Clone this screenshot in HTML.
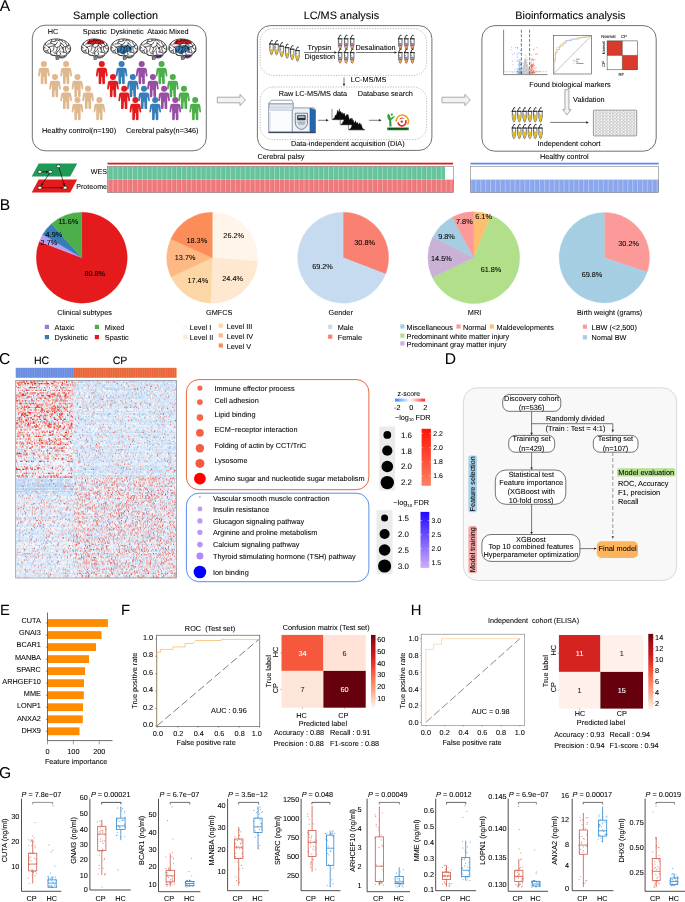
<!DOCTYPE html>
<html><head><meta charset="utf-8"><title>Figure</title>
<style>
html,body{margin:0;padding:0;background:#fff;}
body{width:685px;height:902px;overflow:hidden;}
svg{display:block;}
svg text{font-family:"Liberation Sans",Arial,Helvetica,sans-serif;text-rendering:geometricPrecision;}
</style></head><body>
<svg width="685" height="902" viewBox="0 0 685 902">
<rect x="0" y="0" width="685" height="902" fill="#ffffff"/>
<text x="-0.3" y="10.8" font-size="15.6" fill="#000" stroke="#000" stroke-width="0.05" >A</text>
<text x="115.6" y="19.1" font-size="10.85" text-anchor="middle" fill="#000" stroke="#000" stroke-width="0.072" >Sample collection</text>
<text x="341.4" y="19.1" font-size="10.85" text-anchor="middle" fill="#000" stroke="#000" stroke-width="0.072" >LC/MS analysis</text>
<text x="570.4" y="19.1" font-size="10.85" text-anchor="middle" fill="#000" stroke="#000" stroke-width="0.072" >Bioinformatics analysis</text>
<rect x="32.3" y="25.2" width="174" height="125.6" rx="13" fill="#fff" stroke="#4d4d4d" stroke-width="0.8" />
<rect x="257.4" y="25.6" width="174.5" height="124.8" rx="13" fill="#fff" stroke="#4d4d4d" stroke-width="0.8" />
<rect x="481.9" y="25.6" width="174.3" height="125.6" rx="13" fill="#fff" stroke="#4d4d4d" stroke-width="0.8" />
<path d="M217.3 97.2 L240 97.2 L240 94.3 L245.4 100 L240 105.7 L240 102.8 L217.3 102.8 Z" fill="#f2f2f2" stroke="#8a8a8a" stroke-width="0.7" />
<path d="M442 97.2 L464.9 97.2 L464.9 94.3 L470.3 100 L464.9 105.7 L464.9 102.8 L442 102.8 Z" fill="#f2f2f2" stroke="#8a8a8a" stroke-width="0.7" />
<defs>
<g id="person" transform="translate(0 -0.35) scale(1.06)"><circle cx="0" cy="0" r="2.85"/><path d="M-2.9 3.5 Q-4.6 3.5 -4.8 5.2 L-5.5 10.8 Q-5.6 11.8 -4.7 11.8 Q-4 11.8 -3.9 11 L-3.1 6.8 L-2.95 12 L-2.95 18.2 Q-2.95 19.1 -1.8 19.1 Q-0.6 19.1 -0.5 18.2 L-0.3 12.2 L0.3 12.2 L0.5 18.2 Q0.6 19.1 1.8 19.1 Q2.95 19.1 2.95 18.2 L2.95 12 L3.1 6.8 L3.9 11 Q4 11.8 4.7 11.8 Q5.6 11.8 5.5 10.8 L4.8 5.2 Q4.6 3.5 2.9 3.5 Z"/></g>
<g id="brainbase"><path d="M-13.6 1.5 C-14.2 -4 -9 -8.6 -1.5 -8.8 C6 -9 12.8 -5.5 13.6 0.5 C14 3.6 12 5.8 9.8 6.4 C9.8 8.6 7.4 10.3 4.8 10.3 C3.6 10.3 2.8 9.9 2.2 9.3 L1.8 11.4 L-0.8 11.8 L-1.2 7.8 C-4 8.4 -6.5 7.2 -7.5 5.6 C-10.5 5.8 -13.2 4.4 -13.6 1.5 Z" fill="#fff" stroke="#111" stroke-width="0.7"/></g>
<clipPath id="bclip"><path d="M-13.6 1.5 C-14.2 -4 -9 -8.6 -1.5 -8.8 C6 -9 12.8 -5.5 13.6 0.5 C14 3.6 12 5.8 9.8 6.4 C9.8 8.6 7.4 10.3 4.8 10.3 C3.6 10.3 2.8 9.9 2.2 9.3 L1.8 11.4 L-0.8 11.8 L-1.2 7.8 C-4 8.4 -6.5 7.2 -7.5 5.6 C-10.5 5.8 -13.2 4.4 -13.6 1.5 Z"/></clipPath><g id="brainlines" fill="none" stroke="#111" stroke-width="0.7" clip-path="url(#bclip)"><path d="M-11.9 -10.0Q-14.1 -9.5 -16.3 -8.9M-10.5 -12.3Q-11.6 -9.9 -10.7 -7.5M-10.4 -10.5Q-8.1 -9.1 -5.4 -9.0M-2.2 -9.2Q-4.7 -9.3 -7.1 -8.7M-1.0 -11.9Q-0.1 -10.0 -1.4 -8.2M1.9 -12.3Q1.0 -9.9 2.4 -7.8M5.8 -11.8Q6.0 -9.3 5.8 -6.9M11.5 -8.9Q8.8 -9.7 6.2 -8.9M11.0 -11.3Q11.4 -9.2 13.3 -8.4M-13.5 -8.8Q-13.7 -5.7 -11.6 -3.6M-7.5 -7.6Q-10.2 -8.6 -11.9 -6.3M-4.9 -9.5Q-5.2 -6.8 -6.9 -4.7M-0.5 -7.1Q-2.8 -5.4 -5.5 -6.5M-2.1 -7.6Q0.7 -8.2 3.0 -6.6M2.1 -8.1Q4.9 -7.8 6.3 -5.2M7.1 -9.0Q8.4 -7.3 8.1 -5.1M9.7 -8.4Q12.1 -6.8 12.8 -4.0M14.7 -7.9Q12.3 -6.9 13.1 -4.5M-12.7 -5.4Q-13.9 -3.4 -16.0 -2.6M-10.7 -6.2Q-11.6 -4.3 -11.7 -2.2M-5.3 -4.0Q-7.6 -4.0 -9.8 -3.5M-6.1 -5.3Q-4.2 -3.1 -1.3 -2.8M0.8 -6.1Q-0.3 -3.3 -3.0 -2.1M3.8 -5.3Q4.4 -2.8 2.3 -1.1M3.4 -4.9Q5.8 -3.8 7.1 -1.4M8.3 -5.2Q8.9 -3.1 10.7 -2.0M12.4 -6.6Q11.5 -4.1 11.4 -1.4M-14.1 -1.4Q-12.2 -1.0 -11.2 0.8M-11.0 -2.5Q-9.3 -1.1 -7.3 -0.2M-3.6 -1.9Q-6.4 -1.5 -8.9 -0.0M-3.9 -1.5Q-1.5 -2.3 -0.6 0.1M3.1 -0.8Q1.2 -1.0 -0.5 -0.3M2.6 -2.9Q5.4 -1.3 5.6 1.8M9.9 -1.3Q7.2 -1.2 5.0 0.3M9.9 -2.5Q9.8 0.3 12.2 1.9M16.6 -2.5Q14.3 -1.1 12.3 0.7M-13.2 -0.4Q-12.4 2.3 -14.5 4.3M-8.2 1.8Q-10.4 3.1 -12.9 3.6M-7.6 -0.4Q-5.6 1.9 -6.6 4.8M-3.1 -0.6Q-2.9 1.8 -4.5 3.7M0.4 -0.4Q0.3 2.4 -1.5 4.6M3.0 0.2Q2.9 2.5 0.9 3.6M5.8 -0.4Q6.9 2.2 6.8 4.9M8.7 -0.8Q7.8 2.1 9.9 4.3M13.4 -0.1Q14.1 2.3 12.3 4.0M-10.2 4.3Q-13.1 4.0 -14.6 6.6M-9.7 2.6Q-8.4 4.4 -9.0 6.7M-5.9 3.0Q-7.1 5.2 -5.9 7.3M-3.7 4.5Q-2.2 6.2 -0.1 5.4M0.7 3.2Q-0.8 5.0 -0.2 7.3M3.3 2.8Q2.3 4.7 3.8 6.4M4.7 4.2Q7.1 4.4 9.5 4.9M13.1 3.6Q10.5 4.6 8.6 6.8M12.1 4.0Q13.7 4.9 15.2 5.9M-15.2 5.9Q-14.3 8.0 -12.3 9.1M-9.1 6.5Q-11.4 7.3 -12.3 9.6M-4.4 6.9Q-6.6 8.7 -9.4 7.9M-2.1 7.4Q-4.2 7.8 -6.2 8.7M1.9 7.9Q-0.4 7.7 -2.6 8.7M4.2 6.8Q1.7 7.5 0.1 9.5M8.2 8.2Q5.4 8.2 2.7 8.6M12.0 6.9Q9.6 8.2 6.9 8.4M12.3 5.3Q11.9 7.8 11.5 10.4"/><path d="M2 8.2 C3.4 9.8 5.5 9.8 7.2 8.6 M2.3 9.2 C3.6 10.4 5 10.3 6.2 9.6 M-0.6 8.5 L1.7 8.3 M-0.7 9.6 L1.6 9.4 M-0.8 10.6 L1.6 10.4" stroke-width="0.5"/></g>
<g id="tube"><path d="M-1.7 0 L1.7 0 L1.7 6.2 L0.6 10.2 Q0 11.1 -0.6 10.2 L-1.7 6.2 Z" fill="#fff" stroke="#111" stroke-width="0.6"/><path d="M-2.4 0 L2.4 0" stroke="#111" stroke-width="0.75"/><path d="M-2 0.2 L0.1 -3.7 L1.3 -3.3" fill="none" stroke="#111" stroke-width="0.85" stroke-linejoin="round"/><path d="M-1.7 3 L-0.4 3" stroke="#111" stroke-width="0.4"/></g>
</defs>
<g transform="translate(57 47.7)">
<use href="#brainbase"/>
<use href="#brainlines"/>
</g>
<g transform="translate(95 47.7)">
<use href="#brainbase"/>
<path d="M-8.4 -4.6 C-7.5 -8 -2 -9 1 -8.7 C5 -8.5 9 -7 9.4 -4.8 C9 -3 4.5 -3.6 1 -3.8 C-2.5 -4 -7.6 -2.6 -8.4 -4.6 Z" fill="#e41a1c"/>
<use href="#brainlines"/>
</g>
<g transform="translate(124.3 47.7)">
<use href="#brainbase"/>
<path d="M-7.6 2.4 C-7.8 -0.8 -4 -2.3 -0.6 -2.1 C2.3 -3.2 7.1 -2.5 7.6 0.5 C8 2.8 5.2 4.2 2.9 4.2 C1.2 6.3 -2.9 6.5 -4.8 5.4 C-6.7 4.9 -7.6 4 -7.6 2.4 Z" fill="#377eb8"/>
<use href="#brainlines"/>
</g>
<g transform="translate(153.3 47.7)">
<use href="#brainbase"/>
<path d="M2 7.6 C3.4 6.6 7 6.5 9 7 C9 8.6 7.2 9.8 4.9 9.8 C3.2 9.8 2 8.9 2 7.6 Z" fill="#8e44ad"/>
<use href="#brainlines"/>
</g>
<g transform="translate(182.4 47.7)">
<use href="#brainbase"/>
<path d="M-8.4 -4.6 C-7.5 -8 -2 -9 1 -8.7 C5 -8.5 9 -7 9.4 -4.8 C9 -3 4.5 -3.6 1 -3.8 C-2.5 -4 -7.6 -2.6 -8.4 -4.6 Z" fill="#e41a1c"/>
<path d="M-7.6 2.4 C-7.8 -0.8 -4 -2.3 -0.6 -2.1 C2.3 -3.2 7.1 -2.5 7.6 0.5 C8 2.8 5.2 4.2 2.9 4.2 C1.2 6.3 -2.9 6.5 -4.8 5.4 C-6.7 4.9 -7.6 4 -7.6 2.4 Z" fill="#377eb8"/>
<path d="M2 7.6 C3.4 6.6 7 6.5 9 7 C9 8.6 7.2 9.8 4.9 9.8 C3.2 9.8 2 8.9 2 7.6 Z" fill="#8e44ad"/>
<use href="#brainlines"/>
</g>
<text x="52.9" y="33.9" font-size="7.3" text-anchor="middle" fill="#000" stroke="#000" stroke-width="0.06" >HC</text>
<text x="94.8" y="33.9" font-size="7.3" text-anchor="middle" fill="#000" stroke="#000" stroke-width="0.06" >Spastic</text>
<text x="127" y="33.9" font-size="7.3" text-anchor="middle" fill="#000" stroke="#000" stroke-width="0.06" >Dyskinetic</text>
<text x="157.2" y="33.9" font-size="7.3" text-anchor="middle" fill="#000" stroke="#000" stroke-width="0.06" >Ataxic</text>
<text x="178.8" y="33.9" font-size="7.3" text-anchor="middle" fill="#000" stroke="#000" stroke-width="0.06" >Mixed</text>
<use href="#person" x="43.9" y="64.4" fill="#dfb88f"/>
<use href="#person" x="66.1" y="64.4" fill="#dfb88f"/>
<use href="#person" x="55" y="77.4" fill="#dfb88f"/>
<use href="#person" x="77.5" y="77.4" fill="#dfb88f"/>
<use href="#person" x="66.1" y="89.2" fill="#dfb88f"/>
<use href="#person" x="88" y="89.2" fill="#dfb88f"/>
<use href="#person" x="77.5" y="100.3" fill="#dfb88f"/>
<use href="#person" x="99.4" y="100.3" fill="#dfb88f"/>
<use href="#person" x="101.8" y="64.4" fill="#e41a1c"/>
<use href="#person" x="121.6" y="64.4" fill="#377eb8"/>
<use href="#person" x="141.7" y="64.4" fill="#984ea3"/>
<use href="#person" x="161.6" y="64.4" fill="#4daf4a"/>
<use href="#person" x="113" y="77.4" fill="#e41a1c"/>
<use href="#person" x="132.8" y="77.4" fill="#377eb8"/>
<use href="#person" x="152.9" y="77.4" fill="#984ea3"/>
<use href="#person" x="172.8" y="77.4" fill="#4daf4a"/>
<use href="#person" x="124.2" y="89.2" fill="#e41a1c"/>
<use href="#person" x="144" y="89.2" fill="#377eb8"/>
<use href="#person" x="164.1" y="89.2" fill="#984ea3"/>
<use href="#person" x="184" y="89.2" fill="#4daf4a"/>
<use href="#person" x="135.4" y="100.3" fill="#e41a1c"/>
<use href="#person" x="155.2" y="100.3" fill="#377eb8"/>
<use href="#person" x="175.3" y="100.3" fill="#984ea3"/>
<use href="#person" x="195.2" y="100.3" fill="#4daf4a"/>
<text x="79.1" y="133" font-size="7.3" text-anchor="middle" fill="#000" stroke="#000" stroke-width="0.06" >Healthy control(n=190)</text>
<text x="162.3" y="133" font-size="7.3" text-anchor="middle" fill="#000" stroke="#000" stroke-width="0.06" >Cerebral palsy(n=346)</text>
<rect x="260.2" y="28.6" width="166.4" height="46.8" rx="13" fill="none" stroke="#8c8c8c" stroke-width="0.6" stroke-dasharray="1.2 1.4"/>
<rect x="260.2" y="87" width="166.4" height="52.6" rx="13" fill="none" stroke="#8c8c8c" stroke-width="0.6" stroke-dasharray="1.2 1.4"/>
<g transform="translate(271.5 44)">
<use href="#tube"/>
<path d="M-1.5 5 L1.5 5 L1.5 6.3 L0.5 9.9 Q0 10.6 -0.5 9.9 L-1.5 6.3 Z" fill="#e3bd22"/>
</g>
<g transform="translate(276.6 44.2)">
<use href="#tube"/>
<path d="M-1.5 5 L1.5 5 L1.5 6.3 L0.5 9.9 Q0 10.6 -0.5 9.9 L-1.5 6.3 Z" fill="#e3bd22"/>
</g>
<g transform="translate(281.7 46.2)">
<use href="#tube"/>
<path d="M-1.5 5 L1.5 5 L1.5 6.3 L0.5 9.9 Q0 10.6 -0.5 9.9 L-1.5 6.3 Z" fill="#e3bd22"/>
</g>
<g transform="translate(287.1 47.7)">
<use href="#tube"/>
<path d="M-1.5 5 L1.5 5 L1.5 6.3 L0.5 9.9 Q0 10.6 -0.5 9.9 L-1.5 6.3 Z" fill="#e3bd22"/>
</g>
<g transform="translate(292.2 49.2)">
<use href="#tube"/>
<path d="M-1.5 5 L1.5 5 L1.5 6.3 L0.5 9.9 Q0 10.6 -0.5 9.9 L-1.5 6.3 Z" fill="#e3bd22"/>
</g>
<g transform="translate(297.5 50.6)">
<use href="#tube"/>
<path d="M-1.5 5 L1.5 5 L1.5 6.3 L0.5 9.9 Q0 10.6 -0.5 9.9 L-1.5 6.3 Z" fill="#e3bd22"/>
</g>
<g transform="translate(340.1 38.8)">
<use href="#tube"/>
<path d="M-1.5 4.2 L1.5 4.2 L1.5 5.8 L-1.5 5.8 Z" fill="#27b5a5"/>
<path d="M-1.5 5.8 L1.5 5.8 L1.5 6.4 L1.2 7.6 L-1.2 7.6 L-1.5 6.4 Z" fill="#d63aa0"/>
<path d="M-1.2 7.6 L1.2 7.6 L0.5 9.9 Q0 10.6 -0.5 9.9 Z" fill="#f0a428"/>
</g>
<g transform="translate(346.15 38.8)">
<use href="#tube"/>
<path d="M-1.5 4.2 L1.5 4.2 L1.5 5.8 L-1.5 5.8 Z" fill="#27b5a5"/>
<path d="M-1.5 5.8 L1.5 5.8 L1.5 6.4 L1.2 7.6 L-1.2 7.6 L-1.5 6.4 Z" fill="#d63aa0"/>
<path d="M-1.2 7.6 L1.2 7.6 L0.5 9.9 Q0 10.6 -0.5 9.9 Z" fill="#f0a428"/>
</g>
<g transform="translate(352.2 38.8)">
<use href="#tube"/>
<path d="M-1.5 4.2 L1.5 4.2 L1.5 5.8 L-1.5 5.8 Z" fill="#27b5a5"/>
<path d="M-1.5 5.8 L1.5 5.8 L1.5 6.4 L1.2 7.6 L-1.2 7.6 L-1.5 6.4 Z" fill="#d63aa0"/>
<path d="M-1.2 7.6 L1.2 7.6 L0.5 9.9 Q0 10.6 -0.5 9.9 Z" fill="#f0a428"/>
</g>
<g transform="translate(340.1 52.6)">
<use href="#tube"/>
<path d="M-1.5 4.2 L1.5 4.2 L1.5 5.8 L-1.5 5.8 Z" fill="#27b5a5"/>
<path d="M-1.5 5.8 L1.5 5.8 L1.5 6.4 L1.2 7.6 L-1.2 7.6 L-1.5 6.4 Z" fill="#d63aa0"/>
<path d="M-1.2 7.6 L1.2 7.6 L0.5 9.9 Q0 10.6 -0.5 9.9 Z" fill="#f0a428"/>
</g>
<g transform="translate(346.15 52.6)">
<use href="#tube"/>
<path d="M-1.5 4.2 L1.5 4.2 L1.5 5.8 L-1.5 5.8 Z" fill="#27b5a5"/>
<path d="M-1.5 5.8 L1.5 5.8 L1.5 6.4 L1.2 7.6 L-1.2 7.6 L-1.5 6.4 Z" fill="#d63aa0"/>
<path d="M-1.2 7.6 L1.2 7.6 L0.5 9.9 Q0 10.6 -0.5 9.9 Z" fill="#f0a428"/>
</g>
<g transform="translate(352.2 52.6)">
<use href="#tube"/>
<path d="M-1.5 4.2 L1.5 4.2 L1.5 5.8 L-1.5 5.8 Z" fill="#27b5a5"/>
<path d="M-1.5 5.8 L1.5 5.8 L1.5 6.4 L1.2 7.6 L-1.2 7.6 L-1.5 6.4 Z" fill="#d63aa0"/>
<path d="M-1.2 7.6 L1.2 7.6 L0.5 9.9 Q0 10.6 -0.5 9.9 Z" fill="#f0a428"/>
</g>
<g transform="translate(400.3 38.8)">
<use href="#tube"/>
<path d="M-1.5 4.2 L1.5 4.2 L1.5 5.8 L-1.5 5.8 Z" fill="#27b5a5"/>
<path d="M-1.5 5.8 L1.5 5.8 L1.5 6.4 L1.2 7.6 L-1.2 7.6 L-1.5 6.4 Z" fill="#d63aa0"/>
<path d="M-1.2 7.6 L1.2 7.6 L0.5 9.9 Q0 10.6 -0.5 9.9 Z" fill="#f0a428"/>
</g>
<g transform="translate(406.35 38.8)">
<use href="#tube"/>
<path d="M-1.5 4.2 L1.5 4.2 L1.5 5.8 L-1.5 5.8 Z" fill="#27b5a5"/>
<path d="M-1.5 5.8 L1.5 5.8 L1.5 6.4 L1.2 7.6 L-1.2 7.6 L-1.5 6.4 Z" fill="#d63aa0"/>
<path d="M-1.2 7.6 L1.2 7.6 L0.5 9.9 Q0 10.6 -0.5 9.9 Z" fill="#f0a428"/>
</g>
<g transform="translate(412.4 38.8)">
<use href="#tube"/>
<path d="M-1.5 4.2 L1.5 4.2 L1.5 5.8 L-1.5 5.8 Z" fill="#27b5a5"/>
<path d="M-1.5 5.8 L1.5 5.8 L1.5 6.4 L1.2 7.6 L-1.2 7.6 L-1.5 6.4 Z" fill="#d63aa0"/>
<path d="M-1.2 7.6 L1.2 7.6 L0.5 9.9 Q0 10.6 -0.5 9.9 Z" fill="#f0a428"/>
</g>
<g transform="translate(400.3 52.6)">
<use href="#tube"/>
<path d="M-1.5 4.2 L1.5 4.2 L1.5 5.8 L-1.5 5.8 Z" fill="#27b5a5"/>
<path d="M-1.5 5.8 L1.5 5.8 L1.5 6.4 L1.2 7.6 L-1.2 7.6 L-1.5 6.4 Z" fill="#d63aa0"/>
<path d="M-1.2 7.6 L1.2 7.6 L0.5 9.9 Q0 10.6 -0.5 9.9 Z" fill="#f0a428"/>
</g>
<g transform="translate(406.35 52.6)">
<use href="#tube"/>
<path d="M-1.5 4.2 L1.5 4.2 L1.5 5.8 L-1.5 5.8 Z" fill="#27b5a5"/>
<path d="M-1.5 5.8 L1.5 5.8 L1.5 6.4 L1.2 7.6 L-1.2 7.6 L-1.5 6.4 Z" fill="#d63aa0"/>
<path d="M-1.2 7.6 L1.2 7.6 L0.5 9.9 Q0 10.6 -0.5 9.9 Z" fill="#f0a428"/>
</g>
<g transform="translate(412.4 52.6)">
<use href="#tube"/>
<path d="M-1.5 4.2 L1.5 4.2 L1.5 5.8 L-1.5 5.8 Z" fill="#27b5a5"/>
<path d="M-1.5 5.8 L1.5 5.8 L1.5 6.4 L1.2 7.6 L-1.2 7.6 L-1.5 6.4 Z" fill="#d63aa0"/>
<path d="M-1.2 7.6 L1.2 7.6 L0.5 9.9 Q0 10.6 -0.5 9.9 Z" fill="#f0a428"/>
</g>
<text x="319.4" y="49.6" font-size="7.3" text-anchor="middle" fill="#000" stroke="#000" stroke-width="0.06" >Trypsin</text>
<text x="319.8" y="59.4" font-size="7.3" text-anchor="middle" fill="#000" stroke="#000" stroke-width="0.06" >Digestion</text>
<line x1="304" y1="52.5" x2="335.5" y2="52.5" stroke="#222" stroke-width="0.6" />
<polygon points="337.2,52.5 334.32,51.15 334.32,53.85" fill="#222"/>
<text x="375.6" y="50.2" font-size="7.3" text-anchor="middle" fill="#000" stroke="#000" stroke-width="0.06" >Desalination</text>
<line x1="356" y1="52.5" x2="395.5" y2="52.5" stroke="#222" stroke-width="0.6" />
<polygon points="397,52.5 394.44,51.3 394.44,53.7" fill="#222"/>
<line x1="344" y1="77.5" x2="344" y2="84.5" stroke="#222" stroke-width="0.6" />
<polygon points="344,86.2 342.8,83.64 345.2,83.64" fill="#222"/>
<text x="350.7" y="82.2" font-size="7.3" fill="#000" stroke="#000" stroke-width="0.06" >LC-MS/MS</text>
<text x="312.9" y="95.9" font-size="7.3" text-anchor="middle" fill="#000" stroke="#000" stroke-width="0.06" >Raw LC-MS/MS data</text>
<text x="385.3" y="95.9" font-size="7.3" text-anchor="middle" fill="#000" stroke="#000" stroke-width="0.06" >Database search</text>
<text x="347.8" y="146.2" font-size="7.3" text-anchor="middle" fill="#000" stroke="#000" stroke-width="0.06" >Data-independent acquisition (DIA)</text>
<g>
<path d="M268.6 103.5 L271.5 100.2 L292 100.2 L293.4 103.5 L293.4 132.8 L268.6 132.8 Z" fill="#fbfcfe" stroke="#5b6c80" stroke-width="0.6" />
<path d="M268.6 103.5 L293.4 103.5" fill="none" stroke="#5b6c80" stroke-width="0.5" />
<rect x="269.3" y="104.6" width="23.4" height="3.4" rx="0" fill="#dfe6ef" stroke="#7c8da3" stroke-width="0.4" />
<rect x="269.3" y="109.2" width="23.4" height="1.6" rx="0" fill="#c9d3e0" stroke="none" stroke-width="1" />
<path d="M270 112 L270 131.5 M292.6 112 L292.6 131.5" fill="none" stroke="#9fb0c4" stroke-width="0.5" />
<rect x="268.6" y="131.6" width="24.8" height="1.4" rx="0" fill="#3d4a5c" stroke="none" stroke-width="1" />
<path d="M292.2 110 L294.5 107.9 L314 107.9 L315.3 110 L315.3 132.8 L292.2 132.8 Z" fill="#eef2f7" stroke="#4b5a6e" stroke-width="0.6" />
<path d="M309.9 108 L315.3 110 L315.3 132.8 L309.9 132.8 Z" fill="#2467b0" stroke="#1d4f8a" stroke-width="0.4" />
<path d="M295.3 113.2 L307.5 113.2 L307.5 123 Q307.3 127.8 301.4 129.6 Q295.5 127.8 295.3 123 Z" fill="#dfe5ec" stroke="#39465a" stroke-width="0.6" />
<rect x="297.2" y="115.2" width="8.4" height="5" rx="0.6" fill="#27303d" stroke="none" stroke-width="1" />
<rect x="298.2" y="116.2" width="6.4" height="1.6" rx="0" fill="#c9d3e0" stroke="none" stroke-width="1" />
<path d="M297.6 122.2 L305.2 122.2 M298.2 124 L304.6 124" fill="none" stroke="#39465a" stroke-width="0.5" />
<rect x="292.2" y="131.6" width="23.1" height="1.4" rx="0" fill="#3d4a5c" stroke="none" stroke-width="1" />
</g>
<line x1="318" y1="120.3" x2="327" y2="120.3" stroke="#222" stroke-width="0.6" />
<polygon points="328.8,120.3 326.08,119.025 326.08,121.575" fill="#222"/>
<line x1="369" y1="120.3" x2="379.8" y2="120.3" stroke="#222" stroke-width="0.6" />
<polygon points="381.6,120.3 378.88,119.025 378.88,121.575" fill="#222"/>
<path d="M332 109 L332 119.6 L348.5 119.6" fill="none" stroke="#222" stroke-width="0.5" />
<path d="M332.8 119.6 L332.8 119.0 L333.4 118.5 L334.0 118.4 L334.6 117.6 L335.2 115.6 L335.8 114.9 L336.4 115.0 L336.9 113.3 L337.5 110.2 L338.1 111.1 L338.7 112.6 L339.3 108.7 L339.9 112.5 L340.5 111.2 L341.1 112.2 L341.7 113.4 L342.3 112.3 L342.9 114.6 L343.5 113.2 L344.1 114.8 L344.6 113.1 L345.2 116.3 L345.8 116.9 L346.4 117.9 L347.0 118.8 L347.6 119.4 L348.2 119.5 L348.2 119.6 Z" fill="#0a0a0a" stroke="#0a0a0a" stroke-width="0.3" />
<path d="M340.2 114.1 L340.2 124.7 L356.7 124.7" fill="none" stroke="#222" stroke-width="0.5" />
<path d="M341 124.7 L341.0 124.2 L341.6 123.9 L342.2 123.4 L342.8 122.0 L343.4 121.4 L344.0 119.9 L344.6 119.0 L345.1 118.3 L345.7 115.8 L346.3 115.6 L346.9 114.2 L347.5 114.8 L348.1 114.6 L348.7 117.1 L349.3 118.9 L349.9 119.5 L350.5 118.1 L351.1 119.7 L351.7 118.1 L352.3 118.4 L352.8 120.6 L353.4 120.1 L354.0 122.7 L354.6 122.9 L355.2 123.9 L355.8 124.5 L356.4 124.6 L356.4 124.7 Z" fill="#0a0a0a" stroke="#0a0a0a" stroke-width="0.3" />
<path d="M348.4 119.2 L348.4 129.8 L364.9 129.8" fill="none" stroke="#222" stroke-width="0.5" />
<path d="M349.2 129.8 L349.2 129.2 L349.8 129.1 L350.4 128.5 L351.0 127.9 L351.6 126.2 L352.2 125.1 L352.8 123.1 L353.3 124.4 L353.9 122.2 L354.5 123.1 L355.1 121.9 L355.7 120.6 L356.3 123.2 L356.9 123.1 L357.5 122.3 L358.1 123.4 L358.7 124.7 L359.3 123.6 L359.9 122.7 L360.5 125.3 L361.0 123.8 L361.6 125.4 L362.2 127.4 L362.8 128.6 L363.4 128.9 L364.0 129.5 L364.6 129.7 L364.6 129.8 Z" fill="#0a0a0a" stroke="#0a0a0a" stroke-width="0.3" />
<g>
<path d="M388.6 113.4 C389.8 115 390.6 116.6 390.8 118.4 C392 116.8 393.6 116 395.2 116.2 C394 117.6 392.6 118.8 391.2 120 L391.6 126.6 L389.4 126.6 L389.2 120.6 C388.2 119.4 387.4 117.6 387.2 115.8 Z" fill="#2f9e3a" stroke="none" stroke-width="0.7" />
<circle cx="391.8" cy="114.6" r="1.1" fill="#2f9e3a" stroke="none" stroke-width="0" />
<path d="M396.2 121.8 A6.2 6.2 0 1 1 407.6 124.6" fill="none" stroke="#e8a21a" stroke-width="1.5" />
<path d="M398 122.4 A4 4 0 1 0 405.6 120.2" fill="none" stroke="#d92b1f" stroke-width="1.6" />
<path d="M399.8 119 Q401.6 117 403.6 118.6" fill="none" stroke="#d92b1f" stroke-width="1" />
<circle cx="401.8" cy="121.6" r="1.2" fill="#d92b1f" stroke="none" stroke-width="0" />
<rect x="387.2" y="127.4" width="21.6" height="2.8" rx="0.4" fill="#1d7a2c" stroke="none" stroke-width="1" />
<path d="M389 128.8 L407 128.8" fill="none" stroke="#0c2b12" stroke-width="1.1" stroke-dasharray="1.4 0.5"/>
</g>
<path d="M503.6 29.7 L503.6 74.6 L547.6 74.6" fill="none" stroke="#333" stroke-width="0.6" />
<line x1="503.6" y1="71.7" x2="547.6" y2="71.7" stroke="#9a9a9a" stroke-width="0.5" stroke-dasharray="1.6 1"/>
<path d="M519.5 74 C521.5 73 523 66 524.2 60.5 C525 57 526 57 526.8 60.5 C528 66 529.6 73 531.8 74 Z" fill="#d4d4d4" stroke="none" stroke-width="0.7" />
<path d="M525.8 69.9h.8M529.5 69.1h.8M524.7 74.0h.8M524.7 60.8h.8M525.4 55.4h.8M527.8 69.5h.8M527.4 66.3h.8M522.4 73.3h.8M521.2 70.3h.8M520.7 68.4h.8M524.9 62.2h.8M524.5 66.4h.8M525.2 59.1h.8M526.3 68.4h.8M524.2 64.2h.8M519.1 69.4h.8M521.0 71.2h.8M529.0 63.6h.8M526.5 73.2h.8M524.5 72.3h.8M528.8 68.1h.8M524.8 71.1h.8M522.3 71.5h.8M525.4 65.6h.8M519.5 70.5h.8M522.0 63.7h.8M531.6 70.7h.8M517.8 73.8h.8M530.8 67.4h.8M519.1 71.7h.8M525.0 60.4h.8M523.4 67.7h.8M525.2 59.4h.8M526.6 57.7h.8M530.4 71.7h.8M528.5 73.3h.8M524.0 61.1h.8M530.8 73.9h.8M524.8 63.4h.8M524.9 70.6h.8M532.1 72.2h.8M519.4 68.1h.8M525.0 65.6h.8M526.7 73.9h.8M526.6 66.0h.8M528.6 73.2h.8M531.7 73.0h.8M527.2 59.6h.8M528.0 69.7h.8M523.6 68.4h.8M522.8 68.4h.8M522.1 68.2h.8M529.0 70.8h.8M524.1 64.2h.8M525.7 56.1h.8M528.2 69.0h.8M525.0 69.2h.8M525.4 65.7h.8M529.9 69.2h.8M526.1 73.7h.8M523.0 66.3h.8M522.9 71.2h.8M524.1 73.9h.8M520.5 73.9h.8M521.8 72.6h.8M518.1 73.0h.8M523.2 70.9h.8M524.0 71.3h.8M522.6 71.9h.8M528.7 71.2h.8M525.6 65.9h.8M524.8 63.0h.8M524.7 61.6h.8M527.6 72.3h.8M526.8 64.5h.8M528.7 73.6h.8M524.2 61.6h.8M528.1 70.1h.8M526.7 70.8h.8M524.0 65.8h.8M528.1 72.6h.8M523.2 73.4h.8M523.5 63.4h.8M525.1 60.0h.8M526.5 61.8h.8M527.9 66.8h.8M526.5 73.2h.8M522.7 71.9h.8M526.2 70.4h.8M523.1 70.3h.8" fill="none" stroke="#bdbdbd" stroke-width="0.8" />
<path d="M516.9 47.6h.8M518.6 72.3h.8M510.6 49.7h.8M520.4 43.9h.8M511.3 47.2h.8M516.6 71.5h.8M520.5 59.5h.8M512.7 64.6h.8M519.8 71.4h.8M517.0 73.0h.8M517.8 53.1h.8M518.9 73.1h.8M515.4 47.4h.8M517.0 48.8h.8M516.2 73.2h.8M517.5 56.0h.8M519.0 59.5h.8M517.6 64.4h.8M512.2 61.4h.8M515.6 69.3h.8M520.6 65.8h.8M512.3 54.4h.8M519.0 64.1h.8M518.5 52.8h.8M517.2 47.5h.8M514.2 53.3h.8M520.5 60.8h.8M520.2 50.5h.8M517.5 70.7h.8M519.7 64.3h.8M516.5 54.6h.8M518.5 73.2h.8M518.6 72.6h.8M520.0 73.0h.8M512.6 72.9h.8M519.4 65.1h.8M519.2 69.1h.8M517.4 60.1h.8M517.3 71.9h.8M518.6 69.6h.8M516.9 57.3h.8M516.9 68.4h.8M518.4 68.6h.8M519.4 61.7h.8M519.9 53.5h.8M516.7 61.0h.8M519.5 68.2h.8M520.3 65.2h.8M518.7 68.7h.8M519.7 71.3h.8M518.4 73.0h.8M520.4 69.1h.8M517.9 61.5h.8M519.4 69.8h.8M518.6 71.1h.8M519.2 68.6h.8M518.8 65.8h.8M518.8 62.3h.8M520.3 64.7h.8M518.6 67.2h.8M519.2 73.4h.8M519.6 72.4h.8M520.9 72.8h.8M520.5 72.8h.8M520.2 73.3h.8M520.3 63.0h.8M518.6 65.6h.8M518.7 63.1h.8M518.9 63.7h.8M520.3 73.2h.8M520.8 65.0h.8M519.0 72.7h.8M521.0 73.1h.8M517.0 70.4h.8M518.1 71.3h.8M519.8 72.0h.8M521.0 64.4h.8M518.6 69.5h.8M519.9 70.1h.8M519.7 69.2h.8M519.3 60.9h.8M520.0 69.3h.8M521.0 65.4h.8M520.0 64.4h.8M520.1 68.3h.8M519.2 66.1h.8" fill="none" stroke="#5b8fe8" stroke-width="0.8" stroke-opacity="0.85"/>
<path d="M532.1 73.0h.8M531.7 58.6h.8M534.5 68.1h.8M532.7 59.8h.8M531.5 72.2h.8M533.2 64.3h.8M531.5 60.8h.8M533.0 49.6h.8M532.1 68.8h.8M536.3 54.3h.8M533.0 72.0h.8M531.9 73.2h.8M534.2 72.4h.8M530.8 69.8h.8M533.3 72.7h.8M536.5 47.7h.8M535.7 67.5h.8M531.0 55.1h.8M532.5 67.2h.8M534.9 59.7h.8M532.8 59.2h.8M533.5 49.2h.8M533.1 71.8h.8M530.9 59.8h.8M534.9 54.2h.8M539.3 71.7h.8M531.4 72.3h.8M533.2 60.3h.8M535.7 71.5h.8M537.0 53.7h.8M531.9 59.4h.8M534.2 73.0h.8M536.6 71.0h.8M534.5 69.9h.8M535.6 73.2h.8M533.2 70.3h.8M534.5 72.1h.8M532.1 64.3h.8M534.1 65.5h.8M531.4 72.8h.8M530.6 72.7h.8M533.0 63.1h.8M530.9 62.3h.8M530.7 70.1h.8M530.6 70.9h.8M533.4 66.2h.8M532.2 71.3h.8M533.0 65.1h.8M533.0 68.1h.8M530.9 72.7h.8M532.0 65.6h.8M530.3 66.2h.8M531.3 66.6h.8M530.7 66.8h.8M531.9 66.5h.8M533.8 72.6h.8M531.2 70.5h.8M530.6 65.6h.8M532.2 66.6h.8M531.6 69.1h.8M530.7 73.0h.8M531.3 65.6h.8M530.3 65.3h.8M532.6 70.2h.8M530.4 63.3h.8M532.1 73.2h.8M531.6 64.9h.8M530.2 70.3h.8M531.2 68.0h.8M531.9 64.8h.8M532.4 72.7h.8M533.1 71.2h.8M531.0 64.7h.8M530.7 65.5h.8M530.7 69.6h.8M531.3 65.2h.8M531.5 67.3h.8M533.1 72.4h.8M531.2 68.2h.8M530.9 67.6h.8" fill="none" stroke="#e8553a" stroke-width="0.8" stroke-opacity="0.85"/>
<line x1="521.4" y1="29.7" x2="521.4" y2="74.6" stroke="#222" stroke-width="0.6" stroke-dasharray="3 1.6"/>
<line x1="529.6" y1="29.7" x2="529.6" y2="74.6" stroke="#222" stroke-width="0.6" stroke-dasharray="3 1.6"/>
<rect x="553.4" y="35.6" width="38.1" height="38.4" rx="0" fill="#fff" stroke="#444" stroke-width="0.6" />
<line x1="554" y1="73.4" x2="591" y2="36.2" stroke="#8a8a8a" stroke-width="0.5" />
<path d="M554 73.4 L554 60 L555.5 60 L555.5 53 L557 53 L557 49.5 L559.5 49.5 L559.5 46 L563 46 L563 43 L566 43 L566 40.5 L572 40.5 L572 39 L579 39 L579 37.5 L586 37.5 L586 36.6 L591 36.6" fill="none" stroke="#6a9be0" stroke-width="0.5" />
<path d="M554 73.4 L554 62 L555 62 L555 52 L556.5 52 L556.5 47.5 L560.5 47.5 L560.5 44 L564.5 44 L564.5 41.2 L569 41.2 L569 39.4 L576 39.4 L576 38 L583 38 L583 36.8 L591 36.6" fill="none" stroke="#f2c75c" stroke-width="0.5" />
<line x1="572.5" y1="60.6" x2="575" y2="60.6" stroke="#6a9be0" stroke-width="0.5" />
<line x1="572.5" y1="63" x2="575" y2="63" stroke="#f2c75c" stroke-width="0.5" />
<text x="575.8" y="59.6" font-size="1.9" fill="#555" stroke="#555" stroke-width="0.06" >SVC</text>
<text x="575.8" y="61.6" font-size="1.9" fill="#555" stroke="#555" stroke-width="0.06" >RF</text>
<text x="575.8" y="64" font-size="1.9" fill="#555" stroke="#555" stroke-width="0.06" >XGBoost</text>
<rect x="607.1" y="40.9" width="15.2" height="14.5" rx="0" fill="#d93a2b" stroke="none" stroke-width="1" />
<rect x="622.3" y="55.4" width="15.2" height="14.4" rx="0" fill="#d93a2b" stroke="none" stroke-width="1" />
<rect x="607.1" y="40.9" width="30.4" height="28.9" rx="0" fill="none" stroke="#333" stroke-width="0.5" />
<line x1="622.3" y1="40.9" x2="622.3" y2="69.8" stroke="#333" stroke-width="0.4" />
<line x1="607.1" y1="55.4" x2="637.5" y2="55.4" stroke="#333" stroke-width="0.4" />
<text x="608.3" y="37.5" font-size="4.4" text-anchor="middle" fill="#000" stroke="#000" stroke-width="0.06" >Normal</text>
<text x="624" y="37.5" font-size="4.4" text-anchor="middle" fill="#000" stroke="#000" stroke-width="0.06" >CP</text>
<text x="604.8" y="47.9" font-size="3.9" text-anchor="middle" transform="rotate(-90 604.8 47.9)" fill="#000" stroke="#000" stroke-width="0.06" >Normal</text>
<text x="604.8" y="64.2" font-size="3.9" text-anchor="middle" transform="rotate(-90 604.8 64.2)" fill="#000" stroke="#000" stroke-width="0.06" >CP</text>
<text x="621.3" y="76.2" font-size="4.2" text-anchor="middle" fill="#000" stroke="#000" stroke-width="0.06" >RF</text>
<text x="570" y="86.9" font-size="7.3" text-anchor="middle" fill="#000" stroke="#000" stroke-width="0.06" >Found biological markers</text>
<path d="M564.9 89.7 L568.9 89.7 L568.9 109.6 L570.9 109.6 L566.9 115 L562.8 109.6 L564.9 109.6 Z" fill="#f2f2f2" stroke="#8a8a8a" stroke-width="0.7" />
<text x="573.1" y="102" font-size="7.3" fill="#000" stroke="#000" stroke-width="0.06" >Validation</text>
<g transform="translate(514 111.3)"><use href="#tube"/><path d="M-1.5 3.4 L1.5 3.4 L1.5 6.3 L0.5 9.9 Q0 10.6 -0.5 9.9 L-1.5 6.3 Z" fill="#e3bd22"/></g>
<g transform="translate(519.3 111.3)"><use href="#tube"/><path d="M-1.5 3.4 L1.5 3.4 L1.5 6.3 L0.5 9.9 Q0 10.6 -0.5 9.9 L-1.5 6.3 Z" fill="#e3bd22"/></g>
<g transform="translate(524.6 111.3)"><use href="#tube"/><path d="M-1.5 3.4 L1.5 3.4 L1.5 6.3 L0.5 9.9 Q0 10.6 -0.5 9.9 L-1.5 6.3 Z" fill="#e3bd22"/></g>
<g transform="translate(529.9 111.3)"><use href="#tube"/><path d="M-1.5 3.4 L1.5 3.4 L1.5 6.3 L0.5 9.9 Q0 10.6 -0.5 9.9 L-1.5 6.3 Z" fill="#e3bd22"/></g>
<g transform="translate(535.2 111.3)"><use href="#tube"/><path d="M-1.5 3.4 L1.5 3.4 L1.5 6.3 L0.5 9.9 Q0 10.6 -0.5 9.9 L-1.5 6.3 Z" fill="#e3bd22"/></g>
<g transform="translate(540.5 111.3)"><use href="#tube"/><path d="M-1.5 3.4 L1.5 3.4 L1.5 6.3 L0.5 9.9 Q0 10.6 -0.5 9.9 L-1.5 6.3 Z" fill="#e3bd22"/></g>
<g transform="translate(514 128)"><use href="#tube"/><path d="M-1.5 3.4 L1.5 3.4 L1.5 6.3 L0.5 9.9 Q0 10.6 -0.5 9.9 L-1.5 6.3 Z" fill="#e3bd22"/></g>
<g transform="translate(519.3 128)"><use href="#tube"/><path d="M-1.5 3.4 L1.5 3.4 L1.5 6.3 L0.5 9.9 Q0 10.6 -0.5 9.9 L-1.5 6.3 Z" fill="#e3bd22"/></g>
<g transform="translate(524.6 128)"><use href="#tube"/><path d="M-1.5 3.4 L1.5 3.4 L1.5 6.3 L0.5 9.9 Q0 10.6 -0.5 9.9 L-1.5 6.3 Z" fill="#e3bd22"/></g>
<g transform="translate(529.9 128)"><use href="#tube"/><path d="M-1.5 3.4 L1.5 3.4 L1.5 6.3 L0.5 9.9 Q0 10.6 -0.5 9.9 L-1.5 6.3 Z" fill="#e3bd22"/></g>
<g transform="translate(535.2 128)"><use href="#tube"/><path d="M-1.5 3.4 L1.5 3.4 L1.5 6.3 L0.5 9.9 Q0 10.6 -0.5 9.9 L-1.5 6.3 Z" fill="#e3bd22"/></g>
<g transform="translate(540.5 128)"><use href="#tube"/><path d="M-1.5 3.4 L1.5 3.4 L1.5 6.3 L0.5 9.9 Q0 10.6 -0.5 9.9 L-1.5 6.3 Z" fill="#e3bd22"/></g>
<line x1="550.2" y1="122.4" x2="587" y2="122.4" stroke="#222" stroke-width="0.6" />
<polygon points="588.9,122.4 586.18,121.125 586.18,123.675" fill="#222"/>
<rect x="593.4" y="110.2" width="43.3" height="25.7" rx="0.8" fill="#f3f3f3" stroke="#555" stroke-width="0.6" />
<circle cx="596.2" cy="112.7" r="1.05" fill="#fdfdfd" stroke="#777" stroke-width="0.35" />
<circle cx="599.62" cy="112.7" r="1.05" fill="#fdfdfd" stroke="#777" stroke-width="0.35" />
<circle cx="603.04" cy="112.7" r="1.05" fill="#fdfdfd" stroke="#777" stroke-width="0.35" />
<circle cx="606.46" cy="112.7" r="1.05" fill="#fdfdfd" stroke="#777" stroke-width="0.35" />
<circle cx="609.88" cy="112.7" r="1.05" fill="#fdfdfd" stroke="#777" stroke-width="0.35" />
<circle cx="613.3" cy="112.7" r="1.05" fill="#fdfdfd" stroke="#777" stroke-width="0.35" />
<circle cx="616.72" cy="112.7" r="1.05" fill="#fdfdfd" stroke="#777" stroke-width="0.35" />
<circle cx="620.14" cy="112.7" r="1.05" fill="#fdfdfd" stroke="#777" stroke-width="0.35" />
<circle cx="623.56" cy="112.7" r="1.05" fill="#fdfdfd" stroke="#777" stroke-width="0.35" />
<circle cx="626.98" cy="112.7" r="1.05" fill="#fdfdfd" stroke="#777" stroke-width="0.35" />
<circle cx="630.4" cy="112.7" r="1.05" fill="#fdfdfd" stroke="#777" stroke-width="0.35" />
<circle cx="633.82" cy="112.7" r="1.05" fill="#fdfdfd" stroke="#777" stroke-width="0.35" />
<circle cx="596.2" cy="115.68" r="1.05" fill="#fdfdfd" stroke="#777" stroke-width="0.35" />
<circle cx="599.62" cy="115.68" r="1.05" fill="#fdfdfd" stroke="#777" stroke-width="0.35" />
<circle cx="603.04" cy="115.68" r="1.05" fill="#fdfdfd" stroke="#777" stroke-width="0.35" />
<circle cx="606.46" cy="115.68" r="1.05" fill="#fdfdfd" stroke="#777" stroke-width="0.35" />
<circle cx="609.88" cy="115.68" r="1.05" fill="#fdfdfd" stroke="#777" stroke-width="0.35" />
<circle cx="613.3" cy="115.68" r="1.05" fill="#fdfdfd" stroke="#777" stroke-width="0.35" />
<circle cx="616.72" cy="115.68" r="1.05" fill="#fdfdfd" stroke="#777" stroke-width="0.35" />
<circle cx="620.14" cy="115.68" r="1.05" fill="#fdfdfd" stroke="#777" stroke-width="0.35" />
<circle cx="623.56" cy="115.68" r="1.05" fill="#fdfdfd" stroke="#777" stroke-width="0.35" />
<circle cx="626.98" cy="115.68" r="1.05" fill="#fdfdfd" stroke="#777" stroke-width="0.35" />
<circle cx="630.4" cy="115.68" r="1.05" fill="#fdfdfd" stroke="#777" stroke-width="0.35" />
<circle cx="633.82" cy="115.68" r="1.05" fill="#fdfdfd" stroke="#777" stroke-width="0.35" />
<circle cx="596.2" cy="118.66" r="1.05" fill="#fdfdfd" stroke="#777" stroke-width="0.35" />
<circle cx="599.62" cy="118.66" r="1.05" fill="#fdfdfd" stroke="#777" stroke-width="0.35" />
<circle cx="603.04" cy="118.66" r="1.05" fill="#fdfdfd" stroke="#777" stroke-width="0.35" />
<circle cx="606.46" cy="118.66" r="1.05" fill="#fdfdfd" stroke="#777" stroke-width="0.35" />
<circle cx="609.88" cy="118.66" r="1.05" fill="#fdfdfd" stroke="#777" stroke-width="0.35" />
<circle cx="613.3" cy="118.66" r="1.05" fill="#fdfdfd" stroke="#777" stroke-width="0.35" />
<circle cx="616.72" cy="118.66" r="1.05" fill="#fdfdfd" stroke="#777" stroke-width="0.35" />
<circle cx="620.14" cy="118.66" r="1.05" fill="#fdfdfd" stroke="#777" stroke-width="0.35" />
<circle cx="623.56" cy="118.66" r="1.05" fill="#fdfdfd" stroke="#777" stroke-width="0.35" />
<circle cx="626.98" cy="118.66" r="1.05" fill="#fdfdfd" stroke="#777" stroke-width="0.35" />
<circle cx="630.4" cy="118.66" r="1.05" fill="#fdfdfd" stroke="#777" stroke-width="0.35" />
<circle cx="633.82" cy="118.66" r="1.05" fill="#fdfdfd" stroke="#777" stroke-width="0.35" />
<circle cx="596.2" cy="121.64" r="1.05" fill="#fdfdfd" stroke="#777" stroke-width="0.35" />
<circle cx="599.62" cy="121.64" r="1.05" fill="#fdfdfd" stroke="#777" stroke-width="0.35" />
<circle cx="603.04" cy="121.64" r="1.05" fill="#fdfdfd" stroke="#777" stroke-width="0.35" />
<circle cx="606.46" cy="121.64" r="1.05" fill="#fdfdfd" stroke="#777" stroke-width="0.35" />
<circle cx="609.88" cy="121.64" r="1.05" fill="#fdfdfd" stroke="#777" stroke-width="0.35" />
<circle cx="613.3" cy="121.64" r="1.05" fill="#fdfdfd" stroke="#777" stroke-width="0.35" />
<circle cx="616.72" cy="121.64" r="1.05" fill="#fdfdfd" stroke="#777" stroke-width="0.35" />
<circle cx="620.14" cy="121.64" r="1.05" fill="#fdfdfd" stroke="#777" stroke-width="0.35" />
<circle cx="623.56" cy="121.64" r="1.05" fill="#fdfdfd" stroke="#777" stroke-width="0.35" />
<circle cx="626.98" cy="121.64" r="1.05" fill="#fdfdfd" stroke="#777" stroke-width="0.35" />
<circle cx="630.4" cy="121.64" r="1.05" fill="#fdfdfd" stroke="#777" stroke-width="0.35" />
<circle cx="633.82" cy="121.64" r="1.05" fill="#fdfdfd" stroke="#777" stroke-width="0.35" />
<circle cx="596.2" cy="124.62" r="1.05" fill="#fdfdfd" stroke="#777" stroke-width="0.35" />
<circle cx="599.62" cy="124.62" r="1.05" fill="#fdfdfd" stroke="#777" stroke-width="0.35" />
<circle cx="603.04" cy="124.62" r="1.05" fill="#fdfdfd" stroke="#777" stroke-width="0.35" />
<circle cx="606.46" cy="124.62" r="1.05" fill="#fdfdfd" stroke="#777" stroke-width="0.35" />
<circle cx="609.88" cy="124.62" r="1.05" fill="#fdfdfd" stroke="#777" stroke-width="0.35" />
<circle cx="613.3" cy="124.62" r="1.05" fill="#fdfdfd" stroke="#777" stroke-width="0.35" />
<circle cx="616.72" cy="124.62" r="1.05" fill="#fdfdfd" stroke="#777" stroke-width="0.35" />
<circle cx="620.14" cy="124.62" r="1.05" fill="#fdfdfd" stroke="#777" stroke-width="0.35" />
<circle cx="623.56" cy="124.62" r="1.05" fill="#fdfdfd" stroke="#777" stroke-width="0.35" />
<circle cx="626.98" cy="124.62" r="1.05" fill="#fdfdfd" stroke="#777" stroke-width="0.35" />
<circle cx="630.4" cy="124.62" r="1.05" fill="#fdfdfd" stroke="#777" stroke-width="0.35" />
<circle cx="633.82" cy="124.62" r="1.05" fill="#fdfdfd" stroke="#777" stroke-width="0.35" />
<circle cx="596.2" cy="127.6" r="1.05" fill="#fdfdfd" stroke="#777" stroke-width="0.35" />
<circle cx="599.62" cy="127.6" r="1.05" fill="#fdfdfd" stroke="#777" stroke-width="0.35" />
<circle cx="603.04" cy="127.6" r="1.05" fill="#fdfdfd" stroke="#777" stroke-width="0.35" />
<circle cx="606.46" cy="127.6" r="1.05" fill="#fdfdfd" stroke="#777" stroke-width="0.35" />
<circle cx="609.88" cy="127.6" r="1.05" fill="#fdfdfd" stroke="#777" stroke-width="0.35" />
<circle cx="613.3" cy="127.6" r="1.05" fill="#fdfdfd" stroke="#777" stroke-width="0.35" />
<circle cx="616.72" cy="127.6" r="1.05" fill="#fdfdfd" stroke="#777" stroke-width="0.35" />
<circle cx="620.14" cy="127.6" r="1.05" fill="#fdfdfd" stroke="#777" stroke-width="0.35" />
<circle cx="623.56" cy="127.6" r="1.05" fill="#fdfdfd" stroke="#777" stroke-width="0.35" />
<circle cx="626.98" cy="127.6" r="1.05" fill="#fdfdfd" stroke="#777" stroke-width="0.35" />
<circle cx="630.4" cy="127.6" r="1.05" fill="#fdfdfd" stroke="#777" stroke-width="0.35" />
<circle cx="633.82" cy="127.6" r="1.05" fill="#fdfdfd" stroke="#777" stroke-width="0.35" />
<circle cx="596.2" cy="130.58" r="1.05" fill="#fdfdfd" stroke="#777" stroke-width="0.35" />
<circle cx="599.62" cy="130.58" r="1.05" fill="#fdfdfd" stroke="#777" stroke-width="0.35" />
<circle cx="603.04" cy="130.58" r="1.05" fill="#fdfdfd" stroke="#777" stroke-width="0.35" />
<circle cx="606.46" cy="130.58" r="1.05" fill="#fdfdfd" stroke="#777" stroke-width="0.35" />
<circle cx="609.88" cy="130.58" r="1.05" fill="#fdfdfd" stroke="#777" stroke-width="0.35" />
<circle cx="613.3" cy="130.58" r="1.05" fill="#fdfdfd" stroke="#777" stroke-width="0.35" />
<circle cx="616.72" cy="130.58" r="1.05" fill="#fdfdfd" stroke="#777" stroke-width="0.35" />
<circle cx="620.14" cy="130.58" r="1.05" fill="#fdfdfd" stroke="#777" stroke-width="0.35" />
<circle cx="623.56" cy="130.58" r="1.05" fill="#fdfdfd" stroke="#777" stroke-width="0.35" />
<circle cx="626.98" cy="130.58" r="1.05" fill="#fdfdfd" stroke="#777" stroke-width="0.35" />
<circle cx="630.4" cy="130.58" r="1.05" fill="#fdfdfd" stroke="#777" stroke-width="0.35" />
<circle cx="633.82" cy="130.58" r="1.05" fill="#fdfdfd" stroke="#777" stroke-width="0.35" />
<circle cx="596.2" cy="133.56" r="1.05" fill="#fdfdfd" stroke="#777" stroke-width="0.35" />
<circle cx="599.62" cy="133.56" r="1.05" fill="#fdfdfd" stroke="#777" stroke-width="0.35" />
<circle cx="603.04" cy="133.56" r="1.05" fill="#fdfdfd" stroke="#777" stroke-width="0.35" />
<circle cx="606.46" cy="133.56" r="1.05" fill="#fdfdfd" stroke="#777" stroke-width="0.35" />
<circle cx="609.88" cy="133.56" r="1.05" fill="#fdfdfd" stroke="#777" stroke-width="0.35" />
<circle cx="613.3" cy="133.56" r="1.05" fill="#fdfdfd" stroke="#777" stroke-width="0.35" />
<circle cx="616.72" cy="133.56" r="1.05" fill="#fdfdfd" stroke="#777" stroke-width="0.35" />
<circle cx="620.14" cy="133.56" r="1.05" fill="#fdfdfd" stroke="#777" stroke-width="0.35" />
<circle cx="623.56" cy="133.56" r="1.05" fill="#fdfdfd" stroke="#777" stroke-width="0.35" />
<circle cx="626.98" cy="133.56" r="1.05" fill="#fdfdfd" stroke="#777" stroke-width="0.35" />
<circle cx="630.4" cy="133.56" r="1.05" fill="#fdfdfd" stroke="#777" stroke-width="0.35" />
<circle cx="633.82" cy="133.56" r="1.05" fill="#fdfdfd" stroke="#777" stroke-width="0.35" />
<text x="569" y="146" font-size="7.3" text-anchor="middle" fill="#000" stroke="#000" stroke-width="0.06" >Independent cohort</text>
<polygon points="38.7,163.6 77.2,163.6 70.2,176.5 31.7,176.5" fill="#1d9a55"/>
<polygon points="38.7,179.5 77.2,179.5 70.2,192.4 31.7,192.4" fill="#e41a1c"/>
<line x1="39.9" y1="171.8" x2="48.5" y2="171.8" stroke="#111" stroke-width="0.7" />
<polygon points="48.5,171.8 45.9,172.9 45.9,170.7" fill="#111"/>
<line x1="50.4" y1="171.8" x2="40.947" y2="186.115" stroke="#111" stroke-width="0.7" />
<polygon points="40.947,186.115 41.4619,183.339 43.2977,184.551" fill="#111"/>
<line x1="58.5" y1="166.2" x2="64.5424" y2="185.884" stroke="#111" stroke-width="0.7" />
<polygon points="64.5424,185.884 62.7279,183.721 64.831,183.075" fill="#111"/>
<line x1="39.9" y1="187.7" x2="63.2" y2="187.7" stroke="#111" stroke-width="0.7" />
<polygon points="63.2,187.7 60.6,188.8 60.6,186.6" fill="#111"/>
<ellipse cx="39.9" cy="171.8" rx="2" ry="1.55" fill="#fff" stroke="#111" stroke-width="0.6"/>
<ellipse cx="50.4" cy="171.8" rx="2" ry="1.55" fill="#fff" stroke="#111" stroke-width="0.6"/>
<ellipse cx="58.5" cy="166.2" rx="2" ry="1.55" fill="#fff" stroke="#111" stroke-width="0.6"/>
<ellipse cx="39.9" cy="187.7" rx="2" ry="1.55" fill="#fff" stroke="#111" stroke-width="0.6"/>
<ellipse cx="65.1" cy="187.7" rx="2" ry="1.55" fill="#fff" stroke="#111" stroke-width="0.6"/>
<text x="107" y="174.4" font-size="7.1" text-anchor="end" fill="#000" stroke="#000" stroke-width="0.06" >WES</text>
<text x="107" y="188.6" font-size="7.1" text-anchor="end" fill="#000" stroke="#000" stroke-width="0.06" >Proteome</text>
<text x="281" y="159.3" font-size="7.3" text-anchor="middle" fill="#000" stroke="#000" stroke-width="0.06" >Cerebral palsy</text>
<text x="564.3" y="159.3" font-size="7.3" text-anchor="middle" fill="#000" stroke="#000" stroke-width="0.06" >Healthy control</text>
<rect x="107.5" y="162.7" width="345.6" height="1.8" rx="0" fill="#e41a1c" stroke="none" stroke-width="1" />
<rect x="470.4" y="162.7" width="188.3" height="1.8" rx="0" fill="#5b8def" stroke="none" stroke-width="1" />
<defs>
<pattern id="pg" x="107.5" y="0" width="4.9" height="10" patternUnits="userSpaceOnUse"><rect width="4.9" height="10" fill="#60c298"/><rect x="0" width="1.1" height="10" fill="#98d8bb"/><rect x="2.6" width="0.6" height="10" fill="#78cba7"/></pattern>
<pattern id="pr" x="107.5" y="0" width="4.9" height="10" patternUnits="userSpaceOnUse"><rect width="4.9" height="10" fill="#ee7276"/><rect x="0" width="1.1" height="10" fill="#f5a5a7"/><rect x="2.6" width="0.6" height="10" fill="#f18a8d"/></pattern>
<pattern id="pb" x="470.4" y="0" width="4.9" height="10" patternUnits="userSpaceOnUse"><rect width="4.9" height="10" fill="#86a4eb"/><rect x="0" width="1.1" height="10" fill="#afc3f3"/><rect x="2.6" width="0.6" height="10" fill="#97b0ef"/></pattern>
</defs>
<rect x="107.5" y="166.6" width="337.5" height="13" rx="0" fill="url(#pg)" stroke="none" stroke-width="1" />
<rect x="107.5" y="179.6" width="346" height="12.9" rx="0" fill="url(#pr)" stroke="none" stroke-width="1" />
<rect x="107.5" y="166.6" width="346" height="25.9" rx="0" fill="none" stroke="#666" stroke-width="0.5" />
<rect x="470.4" y="179.6" width="188.3" height="12.9" rx="0" fill="url(#pb)" stroke="none" stroke-width="1" />
<rect x="470.4" y="166.6" width="188.3" height="25.9" rx="0" fill="none" stroke="#666" stroke-width="0.5" />
<text x="-0.3" y="210" font-size="15.6" fill="#000" stroke="#000" stroke-width="0.05" >B</text>
<path d="M81.8 257.7 L81.80 212.20 A45.5 45.5 0 1 1 39.29 241.48 Z" fill="#e41a1c" stroke="#e41a1c" stroke-width="0.3"/>
<path d="M81.8 257.7 L39.29 241.48 A45.5 45.5 0 0 1 42.64 234.54 Z" fill="#b3a0f5" stroke="#b3a0f5" stroke-width="0.3"/>
<path d="M81.8 257.7 L42.64 234.54 A45.5 45.5 0 0 1 51.50 223.76 Z" fill="#377eb8" stroke="#377eb8" stroke-width="0.3"/>
<path d="M81.8 257.7 L51.50 223.76 A45.5 45.5 0 0 1 81.80 212.20 Z" fill="#4daf4a" stroke="#4daf4a" stroke-width="0.3"/>
<path d="M212.3 257.7 L212.30 212.20 A45.5 45.5 0 0 1 257.67 261.13 Z" fill="#fff5eb" stroke="#fff5eb" stroke-width="0.3"/>
<path d="M212.3 257.7 L257.67 261.13 A45.5 45.5 0 0 1 210.59 303.17 Z" fill="#fee8cf" stroke="#fee8cf" stroke-width="0.3"/>
<path d="M212.3 257.7 L210.59 303.17 A45.5 45.5 0 0 1 171.13 277.07 Z" fill="#fdd6a5" stroke="#fdd6a5" stroke-width="0.3"/>
<path d="M212.3 257.7 L171.13 277.07 A45.5 45.5 0 0 1 170.77 239.11 Z" fill="#fdb883" stroke="#fdb883" stroke-width="0.3"/>
<path d="M212.3 257.7 L170.77 239.11 A45.5 45.5 0 0 1 212.30 212.20 Z" fill="#fc8d59" stroke="#fc8d59" stroke-width="0.3"/>
<path d="M343.1 257.7 L343.10 212.20 A45.5 45.5 0 0 1 385.61 273.92 Z" fill="#fa8072" stroke="#fa8072" stroke-width="0.3"/>
<path d="M343.1 257.7 L385.61 273.92 A45.5 45.5 0 1 1 343.10 212.20 Z" fill="#c6dbef" stroke="#c6dbef" stroke-width="0.3"/>
<path d="M473.8 257.7 L473.80 211.80 A45.9 45.9 0 0 1 490.96 215.13 Z" fill="#fdbf6f" stroke="#fdbf6f" stroke-width="0.3"/>
<path d="M473.8 257.7 L490.96 215.13 A45.9 45.9 0 1 1 432.39 277.50 Z" fill="#b2df8a" stroke="#b2df8a" stroke-width="0.3"/>
<path d="M473.8 257.7 L432.39 277.50 A45.9 45.9 0 0 1 432.77 237.12 Z" fill="#cab2d6" stroke="#cab2d6" stroke-width="0.3"/>
<path d="M473.8 257.7 L432.77 237.12 A45.9 45.9 0 0 1 452.19 217.20 Z" fill="#a6cee3" stroke="#a6cee3" stroke-width="0.3"/>
<path d="M473.8 257.7 L452.19 217.20 A45.9 45.9 0 0 1 473.80 211.80 Z" fill="#fb9a99" stroke="#fb9a99" stroke-width="0.3"/>
<path d="M604.3 257.7 L604.30 212.50 A45.2 45.2 0 0 1 647.11 272.21 Z" fill="#fb9a99" stroke="#fb9a99" stroke-width="0.3"/>
<path d="M604.3 257.7 L647.11 272.21 A45.2 45.2 0 1 1 604.30 212.50 Z" fill="#a6cee3" stroke="#a6cee3" stroke-width="0.3"/>
<text x="68.25" y="224" font-size="7.3" text-anchor="middle" fill="#000" stroke="#000" stroke-width="0.06" >11.6%</text>
<text x="53.9" y="237.2" font-size="7.3" text-anchor="middle" fill="#000" stroke="#000" stroke-width="0.06" >4.9%</text>
<text x="48.9" y="244.9" font-size="7.3" text-anchor="middle" fill="#000" stroke="#000" stroke-width="0.06" >2.7%</text>
<text x="94.75" y="275.7" font-size="7.3" text-anchor="middle" fill="#000" stroke="#000" stroke-width="0.06" >80.8%</text>
<text x="233.7" y="238.4" font-size="7.3" text-anchor="middle" fill="#000" stroke="#000" stroke-width="0.06" >26.2%</text>
<text x="232.65" y="280.6" font-size="7.3" text-anchor="middle" fill="#000" stroke="#000" stroke-width="0.06" >24.4%</text>
<text x="197.8" y="282.5" font-size="7.3" text-anchor="middle" fill="#000" stroke="#000" stroke-width="0.06" >17.4%</text>
<text x="185.15" y="259.7" font-size="7.3" text-anchor="middle" fill="#000" stroke="#000" stroke-width="0.06" >13.7%</text>
<text x="196.8" y="242.8" font-size="7.3" text-anchor="middle" fill="#000" stroke="#000" stroke-width="0.06" >18.3%</text>
<text x="364.6" y="244.9" font-size="7.3" text-anchor="middle" fill="#000" stroke="#000" stroke-width="0.06" >30.8%</text>
<text x="322.5" y="269" font-size="7.3" text-anchor="middle" fill="#000" stroke="#000" stroke-width="0.06" >69.2%</text>
<text x="483.6" y="219" font-size="7.3" text-anchor="middle" fill="#000" stroke="#000" stroke-width="0.06" >6.1%</text>
<text x="464.35" y="223.5" font-size="7.3" text-anchor="middle" fill="#000" stroke="#000" stroke-width="0.06" >7.8%</text>
<text x="446.55" y="239.2" font-size="7.3" text-anchor="middle" fill="#000" stroke="#000" stroke-width="0.06" >9.8%</text>
<text x="441.35" y="261.1" font-size="7.3" text-anchor="middle" fill="#000" stroke="#000" stroke-width="0.06" >14.5%</text>
<text x="491" y="272" font-size="7.3" text-anchor="middle" fill="#000" stroke="#000" stroke-width="0.06" >61.8%</text>
<text x="628.6" y="245.5" font-size="7.3" text-anchor="middle" fill="#000" stroke="#000" stroke-width="0.06" >30.2%</text>
<text x="592" y="276.5" font-size="7.3" text-anchor="middle" fill="#000" stroke="#000" stroke-width="0.06" >69.8%</text>
<text x="84.65" y="315.2" font-size="7.3" text-anchor="middle" fill="#000" stroke="#000" stroke-width="0.06" >Clinical subtypes</text>
<text x="219.3" y="315.4" font-size="7.3" text-anchor="middle" fill="#000" stroke="#000" stroke-width="0.06" >GMFCS</text>
<text x="340.65" y="315.4" font-size="7.3" text-anchor="middle" fill="#000" stroke="#000" stroke-width="0.06" >Gender</text>
<text x="474.5" y="315.3" font-size="7.3" text-anchor="middle" fill="#000" stroke="#000" stroke-width="0.06" >MRI</text>
<text x="609.6" y="314.9" font-size="7.3" text-anchor="middle" fill="#000" stroke="#000" stroke-width="0.06" >Birth weight (grams)</text>
<rect x="44.8" y="324.8" width="4.2" height="4.2" rx="0" fill="#a377dd" stroke="none" stroke-width="1" />
<text x="54.6" y="330" font-size="7.3" fill="#000" stroke="#000" stroke-width="0.06" >Ataxic</text>
<rect x="44.8" y="335" width="4.2" height="4.2" rx="0" fill="#377eb8" stroke="none" stroke-width="1" />
<text x="54.6" y="340.2" font-size="7.3" fill="#000" stroke="#000" stroke-width="0.06" >Dyskinetic</text>
<rect x="94.8" y="324.8" width="4.2" height="4.2" rx="0" fill="#4daf4a" stroke="none" stroke-width="1" />
<text x="104.8" y="330" font-size="7.3" fill="#000" stroke="#000" stroke-width="0.06" >Mixed</text>
<rect x="94.8" y="335" width="4.2" height="4.2" rx="0" fill="#e41a1c" stroke="none" stroke-width="1" />
<text x="104.8" y="340.2" font-size="7.3" fill="#000" stroke="#000" stroke-width="0.06" >Spastic</text>
<rect x="183.3" y="324.9" width="4.2" height="4.2" rx="0" fill="#fff5eb" stroke="none" stroke-width="1" />
<text x="189.7" y="330.1" font-size="7.3" fill="#000" stroke="#000" stroke-width="0.06" >Level I</text>
<rect x="183.3" y="334.8" width="4.2" height="4.2" rx="0" fill="#fee8cf" stroke="none" stroke-width="1" />
<text x="189.7" y="340" font-size="7.3" fill="#000" stroke="#000" stroke-width="0.06" >Level II</text>
<rect x="218.7" y="323.5" width="4.2" height="4.2" rx="0" fill="#fdd6a5" stroke="none" stroke-width="1" />
<text x="226.7" y="328.7" font-size="7.3" fill="#000" stroke="#000" stroke-width="0.06" >Level III</text>
<rect x="218.7" y="333.3" width="4.2" height="4.2" rx="0" fill="#fdb883" stroke="none" stroke-width="1" />
<text x="226.7" y="338.5" font-size="7.3" fill="#000" stroke="#000" stroke-width="0.06" >Level IV</text>
<rect x="218.7" y="343.4" width="4.2" height="4.2" rx="0" fill="#fc8d59" stroke="none" stroke-width="1" />
<text x="226.7" y="348.6" font-size="7.3" fill="#000" stroke="#000" stroke-width="0.06" >Level V</text>
<rect x="328.1" y="324.8" width="4.2" height="4.2" rx="0" fill="#c6dbef" stroke="none" stroke-width="1" />
<text x="337.7" y="330" font-size="7.3" fill="#000" stroke="#000" stroke-width="0.06" >Male</text>
<rect x="328.1" y="334.6" width="4.2" height="4.2" rx="0" fill="#fa8072" stroke="none" stroke-width="1" />
<text x="337.7" y="339.8" font-size="7.3" fill="#000" stroke="#000" stroke-width="0.06" >Female</text>
<rect x="400.3" y="324.4" width="4.2" height="4.2" rx="0" fill="#a6cee3" stroke="none" stroke-width="1" />
<text x="406.6" y="329.6" font-size="7.3" fill="#000" stroke="#000" stroke-width="0.06" >Miscellaneous</text>
<rect x="456.4" y="324.4" width="4.2" height="4.2" rx="0" fill="#fb9a99" stroke="none" stroke-width="1" />
<text x="462.9" y="329.6" font-size="7.3" fill="#000" stroke="#000" stroke-width="0.06" >Normal</text>
<rect x="489.7" y="324.4" width="4.2" height="4.2" rx="0" fill="#fdbf6f" stroke="none" stroke-width="1" />
<text x="496.6" y="329.6" font-size="7.3" fill="#000" stroke="#000" stroke-width="0.06" >Maldevelopments</text>
<rect x="400.3" y="333.5" width="4.2" height="4.2" rx="0" fill="#b2df8a" stroke="none" stroke-width="1" />
<text x="406.6" y="338.7" font-size="7.3" fill="#000" stroke="#000" stroke-width="0.06" >Predominant white matter injury</text>
<rect x="400.3" y="341.3" width="4.2" height="4.2" rx="0" fill="#cab2d6" stroke="none" stroke-width="1" />
<text x="406.6" y="346.5" font-size="7.3" fill="#000" stroke="#000" stroke-width="0.06" >Predominant gray matter injury</text>
<rect x="582.8" y="324.6" width="4.2" height="4.2" rx="0" fill="#fb9a99" stroke="none" stroke-width="1" />
<text x="591.6" y="329.8" font-size="7.3" fill="#000" stroke="#000" stroke-width="0.06" >LBW (&lt;2,500)</text>
<rect x="582.8" y="335.2" width="4.2" height="4.2" rx="0" fill="#a6cee3" stroke="none" stroke-width="1" />
<text x="591.6" y="340.4" font-size="7.3" fill="#000" stroke="#000" stroke-width="0.06" >Nomal BW</text>
<text x="-0.9" y="364.2" font-size="15.6" fill="#000" stroke="#000" stroke-width="0.05" >C</text>
<text x="41.6" y="363.6" font-size="10.6" text-anchor="middle" fill="#000" stroke="#000" stroke-width="0.072" >HC</text>
<text x="120" y="363.6" font-size="10.6" text-anchor="middle" fill="#000" stroke="#000" stroke-width="0.072" >CP</text>
<defs><pattern id="phc" x="15.7" y="0" width="2.3" height="10" patternUnits="userSpaceOnUse"><rect width="2.3" height="10" fill="#6a8de3"/><rect width="0.7" height="10" fill="#7b9ae8"/></pattern><pattern id="pcp" x="73" y="0" width="2.3" height="10" patternUnits="userSpaceOnUse"><rect width="2.3" height="10" fill="#e8683a"/><rect width="0.7" height="10" fill="#ec7a4e"/></pattern></defs>
<rect x="15.7" y="367.8" width="57.3" height="10" rx="0" fill="url(#phc)" stroke="none" stroke-width="1" />
<rect x="73" y="367.8" width="103.6" height="10" rx="0" fill="url(#pcp)" stroke="none" stroke-width="1" />
<g shape-rendering="crispEdges">
<rect x="15.7" y="380.4" width="57.3" height="1.37" rx="0" fill="#e7f0fb" stroke="none" stroke-width="1" />
<rect x="73" y="380.4" width="103.6" height="1.37" rx="0" fill="#d4e6f8" stroke="none" stroke-width="1" />
<rect x="15.7" y="381.72" width="57.3" height="1.37" rx="0" fill="#f2f7fd" stroke="none" stroke-width="1" />
<rect x="73" y="381.72" width="103.6" height="1.37" rx="0" fill="#d0e4f7" stroke="none" stroke-width="1" />
<rect x="15.7" y="383.03" width="57.3" height="1.37" rx="0" fill="#eef5fc" stroke="none" stroke-width="1" />
<rect x="73" y="383.03" width="103.6" height="1.37" rx="0" fill="#dfecfa" stroke="none" stroke-width="1" />
<rect x="15.7" y="384.35" width="57.3" height="1.37" rx="0" fill="#eff5fc" stroke="none" stroke-width="1" />
<rect x="73" y="384.35" width="103.6" height="1.37" rx="0" fill="#d4e6f8" stroke="none" stroke-width="1" />
<rect x="15.7" y="385.67" width="57.3" height="1.37" rx="0" fill="#f2f7fd" stroke="none" stroke-width="1" />
<rect x="73" y="385.67" width="103.6" height="1.37" rx="0" fill="#dbeaf9" stroke="none" stroke-width="1" />
<rect x="15.7" y="386.99" width="57.3" height="1.37" rx="0" fill="#e6f0fb" stroke="none" stroke-width="1" />
<rect x="73" y="386.99" width="103.6" height="1.37" rx="0" fill="#d8e8f9" stroke="none" stroke-width="1" />
<rect x="15.7" y="388.3" width="57.3" height="1.37" rx="0" fill="#ebf3fc" stroke="none" stroke-width="1" />
<rect x="73" y="388.3" width="103.6" height="1.37" rx="0" fill="#d1e4f8" stroke="none" stroke-width="1" />
<rect x="15.7" y="389.62" width="57.3" height="1.37" rx="0" fill="#e2eefa" stroke="none" stroke-width="1" />
<rect x="73" y="389.62" width="103.6" height="1.37" rx="0" fill="#e0edfa" stroke="none" stroke-width="1" />
<rect x="15.7" y="390.94" width="57.3" height="1.37" rx="0" fill="#eef4fc" stroke="none" stroke-width="1" />
<rect x="73" y="390.94" width="103.6" height="1.37" rx="0" fill="#e4effb" stroke="none" stroke-width="1" />
<rect x="15.7" y="392.26" width="57.3" height="1.37" rx="0" fill="#deecfa" stroke="none" stroke-width="1" />
<rect x="73" y="392.26" width="103.6" height="1.37" rx="0" fill="#e1edfa" stroke="none" stroke-width="1" />
<rect x="15.7" y="393.57" width="57.3" height="1.37" rx="0" fill="#f3f7fd" stroke="none" stroke-width="1" />
<rect x="73" y="393.57" width="103.6" height="1.37" rx="0" fill="#d5e7f8" stroke="none" stroke-width="1" />
<rect x="15.7" y="394.89" width="57.3" height="1.37" rx="0" fill="#e7f1fb" stroke="none" stroke-width="1" />
<rect x="73" y="394.89" width="103.6" height="1.37" rx="0" fill="#d4e6f8" stroke="none" stroke-width="1" />
<rect x="15.7" y="396.21" width="57.3" height="1.37" rx="0" fill="#e3effa" stroke="none" stroke-width="1" />
<rect x="73" y="396.21" width="103.6" height="1.37" rx="0" fill="#d6e7f8" stroke="none" stroke-width="1" />
<rect x="15.7" y="397.53" width="57.3" height="1.37" rx="0" fill="#e1edfa" stroke="none" stroke-width="1" />
<rect x="73" y="397.53" width="103.6" height="1.37" rx="0" fill="#d3e5f8" stroke="none" stroke-width="1" />
<rect x="15.7" y="398.84" width="57.3" height="1.37" rx="0" fill="#f5f8fd" stroke="none" stroke-width="1" />
<rect x="73" y="398.84" width="103.6" height="1.37" rx="0" fill="#dcebf9" stroke="none" stroke-width="1" />
<rect x="15.7" y="400.16" width="57.3" height="1.37" rx="0" fill="#e0edfa" stroke="none" stroke-width="1" />
<rect x="73" y="400.16" width="103.6" height="1.37" rx="0" fill="#deecfa" stroke="none" stroke-width="1" />
<rect x="15.7" y="401.48" width="57.3" height="1.37" rx="0" fill="#eff5fc" stroke="none" stroke-width="1" />
<rect x="73" y="401.48" width="103.6" height="1.37" rx="0" fill="#dae9f9" stroke="none" stroke-width="1" />
<rect x="15.7" y="402.79" width="57.3" height="1.37" rx="0" fill="#e0edfa" stroke="none" stroke-width="1" />
<rect x="73" y="402.79" width="103.6" height="1.37" rx="0" fill="#d3e6f8" stroke="none" stroke-width="1" />
<rect x="15.7" y="404.11" width="57.3" height="1.37" rx="0" fill="#ebf3fc" stroke="none" stroke-width="1" />
<rect x="73" y="404.11" width="103.6" height="1.37" rx="0" fill="#ddebf9" stroke="none" stroke-width="1" />
<rect x="15.7" y="405.43" width="57.3" height="1.37" rx="0" fill="#ecf3fc" stroke="none" stroke-width="1" />
<rect x="73" y="405.43" width="103.6" height="1.37" rx="0" fill="#d4e6f8" stroke="none" stroke-width="1" />
<rect x="15.7" y="406.75" width="57.3" height="1.37" rx="0" fill="#e6f0fb" stroke="none" stroke-width="1" />
<rect x="73" y="406.75" width="103.6" height="1.37" rx="0" fill="#dae9f9" stroke="none" stroke-width="1" />
<rect x="15.7" y="408.06" width="57.3" height="1.37" rx="0" fill="#e9f1fb" stroke="none" stroke-width="1" />
<rect x="73" y="408.06" width="103.6" height="1.37" rx="0" fill="#dcebf9" stroke="none" stroke-width="1" />
<rect x="15.7" y="409.38" width="57.3" height="1.37" rx="0" fill="#f0f5fc" stroke="none" stroke-width="1" />
<rect x="73" y="409.38" width="103.6" height="1.37" rx="0" fill="#e4effa" stroke="none" stroke-width="1" />
<rect x="15.7" y="410.7" width="57.3" height="1.37" rx="0" fill="#f1f6fd" stroke="none" stroke-width="1" />
<rect x="73" y="410.7" width="103.6" height="1.37" rx="0" fill="#cfe3f7" stroke="none" stroke-width="1" />
<rect x="15.7" y="412.02" width="57.3" height="1.37" rx="0" fill="#f2f6fd" stroke="none" stroke-width="1" />
<rect x="73" y="412.02" width="103.6" height="1.37" rx="0" fill="#e1edfa" stroke="none" stroke-width="1" />
<rect x="15.7" y="413.33" width="57.3" height="1.37" rx="0" fill="#e0edfa" stroke="none" stroke-width="1" />
<rect x="73" y="413.33" width="103.6" height="1.37" rx="0" fill="#cfe3f7" stroke="none" stroke-width="1" />
<rect x="15.7" y="414.65" width="57.3" height="1.37" rx="0" fill="#e8f1fb" stroke="none" stroke-width="1" />
<rect x="73" y="414.65" width="103.6" height="1.37" rx="0" fill="#e3eefa" stroke="none" stroke-width="1" />
<rect x="15.7" y="415.97" width="57.3" height="1.37" rx="0" fill="#dfecfa" stroke="none" stroke-width="1" />
<rect x="73" y="415.97" width="103.6" height="1.37" rx="0" fill="#dfecfa" stroke="none" stroke-width="1" />
<rect x="15.7" y="417.29" width="57.3" height="1.37" rx="0" fill="#e9f2fb" stroke="none" stroke-width="1" />
<rect x="73" y="417.29" width="103.6" height="1.37" rx="0" fill="#dcebf9" stroke="none" stroke-width="1" />
<rect x="15.7" y="418.6" width="57.3" height="1.37" rx="0" fill="#e4effb" stroke="none" stroke-width="1" />
<rect x="73" y="418.6" width="103.6" height="1.37" rx="0" fill="#ddebf9" stroke="none" stroke-width="1" />
<rect x="15.7" y="419.92" width="57.3" height="1.37" rx="0" fill="#e4effb" stroke="none" stroke-width="1" />
<rect x="73" y="419.92" width="103.6" height="1.37" rx="0" fill="#d0e3f7" stroke="none" stroke-width="1" />
<rect x="15.7" y="421.24" width="57.3" height="1.37" rx="0" fill="#deebfa" stroke="none" stroke-width="1" />
<rect x="73" y="421.24" width="103.6" height="1.37" rx="0" fill="#dbeaf9" stroke="none" stroke-width="1" />
<rect x="15.7" y="422.55" width="57.3" height="1.37" rx="0" fill="#ebf3fc" stroke="none" stroke-width="1" />
<rect x="73" y="422.55" width="103.6" height="1.37" rx="0" fill="#e4effa" stroke="none" stroke-width="1" />
<rect x="15.7" y="423.87" width="57.3" height="1.37" rx="0" fill="#f2f6fd" stroke="none" stroke-width="1" />
<rect x="73" y="423.87" width="103.6" height="1.37" rx="0" fill="#d4e6f8" stroke="none" stroke-width="1" />
<rect x="15.7" y="425.19" width="57.3" height="1.37" rx="0" fill="#ecf3fc" stroke="none" stroke-width="1" />
<rect x="73" y="425.19" width="103.6" height="1.37" rx="0" fill="#e4effb" stroke="none" stroke-width="1" />
<rect x="15.7" y="426.51" width="57.3" height="1.37" rx="0" fill="#e7f1fb" stroke="none" stroke-width="1" />
<rect x="73" y="426.51" width="103.6" height="1.37" rx="0" fill="#dceaf9" stroke="none" stroke-width="1" />
<rect x="15.7" y="427.82" width="57.3" height="1.37" rx="0" fill="#f0f6fc" stroke="none" stroke-width="1" />
<rect x="73" y="427.82" width="103.6" height="1.37" rx="0" fill="#deebfa" stroke="none" stroke-width="1" />
<rect x="15.7" y="429.14" width="57.3" height="1.37" rx="0" fill="#ebf2fc" stroke="none" stroke-width="1" />
<rect x="73" y="429.14" width="103.6" height="1.37" rx="0" fill="#e4effa" stroke="none" stroke-width="1" />
<rect x="15.7" y="430.46" width="57.3" height="1.37" rx="0" fill="#f3f7fd" stroke="none" stroke-width="1" />
<rect x="73" y="430.46" width="103.6" height="1.37" rx="0" fill="#e2edfa" stroke="none" stroke-width="1" />
<rect x="15.7" y="431.78" width="57.3" height="1.37" rx="0" fill="#f6f9fd" stroke="none" stroke-width="1" />
<rect x="73" y="431.78" width="103.6" height="1.37" rx="0" fill="#cee3f7" stroke="none" stroke-width="1" />
<rect x="15.7" y="433.09" width="57.3" height="1.37" rx="0" fill="#eff5fc" stroke="none" stroke-width="1" />
<rect x="73" y="433.09" width="103.6" height="1.37" rx="0" fill="#e0edfa" stroke="none" stroke-width="1" />
<rect x="15.7" y="434.41" width="57.3" height="1.37" rx="0" fill="#e8f1fb" stroke="none" stroke-width="1" />
<rect x="73" y="434.41" width="103.6" height="1.37" rx="0" fill="#d7e8f9" stroke="none" stroke-width="1" />
<rect x="15.7" y="435.73" width="57.3" height="1.37" rx="0" fill="#e6f0fb" stroke="none" stroke-width="1" />
<rect x="73" y="435.73" width="103.6" height="1.37" rx="0" fill="#d5e7f8" stroke="none" stroke-width="1" />
<rect x="15.7" y="437.05" width="57.3" height="1.37" rx="0" fill="#eef4fc" stroke="none" stroke-width="1" />
<rect x="73" y="437.05" width="103.6" height="1.37" rx="0" fill="#e0edfa" stroke="none" stroke-width="1" />
<rect x="15.7" y="438.36" width="57.3" height="1.37" rx="0" fill="#e6f0fb" stroke="none" stroke-width="1" />
<rect x="73" y="438.36" width="103.6" height="1.37" rx="0" fill="#e1edfa" stroke="none" stroke-width="1" />
<rect x="15.7" y="439.68" width="57.3" height="1.37" rx="0" fill="#f4f8fd" stroke="none" stroke-width="1" />
<rect x="73" y="439.68" width="103.6" height="1.37" rx="0" fill="#d4e6f8" stroke="none" stroke-width="1" />
<rect x="15.7" y="441" width="57.3" height="1.37" rx="0" fill="#ebf3fc" stroke="none" stroke-width="1" />
<rect x="73" y="441" width="103.6" height="1.37" rx="0" fill="#dbeaf9" stroke="none" stroke-width="1" />
<rect x="15.7" y="442.31" width="57.3" height="1.37" rx="0" fill="#f5f8fd" stroke="none" stroke-width="1" />
<rect x="73" y="442.31" width="103.6" height="1.37" rx="0" fill="#d9e9f9" stroke="none" stroke-width="1" />
<rect x="15.7" y="443.63" width="57.3" height="1.37" rx="0" fill="#ebf3fc" stroke="none" stroke-width="1" />
<rect x="73" y="443.63" width="103.6" height="1.37" rx="0" fill="#dcebf9" stroke="none" stroke-width="1" />
<rect x="15.7" y="444.95" width="57.3" height="1.37" rx="0" fill="#eff5fc" stroke="none" stroke-width="1" />
<rect x="73" y="444.95" width="103.6" height="1.37" rx="0" fill="#e2eefa" stroke="none" stroke-width="1" />
<rect x="15.7" y="446.27" width="57.3" height="1.37" rx="0" fill="#f6f9fd" stroke="none" stroke-width="1" />
<rect x="73" y="446.27" width="103.6" height="1.37" rx="0" fill="#d6e7f8" stroke="none" stroke-width="1" />
<rect x="15.7" y="447.58" width="57.3" height="1.37" rx="0" fill="#deecfa" stroke="none" stroke-width="1" />
<rect x="73" y="447.58" width="103.6" height="1.37" rx="0" fill="#ddebf9" stroke="none" stroke-width="1" />
<rect x="15.7" y="448.9" width="57.3" height="1.37" rx="0" fill="#ecf3fc" stroke="none" stroke-width="1" />
<rect x="73" y="448.9" width="103.6" height="1.37" rx="0" fill="#d9e9f9" stroke="none" stroke-width="1" />
<rect x="15.7" y="450.22" width="57.3" height="1.37" rx="0" fill="#ecf3fc" stroke="none" stroke-width="1" />
<rect x="73" y="450.22" width="103.6" height="1.37" rx="0" fill="#deecfa" stroke="none" stroke-width="1" />
<rect x="15.7" y="451.54" width="57.3" height="1.37" rx="0" fill="#e3eefa" stroke="none" stroke-width="1" />
<rect x="73" y="451.54" width="103.6" height="1.37" rx="0" fill="#d6e7f8" stroke="none" stroke-width="1" />
<rect x="15.7" y="452.85" width="57.3" height="1.37" rx="0" fill="#f0f6fc" stroke="none" stroke-width="1" />
<rect x="73" y="452.85" width="103.6" height="1.37" rx="0" fill="#cee2f7" stroke="none" stroke-width="1" />
<rect x="15.7" y="454.17" width="57.3" height="1.37" rx="0" fill="#deebfa" stroke="none" stroke-width="1" />
<rect x="73" y="454.17" width="103.6" height="1.37" rx="0" fill="#e5effb" stroke="none" stroke-width="1" />
<rect x="15.7" y="455.49" width="57.3" height="1.37" rx="0" fill="#f3f7fd" stroke="none" stroke-width="1" />
<rect x="73" y="455.49" width="103.6" height="1.37" rx="0" fill="#deecfa" stroke="none" stroke-width="1" />
<rect x="15.7" y="456.81" width="57.3" height="1.37" rx="0" fill="#e5effb" stroke="none" stroke-width="1" />
<rect x="73" y="456.81" width="103.6" height="1.37" rx="0" fill="#d5e7f8" stroke="none" stroke-width="1" />
<rect x="15.7" y="458.12" width="57.3" height="1.37" rx="0" fill="#deebfa" stroke="none" stroke-width="1" />
<rect x="73" y="458.12" width="103.6" height="1.37" rx="0" fill="#e3eefa" stroke="none" stroke-width="1" />
<rect x="15.7" y="459.44" width="57.3" height="1.37" rx="0" fill="#e4effb" stroke="none" stroke-width="1" />
<rect x="73" y="459.44" width="103.6" height="1.37" rx="0" fill="#d5e7f8" stroke="none" stroke-width="1" />
<rect x="15.7" y="460.76" width="57.3" height="1.37" rx="0" fill="#f4f8fd" stroke="none" stroke-width="1" />
<rect x="73" y="460.76" width="103.6" height="1.37" rx="0" fill="#deebfa" stroke="none" stroke-width="1" />
<rect x="15.7" y="462.07" width="57.3" height="1.37" rx="0" fill="#eef4fc" stroke="none" stroke-width="1" />
<rect x="73" y="462.07" width="103.6" height="1.37" rx="0" fill="#deebfa" stroke="none" stroke-width="1" />
<rect x="15.7" y="463.39" width="57.3" height="1.37" rx="0" fill="#f2f6fd" stroke="none" stroke-width="1" />
<rect x="73" y="463.39" width="103.6" height="1.37" rx="0" fill="#e5effb" stroke="none" stroke-width="1" />
<rect x="15.7" y="464.71" width="57.3" height="1.37" rx="0" fill="#e7f1fb" stroke="none" stroke-width="1" />
<rect x="73" y="464.71" width="103.6" height="1.37" rx="0" fill="#deebfa" stroke="none" stroke-width="1" />
<rect x="15.7" y="466.03" width="57.3" height="1.37" rx="0" fill="#deebfa" stroke="none" stroke-width="1" />
<rect x="73" y="466.03" width="103.6" height="1.37" rx="0" fill="#d0e4f7" stroke="none" stroke-width="1" />
<rect x="15.7" y="467.34" width="57.3" height="1.37" rx="0" fill="#e8f1fb" stroke="none" stroke-width="1" />
<rect x="73" y="467.34" width="103.6" height="1.37" rx="0" fill="#d4e6f8" stroke="none" stroke-width="1" />
<rect x="15.7" y="468.66" width="57.3" height="1.37" rx="0" fill="#f1f6fd" stroke="none" stroke-width="1" />
<rect x="73" y="468.66" width="103.6" height="1.37" rx="0" fill="#d1e4f8" stroke="none" stroke-width="1" />
<rect x="15.7" y="469.98" width="57.3" height="1.37" rx="0" fill="#e2eefa" stroke="none" stroke-width="1" />
<rect x="73" y="469.98" width="103.6" height="1.37" rx="0" fill="#d9e9f9" stroke="none" stroke-width="1" />
<rect x="15.7" y="471.3" width="57.3" height="1.37" rx="0" fill="#eef4fc" stroke="none" stroke-width="1" />
<rect x="73" y="471.3" width="103.6" height="1.37" rx="0" fill="#d4e6f8" stroke="none" stroke-width="1" />
<rect x="15.7" y="472.61" width="57.3" height="1.37" rx="0" fill="#f1f6fd" stroke="none" stroke-width="1" />
<rect x="73" y="472.61" width="103.6" height="1.37" rx="0" fill="#e3eefa" stroke="none" stroke-width="1" />
<rect x="15.7" y="473.93" width="57.3" height="1.37" rx="0" fill="#f6f9fd" stroke="none" stroke-width="1" />
<rect x="73" y="473.93" width="103.6" height="1.37" rx="0" fill="#e3eefa" stroke="none" stroke-width="1" />
<rect x="15.7" y="475.25" width="57.3" height="1.37" rx="0" fill="#e5effb" stroke="none" stroke-width="1" />
<rect x="73" y="475.25" width="103.6" height="1.37" rx="0" fill="#cfe3f7" stroke="none" stroke-width="1" />
<rect x="15.7" y="476.57" width="57.3" height="1.37" rx="0" fill="#f4f7fd" stroke="none" stroke-width="1" />
<rect x="73" y="476.57" width="103.6" height="1.37" rx="0" fill="#d7e8f8" stroke="none" stroke-width="1" />
<rect x="15.7" y="477.88" width="57.3" height="1.37" rx="0" fill="#d3e5f8" stroke="none" stroke-width="1" />
<rect x="73" y="477.88" width="103.6" height="1.37" rx="0" fill="#eaf2fb" stroke="none" stroke-width="1" />
<rect x="15.7" y="479.2" width="57.3" height="1.37" rx="0" fill="#c3dcf6" stroke="none" stroke-width="1" />
<rect x="73" y="479.2" width="103.6" height="1.37" rx="0" fill="#eef4fc" stroke="none" stroke-width="1" />
<rect x="15.7" y="480.52" width="57.3" height="1.37" rx="0" fill="#d1e4f8" stroke="none" stroke-width="1" />
<rect x="73" y="480.52" width="103.6" height="1.37" rx="0" fill="#e8f1fb" stroke="none" stroke-width="1" />
<rect x="15.7" y="481.83" width="57.3" height="1.37" rx="0" fill="#cbe1f7" stroke="none" stroke-width="1" />
<rect x="73" y="481.83" width="103.6" height="1.37" rx="0" fill="#deebfa" stroke="none" stroke-width="1" />
<rect x="15.7" y="483.15" width="57.3" height="1.37" rx="0" fill="#c3dcf6" stroke="none" stroke-width="1" />
<rect x="73" y="483.15" width="103.6" height="1.37" rx="0" fill="#e0edfa" stroke="none" stroke-width="1" />
<rect x="15.7" y="484.47" width="57.3" height="1.37" rx="0" fill="#b9d7f4" stroke="none" stroke-width="1" />
<rect x="73" y="484.47" width="103.6" height="1.37" rx="0" fill="#dcebf9" stroke="none" stroke-width="1" />
<rect x="15.7" y="485.79" width="57.3" height="1.37" rx="0" fill="#bed9f5" stroke="none" stroke-width="1" />
<rect x="73" y="485.79" width="103.6" height="1.37" rx="0" fill="#deebfa" stroke="none" stroke-width="1" />
<rect x="15.7" y="487.1" width="57.3" height="1.37" rx="0" fill="#cee2f7" stroke="none" stroke-width="1" />
<rect x="73" y="487.1" width="103.6" height="1.37" rx="0" fill="#e6f0fb" stroke="none" stroke-width="1" />
<rect x="15.7" y="488.42" width="57.3" height="1.37" rx="0" fill="#b9d6f4" stroke="none" stroke-width="1" />
<rect x="73" y="488.42" width="103.6" height="1.37" rx="0" fill="#ecf3fc" stroke="none" stroke-width="1" />
<rect x="15.7" y="489.74" width="57.3" height="1.37" rx="0" fill="#d3e5f8" stroke="none" stroke-width="1" />
<rect x="73" y="489.74" width="103.6" height="1.37" rx="0" fill="#ddebf9" stroke="none" stroke-width="1" />
<rect x="15.7" y="491.06" width="57.3" height="1.37" rx="0" fill="#b8d6f4" stroke="none" stroke-width="1" />
<rect x="73" y="491.06" width="103.6" height="1.37" rx="0" fill="#e5effb" stroke="none" stroke-width="1" />
<rect x="15.7" y="492.37" width="57.3" height="1.37" rx="0" fill="#cae0f7" stroke="none" stroke-width="1" />
<rect x="73" y="492.37" width="103.6" height="1.37" rx="0" fill="#e5effb" stroke="none" stroke-width="1" />
<rect x="15.7" y="493.69" width="57.3" height="1.37" rx="0" fill="#dcebf9" stroke="none" stroke-width="1" />
<rect x="73" y="493.69" width="103.6" height="1.37" rx="0" fill="#e3eefa" stroke="none" stroke-width="1" />
<rect x="15.7" y="495.01" width="57.3" height="1.37" rx="0" fill="#dfecfa" stroke="none" stroke-width="1" />
<rect x="73" y="495.01" width="103.6" height="1.37" rx="0" fill="#e0ecfa" stroke="none" stroke-width="1" />
<rect x="15.7" y="496.33" width="57.3" height="1.37" rx="0" fill="#deecfa" stroke="none" stroke-width="1" />
<rect x="73" y="496.33" width="103.6" height="1.37" rx="0" fill="#edf4fc" stroke="none" stroke-width="1" />
<rect x="15.7" y="497.64" width="57.3" height="1.37" rx="0" fill="#dbeaf9" stroke="none" stroke-width="1" />
<rect x="73" y="497.64" width="103.6" height="1.37" rx="0" fill="#dceaf9" stroke="none" stroke-width="1" />
<rect x="15.7" y="498.96" width="57.3" height="1.37" rx="0" fill="#e3effa" stroke="none" stroke-width="1" />
<rect x="73" y="498.96" width="103.6" height="1.37" rx="0" fill="#e8f1fb" stroke="none" stroke-width="1" />
<rect x="15.7" y="500.28" width="57.3" height="1.37" rx="0" fill="#e2eefa" stroke="none" stroke-width="1" />
<rect x="73" y="500.28" width="103.6" height="1.37" rx="0" fill="#dcebf9" stroke="none" stroke-width="1" />
<rect x="15.7" y="501.59" width="57.3" height="1.37" rx="0" fill="#dae9f9" stroke="none" stroke-width="1" />
<rect x="73" y="501.59" width="103.6" height="1.37" rx="0" fill="#e6f0fb" stroke="none" stroke-width="1" />
<rect x="15.7" y="502.91" width="57.3" height="1.37" rx="0" fill="#d9e9f9" stroke="none" stroke-width="1" />
<rect x="73" y="502.91" width="103.6" height="1.37" rx="0" fill="#dcebf9" stroke="none" stroke-width="1" />
<rect x="15.7" y="504.23" width="57.3" height="1.37" rx="0" fill="#edf4fc" stroke="none" stroke-width="1" />
<rect x="73" y="504.23" width="103.6" height="1.37" rx="0" fill="#dbeaf9" stroke="none" stroke-width="1" />
<rect x="15.7" y="505.55" width="57.3" height="1.37" rx="0" fill="#e4effa" stroke="none" stroke-width="1" />
<rect x="73" y="505.55" width="103.6" height="1.37" rx="0" fill="#e4effb" stroke="none" stroke-width="1" />
<rect x="15.7" y="506.86" width="57.3" height="1.37" rx="0" fill="#d8e8f9" stroke="none" stroke-width="1" />
<rect x="73" y="506.86" width="103.6" height="1.37" rx="0" fill="#dbeaf9" stroke="none" stroke-width="1" />
<rect x="15.7" y="508.18" width="57.3" height="1.37" rx="0" fill="#e7f0fb" stroke="none" stroke-width="1" />
<rect x="73" y="508.18" width="103.6" height="1.37" rx="0" fill="#e4effb" stroke="none" stroke-width="1" />
<rect x="15.7" y="509.5" width="57.3" height="1.37" rx="0" fill="#e2eefa" stroke="none" stroke-width="1" />
<rect x="73" y="509.5" width="103.6" height="1.37" rx="0" fill="#dfecfa" stroke="none" stroke-width="1" />
<rect x="15.7" y="510.82" width="57.3" height="1.37" rx="0" fill="#e0edfa" stroke="none" stroke-width="1" />
<rect x="73" y="510.82" width="103.6" height="1.37" rx="0" fill="#e4effb" stroke="none" stroke-width="1" />
<rect x="15.7" y="512.13" width="57.3" height="1.37" rx="0" fill="#e1edfa" stroke="none" stroke-width="1" />
<rect x="73" y="512.13" width="103.6" height="1.37" rx="0" fill="#e9f2fb" stroke="none" stroke-width="1" />
<rect x="15.7" y="513.45" width="57.3" height="1.37" rx="0" fill="#deecfa" stroke="none" stroke-width="1" />
<rect x="73" y="513.45" width="103.6" height="1.37" rx="0" fill="#e5effb" stroke="none" stroke-width="1" />
<rect x="15.7" y="514.77" width="57.3" height="1.37" rx="0" fill="#eef4fc" stroke="none" stroke-width="1" />
<rect x="73" y="514.77" width="103.6" height="1.37" rx="0" fill="#dfecfa" stroke="none" stroke-width="1" />
<rect x="15.7" y="516.09" width="57.3" height="1.37" rx="0" fill="#deecfa" stroke="none" stroke-width="1" />
<rect x="73" y="516.09" width="103.6" height="1.37" rx="0" fill="#dbeaf9" stroke="none" stroke-width="1" />
<rect x="15.7" y="517.4" width="57.3" height="1.37" rx="0" fill="#d7e8f8" stroke="none" stroke-width="1" />
<rect x="73" y="517.4" width="103.6" height="1.37" rx="0" fill="#d9e9f9" stroke="none" stroke-width="1" />
<rect x="15.7" y="518.72" width="57.3" height="1.37" rx="0" fill="#dcebf9" stroke="none" stroke-width="1" />
<rect x="73" y="518.72" width="103.6" height="1.37" rx="0" fill="#e4effb" stroke="none" stroke-width="1" />
<rect x="15.7" y="520.04" width="57.3" height="1.37" rx="0" fill="#e5effb" stroke="none" stroke-width="1" />
<rect x="73" y="520.04" width="103.6" height="1.37" rx="0" fill="#e5effb" stroke="none" stroke-width="1" />
<rect x="15.7" y="521.35" width="57.3" height="1.37" rx="0" fill="#ecf3fc" stroke="none" stroke-width="1" />
<rect x="73" y="521.35" width="103.6" height="1.37" rx="0" fill="#dbeaf9" stroke="none" stroke-width="1" />
<rect x="15.7" y="522.67" width="57.3" height="1.37" rx="0" fill="#e1edfa" stroke="none" stroke-width="1" />
<rect x="73" y="522.67" width="103.6" height="1.37" rx="0" fill="#e7f1fb" stroke="none" stroke-width="1" />
<rect x="15.7" y="523.99" width="57.3" height="1.37" rx="0" fill="#e7f0fb" stroke="none" stroke-width="1" />
<rect x="73" y="523.99" width="103.6" height="1.37" rx="0" fill="#eaf2fb" stroke="none" stroke-width="1" />
<rect x="15.7" y="525.31" width="57.3" height="1.37" rx="0" fill="#dceaf9" stroke="none" stroke-width="1" />
<rect x="73" y="525.31" width="103.6" height="1.37" rx="0" fill="#eaf2fc" stroke="none" stroke-width="1" />
<rect x="15.7" y="526.62" width="57.3" height="1.37" rx="0" fill="#e8f1fb" stroke="none" stroke-width="1" />
<rect x="73" y="526.62" width="103.6" height="1.37" rx="0" fill="#dbeaf9" stroke="none" stroke-width="1" />
<rect x="15.7" y="527.94" width="57.3" height="1.37" rx="0" fill="#eef4fc" stroke="none" stroke-width="1" />
<rect x="73" y="527.94" width="103.6" height="1.37" rx="0" fill="#daeaf9" stroke="none" stroke-width="1" />
<rect x="15.7" y="529.26" width="57.3" height="1.37" rx="0" fill="#ddebf9" stroke="none" stroke-width="1" />
<rect x="73" y="529.26" width="103.6" height="1.37" rx="0" fill="#dbeaf9" stroke="none" stroke-width="1" />
<rect x="15.7" y="530.58" width="57.3" height="1.37" rx="0" fill="#dbeaf9" stroke="none" stroke-width="1" />
<rect x="73" y="530.58" width="103.6" height="1.37" rx="0" fill="#e7f0fb" stroke="none" stroke-width="1" />
<rect x="15.7" y="531.89" width="57.3" height="1.37" rx="0" fill="#dcebf9" stroke="none" stroke-width="1" />
<rect x="73" y="531.89" width="103.6" height="1.37" rx="0" fill="#deecfa" stroke="none" stroke-width="1" />
<rect x="15.7" y="533.21" width="57.3" height="1.37" rx="0" fill="#d9e9f9" stroke="none" stroke-width="1" />
<rect x="73" y="533.21" width="103.6" height="1.37" rx="0" fill="#e6f0fb" stroke="none" stroke-width="1" />
<rect x="15.7" y="534.53" width="57.3" height="1.37" rx="0" fill="#eaf2fc" stroke="none" stroke-width="1" />
<rect x="73" y="534.53" width="103.6" height="1.37" rx="0" fill="#dceaf9" stroke="none" stroke-width="1" />
<rect x="15.7" y="535.85" width="57.3" height="1.37" rx="0" fill="#dfecfa" stroke="none" stroke-width="1" />
<rect x="73" y="535.85" width="103.6" height="1.37" rx="0" fill="#dbeaf9" stroke="none" stroke-width="1" />
<rect x="15.7" y="537.16" width="57.3" height="1.37" rx="0" fill="#d9e9f9" stroke="none" stroke-width="1" />
<rect x="73" y="537.16" width="103.6" height="1.37" rx="0" fill="#e1edfa" stroke="none" stroke-width="1" />
<rect x="15.7" y="538.48" width="57.3" height="1.37" rx="0" fill="#e9f2fb" stroke="none" stroke-width="1" />
<rect x="73" y="538.48" width="103.6" height="1.37" rx="0" fill="#d9e9f9" stroke="none" stroke-width="1" />
<rect x="15.7" y="539.8" width="57.3" height="1.37" rx="0" fill="#dceaf9" stroke="none" stroke-width="1" />
<rect x="73" y="539.8" width="103.6" height="1.37" rx="0" fill="#e8f1fb" stroke="none" stroke-width="1" />
<rect x="15.7" y="541.11" width="57.3" height="1.37" rx="0" fill="#d6e7f8" stroke="none" stroke-width="1" />
<rect x="73" y="541.11" width="103.6" height="1.37" rx="0" fill="#d9e9f9" stroke="none" stroke-width="1" />
<rect x="15.7" y="542.43" width="57.3" height="1.37" rx="0" fill="#ecf3fc" stroke="none" stroke-width="1" />
<rect x="73" y="542.43" width="103.6" height="1.37" rx="0" fill="#e9f1fb" stroke="none" stroke-width="1" />
<rect x="15.7" y="543.75" width="57.3" height="1.37" rx="0" fill="#edf4fc" stroke="none" stroke-width="1" />
<rect x="73" y="543.75" width="103.6" height="1.37" rx="0" fill="#e1edfa" stroke="none" stroke-width="1" />
<rect x="15.7" y="545.07" width="57.3" height="1.37" rx="0" fill="#daeaf9" stroke="none" stroke-width="1" />
<rect x="73" y="545.07" width="103.6" height="1.37" rx="0" fill="#e7f1fb" stroke="none" stroke-width="1" />
<rect x="15.7" y="546.38" width="57.3" height="1.37" rx="0" fill="#e9f1fb" stroke="none" stroke-width="1" />
<rect x="73" y="546.38" width="103.6" height="1.37" rx="0" fill="#e9f2fb" stroke="none" stroke-width="1" />
<rect x="15.7" y="547.7" width="57.3" height="1.37" rx="0" fill="#ddebf9" stroke="none" stroke-width="1" />
<rect x="73" y="547.7" width="103.6" height="1.37" rx="0" fill="#e1edfa" stroke="none" stroke-width="1" />
<rect x="15.7" y="549.02" width="57.3" height="1.37" rx="0" fill="#dae9f9" stroke="none" stroke-width="1" />
<rect x="73" y="549.02" width="103.6" height="1.37" rx="0" fill="#d8e8f9" stroke="none" stroke-width="1" />
<rect x="15.7" y="550.34" width="57.3" height="1.37" rx="0" fill="#e4effa" stroke="none" stroke-width="1" />
<rect x="73" y="550.34" width="103.6" height="1.37" rx="0" fill="#e0edfa" stroke="none" stroke-width="1" />
<rect x="15.7" y="551.65" width="57.3" height="1.37" rx="0" fill="#e2eefa" stroke="none" stroke-width="1" />
<rect x="73" y="551.65" width="103.6" height="1.37" rx="0" fill="#eaf2fb" stroke="none" stroke-width="1" />
<rect x="15.7" y="552.97" width="57.3" height="1.37" rx="0" fill="#e1edfa" stroke="none" stroke-width="1" />
<rect x="73" y="552.97" width="103.6" height="1.37" rx="0" fill="#dcebf9" stroke="none" stroke-width="1" />
<rect x="15.7" y="554.29" width="57.3" height="1.37" rx="0" fill="#d9e9f9" stroke="none" stroke-width="1" />
<rect x="73" y="554.29" width="103.6" height="1.37" rx="0" fill="#e0edfa" stroke="none" stroke-width="1" />
<rect x="15.7" y="555.61" width="57.3" height="1.37" rx="0" fill="#ddebf9" stroke="none" stroke-width="1" />
<rect x="73" y="555.61" width="103.6" height="1.37" rx="0" fill="#eaf2fb" stroke="none" stroke-width="1" />
<rect x="15.7" y="556.92" width="57.3" height="1.37" rx="0" fill="#ecf3fc" stroke="none" stroke-width="1" />
<rect x="73" y="556.92" width="103.6" height="1.37" rx="0" fill="#e1edfa" stroke="none" stroke-width="1" />
<rect x="15.7" y="558.24" width="57.3" height="1.37" rx="0" fill="#e5effb" stroke="none" stroke-width="1" />
<rect x="73" y="558.24" width="103.6" height="1.37" rx="0" fill="#e6f0fb" stroke="none" stroke-width="1" />
<rect x="15.7" y="559.56" width="57.3" height="1.37" rx="0" fill="#ddebf9" stroke="none" stroke-width="1" />
<rect x="73" y="559.56" width="103.6" height="1.37" rx="0" fill="#e3eefa" stroke="none" stroke-width="1" />
<rect x="15.7" y="560.87" width="57.3" height="1.37" rx="0" fill="#e9f1fb" stroke="none" stroke-width="1" />
<rect x="73" y="560.87" width="103.6" height="1.37" rx="0" fill="#eaf2fb" stroke="none" stroke-width="1" />
<rect x="15.7" y="562.19" width="57.3" height="1.37" rx="0" fill="#e2eefa" stroke="none" stroke-width="1" />
<rect x="73" y="562.19" width="103.6" height="1.37" rx="0" fill="#dcebf9" stroke="none" stroke-width="1" />
<rect x="15.7" y="563.51" width="57.3" height="1.37" rx="0" fill="#d4e6f8" stroke="none" stroke-width="1" />
<rect x="73" y="563.51" width="103.6" height="1.37" rx="0" fill="#e5effb" stroke="none" stroke-width="1" />
<rect x="15.7" y="564.83" width="57.3" height="1.37" rx="0" fill="#e0edfa" stroke="none" stroke-width="1" />
<rect x="73" y="564.83" width="103.6" height="1.37" rx="0" fill="#dbeaf9" stroke="none" stroke-width="1" />
<rect x="15.7" y="566.14" width="57.3" height="1.37" rx="0" fill="#edf4fc" stroke="none" stroke-width="1" />
<rect x="73" y="566.14" width="103.6" height="1.37" rx="0" fill="#d9e9f9" stroke="none" stroke-width="1" />
<rect x="15.7" y="567.46" width="57.3" height="1.37" rx="0" fill="#e0edfa" stroke="none" stroke-width="1" />
<rect x="73" y="567.46" width="103.6" height="1.37" rx="0" fill="#ddebf9" stroke="none" stroke-width="1" />
<rect x="15.7" y="568.78" width="57.3" height="1.37" rx="0" fill="#d7e7f8" stroke="none" stroke-width="1" />
<rect x="73" y="568.78" width="103.6" height="1.37" rx="0" fill="#e5f0fb" stroke="none" stroke-width="1" />
<rect x="15.7" y="570.1" width="57.3" height="1.37" rx="0" fill="#e0edfa" stroke="none" stroke-width="1" />
<rect x="73" y="570.1" width="103.6" height="1.37" rx="0" fill="#e6f0fb" stroke="none" stroke-width="1" />
<rect x="15.7" y="571.41" width="57.3" height="1.37" rx="0" fill="#e4effb" stroke="none" stroke-width="1" />
<rect x="73" y="571.41" width="103.6" height="1.37" rx="0" fill="#e7f0fb" stroke="none" stroke-width="1" />
<rect x="15.7" y="572.73" width="57.3" height="1.37" rx="0" fill="#dbeaf9" stroke="none" stroke-width="1" />
<rect x="73" y="572.73" width="103.6" height="1.37" rx="0" fill="#dae9f9" stroke="none" stroke-width="1" />
<rect x="15.7" y="574.05" width="57.3" height="1.37" rx="0" fill="#dceaf9" stroke="none" stroke-width="1" />
<rect x="73" y="574.05" width="103.6" height="1.37" rx="0" fill="#e6f0fb" stroke="none" stroke-width="1" />
<rect x="15.7" y="575.37" width="57.3" height="1.37" rx="0" fill="#dae9f9" stroke="none" stroke-width="1" />
<rect x="73" y="575.37" width="103.6" height="1.37" rx="0" fill="#e0ecfa" stroke="none" stroke-width="1" />
<rect x="15.7" y="576.68" width="57.3" height="1.37" rx="0" fill="#ecf3fc" stroke="none" stroke-width="1" />
<rect x="73" y="576.68" width="103.6" height="1.37" rx="0" fill="#d9e9f9" stroke="none" stroke-width="1" />
</g>
<path d="M19.6 381.1h0.8M22.3 381.1h1.0M26.1 381.1h1.4M34.5 381.1h1.0M37.0 381.1h1.0M39.1 381.1h1.0M45.9 381.1h1.4M50.6 381.1h1.4M71.0 381.1h1.4M81.7 381.1h1.0M85.2 381.1h1.0M87.5 381.1h1.4M108.1 381.1h1.4M115.0 381.1h0.8M119.7 381.1h1.0M136.5 381.1h0.5M165.4 381.1h0.8M172.7 381.1h0.5M28.3 382.4h1.4M36.9 382.4h0.8M40.9 382.4h0.8M45.7 382.4h0.8M58.7 382.4h1.4M68.4 382.4h1.4M74.2 382.4h1.4M82.1 382.4h0.8M85.2 382.4h0.8M87.3 382.4h1.4M93.5 382.4h1.4M112.2 382.4h1.4M116.4 382.4h1.4M135.0 382.4h1.4M138.3 382.4h1.4M145.4 382.4h1.0M150.5 382.4h0.5M153.3 382.4h1.4M163.2 382.4h1.4M168.6 382.4h1.4M171.3 382.4h0.5M22.4 383.7h0.8M23.9 383.7h1.4M52.5 383.7h1.4M54.6 383.7h0.5M62.7 383.7h1.0M65.2 383.7h1.0M70.9 383.7h0.8M75.0 383.7h1.4M86.1 383.7h1.0M89.5 383.7h1.0M98.9 383.7h0.5M111.8 383.7h0.8M133.8 383.7h0.5M138.2 383.7h0.8M140.8 383.7h0.8M144.6 383.7h1.4M19.1 385.0h1.0M23.1 385.0h0.5M27.9 385.0h0.5M30.1 385.0h0.8M37.4 385.0h0.8M64.0 385.0h0.8M65.6 385.0h1.4M73.2 385.0h1.0M85.7 385.0h1.0M90.4 385.0h0.5M93.1 385.0h0.5M94.3 385.0h0.5M95.8 385.0h0.5M110.1 385.0h1.4M127.3 385.0h0.8M162.9 385.0h1.0M20.0 386.3h1.4M30.1 386.3h1.4M41.7 386.3h0.5M44.7 386.3h0.5M46.4 386.3h1.4M51.7 386.3h1.0M58.2 386.3h1.4M62.6 386.3h1.0M68.3 386.3h0.5M70.6 386.3h1.0M72.3 386.3h1.4M84.1 386.3h0.8M100.3 386.3h0.5M121.1 386.3h0.8M134.5 386.3h0.8M139.7 386.3h0.5M141.5 386.3h1.4M144.0 386.3h1.0M146.3 386.3h0.5M161.6 386.3h0.5M165.7 386.3h0.8M170.5 386.3h0.5M174.4 386.3h1.0M39.8 387.6h0.8M42.0 387.6h0.5M54.6 387.6h1.0M56.0 387.6h0.5M67.5 387.6h0.5M73.6 387.6h1.0M86.8 387.6h0.5M102.0 387.6h1.0M110.9 387.6h0.8M112.9 387.6h0.8M118.9 387.6h1.0M136.8 387.6h0.8M143.5 387.6h0.5M150.1 387.6h0.8M155.1 387.6h1.0M157.2 387.6h1.4M166.8 387.6h1.0M172.1 387.6h0.8M18.4 389.0h0.5M31.2 389.0h1.0M45.3 389.0h1.0M48.4 389.0h1.0M54.9 389.0h0.5M56.6 389.0h0.8M74.4 389.0h1.4M88.0 389.0h1.0M95.7 389.0h0.5M109.8 389.0h0.5M115.5 389.0h1.0M120.9 389.0h0.8M124.7 389.0h0.5M126.7 389.0h1.4M131.1 389.0h0.8M149.8 389.0h0.5M33.3 390.3h0.8M38.8 390.3h0.5M50.3 390.3h0.8M57.1 390.3h1.0M66.7 390.3h1.0M74.3 390.3h0.5M77.5 390.3h0.8M83.0 390.3h1.0M85.4 390.3h0.8M89.7 390.3h0.5M95.8 390.3h1.0M111.7 390.3h1.0M113.9 390.3h1.4M126.0 390.3h0.8M129.7 390.3h1.4M143.5 390.3h0.5M146.8 390.3h1.0M152.6 390.3h1.0M169.7 390.3h0.5M171.8 390.3h0.8M173.2 390.3h0.5M18.8 391.6h0.5M24.1 391.6h1.0M46.8 391.6h1.0M55.3 391.6h1.0M66.5 391.6h1.4M78.6 391.6h0.8M82.5 391.6h0.8M87.0 391.6h0.8M96.6 391.6h0.5M101.8 391.6h1.4M129.1 391.6h1.0M140.0 391.6h1.0M145.6 391.6h1.4M147.9 391.6h0.5M159.0 391.6h1.4M161.0 391.6h1.0M24.2 392.9h1.4M34.7 392.9h1.0M37.7 392.9h0.5M42.9 392.9h1.0M52.7 392.9h1.0M74.3 392.9h1.4M89.0 392.9h0.5M108.8 392.9h1.4M112.1 392.9h1.0M116.5 392.9h1.0M136.0 392.9h1.0M137.8 392.9h0.8M146.7 392.9h1.0M156.4 392.9h1.0M173.6 392.9h1.4M18.4 394.2h1.0M23.2 394.2h1.4M25.1 394.2h0.8M35.1 394.2h0.8M39.0 394.2h1.4M44.9 394.2h1.0M52.2 394.2h1.0M64.6 394.2h0.8M73.6 394.2h1.0M90.1 394.2h0.8M99.9 394.2h1.0M120.3 394.2h1.4M124.1 394.2h0.5M127.0 394.2h0.5M129.1 394.2h1.4M133.6 394.2h0.5M141.0 394.2h1.0M149.0 394.2h1.0M150.5 394.2h1.4M161.5 394.2h0.8M18.2 395.5h0.8M26.3 395.5h1.0M38.6 395.5h0.5M42.7 395.5h1.0M52.6 395.5h1.4M58.0 395.5h0.8M63.7 395.5h1.0M65.9 395.5h1.4M73.0 395.5h0.5M75.2 395.5h0.5M77.1 395.5h0.8M100.9 395.5h1.4M132.6 395.5h0.5M141.0 395.5h1.0M170.4 395.5h0.5M21.1 396.9h0.5M34.3 396.9h1.4M36.7 396.9h1.4M39.0 396.9h0.5M44.3 396.9h1.0M51.5 396.9h1.4M59.5 396.9h1.4M95.8 396.9h1.0M99.1 396.9h1.4M110.3 396.9h0.5M124.5 396.9h0.8M139.7 396.9h1.0M141.3 396.9h1.4M143.4 396.9h1.0M161.1 396.9h1.0M166.7 396.9h1.0M174.4 396.9h0.5M23.4 398.2h1.4M25.8 398.2h0.8M27.6 398.2h0.8M47.0 398.2h0.8M64.6 398.2h1.0M78.4 398.2h1.0M84.4 398.2h0.5M89.3 398.2h0.8M96.4 398.2h0.5M98.0 398.2h0.5M101.0 398.2h1.0M125.7 398.2h1.4M139.1 398.2h1.4M156.7 398.2h1.0M164.2 398.2h1.4M24.1 399.5h1.0M31.0 399.5h1.4M39.8 399.5h1.0M44.0 399.5h0.8M50.9 399.5h1.4M62.8 399.5h1.4M76.8 399.5h0.8M92.1 399.5h0.8M93.5 399.5h1.0M102.6 399.5h1.4M109.3 399.5h0.8M113.8 399.5h1.0M122.8 399.5h0.8M129.5 399.5h0.5M142.6 399.5h0.5M146.5 399.5h0.8M150.7 399.5h0.8M155.2 399.5h0.5M157.1 399.5h0.8M170.5 399.5h0.8M21.6 400.8h1.0M23.6 400.8h1.4M32.1 400.8h0.5M43.1 400.8h1.4M48.2 400.8h0.5M49.2 400.8h0.8M57.4 400.8h0.5M59.0 400.8h1.4M62.7 400.8h0.5M79.6 400.8h0.5M83.2 400.8h0.8M87.8 400.8h0.5M90.4 400.8h1.4M107.2 400.8h0.5M109.7 400.8h0.8M114.4 400.8h1.4M131.2 400.8h0.8M143.3 400.8h1.4M148.1 400.8h0.5M155.1 400.8h1.4M158.3 400.8h0.5M160.8 400.8h0.5M166.2 400.8h0.5M168.2 400.8h0.8M173.7 400.8h1.0M19.5 402.1h0.5M22.2 402.1h0.5M25.0 402.1h0.8M32.1 402.1h1.4M41.9 402.1h0.8M43.8 402.1h0.8M62.7 402.1h1.4M67.4 402.1h0.8M74.5 402.1h0.8M100.4 402.1h0.8M107.4 402.1h0.8M116.0 402.1h1.4M130.2 402.1h0.8M147.8 402.1h0.5M163.1 402.1h0.8M20.9 403.5h1.4M23.6 403.5h1.4M27.3 403.5h1.0M30.6 403.5h0.5M36.2 403.5h1.4M46.9 403.5h0.8M49.1 403.5h0.5M64.6 403.5h1.0M66.3 403.5h0.5M91.7 403.5h1.4M126.6 403.5h1.4M135.4 403.5h1.0M161.7 403.5h0.8M19.0 404.8h1.0M22.3 404.8h1.4M40.1 404.8h1.4M42.2 404.8h1.0M55.4 404.8h0.8M57.1 404.8h1.4M65.7 404.8h1.0M70.8 404.8h1.0M82.9 404.8h0.8M84.4 404.8h1.0M101.3 404.8h0.5M120.6 404.8h0.5M122.5 404.8h1.0M149.4 404.8h1.4M163.8 404.8h0.5M172.6 404.8h0.8M70.5 406.1h1.4M73.3 406.1h1.0M82.4 406.1h1.4M94.3 406.1h1.0M102.4 406.1h1.4M115.5 406.1h0.8M131.6 406.1h1.4M136.9 406.1h0.5M158.9 406.1h1.4M162.2 406.1h0.5M175.4 406.1h0.5M35.2 407.4h0.5M38.0 407.4h1.0M40.3 407.4h0.5M50.8 407.4h0.8M55.8 407.4h1.4M58.2 407.4h0.8M67.5 407.4h1.4M79.6 407.4h0.8M81.7 407.4h1.0M83.8 407.4h1.0M101.6 407.4h1.4M109.9 407.4h0.8M124.2 407.4h1.0M130.8 407.4h1.4M133.2 407.4h1.0M142.0 407.4h1.0M165.0 407.4h0.8M166.8 407.4h0.5M173.5 407.4h0.5M175.3 407.4h0.5M50.6 408.7h1.4M53.0 408.7h1.0M61.8 408.7h0.8M65.2 408.7h1.0M71.5 408.7h1.0M84.2 408.7h1.4M86.8 408.7h1.0M100.3 408.7h0.5M102.8 408.7h1.4M107.0 408.7h1.0M110.2 408.7h1.4M125.4 408.7h1.4M143.0 408.7h0.5M147.7 408.7h0.5M149.6 408.7h1.0M153.0 408.7h0.8M155.5 408.7h0.8M162.8 408.7h0.5M167.6 408.7h0.8M21.8 410.0h0.5M24.4 410.0h1.4M27.1 410.0h1.0M49.8 410.0h0.8M66.8 410.0h1.0M70.9 410.0h1.0M77.8 410.0h1.0M94.1 410.0h0.8M103.0 410.0h0.5M108.3 410.0h1.0M114.1 410.0h1.4M126.5 410.0h0.5M133.9 410.0h1.0M135.8 410.0h1.0M137.6 410.0h0.5M142.7 410.0h1.0M156.8 410.0h1.4M170.2 410.0h1.4M174.1 410.0h1.4M23.3 411.4h0.5M28.3 411.4h0.5M39.6 411.4h0.8M44.2 411.4h1.0M46.3 411.4h1.4M52.4 411.4h1.0M74.0 411.4h1.0M93.0 411.4h1.0M99.7 411.4h0.8M102.8 411.4h0.5M121.5 411.4h1.0M130.5 411.4h0.8M169.8 411.4h0.8M173.0 411.4h1.4M17.8 412.7h0.5M21.3 412.7h1.4M25.3 412.7h0.8M35.2 412.7h0.5M55.5 412.7h1.0M57.7 412.7h1.4M60.2 412.7h1.0M78.5 412.7h0.8M80.9 412.7h1.0M83.0 412.7h1.0M93.3 412.7h1.4M102.6 412.7h0.8M108.9 412.7h0.5M110.6 412.7h0.5M124.1 412.7h1.4M153.5 412.7h1.0M157.0 412.7h0.5M160.3 412.7h0.8M29.1 414.0h0.5M33.8 414.0h0.5M39.3 414.0h1.0M46.5 414.0h0.5M50.1 414.0h1.0M53.3 414.0h1.4M82.3 414.0h1.0M98.5 414.0h1.0M100.7 414.0h0.8M103.7 414.0h1.0M106.6 414.0h0.8M110.5 414.0h0.8M126.8 414.0h0.8M141.0 414.0h1.4M143.1 414.0h0.8M151.4 414.0h0.8M152.8 414.0h1.0M159.8 414.0h1.0M168.9 414.0h0.8M23.6 415.3h1.0M31.3 415.3h0.5M33.7 415.3h1.4M48.8 415.3h0.8M55.7 415.3h1.4M68.5 415.3h1.0M91.3 415.3h0.5M99.5 415.3h0.5M102.4 415.3h0.8M104.5 415.3h1.0M117.4 415.3h1.4M122.5 415.3h1.4M137.8 415.3h1.0M145.6 415.3h1.4M163.9 415.3h0.5M166.3 415.3h1.0M172.7 415.3h1.4M23.3 416.6h1.4M26.7 416.6h1.4M37.4 416.6h1.4M64.9 416.6h0.8M68.3 416.6h1.0M70.9 416.6h0.8M74.1 416.6h1.0M75.8 416.6h0.8M77.5 416.6h1.4M80.2 416.6h0.8M83.5 416.6h0.8M86.1 416.6h0.8M88.3 416.6h0.5M107.4 416.6h1.4M109.5 416.6h1.0M123.5 416.6h0.8M126.3 416.6h1.0M145.2 416.6h1.0M149.2 416.6h0.5M158.9 416.6h1.0M162.2 416.6h0.5M170.7 416.6h0.8M19.2 417.9h0.5M22.1 417.9h1.0M60.8 417.9h0.8M82.3 417.9h0.8M89.4 417.9h0.5M119.8 417.9h0.5M121.6 417.9h0.5M124.8 417.9h0.8M130.3 417.9h0.5M144.3 417.9h0.5M154.3 417.9h0.8M158.2 417.9h1.0M166.6 417.9h1.0M171.6 417.9h1.0M24.1 419.3h0.8M54.5 419.3h1.0M56.7 419.3h0.8M62.0 419.3h0.5M63.7 419.3h1.4M75.1 419.3h1.0M78.3 419.3h0.5M87.6 419.3h1.4M97.0 419.3h1.0M98.8 419.3h0.5M101.4 419.3h0.5M102.9 419.3h0.8M106.2 419.3h1.4M112.4 419.3h1.4M132.9 419.3h1.0M146.4 419.3h0.5M159.5 419.3h1.0M163.9 419.3h1.4M168.1 419.3h1.0M25.1 420.6h0.8M36.5 420.6h1.4M40.9 420.6h1.4M44.2 420.6h1.4M47.5 420.6h1.4M53.6 420.6h0.5M65.9 420.6h1.0M77.0 420.6h0.8M81.5 420.6h0.5M98.1 420.6h1.4M112.7 420.6h1.0M132.0 420.6h0.8M136.9 420.6h0.8M143.6 420.6h0.5M157.4 420.6h0.8M160.9 420.6h1.4M163.9 420.6h1.0M172.4 420.6h1.0M174.9 420.6h0.8M28.6 421.9h0.8M50.8 421.9h1.4M55.0 421.9h0.5M77.3 421.9h0.5M80.8 421.9h1.4M85.0 421.9h1.0M89.4 421.9h0.5M93.2 421.9h0.8M95.4 421.9h0.5M107.6 421.9h1.4M140.7 421.9h1.4M162.6 421.9h0.8M164.0 421.9h0.8M167.8 421.9h1.4M16.8 423.2h1.0M28.5 423.2h0.8M64.9 423.2h1.0M68.6 423.2h0.5M83.1 423.2h1.0M85.0 423.2h1.0M112.1 423.2h0.8M146.3 423.2h1.0M150.7 423.2h1.4M156.5 423.2h1.4M163.5 423.2h0.8M167.6 423.2h1.0M173.8 423.2h0.8M23.1 424.5h1.4M28.5 424.5h0.5M35.9 424.5h0.5M43.6 424.5h0.8M52.5 424.5h0.8M54.9 424.5h0.5M56.7 424.5h1.0M62.9 424.5h1.0M68.9 424.5h0.5M70.7 424.5h0.5M74.0 424.5h0.8M88.0 424.5h1.4M89.9 424.5h1.4M101.5 424.5h0.5M106.9 424.5h1.0M110.5 424.5h1.4M122.4 424.5h1.4M139.9 424.5h0.8M148.6 424.5h1.0M155.5 424.5h0.8M165.4 424.5h0.5M16.8 425.8h1.4M19.8 425.8h1.0M27.2 425.8h0.5M29.5 425.8h1.4M33.7 425.8h1.4M37.4 425.8h1.4M70.8 425.8h0.8M81.9 425.8h0.5M95.8 425.8h0.5M135.5 425.8h0.5M157.1 425.8h0.5M162.5 425.8h0.8M169.3 425.8h0.5M173.3 425.8h1.0M17.7 427.2h0.8M32.7 427.2h0.5M38.6 427.2h0.5M50.7 427.2h0.8M52.6 427.2h0.5M76.9 427.2h1.0M99.2 427.2h1.4M109.9 427.2h1.0M114.1 427.2h1.4M118.7 427.2h1.4M133.3 427.2h1.0M141.3 427.2h0.5M146.5 427.2h1.0M157.9 427.2h1.4M164.3 427.2h1.4M175.3 427.2h0.8M21.3 428.5h0.8M26.1 428.5h1.4M33.5 428.5h1.0M68.3 428.5h0.5M77.4 428.5h1.4M80.3 428.5h0.5M85.1 428.5h0.5M98.3 428.5h1.0M110.6 428.5h0.8M147.6 428.5h1.4M152.3 428.5h1.0M159.2 428.5h0.8M162.4 428.5h1.0M167.7 428.5h1.4M23.1 429.8h0.8M26.8 429.8h0.5M29.3 429.8h0.8M35.0 429.8h0.8M38.8 429.8h0.5M52.4 429.8h0.8M54.1 429.8h1.0M67.7 429.8h0.8M109.4 429.8h0.8M111.8 429.8h1.0M120.2 429.8h1.0M124.0 429.8h1.4M125.9 429.8h1.0M17.9 431.1h0.8M20.1 431.1h0.8M32.7 431.1h0.5M38.1 431.1h0.5M60.1 431.1h0.8M70.2 431.1h0.5M86.1 431.1h1.4M93.2 431.1h0.8M105.3 431.1h1.0M107.2 431.1h1.4M114.9 431.1h1.0M116.5 431.1h1.0M125.2 431.1h0.8M134.4 431.1h1.4M141.1 431.1h0.8M142.6 431.1h1.4M144.5 431.1h0.8M148.1 431.1h1.0M157.5 431.1h0.8M170.8 431.1h1.0M18.8 432.4h0.5M27.7 432.4h1.0M33.7 432.4h0.5M40.8 432.4h1.4M44.5 432.4h0.8M56.8 432.4h0.8M64.9 432.4h0.5M75.5 432.4h0.8M82.1 432.4h0.5M90.0 432.4h1.0M95.7 432.4h1.0M99.4 432.4h0.8M103.0 432.4h0.8M106.5 432.4h0.5M107.5 432.4h1.0M111.0 432.4h1.0M112.6 432.4h0.8M115.5 432.4h1.0M125.6 432.4h1.4M132.1 432.4h0.5M158.3 432.4h0.5M160.5 432.4h1.0M169.1 432.4h1.0M20.4 433.8h1.0M31.0 433.8h1.0M48.9 433.8h0.5M50.8 433.8h0.5M54.5 433.8h0.8M58.3 433.8h0.8M60.0 433.8h1.4M70.6 433.8h0.8M72.6 433.8h0.5M97.0 433.8h0.8M102.0 433.8h1.4M104.9 433.8h0.5M109.8 433.8h1.4M113.6 433.8h1.0M121.4 433.8h1.0M139.0 433.8h0.8M150.9 433.8h1.0M158.9 433.8h0.5M168.2 433.8h0.5M170.4 433.8h1.4M172.3 433.8h0.5M38.1 435.1h1.4M44.6 435.1h0.5M51.2 435.1h1.0M59.2 435.1h0.8M105.1 435.1h0.8M108.3 435.1h1.0M121.4 435.1h1.4M138.1 435.1h0.8M174.6 435.1h0.5M15.8 436.4h0.8M19.3 436.4h0.5M47.7 436.4h1.4M54.6 436.4h1.4M57.2 436.4h1.4M83.2 436.4h0.5M86.0 436.4h1.4M99.5 436.4h0.8M108.0 436.4h1.0M110.8 436.4h1.4M119.3 436.4h1.4M123.5 436.4h0.8M127.2 436.4h0.5M136.0 436.4h0.5M137.4 436.4h0.8M138.8 436.4h1.4M141.6 436.4h1.4M143.8 436.4h0.8M152.9 436.4h1.4M44.2 437.7h0.5M54.9 437.7h1.0M68.5 437.7h1.4M80.1 437.7h1.4M102.0 437.7h1.4M112.2 437.7h1.4M117.1 437.7h1.4M127.3 437.7h0.8M139.6 437.7h0.5M148.1 437.7h0.8M165.7 437.7h0.5M173.9 437.7h0.8M16.6 439.0h0.8M18.7 439.0h0.5M21.5 439.0h1.4M25.8 439.0h1.0M39.6 439.0h0.5M67.7 439.0h1.0M111.7 439.0h1.4M130.1 439.0h0.8M132.8 439.0h1.0M145.1 439.0h1.4M155.4 439.0h0.5M165.2 439.0h0.8M172.0 439.0h1.0M24.1 440.3h1.4M59.9 440.3h0.8M69.5 440.3h0.8M104.2 440.3h1.4M109.9 440.3h0.5M121.1 440.3h1.4M130.3 440.3h1.0M147.5 440.3h0.5M152.0 440.3h0.8M155.3 440.3h0.8M167.6 440.3h1.4M22.0 441.7h1.0M30.0 441.7h1.0M47.5 441.7h1.0M50.3 441.7h1.0M60.5 441.7h0.5M91.7 441.7h1.0M95.2 441.7h1.4M110.0 441.7h0.8M115.1 441.7h1.4M121.1 441.7h1.4M123.4 441.7h1.0M125.9 441.7h0.5M131.7 441.7h1.4M145.8 441.7h0.5M157.8 441.7h0.8M24.3 443.0h0.8M29.3 443.0h0.5M39.7 443.0h0.5M48.3 443.0h1.0M50.5 443.0h1.4M53.8 443.0h0.8M63.3 443.0h1.4M65.3 443.0h0.5M67.1 443.0h1.0M68.6 443.0h0.8M71.5 443.0h1.4M73.8 443.0h0.5M110.3 443.0h1.4M117.1 443.0h1.4M137.2 443.0h1.0M139.1 443.0h1.4M141.2 443.0h0.5M149.7 443.0h0.8M151.8 443.0h1.0M162.5 443.0h1.0M17.5 444.3h0.5M31.3 444.3h1.0M35.2 444.3h1.0M42.0 444.3h1.4M49.3 444.3h1.4M74.2 444.3h1.4M77.1 444.3h0.5M95.7 444.3h1.4M113.0 444.3h0.5M115.7 444.3h1.4M122.7 444.3h0.8M135.4 444.3h0.5M151.8 444.3h0.5M162.3 444.3h0.8M165.1 444.3h1.4M167.9 444.3h0.5M169.2 444.3h1.4M173.3 444.3h1.4M45.7 445.6h0.8M49.3 445.6h1.0M58.7 445.6h1.0M65.7 445.6h1.4M68.1 445.6h0.5M74.3 445.6h0.5M79.6 445.6h1.0M81.7 445.6h1.4M88.3 445.6h1.0M96.8 445.6h1.0M104.7 445.6h0.5M107.1 445.6h1.4M125.9 445.6h0.8M129.7 445.6h0.5M159.6 445.6h0.5M162.1 445.6h0.8M175.4 445.6h0.8M19.5 446.9h1.4M36.1 446.9h1.4M42.7 446.9h0.8M44.3 446.9h0.8M47.2 446.9h0.5M54.5 446.9h0.5M90.4 446.9h0.5M94.8 446.9h0.5M96.6 446.9h1.4M99.3 446.9h1.4M101.2 446.9h0.5M104.2 446.9h1.0M114.8 446.9h0.5M117.6 446.9h0.5M126.6 446.9h0.8M128.2 446.9h1.0M160.6 446.9h1.4M169.9 446.9h1.0M25.5 448.2h1.4M29.2 448.2h0.5M57.5 448.2h1.0M63.1 448.2h0.8M68.3 448.2h1.4M73.0 448.2h0.8M77.5 448.2h0.5M89.0 448.2h1.0M94.9 448.2h0.8M97.1 448.2h0.8M105.5 448.2h1.4M128.5 448.2h0.5M134.0 448.2h0.8M135.6 448.2h1.4M142.0 448.2h0.5M144.7 448.2h0.8M149.7 448.2h1.4M151.9 448.2h1.0M168.2 448.2h1.0M170.4 448.2h0.8M171.8 448.2h0.5M21.0 449.6h1.0M35.4 449.6h1.4M38.2 449.6h1.0M55.5 449.6h1.0M75.8 449.6h0.8M84.6 449.6h0.8M95.3 449.6h0.8M98.6 449.6h0.5M100.5 449.6h0.5M109.8 449.6h0.5M126.3 449.6h1.0M130.5 449.6h1.0M136.2 449.6h1.0M162.2 449.6h0.8M167.6 449.6h0.5M172.6 449.6h1.4M17.0 450.9h1.4M19.9 450.9h1.0M30.9 450.9h0.8M34.9 450.9h1.4M39.5 450.9h0.8M46.1 450.9h0.8M49.0 450.9h1.0M58.2 450.9h1.0M67.3 450.9h0.5M76.9 450.9h0.5M83.6 450.9h1.0M90.9 450.9h1.4M93.6 450.9h1.4M96.5 450.9h0.8M98.0 450.9h0.8M112.2 450.9h0.8M115.6 450.9h0.8M120.0 450.9h1.0M136.1 450.9h0.5M143.6 450.9h0.8M152.8 450.9h1.4M159.4 450.9h1.0M167.5 450.9h1.4M169.8 450.9h1.4M19.0 452.2h1.4M24.6 452.2h0.5M29.8 452.2h1.4M34.2 452.2h1.0M47.2 452.2h0.8M51.2 452.2h1.0M63.1 452.2h0.8M75.1 452.2h0.8M82.1 452.2h1.0M88.8 452.2h1.0M108.5 452.2h1.4M120.9 452.2h0.8M130.0 452.2h1.4M132.7 452.2h1.4M137.1 452.2h1.4M140.5 452.2h1.0M154.4 452.2h1.4M22.6 453.5h1.4M43.1 453.5h1.4M57.6 453.5h1.4M61.8 453.5h0.5M85.0 453.5h0.8M110.5 453.5h1.0M113.4 453.5h0.5M132.0 453.5h0.5M160.3 453.5h0.8M165.8 453.5h0.5M168.5 453.5h0.5M170.5 453.5h1.0M16.9 454.8h1.0M19.9 454.8h1.4M24.1 454.8h1.4M26.9 454.8h0.8M29.0 454.8h1.4M41.3 454.8h1.0M81.4 454.8h0.8M83.7 454.8h1.4M91.0 454.8h0.5M94.8 454.8h1.0M97.2 454.8h1.0M100.0 454.8h1.4M102.3 454.8h0.8M110.3 454.8h1.4M120.3 454.8h0.8M123.7 454.8h0.5M141.1 454.8h1.4M147.3 454.8h0.8M149.1 454.8h1.0M152.0 454.8h1.4M158.9 454.8h0.8M19.5 456.1h1.4M25.8 456.1h0.8M38.3 456.1h0.8M47.3 456.1h0.5M59.3 456.1h0.5M69.3 456.1h1.0M79.2 456.1h0.8M85.9 456.1h0.8M94.0 456.1h0.8M95.8 456.1h1.0M97.6 456.1h0.5M100.0 456.1h1.4M112.0 456.1h0.8M118.3 456.1h1.0M127.5 456.1h1.0M130.5 456.1h0.5M132.0 456.1h0.5M154.3 456.1h0.5M164.4 456.1h0.5M168.1 456.1h1.4M170.0 456.1h1.4M173.8 456.1h0.5M175.0 456.1h0.5M27.9 457.5h0.5M44.8 457.5h1.4M80.2 457.5h0.8M94.1 457.5h0.8M95.6 457.5h1.4M100.6 457.5h0.8M112.1 457.5h1.0M137.7 457.5h1.0M140.7 457.5h1.0M145.0 457.5h0.5M155.0 457.5h0.5M164.4 457.5h0.8M168.9 457.5h0.8M35.8 458.8h0.5M58.2 458.8h1.0M83.4 458.8h0.5M86.7 458.8h1.0M93.7 458.8h1.4M123.0 458.8h1.0M166.2 458.8h1.4M19.0 460.1h0.5M26.9 460.1h1.0M28.7 460.1h0.8M30.7 460.1h1.4M34.4 460.1h1.4M43.5 460.1h0.5M60.9 460.1h1.4M79.1 460.1h0.8M89.9 460.1h1.4M92.8 460.1h0.5M110.0 460.1h0.8M119.6 460.1h0.8M122.7 460.1h0.5M124.4 460.1h0.8M131.0 460.1h0.8M149.9 460.1h0.8M166.5 460.1h1.0M29.2 461.4h1.0M32.6 461.4h0.5M36.2 461.4h0.5M38.5 461.4h0.8M44.1 461.4h1.0M49.7 461.4h0.5M54.0 461.4h1.0M72.6 461.4h1.0M78.5 461.4h1.4M83.0 461.4h0.8M93.5 461.4h0.5M96.3 461.4h1.0M113.3 461.4h0.5M130.5 461.4h0.5M139.5 461.4h0.5M145.1 461.4h0.5M149.9 461.4h1.0M157.7 461.4h1.0M160.8 461.4h1.4M173.0 461.4h1.4M175.3 461.4h0.8M16.1 462.7h0.8M26.2 462.7h1.0M29.6 462.7h0.5M32.2 462.7h1.0M37.7 462.7h1.4M40.2 462.7h0.8M63.8 462.7h0.5M71.7 462.7h1.0M80.2 462.7h0.5M92.3 462.7h0.8M94.9 462.7h0.8M96.8 462.7h1.0M108.7 462.7h1.0M116.4 462.7h1.4M121.1 462.7h0.8M129.7 462.7h0.5M131.7 462.7h0.5M148.5 462.7h0.8M162.0 462.7h1.0M18.9 464.1h0.5M22.7 464.1h1.4M31.3 464.1h0.8M46.9 464.1h1.4M68.1 464.1h1.4M73.1 464.1h1.4M75.0 464.1h0.8M92.8 464.1h0.8M152.0 464.1h1.4M159.5 464.1h0.8M172.6 464.1h1.4M17.6 465.4h0.5M18.6 465.4h0.8M26.1 465.4h1.0M38.4 465.4h1.0M41.4 465.4h1.0M44.3 465.4h0.5M46.3 465.4h1.0M48.5 465.4h0.8M50.8 465.4h0.5M55.3 465.4h0.5M83.6 465.4h1.4M110.0 465.4h1.4M115.6 465.4h1.4M117.8 465.4h1.4M133.6 465.4h1.4M136.1 465.4h1.4M141.6 465.4h0.5M165.0 465.4h0.5M169.0 465.4h0.5M21.8 466.7h0.5M30.0 466.7h1.4M43.1 466.7h1.4M51.8 466.7h1.4M62.3 466.7h0.5M68.6 466.7h1.0M74.1 466.7h1.0M79.1 466.7h1.0M87.3 466.7h0.5M90.4 466.7h0.8M102.3 466.7h1.4M105.3 466.7h1.4M108.8 466.7h0.5M110.2 466.7h0.8M112.0 466.7h0.5M115.8 466.7h0.5M121.8 466.7h1.0M126.8 466.7h1.4M148.4 466.7h1.4M158.7 466.7h1.4M165.8 466.7h0.5M17.7 468.0h0.5M22.3 468.0h1.0M24.3 468.0h0.5M54.7 468.0h1.4M65.0 468.0h0.5M74.5 468.0h0.8M80.7 468.0h0.8M82.5 468.0h1.0M91.5 468.0h1.0M96.0 468.0h1.0M97.5 468.0h1.4M100.1 468.0h1.0M111.0 468.0h1.4M122.1 468.0h0.5M123.4 468.0h1.0M129.1 468.0h0.5M134.2 468.0h0.5M145.0 468.0h1.0M152.5 468.0h0.5M164.6 468.0h1.0M17.8 469.3h1.0M25.4 469.3h1.4M37.5 469.3h0.8M72.1 469.3h1.4M87.9 469.3h0.8M89.9 469.3h0.8M121.6 469.3h1.0M140.5 469.3h0.8M151.5 469.3h1.0M155.3 469.3h1.0M19.6 470.6h0.8M25.5 470.6h0.5M36.4 470.6h0.5M47.3 470.6h1.0M49.9 470.6h1.0M57.4 470.6h1.0M62.5 470.6h0.8M67.4 470.6h1.4M81.0 470.6h1.4M93.8 470.6h0.5M102.5 470.6h1.4M107.5 470.6h1.0M113.3 470.6h1.0M117.2 470.6h1.4M121.1 470.6h0.5M122.0 470.6h0.8M123.6 470.6h1.4M128.9 470.6h1.0M133.9 470.6h1.4M136.5 470.6h0.5M147.8 470.6h1.0M151.9 470.6h1.4M154.2 470.6h1.4M20.0 472.0h0.5M28.3 472.0h1.0M31.1 472.0h1.0M48.9 472.0h0.5M50.9 472.0h1.4M61.2 472.0h0.8M73.1 472.0h1.4M80.1 472.0h0.5M85.3 472.0h0.8M92.9 472.0h1.4M111.7 472.0h0.8M127.9 472.0h1.0M140.1 472.0h1.0M152.0 472.0h1.4M156.3 472.0h1.0M161.8 472.0h0.8M168.4 472.0h0.5M29.1 473.3h0.5M38.1 473.3h0.8M51.4 473.3h1.4M56.0 473.3h1.4M58.8 473.3h0.8M60.0 473.3h1.4M96.3 473.3h1.0M103.9 473.3h0.8M105.6 473.3h1.0M129.8 473.3h0.5M131.1 473.3h1.4M136.2 473.3h1.0M138.7 473.3h0.5M142.3 473.3h0.5M146.4 473.3h0.5M162.6 473.3h1.4M164.8 473.3h0.8M25.3 474.6h1.4M27.9 474.6h0.8M61.4 474.6h0.5M63.4 474.6h0.8M66.4 474.6h1.4M72.6 474.6h1.4M78.2 474.6h1.0M82.7 474.6h0.8M94.3 474.6h1.4M98.1 474.6h0.5M125.5 474.6h1.4M143.8 474.6h1.0M161.3 474.6h1.4M164.7 474.6h1.0M28.3 475.9h1.0M31.2 475.9h1.0M34.3 475.9h0.5M47.5 475.9h0.8M54.5 475.9h1.4M70.8 475.9h1.4M86.5 475.9h1.0M94.0 475.9h0.8M117.7 475.9h1.4M125.3 475.9h0.8M127.9 475.9h1.0M143.7 475.9h1.0M152.0 475.9h0.8M154.7 475.9h0.5M158.0 475.9h1.4M169.0 475.9h1.4M18.0 477.2h1.4M25.0 477.2h1.0M31.0 477.2h1.4M47.3 477.2h1.0M52.7 477.2h1.0M58.2 477.2h1.0M72.7 477.2h1.0M85.3 477.2h0.5M98.0 477.2h1.0M104.3 477.2h0.5M105.2 477.2h1.4M107.8 477.2h0.5M133.5 477.2h1.0M136.4 477.2h1.4M139.3 477.2h0.8M153.5 477.2h0.5M154.4 477.2h1.4M157.2 477.2h1.4M162.2 477.2h0.5M24.5 478.5h0.8M26.2 478.5h1.0M38.5 478.5h1.4M41.3 478.5h0.8M42.5 478.5h0.5M57.2 478.5h0.8M62.4 478.5h0.5M72.7 478.5h0.5M74.3 478.5h1.4M84.2 478.5h1.0M89.3 478.5h1.4M109.5 478.5h0.5M111.7 478.5h1.0M129.7 478.5h1.4M133.5 478.5h0.8M161.4 478.5h1.0M164.4 478.5h1.0M172.5 478.5h0.5M18.8 479.9h0.5M26.0 479.9h1.0M30.0 479.9h0.5M35.3 479.9h0.5M48.2 479.9h0.8M91.2 479.9h0.8M105.5 479.9h0.5M124.4 479.9h1.4M127.2 479.9h0.8M132.4 479.9h1.4M141.2 479.9h1.0M143.0 479.9h0.5M156.1 479.9h0.5M159.7 479.9h1.4M170.4 479.9h0.8M17.2 481.2h0.5M42.7 481.2h1.4M50.9 481.2h0.8M75.7 481.2h0.8M77.8 481.2h1.4M81.0 481.2h0.5M113.7 481.2h0.5M114.6 481.2h0.8M122.6 481.2h1.0M130.5 481.2h0.5M134.8 481.2h0.8M149.8 481.2h0.8M153.1 481.2h0.8M155.0 481.2h0.8M159.4 481.2h0.5M22.1 482.5h0.8M35.5 482.5h1.0M37.3 482.5h0.5M50.1 482.5h0.5M57.3 482.5h1.0M67.6 482.5h0.5M87.3 482.5h1.4M97.1 482.5h1.0M118.5 482.5h1.4M132.1 482.5h1.4M151.9 482.5h0.8M159.3 482.5h1.4M163.3 482.5h0.5M169.8 482.5h1.4M171.6 482.5h0.8M16.7 483.8h1.0M35.4 483.8h0.8M47.8 483.8h1.4M57.5 483.8h1.0M60.7 483.8h1.4M70.1 483.8h1.4M74.2 483.8h1.0M75.9 483.8h0.5M88.7 483.8h1.4M91.9 483.8h0.8M102.3 483.8h0.5M106.3 483.8h0.8M108.4 483.8h0.8M117.8 483.8h0.5M121.7 483.8h1.0M124.2 483.8h1.0M130.5 483.8h0.5M159.4 483.8h1.4M166.3 483.8h0.5M169.4 483.8h0.8M16.6 485.1h0.8M17.9 485.1h1.4M56.9 485.1h1.4M71.1 485.1h1.4M83.8 485.1h0.8M106.6 485.1h0.8M119.1 485.1h0.8M121.7 485.1h1.0M166.4 485.1h0.8M24.1 486.4h0.8M36.0 486.4h1.0M40.8 486.4h0.8M44.7 486.4h1.0M49.3 486.4h0.5M54.8 486.4h1.4M59.5 486.4h1.0M63.9 486.4h1.0M68.3 486.4h0.8M84.0 486.4h1.4M86.3 486.4h1.0M88.7 486.4h0.8M93.8 486.4h0.5M96.8 486.4h0.5M105.1 486.4h1.0M117.5 486.4h1.4M129.7 486.4h0.5M135.8 486.4h0.8M138.2 486.4h0.8M140.4 486.4h1.0M147.5 486.4h0.8M162.1 486.4h1.4M168.0 486.4h0.8M171.2 486.4h1.4M18.3 487.8h1.0M22.1 487.8h0.5M29.2 487.8h1.0M43.6 487.8h0.5M46.6 487.8h1.4M60.8 487.8h0.8M65.0 487.8h0.8M75.9 487.8h0.8M83.5 487.8h1.0M85.3 487.8h1.0M101.1 487.8h1.0M108.0 487.8h1.4M115.1 487.8h1.4M130.2 487.8h0.8M138.2 487.8h1.4M144.5 487.8h1.4M149.3 487.8h1.4M151.6 487.8h0.5M155.6 487.8h1.0M157.3 487.8h1.4M174.5 487.8h0.5M17.9 489.1h0.5M20.1 489.1h1.0M27.5 489.1h1.0M31.9 489.1h0.5M33.6 489.1h1.4M46.0 489.1h0.5M52.4 489.1h0.5M65.7 489.1h0.5M69.8 489.1h0.5M74.1 489.1h1.4M81.7 489.1h1.4M86.6 489.1h1.4M91.9 489.1h1.4M119.9 489.1h1.0M127.0 489.1h1.4M139.2 489.1h0.8M143.2 489.1h0.8M145.5 489.1h1.4M151.0 489.1h1.4M157.0 489.1h0.8M168.0 489.1h0.8M28.0 490.4h1.0M33.7 490.4h1.4M61.5 490.4h0.5M73.3 490.4h0.8M86.2 490.4h1.0M98.6 490.4h1.4M101.1 490.4h1.0M110.8 490.4h0.8M117.0 490.4h0.8M134.9 490.4h0.8M140.9 490.4h1.0M150.4 490.4h1.4M166.5 490.4h1.0M169.8 490.4h1.0M23.5 491.7h1.4M32.6 491.7h1.4M36.0 491.7h0.8M45.2 491.7h1.4M63.5 491.7h1.4M87.9 491.7h0.8M93.2 491.7h0.5M98.6 491.7h1.4M106.0 491.7h1.0M120.7 491.7h0.5M124.1 491.7h0.5M131.4 491.7h0.8M137.3 491.7h0.5M158.0 491.7h0.5M167.0 491.7h1.0M173.6 491.7h1.0M35.3 493.0h1.0M37.0 493.0h1.4M39.3 493.0h0.8M68.9 493.0h0.8M81.4 493.0h1.4M107.9 493.0h0.5M115.4 493.0h1.0M121.3 493.0h1.4M124.0 493.0h0.8M128.1 493.0h1.0M146.5 493.0h0.8M149.1 493.0h0.8M173.5 493.0h0.8M19.6 494.3h1.0M21.8 494.3h1.4M24.5 494.3h0.5M38.1 494.3h1.0M54.8 494.3h1.0M66.1 494.3h0.5M69.8 494.3h1.4M83.6 494.3h0.8M88.1 494.3h0.8M107.1 494.3h0.8M108.8 494.3h0.5M110.2 494.3h0.5M111.2 494.3h0.5M113.7 494.3h1.4M122.9 494.3h1.0M137.2 494.3h1.0M150.7 494.3h1.4M158.0 494.3h1.4M173.8 494.3h1.4M45.4 495.7h0.8M50.3 495.7h1.0M53.9 495.7h0.8M63.3 495.7h1.0M65.1 495.7h0.5M66.8 495.7h1.4M74.8 495.7h1.0M84.1 495.7h1.0M86.3 495.7h1.4M121.0 495.7h1.0M127.0 495.7h1.4M138.1 495.7h0.5M146.3 495.7h0.5M170.8 495.7h0.5M29.6 497.0h1.0M34.8 497.0h0.8M39.8 497.0h1.4M56.7 497.0h1.4M75.1 497.0h0.5M77.0 497.0h0.5M78.0 497.0h1.4M85.7 497.0h1.0M92.5 497.0h1.4M102.2 497.0h0.8M133.0 497.0h1.4M135.8 497.0h0.8M142.6 497.0h0.8M145.3 497.0h1.4M156.7 497.0h1.0M171.5 497.0h1.0M23.9 498.3h0.5M42.0 498.3h0.8M49.0 498.3h1.0M55.8 498.3h1.0M70.0 498.3h0.8M89.1 498.3h0.5M93.1 498.3h0.5M106.1 498.3h1.4M112.5 498.3h1.4M125.4 498.3h0.5M128.9 498.3h1.4M138.9 498.3h0.8M141.6 498.3h1.0M150.6 498.3h0.5M154.7 498.3h1.0M169.5 498.3h0.8M31.4 499.6h1.0M37.9 499.6h0.8M48.5 499.6h0.8M51.7 499.6h1.4M54.2 499.6h0.5M88.4 499.6h0.5M91.3 499.6h0.5M92.8 499.6h0.8M97.9 499.6h1.4M99.9 499.6h1.4M122.7 499.6h1.0M145.4 499.6h0.8M150.4 499.6h0.5M154.1 499.6h1.4M160.0 499.6h0.8M175.0 499.6h1.0M24.5 500.9h0.8M36.2 500.9h1.4M62.2 500.9h1.4M77.3 500.9h1.0M78.8 500.9h0.5M81.9 500.9h0.8M97.0 500.9h1.4M111.7 500.9h1.4M140.8 500.9h1.4M143.4 500.9h1.0M148.1 500.9h1.0M157.1 500.9h0.5M166.4 500.9h0.8M171.0 500.9h0.5M24.3 502.3h1.4M26.9 502.3h1.0M57.7 502.3h1.0M68.4 502.3h0.5M74.7 502.3h0.5M90.0 502.3h0.8M91.4 502.3h1.0M97.9 502.3h1.4M119.1 502.3h1.4M137.1 502.3h1.0M139.8 502.3h0.5M148.1 502.3h1.0M150.9 502.3h1.0M164.0 502.3h1.0M173.2 502.3h0.5M23.1 503.6h1.4M26.2 503.6h1.4M34.1 503.6h1.4M59.0 503.6h1.0M60.6 503.6h0.5M64.2 503.6h0.8M66.3 503.6h0.8M67.5 503.6h1.0M73.6 503.6h1.0M76.5 503.6h0.8M99.5 503.6h0.5M101.4 503.6h0.8M115.0 503.6h1.0M121.7 503.6h0.5M133.4 503.6h0.8M153.1 503.6h1.0M158.7 503.6h1.4M174.2 503.6h0.8M20.9 504.9h1.4M24.4 504.9h0.5M26.6 504.9h0.5M38.4 504.9h1.4M56.9 504.9h0.5M66.3 504.9h1.4M68.4 504.9h1.0M72.3 504.9h0.8M76.2 504.9h1.4M80.0 504.9h1.0M93.4 504.9h0.5M102.7 504.9h1.4M107.0 504.9h0.8M134.9 504.9h1.4M137.2 504.9h0.5M147.8 504.9h0.5M154.9 504.9h1.0M158.3 504.9h1.0M161.4 504.9h0.8M172.5 504.9h1.0M174.3 504.9h1.4M23.6 506.2h0.8M35.6 506.2h1.0M42.2 506.2h1.0M82.3 506.2h1.0M93.4 506.2h0.5M125.8 506.2h0.5M127.0 506.2h0.5M142.0 506.2h1.0M144.1 506.2h0.8M151.2 506.2h1.4M155.0 506.2h1.4M160.3 506.2h1.0M18.4 507.5h1.4M24.1 507.5h1.4M51.6 507.5h1.0M72.9 507.5h0.5M74.8 507.5h0.5M79.2 507.5h0.5M80.6 507.5h0.5M89.8 507.5h0.5M95.5 507.5h0.8M100.1 507.5h1.4M102.3 507.5h1.4M118.4 507.5h0.5M139.0 507.5h1.0M144.7 507.5h0.5M155.0 507.5h0.5M165.7 507.5h1.4M169.3 507.5h0.5M173.2 507.5h1.4M17.9 508.8h0.8M25.8 508.8h1.0M35.1 508.8h1.4M37.1 508.8h1.0M47.4 508.8h1.4M54.9 508.8h0.5M62.0 508.8h0.8M69.8 508.8h0.8M87.7 508.8h1.0M121.6 508.8h0.5M130.7 508.8h0.5M159.6 508.8h1.4M171.8 508.8h0.8M16.4 510.2h1.0M42.0 510.2h1.4M59.3 510.2h0.8M65.4 510.2h0.8M72.9 510.2h0.8M89.9 510.2h0.8M95.5 510.2h1.4M113.8 510.2h1.0M117.9 510.2h1.0M135.1 510.2h0.5M138.9 510.2h0.8M140.4 510.2h1.4M143.7 510.2h1.4M150.0 510.2h0.8M154.3 510.2h1.4M156.7 510.2h1.4M174.7 510.2h1.0M17.9 511.5h0.8M19.9 511.5h1.0M25.4 511.5h1.0M32.1 511.5h0.8M35.6 511.5h0.5M43.9 511.5h1.0M56.6 511.5h0.5M57.7 511.5h0.8M73.3 511.5h1.0M81.1 511.5h1.4M85.1 511.5h1.0M95.4 511.5h1.0M98.9 511.5h0.5M126.6 511.5h1.0M134.3 511.5h1.0M137.9 511.5h1.0M20.4 512.8h0.8M26.4 512.8h0.5M28.8 512.8h0.8M34.6 512.8h0.5M47.9 512.8h0.5M49.7 512.8h0.5M94.6 512.8h1.4M100.6 512.8h1.0M106.7 512.8h1.0M110.6 512.8h1.4M119.1 512.8h1.0M124.2 512.8h1.4M128.0 512.8h0.8M130.8 512.8h0.8M132.2 512.8h0.8M138.2 512.8h0.5M156.8 512.8h0.8M158.7 512.8h0.5M167.4 512.8h0.8M169.4 512.8h1.0M24.9 514.1h0.8M31.6 514.1h0.8M40.3 514.1h1.4M50.1 514.1h1.0M58.9 514.1h1.0M61.4 514.1h1.4M64.6 514.1h0.5M65.8 514.1h1.4M68.9 514.1h0.8M70.6 514.1h0.5M71.8 514.1h0.5M73.8 514.1h1.4M76.4 514.1h1.4M85.7 514.1h0.8M91.7 514.1h0.5M96.4 514.1h1.4M103.7 514.1h1.0M110.7 514.1h1.0M118.4 514.1h1.4M128.9 514.1h1.4M138.2 514.1h0.5M143.8 514.1h1.4M146.0 514.1h1.4M158.2 514.1h1.0M163.6 514.1h0.5M21.9 515.4h1.0M61.3 515.4h1.0M63.6 515.4h0.8M65.8 515.4h1.0M71.8 515.4h1.4M134.1 515.4h0.8M145.6 515.4h1.0M155.4 515.4h1.0M169.0 515.4h0.5M172.9 515.4h0.8M26.0 516.7h1.4M35.3 516.7h1.0M37.8 516.7h0.5M44.5 516.7h1.4M46.5 516.7h0.5M59.2 516.7h1.0M62.6 516.7h1.4M72.3 516.7h0.8M91.9 516.7h0.5M95.9 516.7h1.0M98.3 516.7h1.0M114.7 516.7h1.4M122.9 516.7h0.8M130.4 516.7h0.8M132.3 516.7h0.8M144.1 516.7h1.0M160.7 516.7h1.4M167.9 516.7h1.0M17.5 518.1h1.4M19.5 518.1h1.0M41.0 518.1h1.4M44.7 518.1h0.8M51.3 518.1h1.0M57.0 518.1h0.8M68.3 518.1h0.5M85.0 518.1h1.0M107.1 518.1h0.8M111.2 518.1h0.8M120.6 518.1h1.0M137.0 518.1h0.8M139.1 518.1h0.5M149.1 518.1h1.4M152.0 518.1h0.8M156.4 518.1h1.4M158.5 518.1h1.0M29.2 519.4h1.0M31.1 519.4h0.8M33.0 519.4h0.8M45.5 519.4h0.8M68.9 519.4h0.8M82.1 519.4h1.4M110.0 519.4h0.8M125.4 519.4h1.0M128.6 519.4h0.8M141.5 519.4h0.5M161.1 519.4h1.4M163.0 519.4h1.4M169.8 519.4h0.5M20.9 520.7h0.8M35.4 520.7h0.8M49.8 520.7h0.8M53.6 520.7h0.5M55.8 520.7h0.8M58.7 520.7h0.8M70.1 520.7h1.4M93.9 520.7h1.4M99.0 520.7h1.4M110.2 520.7h0.5M117.2 520.7h1.4M139.1 520.7h0.5M140.8 520.7h0.8M146.9 520.7h1.0M151.6 520.7h0.5M155.1 520.7h1.0M168.9 520.7h0.8M170.3 520.7h0.8M22.9 522.0h1.4M28.7 522.0h1.4M40.1 522.0h1.4M68.0 522.0h0.5M71.9 522.0h1.4M76.7 522.0h0.8M84.5 522.0h1.4M89.5 522.0h1.4M101.0 522.0h1.0M111.0 522.0h1.4M118.0 522.0h0.5M135.0 522.0h0.8M145.0 522.0h1.4M149.4 522.0h0.8M150.6 522.0h0.8M154.0 522.0h1.4M156.5 522.0h0.5M158.1 522.0h1.4M19.8 523.3h1.4M31.5 523.3h0.8M39.7 523.3h1.0M46.5 523.3h0.8M54.0 523.3h1.4M64.5 523.3h1.0M78.1 523.3h0.5M79.5 523.3h0.5M83.9 523.3h0.5M88.4 523.3h1.0M102.9 523.3h1.4M106.5 523.3h1.0M109.6 523.3h1.0M123.8 523.3h1.0M131.0 523.3h0.8M136.5 523.3h1.0M140.1 523.3h0.8M143.9 523.3h0.8M151.7 523.3h1.0M162.1 523.3h1.4M169.3 523.3h1.4M16.8 524.6h1.4M21.4 524.6h1.0M41.4 524.6h1.4M49.4 524.6h1.4M57.9 524.6h0.5M69.2 524.6h0.5M72.8 524.6h0.5M77.1 524.6h0.8M78.3 524.6h1.4M90.0 524.6h1.4M95.1 524.6h1.0M100.0 524.6h0.5M101.8 524.6h1.4M115.4 524.6h1.0M117.0 524.6h0.8M119.5 524.6h1.4M129.8 524.6h1.0M134.8 524.6h1.0M137.2 524.6h1.0M143.3 524.6h1.0M152.0 524.6h0.5M157.0 524.6h0.8M20.0 526.0h0.5M40.8 526.0h1.4M43.7 526.0h1.0M49.8 526.0h1.4M56.6 526.0h0.8M60.6 526.0h1.0M67.2 526.0h1.4M77.0 526.0h0.5M87.1 526.0h1.0M93.9 526.0h1.0M100.0 526.0h1.0M101.4 526.0h0.5M119.9 526.0h1.4M132.3 526.0h1.4M151.6 526.0h1.0M154.8 526.0h1.4M170.7 526.0h0.8M34.0 527.3h1.4M36.0 527.3h1.0M39.5 527.3h1.0M48.9 527.3h1.0M61.3 527.3h1.4M81.6 527.3h1.0M85.7 527.3h0.5M93.1 527.3h1.0M106.2 527.3h1.4M108.6 527.3h0.8M110.9 527.3h0.5M117.0 527.3h1.4M131.5 527.3h0.8M140.6 527.3h0.8M142.5 527.3h0.8M164.4 527.3h1.4M172.6 527.3h1.0M174.0 527.3h1.0M20.2 528.6h0.5M26.2 528.6h1.0M29.1 528.6h0.5M31.8 528.6h0.5M44.1 528.6h1.0M61.9 528.6h1.4M72.3 528.6h0.5M87.1 528.6h1.4M91.6 528.6h0.8M97.8 528.6h1.0M99.6 528.6h1.4M101.6 528.6h0.5M109.9 528.6h0.5M147.8 528.6h0.5M153.8 528.6h0.8M161.2 528.6h0.5M164.6 528.6h1.4M168.4 528.6h1.4M171.3 528.6h0.8M173.4 528.6h1.0M56.8 529.9h1.4M61.2 529.9h1.4M65.2 529.9h1.4M67.6 529.9h0.5M72.3 529.9h1.4M78.4 529.9h0.5M94.7 529.9h0.5M100.9 529.9h0.5M111.5 529.9h1.4M114.4 529.9h0.5M119.6 529.9h0.8M170.3 529.9h1.4M16.1 531.2h1.0M19.1 531.2h1.4M26.6 531.2h0.8M32.7 531.2h1.4M38.2 531.2h0.8M47.5 531.2h0.8M48.8 531.2h1.4M61.9 531.2h0.8M65.4 531.2h0.8M68.5 531.2h0.5M71.9 531.2h0.8M81.6 531.2h1.4M84.2 531.2h1.0M102.3 531.2h1.4M104.7 531.2h1.4M123.5 531.2h1.4M137.5 531.2h0.8M139.6 531.2h1.0M142.6 531.2h1.4M145.8 531.2h1.0M150.0 531.2h1.4M154.3 531.2h0.8M163.5 531.2h0.5M170.8 531.2h0.5M28.1 532.6h0.8M31.6 532.6h1.0M73.9 532.6h0.5M105.2 532.6h0.5M118.5 532.6h1.0M120.3 532.6h0.8M123.5 532.6h0.5M134.3 532.6h1.4M143.0 532.6h0.5M161.0 532.6h0.5M162.1 532.6h1.4M164.4 532.6h1.4M15.8 533.9h0.8M40.6 533.9h1.0M55.2 533.9h0.5M73.2 533.9h0.5M77.6 533.9h0.5M88.7 533.9h1.0M100.2 533.9h1.4M108.7 533.9h0.8M118.9 533.9h0.8M130.8 533.9h1.4M136.5 533.9h1.4M154.4 533.9h0.5M163.3 533.9h1.0M167.4 533.9h1.0M19.5 535.2h0.8M26.8 535.2h0.8M37.9 535.2h1.0M47.8 535.2h0.5M62.9 535.2h1.4M65.7 535.2h0.8M85.9 535.2h0.8M102.3 535.2h0.8M110.5 535.2h1.0M122.3 535.2h1.4M126.3 535.2h1.4M137.3 535.2h1.0M151.6 535.2h1.0M17.0 536.5h0.5M18.8 536.5h1.4M43.7 536.5h1.0M47.0 536.5h1.0M54.9 536.5h1.4M76.9 536.5h1.4M91.5 536.5h1.4M94.0 536.5h1.4M97.5 536.5h1.0M107.5 536.5h0.8M111.5 536.5h1.0M133.3 536.5h0.8M140.3 536.5h0.8M143.1 536.5h0.8M159.5 536.5h1.0M165.8 536.5h1.0M170.7 536.5h1.0M20.4 537.8h1.4M22.3 537.8h1.0M31.5 537.8h1.4M39.8 537.8h0.8M43.4 537.8h0.8M45.7 537.8h1.0M51.6 537.8h1.0M62.6 537.8h1.4M65.5 537.8h0.5M68.4 537.8h0.8M72.5 537.8h0.5M125.7 537.8h1.0M135.1 537.8h0.5M151.8 537.8h1.4M174.4 537.8h1.0M23.4 539.1h0.5M25.1 539.1h1.4M27.0 539.1h1.4M31.2 539.1h1.0M34.9 539.1h0.8M44.0 539.1h0.8M59.4 539.1h0.8M70.4 539.1h0.5M81.7 539.1h1.0M97.8 539.1h0.8M99.3 539.1h0.8M102.3 539.1h1.4M133.6 539.1h0.5M161.8 539.1h1.4M168.7 539.1h1.4M175.0 539.1h0.8M17.7 540.5h1.0M26.4 540.5h0.5M30.7 540.5h0.5M41.8 540.5h0.5M55.2 540.5h1.4M60.6 540.5h1.4M66.4 540.5h0.5M74.1 540.5h0.8M75.5 540.5h0.5M83.7 540.5h0.8M99.2 540.5h1.0M102.5 540.5h0.5M108.3 540.5h0.8M112.4 540.5h1.0M118.2 540.5h0.8M120.5 540.5h1.0M131.0 540.5h0.5M132.1 540.5h0.5M133.5 540.5h0.5M135.0 540.5h1.4M138.4 540.5h0.8M143.4 540.5h1.0M145.6 540.5h1.0M149.7 540.5h0.8M155.4 540.5h0.5M165.9 540.5h1.4M170.0 540.5h0.8M173.8 540.5h0.5M16.3 541.8h1.0M26.8 541.8h0.8M40.1 541.8h0.8M48.6 541.8h1.0M57.9 541.8h1.0M61.6 541.8h0.8M73.3 541.8h1.4M75.2 541.8h0.5M78.3 541.8h0.8M98.2 541.8h0.8M101.1 541.8h0.8M108.6 541.8h1.4M129.8 541.8h1.0M166.0 541.8h0.5M168.4 541.8h1.0M170.4 541.8h1.4M16.3 543.1h1.4M21.3 543.1h0.8M28.7 543.1h1.0M41.5 543.1h1.4M66.7 543.1h0.5M89.3 543.1h0.5M104.4 543.1h0.5M113.7 543.1h1.0M121.3 543.1h1.4M124.0 543.1h1.4M141.3 543.1h1.4M152.1 543.1h0.8M153.6 543.1h0.5M159.2 543.1h0.8M28.3 544.4h1.0M36.2 544.4h0.5M56.5 544.4h0.5M76.5 544.4h0.8M83.9 544.4h1.4M92.0 544.4h1.4M123.5 544.4h1.4M127.6 544.4h0.8M148.0 544.4h0.8M164.4 544.4h1.4M174.9 544.4h0.5M37.3 545.7h0.8M59.7 545.7h0.5M72.8 545.7h1.0M75.1 545.7h1.4M87.3 545.7h0.8M97.7 545.7h1.4M102.6 545.7h0.8M104.8 545.7h0.5M114.1 545.7h1.0M116.6 545.7h0.5M118.2 545.7h0.5M146.0 545.7h1.0M156.7 545.7h1.0M169.5 545.7h0.5M18.8 547.0h0.8M44.9 547.0h0.8M46.8 547.0h0.5M48.5 547.0h0.5M50.2 547.0h0.5M57.7 547.0h0.5M61.3 547.0h1.0M67.8 547.0h1.4M72.7 547.0h1.4M79.3 547.0h1.0M86.9 547.0h0.8M113.3 547.0h0.5M114.9 547.0h0.5M144.4 547.0h0.8M158.6 547.0h0.5M162.6 547.0h0.5M164.5 547.0h0.8M174.1 547.0h1.0M23.0 548.4h1.4M32.1 548.4h1.4M49.2 548.4h0.5M79.9 548.4h1.4M83.8 548.4h0.8M89.3 548.4h1.4M107.0 548.4h1.0M110.8 548.4h1.0M115.9 548.4h1.4M118.7 548.4h1.4M128.5 548.4h1.0M134.4 548.4h1.0M142.0 548.4h0.8M144.1 548.4h1.0M160.3 548.4h0.5M164.6 548.4h0.8M173.7 548.4h0.5M23.3 549.7h1.4M32.1 549.7h1.4M44.2 549.7h0.8M57.8 549.7h0.5M59.9 549.7h1.4M63.6 549.7h0.8M74.8 549.7h0.8M81.1 549.7h0.5M84.0 549.7h1.4M98.0 549.7h1.0M100.2 549.7h0.5M106.1 549.7h0.8M113.0 549.7h0.8M117.9 549.7h0.5M122.3 549.7h0.8M125.1 549.7h0.8M131.2 549.7h0.8M134.9 549.7h1.4M137.1 549.7h0.8M141.1 549.7h1.4M146.3 549.7h0.5M147.6 549.7h1.4M155.2 549.7h1.4M172.8 549.7h1.4M29.4 551.0h1.0M47.0 551.0h1.4M57.7 551.0h0.5M84.6 551.0h1.4M87.8 551.0h1.0M101.0 551.0h0.8M103.0 551.0h0.5M104.2 551.0h0.8M105.5 551.0h0.8M123.7 551.0h0.8M140.8 551.0h1.0M143.3 551.0h0.8M153.0 551.0h1.4M160.7 551.0h0.8M170.5 551.0h0.8M175.6 551.0h0.5M17.3 552.3h1.4M31.2 552.3h0.8M52.1 552.3h1.4M64.4 552.3h0.5M67.1 552.3h0.8M73.4 552.3h1.0M76.4 552.3h0.5M83.1 552.3h0.5M123.8 552.3h1.0M128.9 552.3h0.5M130.5 552.3h1.4M134.5 552.3h0.8M152.0 552.3h0.5M159.2 552.3h1.4M168.1 552.3h0.8M171.1 552.3h0.8M173.1 552.3h0.5M16.8 553.6h1.4M42.0 553.6h0.8M44.0 553.6h1.4M46.1 553.6h0.8M47.8 553.6h1.0M55.6 553.6h1.4M69.2 553.6h1.0M98.5 553.6h0.8M99.7 553.6h1.4M103.4 553.6h0.8M109.5 553.6h1.4M113.4 553.6h0.8M119.9 553.6h0.8M137.4 553.6h1.0M150.6 553.6h1.0M158.3 553.6h0.5M174.4 553.6h1.4M19.7 554.9h0.5M20.7 554.9h0.8M24.6 554.9h0.8M32.4 554.9h0.5M56.0 554.9h1.4M64.7 554.9h0.5M73.3 554.9h0.5M76.3 554.9h1.0M81.4 554.9h0.8M97.2 554.9h1.4M102.2 554.9h0.8M106.8 554.9h0.8M119.9 554.9h0.5M143.4 554.9h1.0M159.6 554.9h0.8M24.5 556.3h1.4M26.4 556.3h1.0M32.4 556.3h0.5M34.3 556.3h0.8M86.8 556.3h1.0M107.5 556.3h1.4M112.9 556.3h0.5M115.2 556.3h1.4M117.3 556.3h1.4M121.2 556.3h0.8M124.7 556.3h0.5M126.1 556.3h0.5M128.3 556.3h1.4M162.4 556.3h1.4M16.3 557.6h1.4M26.6 557.6h1.4M28.7 557.6h0.5M30.6 557.6h1.0M34.4 557.6h0.5M41.9 557.6h0.8M51.7 557.6h1.4M54.0 557.6h0.5M60.8 557.6h0.8M79.5 557.6h1.4M83.9 557.6h0.8M98.3 557.6h0.5M101.4 557.6h1.0M115.2 557.6h1.0M117.4 557.6h1.0M123.1 557.6h1.4M134.8 557.6h0.8M137.9 557.6h1.0M141.1 557.6h0.5M145.8 557.6h0.8M151.1 557.6h0.8M161.5 557.6h0.8M42.1 558.9h1.0M64.1 558.9h1.4M71.5 558.9h0.5M75.2 558.9h0.8M77.5 558.9h1.4M84.7 558.9h1.0M87.9 558.9h0.8M94.4 558.9h0.5M96.2 558.9h0.8M104.5 558.9h1.0M110.9 558.9h1.0M117.2 558.9h1.0M121.6 558.9h0.5M134.5 558.9h0.5M137.6 558.9h0.8M144.6 558.9h0.5M163.6 558.9h0.5M169.0 558.9h1.4M174.0 558.9h0.8M18.2 560.2h1.4M26.1 560.2h1.4M28.5 560.2h1.0M53.3 560.2h0.8M87.2 560.2h0.8M91.9 560.2h0.8M104.4 560.2h1.4M114.5 560.2h1.4M133.4 560.2h1.4M136.3 560.2h1.0M147.8 560.2h0.5M149.7 560.2h0.5M152.7 560.2h1.0M157.2 560.2h1.0M163.3 560.2h1.0M170.4 560.2h1.0M172.9 560.2h1.0M18.5 561.5h0.5M27.4 561.5h0.5M33.2 561.5h1.0M38.6 561.5h0.8M40.5 561.5h0.5M51.7 561.5h0.5M56.8 561.5h1.0M71.7 561.5h0.8M77.3 561.5h0.5M88.8 561.5h1.4M92.0 561.5h0.8M99.1 561.5h1.0M102.6 561.5h1.0M109.6 561.5h1.0M112.0 561.5h0.5M113.9 561.5h1.0M125.7 561.5h1.4M132.7 561.5h0.8M144.3 561.5h1.0M149.8 561.5h0.8M155.6 561.5h1.0M169.0 561.5h0.8M16.6 562.9h0.8M21.9 562.9h0.8M23.4 562.9h0.8M30.2 562.9h1.0M45.3 562.9h1.0M54.0 562.9h0.5M77.5 562.9h1.0M95.2 562.9h0.8M103.4 562.9h1.0M129.7 562.9h1.4M141.2 562.9h1.4M149.0 562.9h0.8M163.1 562.9h1.0M31.1 564.2h1.4M54.3 564.2h0.5M57.8 564.2h1.4M69.3 564.2h0.8M71.9 564.2h1.0M74.0 564.2h0.8M78.0 564.2h0.5M79.9 564.2h0.5M81.9 564.2h0.5M85.5 564.2h0.5M91.8 564.2h0.5M94.7 564.2h1.0M124.3 564.2h0.5M136.5 564.2h0.5M141.7 564.2h1.4M152.0 564.2h0.5M19.4 565.5h1.0M21.5 565.5h1.4M33.2 565.5h1.4M46.6 565.5h1.4M52.8 565.5h0.5M54.4 565.5h0.5M69.7 565.5h0.8M72.0 565.5h0.5M74.0 565.5h0.5M93.8 565.5h0.8M95.6 565.5h0.5M98.3 565.5h0.5M99.4 565.5h1.4M112.6 565.5h0.8M114.0 565.5h0.5M119.7 565.5h0.5M138.9 565.5h0.8M142.0 565.5h1.0M154.0 565.5h0.8M155.8 565.5h0.8M161.6 565.5h1.4M172.4 565.5h0.5M17.1 566.8h0.5M21.7 566.8h1.0M25.7 566.8h1.4M30.8 566.8h1.4M41.0 566.8h1.4M80.9 566.8h1.4M88.4 566.8h0.8M99.7 566.8h0.5M112.8 566.8h1.4M121.8 566.8h0.5M125.3 566.8h0.5M145.5 566.8h0.8M153.9 566.8h0.8M19.9 568.1h0.5M51.0 568.1h1.0M54.4 568.1h1.0M64.7 568.1h0.5M77.8 568.1h1.4M84.8 568.1h0.5M97.9 568.1h1.4M115.7 568.1h1.0M137.4 568.1h0.5M150.4 568.1h0.5M156.6 568.1h0.8M158.5 568.1h1.0M165.9 568.1h1.0M35.1 569.4h0.5M52.7 569.4h0.5M57.8 569.4h0.8M61.1 569.4h0.5M64.3 569.4h1.4M77.2 569.4h0.8M84.8 569.4h1.4M91.7 569.4h0.5M106.8 569.4h0.8M115.3 569.4h0.5M118.2 569.4h1.4M126.1 569.4h0.8M133.6 569.4h0.5M140.2 569.4h1.4M145.1 569.4h0.8M153.7 569.4h0.5M158.1 569.4h1.4M173.9 569.4h0.5M18.6 570.8h0.8M31.4 570.8h0.5M36.1 570.8h1.4M63.2 570.8h0.5M82.6 570.8h0.5M86.1 570.8h1.4M97.7 570.8h0.5M103.5 570.8h1.0M110.9 570.8h0.5M116.4 570.8h1.4M122.3 570.8h1.0M129.6 570.8h0.8M138.3 570.8h1.4M145.7 570.8h0.5M149.4 570.8h1.0M154.8 570.8h0.8M167.4 570.8h0.8M21.5 572.1h1.0M33.1 572.1h0.8M43.8 572.1h1.0M49.6 572.1h0.5M53.1 572.1h1.0M62.8 572.1h0.5M79.9 572.1h0.8M92.7 572.1h0.8M96.0 572.1h1.0M105.2 572.1h1.4M107.9 572.1h0.5M111.0 572.1h0.5M116.8 572.1h1.4M118.8 572.1h0.5M126.9 572.1h1.4M129.4 572.1h0.8M136.1 572.1h1.0M139.3 572.1h1.0M154.8 572.1h1.0M158.1 572.1h1.4M35.9 573.4h0.8M46.0 573.4h0.8M55.2 573.4h0.5M60.2 573.4h1.0M63.7 573.4h1.4M66.5 573.4h0.8M88.4 573.4h1.4M92.3 573.4h0.5M98.5 573.4h1.4M103.2 573.4h1.4M121.6 573.4h1.0M125.6 573.4h1.0M127.1 573.4h1.4M147.1 573.4h0.8M164.2 573.4h1.4M25.9 574.7h0.5M35.4 574.7h0.5M39.1 574.7h0.8M47.1 574.7h1.0M50.8 574.7h1.0M54.1 574.7h0.5M62.2 574.7h0.8M73.9 574.7h0.8M101.6 574.7h0.5M118.7 574.7h1.0M126.4 574.7h1.4M129.4 574.7h0.5M143.4 574.7h1.4M152.0 574.7h0.8M167.2 574.7h0.5M172.7 574.7h1.0M31.8 576.0h1.0M37.4 576.0h1.4M49.7 576.0h0.5M57.6 576.0h0.5M64.4 576.0h0.8M66.6 576.0h1.0M91.7 576.0h0.5M100.2 576.0h1.0M124.4 576.0h1.0M139.7 576.0h1.0M142.1 576.0h1.4M147.1 576.0h0.5M153.0 576.0h0.5M173.3 576.0h1.0M18.4 577.3h0.8M19.7 577.3h1.0M26.2 577.3h1.4M43.8 577.3h1.0M49.0 577.3h0.5M53.9 577.3h0.8M65.8 577.3h1.0M120.0 577.3h1.4M130.5 577.3h0.8M132.8 577.3h0.8M148.6 577.3h0.8M150.0 577.3h0.5M152.0 577.3h0.5M154.2 577.3h0.5M168.4 577.3h0.5M171.1 577.3h1.4" stroke="#bcd8f5" stroke-width="1.32" fill="none"/>
<path d="M21.4 381.1h0.5M59.9 381.1h0.5M68.9 381.1h0.8M79.4 381.1h0.8M113.1 381.1h0.8M130.9 381.1h1.4M146.3 381.1h1.0M155.1 381.1h1.4M160.7 381.1h0.5M163.1 381.1h1.0M19.5 382.4h0.5M32.8 382.4h0.5M71.1 382.4h1.0M80.2 382.4h1.4M92.5 382.4h0.5M97.7 382.4h0.5M106.4 382.4h1.0M132.7 382.4h0.5M17.0 383.7h0.5M41.0 383.7h1.4M96.7 383.7h1.4M106.5 383.7h0.5M116.1 383.7h1.4M163.9 383.7h0.8M77.3 385.0h0.8M83.6 385.0h1.0M103.7 385.0h1.4M146.7 385.0h1.4M149.5 385.0h0.8M151.6 385.0h0.8M168.6 385.0h0.5M171.3 385.0h0.5M36.5 386.3h1.0M66.4 386.3h1.0M93.0 386.3h0.8M95.4 386.3h0.5M96.5 386.3h0.5M102.4 386.3h1.4M117.7 386.3h0.8M123.8 386.3h0.5M127.9 386.3h1.0M160.4 386.3h0.8M173.3 386.3h0.5M16.7 387.6h0.8M28.3 387.6h1.4M30.3 387.6h1.0M68.5 387.6h1.4M77.3 387.6h1.0M81.7 387.6h1.0M105.3 387.6h0.5M108.5 387.6h0.8M140.2 387.6h1.4M168.3 387.6h0.8M29.1 389.0h0.5M38.2 389.0h0.8M41.0 389.0h1.0M60.7 389.0h1.4M62.5 389.0h0.8M78.3 389.0h0.5M81.7 389.0h0.5M112.4 389.0h0.5M114.0 389.0h0.5M117.1 389.0h1.4M133.0 389.0h1.4M159.2 389.0h1.4M165.8 389.0h1.0M23.6 390.3h1.0M28.1 390.3h1.0M36.3 390.3h1.0M90.8 390.3h0.8M92.8 390.3h0.8M100.8 390.3h0.8M118.0 390.3h0.8M123.8 390.3h0.8M128.3 390.3h1.0M134.9 390.3h1.0M137.4 390.3h1.0M148.2 390.3h0.5M155.1 390.3h0.8M157.3 390.3h1.0M167.6 390.3h0.8M63.6 391.6h0.8M68.9 391.6h1.4M70.8 391.6h0.8M72.1 391.6h1.0M88.3 391.6h0.5M94.2 391.6h1.4M149.2 391.6h0.8M151.4 391.6h0.8M45.0 392.9h1.0M65.5 392.9h0.8M79.1 392.9h1.0M85.7 392.9h0.5M90.9 392.9h1.4M96.7 392.9h0.8M103.8 392.9h1.0M127.5 392.9h1.4M131.4 392.9h0.8M143.8 392.9h1.4M163.9 392.9h0.8M167.1 392.9h1.4M27.5 394.2h0.8M34.1 394.2h0.5M51.2 394.2h0.5M91.5 394.2h0.5M107.9 394.2h0.8M115.1 394.2h0.8M138.3 394.2h1.4M145.9 394.2h0.5M153.3 394.2h1.4M166.4 394.2h1.0M16.8 395.5h1.0M94.6 395.5h1.0M97.6 395.5h1.0M110.2 395.5h1.0M138.1 395.5h0.5M146.7 395.5h1.4M27.6 396.9h1.0M29.3 396.9h1.0M88.3 396.9h0.8M131.1 396.9h0.8M133.0 396.9h0.5M21.3 398.2h1.0M33.5 398.2h1.4M56.9 398.2h0.8M82.0 398.2h1.0M107.4 398.2h1.4M109.3 398.2h1.4M113.1 398.2h1.4M115.8 398.2h0.8M128.2 398.2h0.5M135.6 398.2h1.4M34.5 399.5h0.5M70.6 399.5h1.0M99.5 399.5h0.8M125.1 399.5h0.8M163.6 399.5h1.0M165.1 399.5h0.5M167.7 399.5h0.5M34.1 400.8h1.0M55.5 400.8h0.8M97.8 400.8h0.8M112.8 400.8h0.8M27.9 402.1h1.4M55.3 402.1h1.4M58.2 402.1h0.5M111.9 402.1h0.5M114.0 402.1h1.4M133.5 402.1h0.5M141.5 402.1h0.8M144.6 402.1h0.5M159.4 402.1h1.0M166.8 402.1h0.5M18.6 403.5h1.0M32.7 403.5h1.4M44.6 403.5h0.8M89.1 403.5h0.8M95.7 403.5h1.4M105.3 403.5h0.5M114.4 403.5h1.4M122.7 403.5h1.4M145.1 403.5h1.4M151.8 403.5h0.5M20.6 404.8h0.5M92.9 404.8h1.0M98.6 404.8h1.4M103.4 404.8h0.8M110.3 404.8h1.4M128.4 404.8h1.0M130.7 404.8h1.0M86.7 406.1h0.8M92.4 406.1h0.5M124.8 406.1h0.5M48.6 407.4h1.4M69.4 407.4h0.5M86.1 407.4h1.4M95.3 407.4h1.4M126.9 407.4h1.0M162.4 407.4h1.4M28.3 408.7h0.8M144.8 408.7h0.5M29.1 410.0h1.0M33.5 410.0h1.0M42.1 410.0h1.0M69.7 410.0h0.8M116.1 410.0h0.8M168.1 410.0h0.5M17.1 411.4h0.5M20.6 411.4h1.0M62.0 411.4h1.0M69.7 411.4h1.4M85.1 411.4h1.4M127.1 411.4h1.4M148.6 411.4h1.0M155.5 411.4h0.5M162.3 411.4h0.5M115.0 412.7h1.4M139.1 412.7h0.8M148.6 412.7h1.4M152.1 412.7h0.5M164.1 412.7h0.8M172.8 412.7h0.8M60.2 414.0h0.8M108.1 414.0h1.4M134.5 414.0h0.5M161.2 414.0h1.4M170.8 414.0h1.4M40.5 415.3h0.5M42.7 415.3h0.5M92.4 415.3h1.4M101.1 415.3h0.8M107.2 415.3h0.8M142.0 415.3h0.8M158.3 415.3h1.0M40.3 416.6h1.4M44.7 416.6h1.0M49.7 416.6h0.8M51.9 416.6h0.8M85.0 416.6h0.5M91.2 416.6h1.4M139.0 416.6h1.0M28.1 417.9h0.8M38.7 417.9h0.5M51.2 417.9h1.0M63.0 417.9h0.5M65.0 417.9h1.0M75.4 417.9h0.5M86.0 417.9h0.5M132.8 417.9h0.5M175.1 417.9h0.5M21.7 419.3h0.5M50.4 419.3h0.5M80.1 419.3h1.4M83.3 419.3h1.4M117.3 419.3h1.4M130.9 419.3h1.0M136.3 419.3h0.8M141.1 419.3h0.5M162.2 419.3h1.0M17.0 420.6h1.0M51.4 420.6h1.4M62.4 420.6h1.4M96.8 420.6h0.5M104.3 420.6h0.5M119.6 420.6h1.4M140.1 420.6h0.5M40.8 421.9h1.0M63.8 421.9h0.8M65.3 421.9h1.0M113.5 421.9h0.8M145.7 421.9h0.8M149.5 421.9h1.4M151.5 421.9h0.5M153.4 421.9h1.4M159.4 421.9h1.4M35.4 423.2h1.0M53.9 423.2h0.8M79.4 423.2h0.5M88.6 423.2h1.0M91.2 423.2h0.8M95.1 423.2h1.0M114.4 423.2h1.0M120.7 423.2h0.8M123.4 423.2h0.5M144.1 423.2h0.8M155.1 423.2h0.8M172.5 423.2h0.5M16.6 424.5h0.5M18.1 424.5h1.4M20.7 424.5h0.8M30.4 424.5h0.8M67.6 424.5h0.8M120.4 424.5h0.8M157.9 424.5h1.4M163.3 424.5h0.8M28.5 425.8h0.5M47.7 425.8h1.4M58.5 425.8h1.0M68.9 425.8h0.5M158.6 425.8h0.8M163.8 425.8h0.8M21.4 427.2h1.4M47.0 427.2h0.8M79.4 427.2h0.8M81.7 427.2h0.5M124.1 427.2h0.5M160.1 427.2h0.8M173.8 427.2h1.0M31.5 428.5h0.8M58.1 428.5h1.0M89.3 428.5h0.8M109.2 428.5h1.0M128.5 428.5h1.4M60.6 429.8h1.4M63.9 429.8h0.5M71.1 429.8h1.0M84.6 429.8h0.5M89.0 429.8h1.4M98.0 429.8h0.8M101.5 429.8h1.0M104.8 429.8h1.0M117.9 429.8h0.5M136.1 429.8h0.5M137.9 429.8h1.0M142.6 429.8h1.4M23.8 431.1h0.5M48.9 431.1h1.4M61.5 431.1h1.4M66.0 431.1h0.8M82.7 431.1h0.5M120.9 431.1h1.0M150.8 431.1h1.4M153.9 431.1h1.4M162.7 431.1h0.5M164.6 431.1h1.4M167.0 431.1h0.5M20.9 432.4h1.4M49.0 432.4h1.0M58.7 432.4h1.4M137.1 432.4h0.5M138.6 432.4h0.5M140.4 432.4h1.0M172.9 432.4h0.5M23.0 433.8h0.5M95.2 433.8h0.8M117.4 433.8h0.5M143.8 433.8h0.8M36.5 435.1h0.5M50.0 435.1h0.5M52.8 435.1h1.4M56.3 435.1h1.4M83.1 435.1h1.0M90.2 435.1h1.0M94.9 435.1h0.8M103.0 435.1h0.8M119.2 435.1h0.5M139.4 435.1h1.4M157.5 435.1h0.5M27.2 436.4h0.5M105.9 436.4h0.5M155.5 436.4h0.5M158.0 436.4h1.0M31.2 437.7h1.0M53.2 437.7h0.8M65.1 437.7h1.4M90.3 437.7h1.4M108.8 437.7h0.8M119.2 437.7h0.5M121.3 437.7h1.4M145.2 437.7h1.4M153.7 437.7h1.0M171.4 437.7h1.0M19.6 439.0h0.5M41.3 439.0h1.0M54.8 439.0h1.4M63.7 439.0h1.0M77.4 439.0h1.4M92.6 439.0h0.5M99.0 439.0h0.5M117.9 439.0h1.4M124.4 439.0h1.4M128.6 439.0h1.0M150.2 439.0h0.5M159.4 439.0h1.0M33.6 440.3h1.0M49.5 440.3h0.8M71.6 440.3h1.4M81.1 440.3h0.5M84.6 440.3h0.8M86.5 440.3h0.8M88.3 440.3h0.5M91.7 440.3h1.0M161.9 440.3h1.4M25.2 441.7h1.0M26.8 441.7h1.4M69.4 441.7h1.4M86.9 441.7h0.8M101.2 441.7h1.4M118.8 441.7h1.4M134.3 441.7h1.0M161.0 441.7h1.0M172.3 441.7h1.4M19.1 443.0h0.8M42.2 443.0h1.0M52.4 443.0h0.8M62.1 443.0h0.5M76.0 443.0h0.5M84.8 443.0h1.4M92.0 443.0h0.8M99.1 443.0h0.5M106.2 443.0h1.4M123.3 443.0h0.5M146.3 443.0h1.4M155.8 443.0h1.0M169.2 443.0h1.4M175.2 443.0h0.8M22.2 444.3h0.5M23.3 444.3h1.0M54.1 444.3h1.4M118.7 444.3h0.8M127.6 444.3h0.8M133.4 444.3h1.0M150.0 444.3h0.8M152.9 444.3h1.4M19.7 445.6h1.4M24.6 445.6h0.8M55.7 445.6h0.8M94.7 445.6h1.0M141.1 445.6h0.5M152.0 445.6h1.4M57.1 446.9h0.8M60.4 446.9h0.8M62.1 446.9h0.8M71.9 446.9h1.4M155.3 446.9h0.8M174.0 446.9h0.8M16.7 448.2h0.5M20.8 448.2h0.8M40.9 448.2h1.4M50.1 448.2h1.0M92.7 448.2h1.0M101.6 448.2h0.5M173.5 448.2h1.0M175.5 448.2h0.8M17.6 449.6h0.8M18.8 449.6h1.0M23.8 449.6h1.4M26.6 449.6h0.8M48.7 449.6h0.5M58.4 449.6h0.5M91.8 449.6h1.4M122.8 449.6h0.8M146.6 449.6h1.0M148.9 449.6h0.8M21.5 450.9h1.0M43.7 450.9h1.0M51.2 450.9h1.4M54.2 450.9h0.8M60.8 450.9h0.8M82.1 450.9h1.0M99.8 450.9h0.8M117.7 450.9h1.0M124.5 450.9h1.4M128.1 450.9h1.0M166.5 450.9h0.5M17.2 452.2h1.0M23.2 452.2h1.0M32.1 452.2h1.0M57.9 452.2h0.8M84.5 452.2h1.4M97.5 452.2h1.4M101.7 452.2h0.5M110.7 452.2h0.8M124.6 452.2h0.8M139.0 452.2h0.5M143.8 452.2h0.5M162.5 452.2h1.0M168.9 452.2h1.4M31.2 453.5h1.0M37.3 453.5h0.8M53.4 453.5h0.5M55.0 453.5h0.5M71.1 453.5h1.4M75.5 453.5h1.4M115.3 453.5h0.5M118.3 453.5h1.4M133.7 453.5h0.5M139.7 453.5h1.0M158.9 453.5h0.8M35.0 454.8h0.8M57.7 454.8h0.8M67.0 454.8h0.5M78.7 454.8h1.4M150.6 454.8h0.5M168.8 454.8h0.8M175.4 454.8h1.2M31.7 456.1h1.4M44.7 456.1h1.4M57.1 456.1h1.0M65.7 456.1h0.5M102.1 456.1h0.5M103.9 456.1h0.5M107.6 456.1h1.0M30.6 457.5h0.8M36.8 457.5h0.5M66.1 457.5h0.8M78.6 457.5h1.0M82.0 457.5h1.0M91.2 457.5h1.0M143.3 457.5h0.8M149.1 457.5h1.4M170.1 457.5h1.4M33.2 458.8h1.4M52.5 458.8h0.8M61.7 458.8h1.0M64.2 458.8h1.0M79.0 458.8h1.0M95.6 458.8h1.0M107.2 458.8h0.8M133.5 458.8h1.4M141.4 458.8h0.5M168.0 458.8h0.5M23.1 460.1h1.4M41.4 460.1h1.0M72.3 460.1h1.0M99.7 460.1h1.0M111.6 460.1h0.5M126.1 460.1h1.4M165.0 460.1h0.8M168.3 460.1h1.4M40.7 461.4h1.4M46.7 461.4h0.8M53.0 461.4h0.5M88.8 461.4h0.8M106.4 461.4h0.5M108.5 461.4h1.0M121.5 461.4h1.4M137.9 461.4h1.0M164.2 461.4h1.4M43.7 462.7h1.0M50.0 462.7h1.4M83.9 462.7h0.8M87.4 462.7h1.4M155.0 462.7h0.8M156.4 462.7h0.5M168.5 462.7h1.4M170.8 462.7h0.8M20.9 464.1h0.8M66.1 464.1h0.5M109.0 464.1h0.5M138.3 464.1h1.0M155.6 464.1h0.5M156.9 464.1h0.5M29.3 465.4h1.0M69.2 465.4h0.8M145.2 465.4h1.0M147.2 465.4h0.5M149.7 465.4h0.8M151.1 465.4h0.8M153.2 465.4h0.5M162.6 465.4h1.0M171.4 465.4h1.0M95.8 466.7h0.5M146.8 466.7h0.8M167.8 466.7h0.8M174.7 466.7h0.8M38.3 468.0h1.4M49.8 468.0h1.0M61.9 468.0h1.0M84.0 468.0h0.5M85.3 468.0h0.8M93.8 468.0h0.8M106.5 468.0h0.5M118.7 468.0h0.5M155.7 468.0h1.0M172.6 468.0h0.5M40.6 469.3h1.4M58.8 469.3h0.5M82.9 469.3h0.8M84.2 469.3h0.8M91.3 469.3h1.4M95.2 469.3h1.0M128.9 469.3h1.4M132.6 469.3h0.8M147.0 469.3h1.4M172.4 469.3h1.0M70.1 470.6h1.0M95.6 470.6h0.8M125.4 470.6h0.5M160.5 470.6h1.4M166.2 470.6h1.4M15.9 472.0h1.4M33.8 472.0h0.8M75.0 472.0h0.5M78.6 472.0h0.8M88.6 472.0h1.0M99.9 472.0h1.4M118.1 472.0h0.5M122.0 472.0h1.0M136.5 472.0h1.0M147.0 472.0h1.4M159.5 472.0h0.8M174.2 472.0h0.8M41.2 473.3h0.8M43.4 473.3h1.4M45.8 473.3h1.0M49.2 473.3h0.5M71.1 473.3h1.0M82.5 473.3h1.4M92.6 473.3h1.4M120.5 473.3h1.4M148.3 473.3h0.8M153.2 473.3h0.8M39.6 474.6h1.0M43.2 474.6h0.5M81.7 474.6h0.5M99.7 474.6h0.8M122.5 474.6h0.8M133.2 474.6h0.8M22.4 475.9h1.0M26.3 475.9h0.5M36.9 475.9h0.8M74.2 475.9h0.5M81.6 475.9h0.5M103.4 475.9h1.0M130.1 475.9h1.4M164.0 475.9h1.4M22.6 477.2h0.8M38.7 477.2h1.0M41.0 477.2h1.0M65.5 477.2h1.4M82.0 477.2h0.5M142.7 477.2h1.4M169.8 477.2h0.8M59.9 478.5h1.0M78.7 478.5h1.0M93.3 478.5h1.0M100.1 478.5h0.8M106.0 478.5h0.5M116.0 478.5h1.0M125.9 478.5h1.4M135.5 478.5h0.5M141.2 478.5h0.8M146.8 478.5h0.5M155.1 478.5h1.4M174.3 478.5h1.4M51.1 479.9h0.5M60.6 479.9h1.0M68.3 479.9h1.0M96.0 479.9h1.0M128.5 479.9h1.4M150.8 479.9h1.0M164.6 479.9h1.0M23.3 481.2h1.4M45.3 481.2h1.0M47.8 481.2h1.4M59.8 481.2h1.0M92.2 481.2h0.8M93.7 481.2h0.5M168.4 481.2h1.4M171.0 481.2h1.0M81.4 482.5h1.0M83.1 482.5h1.4M114.4 482.5h0.8M143.4 482.5h0.8M174.3 482.5h0.8M53.8 483.8h1.0M96.3 483.8h0.8M113.3 483.8h0.8M139.3 483.8h0.8M167.8 483.8h1.0M20.7 485.1h1.0M41.4 485.1h1.4M81.9 485.1h1.0M133.9 485.1h1.4M142.9 485.1h0.8M21.6 486.4h1.4M81.9 486.4h0.8M151.3 486.4h1.0M159.3 486.4h1.0M160.8 486.4h0.8M62.8 487.8h1.4M90.3 487.8h0.5M92.3 487.8h0.5M96.5 487.8h0.8M106.8 487.8h0.5M127.9 487.8h1.4M162.4 487.8h1.4M25.4 489.1h1.0M40.8 489.1h1.0M55.4 489.1h1.4M88.8 489.1h0.8M108.2 489.1h1.0M129.4 489.1h1.4M132.8 489.1h0.8M148.7 489.1h0.8M24.7 490.4h1.0M80.3 490.4h0.8M93.2 490.4h0.8M121.3 490.4h1.4M129.9 490.4h0.5M138.4 490.4h0.5M152.4 490.4h1.0M165.5 490.4h0.5M171.5 490.4h1.4M53.6 491.7h0.8M72.0 491.7h0.8M78.5 491.7h0.8M115.6 491.7h1.4M162.2 491.7h1.4M25.7 493.0h1.0M31.4 493.0h0.8M45.4 493.0h1.0M54.8 493.0h0.8M75.2 493.0h1.4M112.3 493.0h0.5M131.9 493.0h0.5M140.6 493.0h1.4M165.0 493.0h0.8M167.3 493.0h1.4M171.9 493.0h0.8M27.3 494.3h1.4M59.5 494.3h1.0M74.0 494.3h0.8M98.2 494.3h1.4M100.6 494.3h0.5M105.6 494.3h0.5M154.2 494.3h0.8M160.9 494.3h1.4M37.1 495.7h0.5M42.5 495.7h1.4M89.2 495.7h1.4M96.6 495.7h0.5M99.1 495.7h1.0M103.3 495.7h0.8M133.1 495.7h0.8M144.8 495.7h1.0M173.8 495.7h1.4M21.9 497.0h0.8M38.0 497.0h0.5M44.6 497.0h1.0M59.3 497.0h0.8M80.1 497.0h0.8M88.8 497.0h1.4M99.3 497.0h1.0M149.2 497.0h1.4M158.8 497.0h0.8M175.3 497.0h1.0M39.3 498.3h1.4M91.8 498.3h0.5M108.4 498.3h0.5M118.9 498.3h0.5M133.0 498.3h1.4M143.6 498.3h1.4M157.7 498.3h0.5M161.1 498.3h1.0M166.5 498.3h1.4M175.0 498.3h1.0M41.7 499.6h1.0M70.8 499.6h1.0M82.0 499.6h1.0M86.3 499.6h1.0M106.0 499.6h0.5M148.4 499.6h0.5M170.4 499.6h1.4M51.6 500.9h1.4M146.5 500.9h0.8M154.6 500.9h1.4M160.9 500.9h0.8M175.1 500.9h0.8M55.9 502.3h0.8M104.7 502.3h1.4M129.9 502.3h0.5M134.7 502.3h1.0M138.8 502.3h0.5M162.1 502.3h1.4M166.4 502.3h0.5M17.6 503.6h0.8M38.9 503.6h0.8M40.8 503.6h1.0M49.5 503.6h1.4M87.7 503.6h1.4M96.2 503.6h0.5M117.5 503.6h1.0M127.3 503.6h0.8M151.8 503.6h0.5M168.7 503.6h1.0M28.7 504.9h0.5M32.3 504.9h1.4M49.9 504.9h1.0M70.6 504.9h1.0M82.5 504.9h1.4M99.2 504.9h0.8M123.8 504.9h1.4M130.0 504.9h0.5M141.5 504.9h0.8M152.6 504.9h1.4M164.2 504.9h1.0M48.8 506.2h0.8M52.9 506.2h0.5M103.6 506.2h0.5M123.2 506.2h1.4M132.1 506.2h1.0M146.8 506.2h1.0M33.4 507.5h1.4M48.7 507.5h1.0M67.8 507.5h1.0M88.7 507.5h0.5M106.2 507.5h0.8M123.4 507.5h0.8M134.6 507.5h1.4M162.1 507.5h1.0M33.7 508.8h0.5M40.1 508.8h1.4M44.7 508.8h0.8M59.8 508.8h1.0M65.0 508.8h0.8M67.3 508.8h1.0M76.7 508.8h0.8M84.9 508.8h1.0M134.2 508.8h1.4M146.4 508.8h1.0M148.4 508.8h1.4M166.2 508.8h0.5M29.6 510.2h1.0M57.4 510.2h0.8M61.8 510.2h0.5M98.5 510.2h0.5M102.5 510.2h0.5M109.1 510.2h1.4M120.3 510.2h1.0M126.9 510.2h1.4M163.7 510.2h1.0M168.7 510.2h0.8M172.1 510.2h0.5M41.0 511.5h0.8M54.8 511.5h0.5M77.3 511.5h0.5M92.8 511.5h1.0M123.9 511.5h0.5M141.4 511.5h0.5M173.4 511.5h1.4M40.7 512.8h0.8M61.6 512.8h1.0M64.1 512.8h0.5M74.8 512.8h0.8M83.2 512.8h1.4M97.2 512.8h0.8M121.5 512.8h1.4M143.4 512.8h1.4M148.0 512.8h0.5M22.4 514.1h0.8M34.2 514.1h1.4M47.3 514.1h0.8M60.4 514.1h0.5M105.8 514.1h0.8M142.6 514.1h0.8M151.6 514.1h1.4M160.2 514.1h1.0M32.1 515.4h0.5M39.3 515.4h0.8M46.3 515.4h1.4M68.4 515.4h1.4M97.6 515.4h1.0M103.9 515.4h1.4M118.6 515.4h1.0M125.8 515.4h0.5M149.4 515.4h0.8M158.0 515.4h1.4M170.8 515.4h0.8M64.8 516.7h0.5M86.6 516.7h0.5M126.0 516.7h0.8M43.0 518.1h1.0M48.3 518.1h0.8M62.1 518.1h1.0M83.1 518.1h1.0M92.2 518.1h0.8M113.5 518.1h0.8M125.9 518.1h1.0M131.4 518.1h0.8M141.6 518.1h1.4M174.7 518.1h1.0M17.3 519.4h0.8M74.9 519.4h1.0M107.8 519.4h1.4M117.4 519.4h1.0M157.1 519.4h1.0M19.9 520.7h0.5M39.1 520.7h0.5M47.5 520.7h0.5M67.1 520.7h0.8M79.1 520.7h0.8M84.2 520.7h0.5M85.7 520.7h1.0M108.4 520.7h0.8M132.2 520.7h0.5M18.4 522.0h0.8M104.9 522.0h1.0M123.1 522.0h1.0M132.0 522.0h1.4M168.9 522.0h1.4M29.8 523.3h0.8M41.6 523.3h0.5M43.2 523.3h0.5M58.2 523.3h1.0M121.0 523.3h0.5M133.4 523.3h0.5M27.7 524.6h1.0M38.4 524.6h1.0M141.4 524.6h0.5M146.9 524.6h1.4M30.5 526.0h0.5M47.9 526.0h0.5M53.4 526.0h0.8M63.0 526.0h1.0M90.5 526.0h1.0M97.5 526.0h1.0M130.2 526.0h1.4M157.9 526.0h1.4M162.0 526.0h0.8M19.9 527.3h1.4M24.5 527.3h0.8M41.7 527.3h0.8M104.6 527.3h1.0M171.3 527.3h0.8M34.5 528.6h1.0M36.4 528.6h0.8M46.4 528.6h1.0M70.7 528.6h0.5M113.8 528.6h0.8M121.7 528.6h0.8M157.7 528.6h0.5M16.8 529.9h1.0M19.8 529.9h0.5M24.0 529.9h1.0M32.0 529.9h1.4M81.3 529.9h1.0M87.4 529.9h1.0M103.7 529.9h0.5M22.4 531.2h0.8M60.7 531.2h0.8M69.7 531.2h0.5M74.9 531.2h1.4M100.7 531.2h0.5M112.9 531.2h0.5M120.8 531.2h1.4M128.0 531.2h0.8M160.5 531.2h0.8M19.1 532.6h1.4M22.5 532.6h0.5M45.2 532.6h1.0M50.6 532.6h1.4M68.1 532.6h0.8M69.8 532.6h0.5M84.6 532.6h0.8M90.9 532.6h0.5M98.3 532.6h1.4M110.6 532.6h0.5M130.8 532.6h0.5M147.5 532.6h1.0M151.4 532.6h0.5M153.2 532.6h0.5M171.5 532.6h0.8M35.6 533.9h0.5M59.8 533.9h0.5M66.5 533.9h0.5M68.4 533.9h0.5M75.8 533.9h0.5M94.5 533.9h1.4M106.1 533.9h1.4M117.0 533.9h1.0M123.9 533.9h0.8M147.6 533.9h0.5M160.9 533.9h0.5M22.6 535.2h1.0M57.9 535.2h0.5M58.8 535.2h0.8M89.1 535.2h1.0M118.1 535.2h1.4M141.2 535.2h1.4M143.2 535.2h1.0M145.3 535.2h0.5M147.7 535.2h0.5M148.6 535.2h1.4M170.0 535.2h0.8M31.6 536.5h1.4M40.6 536.5h0.5M71.5 536.5h0.8M74.2 536.5h1.4M96.5 536.5h0.5M144.7 536.5h1.0M147.2 536.5h1.4M150.2 536.5h1.0M158.0 536.5h1.0M168.5 536.5h1.4M57.0 537.8h0.5M70.0 537.8h0.8M76.1 537.8h1.4M81.0 537.8h0.8M89.4 537.8h1.4M91.8 537.8h0.5M137.7 537.8h1.4M145.5 537.8h1.4M158.4 537.8h0.5M171.1 537.8h0.8M18.4 539.1h1.0M29.5 539.1h1.0M40.3 539.1h0.5M41.9 539.1h0.8M47.5 539.1h0.8M51.8 539.1h1.4M68.6 539.1h1.0M83.9 539.1h0.5M94.3 539.1h1.0M118.8 539.1h1.4M123.8 539.1h1.4M141.9 539.1h0.5M149.5 539.1h0.5M20.3 540.5h0.8M35.9 540.5h1.4M43.5 540.5h1.4M47.9 540.5h0.5M157.9 540.5h0.8M172.8 540.5h0.5M34.5 541.8h0.8M45.7 541.8h1.4M50.6 541.8h0.8M53.7 541.8h1.0M88.0 541.8h1.0M103.2 541.8h0.8M121.4 541.8h0.5M140.9 541.8h1.4M144.6 541.8h1.4M45.2 543.1h1.4M84.4 543.1h1.4M92.0 543.1h0.8M101.8 543.1h1.4M107.8 543.1h1.4M129.1 543.1h1.4M134.2 543.1h1.0M139.4 543.1h1.4M160.8 543.1h0.8M164.3 543.1h0.8M98.2 544.4h0.8M120.9 544.4h0.5M129.0 544.4h1.4M138.6 544.4h0.8M142.0 544.4h1.4M145.8 544.4h1.4M152.9 544.4h0.5M156.2 544.4h0.5M63.3 545.7h0.5M68.7 545.7h1.4M89.0 545.7h1.4M107.1 545.7h1.0M124.0 545.7h0.5M125.5 545.7h0.8M142.2 545.7h0.8M23.3 547.0h0.5M26.3 547.0h0.8M43.5 547.0h1.0M75.0 547.0h0.8M90.6 547.0h0.8M101.1 547.0h1.0M105.7 547.0h1.4M118.7 547.0h1.0M128.4 547.0h0.5M148.0 547.0h0.8M42.8 548.4h1.0M87.5 548.4h1.0M124.5 548.4h1.4M139.0 548.4h1.4M162.0 548.4h0.8M167.6 548.4h1.4M171.2 548.4h1.0M17.0 549.7h1.4M55.4 549.7h0.5M76.4 549.7h1.4M93.5 549.7h1.0M163.1 549.7h0.8M23.7 551.0h1.0M32.6 551.0h1.0M35.0 551.0h1.4M43.7 551.0h1.0M69.2 551.0h1.4M71.9 551.0h0.8M77.5 551.0h1.0M125.1 551.0h0.5M134.5 551.0h1.0M146.1 551.0h1.0M148.5 551.0h0.8M156.0 551.0h1.0M62.4 552.3h0.8M75.0 552.3h0.5M86.7 552.3h1.0M97.3 552.3h1.4M101.2 552.3h1.4M136.2 552.3h1.4M138.9 552.3h1.0M164.0 552.3h1.4M25.5 553.6h1.4M30.3 553.6h1.4M34.9 553.6h1.0M37.2 553.6h1.4M75.7 553.6h1.4M139.0 553.6h0.8M142.8 553.6h0.8M159.6 553.6h1.4M163.2 553.6h1.0M169.4 553.6h1.4M17.4 554.9h0.5M23.0 554.9h0.5M48.9 554.9h1.4M70.4 554.9h1.4M100.8 554.9h0.8M105.3 554.9h0.5M108.8 554.9h1.4M111.6 554.9h1.4M116.6 554.9h1.4M122.4 554.9h1.4M124.5 554.9h0.8M133.1 554.9h1.4M150.9 554.9h0.8M153.6 554.9h0.8M160.9 554.9h1.4M37.9 556.3h0.5M49.5 556.3h1.0M60.6 556.3h0.8M84.4 556.3h1.0M110.9 556.3h1.0M133.9 556.3h0.8M151.1 556.3h0.5M156.5 556.3h0.5M173.9 556.3h1.0M32.6 557.6h0.5M46.9 557.6h1.4M56.4 557.6h0.8M73.4 557.6h0.8M93.9 557.6h1.4M149.8 557.6h0.8M156.4 557.6h0.8M159.1 557.6h1.0M166.6 557.6h1.4M25.2 558.9h0.5M28.0 558.9h0.5M79.6 558.9h1.4M82.8 558.9h0.5M112.3 558.9h0.8M135.8 558.9h0.5M141.9 558.9h0.5M143.2 558.9h1.0M145.9 558.9h0.8M160.6 558.9h1.4M34.5 560.2h1.0M49.2 560.2h0.8M93.4 560.2h1.0M143.3 560.2h1.0M155.8 560.2h0.8M168.5 560.2h0.5M47.3 561.5h1.0M60.7 561.5h0.5M67.3 561.5h0.8M97.2 561.5h0.5M119.1 561.5h1.4M136.9 561.5h0.5M137.8 561.5h0.5M140.4 561.5h1.0M165.4 561.5h0.8M27.8 562.9h1.0M47.8 562.9h0.8M73.5 562.9h0.5M83.7 562.9h1.0M109.3 562.9h1.4M113.2 562.9h1.0M125.8 562.9h1.0M143.2 562.9h0.5M159.0 562.9h0.5M167.9 562.9h0.5M172.4 562.9h0.5M43.5 564.2h0.8M49.0 564.2h1.4M66.5 564.2h1.4M96.7 564.2h1.0M114.1 564.2h1.4M117.3 564.2h0.5M139.7 564.2h0.5M153.2 564.2h1.4M17.9 565.5h0.5M31.3 565.5h0.5M91.4 565.5h1.4M131.8 565.5h1.4M34.7 566.8h0.5M44.2 566.8h0.8M55.1 566.8h1.0M74.8 566.8h0.5M83.3 566.8h0.8M92.4 566.8h0.5M94.4 566.8h0.5M97.0 566.8h0.5M115.5 566.8h1.4M128.1 566.8h1.0M138.9 566.8h0.5M142.1 566.8h1.4M38.0 568.1h0.5M41.2 568.1h0.5M63.2 568.1h0.5M71.8 568.1h0.5M93.1 568.1h1.4M110.6 568.1h1.0M122.8 568.1h0.5M133.6 568.1h1.0M162.8 568.1h0.8M167.4 568.1h1.4M29.1 569.4h1.4M49.5 569.4h0.8M66.8 569.4h0.5M96.2 569.4h1.0M112.3 569.4h0.8M120.8 569.4h1.0M130.3 569.4h1.4M175.3 569.4h1.0M33.6 570.8h1.0M57.8 570.8h1.0M68.9 570.8h1.0M105.5 570.8h1.0M156.6 570.8h1.4M170.8 570.8h1.4M172.9 570.8h0.5M67.4 572.1h1.0M81.5 572.1h1.0M87.1 572.1h1.4M90.8 572.1h1.4M112.1 572.1h1.0M120.3 572.1h1.4M165.4 572.1h1.0M34.1 573.4h1.0M79.5 573.4h1.4M86.2 573.4h1.0M107.7 573.4h0.8M112.1 573.4h1.0M114.0 573.4h1.0M140.0 573.4h0.5M145.2 573.4h1.0M24.1 574.7h0.5M41.1 574.7h0.5M44.7 574.7h1.0M48.9 574.7h0.8M67.8 574.7h0.8M86.8 574.7h0.8M96.2 574.7h1.0M160.7 574.7h1.4M39.3 576.0h0.8M82.5 576.0h0.8M85.7 576.0h0.8M104.8 576.0h1.4M116.7 576.0h1.0M126.3 576.0h0.5M163.8 576.0h0.8M63.3 577.3h1.0M85.0 577.3h1.0M87.9 577.3h0.8M96.2 577.3h1.0M124.6 577.3h1.4M162.5 577.3h1.0M173.0 577.3h1.4" stroke="#9dc5f0" stroke-width="1.32" fill="none"/>
<path d="M17.5 381.1h1.4M28.5 381.1h0.8M42.2 381.1h1.4M48.4 381.1h0.5M54.1 381.1h1.0M64.6 381.1h1.0M74.6 381.1h1.4M94.4 381.1h1.0M121.6 381.1h1.4M126.6 381.1h1.0M149.5 381.1h0.8M152.8 381.1h1.0M23.4 382.4h0.5M34.2 382.4h1.4M38.1 382.4h1.4M43.1 382.4h0.5M50.5 382.4h1.4M54.8 382.4h0.8M66.9 382.4h1.0M90.4 382.4h1.4M99.3 382.4h1.0M103.1 382.4h1.0M120.2 382.4h0.5M160.3 382.4h0.5M174.3 382.4h1.4M27.0 383.7h1.4M44.1 383.7h0.8M72.4 383.7h1.0M79.3 383.7h1.0M83.5 383.7h1.0M104.7 383.7h0.8M114.6 383.7h0.5M131.5 383.7h0.8M143.3 383.7h0.5M154.7 383.7h1.4M168.9 383.7h1.4M21.6 385.0h1.0M32.3 385.0h0.8M41.3 385.0h0.8M43.3 385.0h1.4M53.1 385.0h0.8M61.2 385.0h1.4M70.0 385.0h0.8M87.9 385.0h1.0M91.6 385.0h1.0M123.9 385.0h1.4M153.9 385.0h1.4M159.2 385.0h0.5M175.0 385.0h1.0M25.6 386.3h1.0M32.9 386.3h0.5M40.6 386.3h0.5M55.7 386.3h1.4M105.7 386.3h0.8M109.1 386.3h1.0M115.8 386.3h1.0M125.4 386.3h0.5M126.8 386.3h0.5M149.4 386.3h1.0M18.8 387.6h1.0M22.7 387.6h0.5M37.3 387.6h1.4M45.4 387.6h1.4M48.1 387.6h1.0M49.8 387.6h0.8M52.2 387.6h1.0M60.5 387.6h1.4M84.1 387.6h0.8M85.4 387.6h0.8M91.3 387.6h0.5M92.8 387.6h1.4M107.3 387.6h0.5M117.3 387.6h0.5M125.0 387.6h1.4M130.8 387.6h0.5M132.8 387.6h0.8M16.4 389.0h0.8M35.2 389.0h0.5M42.8 389.0h0.5M68.0 389.0h1.4M80.3 389.0h0.8M83.9 389.0h1.4M97.3 389.0h1.0M103.0 389.0h1.4M145.0 389.0h0.5M148.3 389.0h1.0M153.0 389.0h1.0M157.0 389.0h0.8M161.3 389.0h1.4M171.7 389.0h0.8M174.2 389.0h0.8M17.4 390.3h0.8M18.7 390.3h0.8M69.8 390.3h0.8M80.8 390.3h1.0M97.9 390.3h1.4M104.5 390.3h1.0M109.5 390.3h1.0M120.1 390.3h1.4M133.9 390.3h0.5M27.8 391.6h1.4M32.2 391.6h1.4M35.7 391.6h0.5M40.1 391.6h0.5M99.5 391.6h1.0M113.1 391.6h0.5M125.8 391.6h0.8M155.7 391.6h0.8M166.7 391.6h1.0M170.7 391.6h0.5M17.5 392.9h1.4M23.0 392.9h0.8M28.0 392.9h1.0M50.5 392.9h1.0M57.5 392.9h0.8M72.2 392.9h1.4M77.1 392.9h1.0M81.2 392.9h1.4M87.3 392.9h0.8M107.8 392.9h0.5M148.6 392.9h0.5M158.7 392.9h0.8M160.5 392.9h0.8M169.0 392.9h1.0M20.0 394.2h0.8M66.9 394.2h0.5M75.9 394.2h1.4M80.7 394.2h0.5M109.4 394.2h0.8M111.3 394.2h0.5M155.9 394.2h1.4M31.2 395.5h1.4M35.4 395.5h0.5M45.9 395.5h1.4M49.9 395.5h1.0M84.9 395.5h1.0M86.6 395.5h1.4M90.5 395.5h1.0M105.0 395.5h0.5M107.7 395.5h1.4M114.5 395.5h1.0M123.6 395.5h1.0M139.2 395.5h1.0M150.5 395.5h1.4M154.0 395.5h0.5M156.9 395.5h1.4M167.1 395.5h1.0M172.0 395.5h0.5M18.6 396.9h1.4M33.1 396.9h0.5M57.0 396.9h0.5M66.2 396.9h1.0M76.9 396.9h0.5M81.5 396.9h0.8M83.6 396.9h0.8M86.2 396.9h1.4M92.0 396.9h1.0M105.8 396.9h1.0M108.1 396.9h1.0M112.1 396.9h0.5M113.2 396.9h1.4M144.9 396.9h1.4M150.8 396.9h0.8M40.3 398.2h0.8M44.1 398.2h0.8M52.6 398.2h0.8M54.6 398.2h0.8M66.7 398.2h1.4M74.5 398.2h1.4M102.7 398.2h0.5M105.2 398.2h0.8M151.1 398.2h1.0M152.5 398.2h0.8M170.2 398.2h1.4M174.7 398.2h0.8M19.4 399.5h0.5M78.9 399.5h0.5M80.9 399.5h1.4M82.7 399.5h0.5M84.7 399.5h1.4M90.3 399.5h0.8M104.4 399.5h1.0M131.7 399.5h0.8M133.5 399.5h1.4M148.4 399.5h1.4M51.4 400.8h1.4M53.7 400.8h0.8M64.7 400.8h0.8M69.4 400.8h0.8M70.7 400.8h1.0M88.8 400.8h1.0M118.4 400.8h1.4M126.0 400.8h0.5M133.1 400.8h1.0M134.9 400.8h1.4M175.3 400.8h0.5M17.5 402.1h1.4M40.0 402.1h0.5M51.0 402.1h0.8M60.4 402.1h0.8M68.6 402.1h1.4M79.5 402.1h1.4M84.0 402.1h1.0M88.2 402.1h0.5M90.7 402.1h0.8M92.2 402.1h0.5M118.8 402.1h1.4M123.2 402.1h1.4M155.6 402.1h1.4M16.2 403.5h0.5M41.3 403.5h1.4M51.2 403.5h1.4M56.9 403.5h1.0M72.8 403.5h1.0M79.9 403.5h0.8M100.5 403.5h1.4M111.9 403.5h0.5M129.3 403.5h1.4M133.6 403.5h1.0M152.7 403.5h1.0M156.6 403.5h0.8M158.8 403.5h1.0M165.5 403.5h1.4M27.6 404.8h0.8M47.5 404.8h1.4M51.6 404.8h1.0M59.9 404.8h0.8M78.4 404.8h1.0M95.1 404.8h1.4M105.6 404.8h1.4M113.8 404.8h1.4M137.6 404.8h1.0M140.0 404.8h0.8M143.8 404.8h1.4M152.3 404.8h1.4M19.6 406.1h0.5M24.8 406.1h1.0M30.4 406.1h1.0M37.6 406.1h1.4M42.5 406.1h0.5M50.8 406.1h0.8M52.9 406.1h1.4M58.6 406.1h0.5M61.6 406.1h0.8M66.5 406.1h1.0M108.0 406.1h1.0M121.9 406.1h0.8M123.2 406.1h0.5M126.1 406.1h0.5M128.1 406.1h0.5M139.1 406.1h1.4M169.9 406.1h1.0M17.0 407.4h0.8M27.4 407.4h1.4M42.3 407.4h1.0M61.6 407.4h0.8M63.3 407.4h0.5M73.9 407.4h1.0M77.4 407.4h0.5M108.0 407.4h1.0M112.2 407.4h1.0M136.9 407.4h1.0M138.8 407.4h0.5M145.7 407.4h1.0M147.9 407.4h0.5M25.7 408.7h0.8M36.4 408.7h1.0M48.1 408.7h1.0M56.6 408.7h0.8M59.2 408.7h1.0M67.6 408.7h0.8M68.9 408.7h1.0M75.3 408.7h0.5M77.3 408.7h0.8M79.1 408.7h1.4M89.4 408.7h1.4M129.2 408.7h0.8M130.5 408.7h1.0M138.2 408.7h0.8M151.3 408.7h1.0M154.3 408.7h0.5M157.1 408.7h0.8M160.2 408.7h0.8M171.4 408.7h0.8M16.5 410.0h1.4M62.7 410.0h1.0M64.8 410.0h1.0M84.3 410.0h1.0M97.4 410.0h1.4M100.7 410.0h1.4M120.3 410.0h0.5M122.7 410.0h1.0M127.5 410.0h1.0M130.4 410.0h0.8M132.2 410.0h0.8M147.7 410.0h1.0M18.2 411.4h1.4M41.3 411.4h0.8M55.8 411.4h1.0M64.0 411.4h0.5M80.1 411.4h0.8M95.5 411.4h0.8M108.8 411.4h1.0M111.6 411.4h0.5M125.4 411.4h0.8M135.2 411.4h1.0M145.8 411.4h1.0M153.4 411.4h0.8M161.1 411.4h0.5M19.6 412.7h0.5M40.1 412.7h1.0M47.2 412.7h0.8M49.0 412.7h1.0M51.0 412.7h1.4M66.4 412.7h1.0M71.0 412.7h0.8M84.8 412.7h1.4M120.7 412.7h0.5M126.4 412.7h0.8M132.4 412.7h1.0M136.9 412.7h0.8M141.9 412.7h0.5M19.2 414.0h0.8M24.7 414.0h1.4M31.8 414.0h0.8M56.3 414.0h1.0M58.5 414.0h1.0M74.6 414.0h1.4M78.0 414.0h1.0M80.6 414.0h0.8M84.0 414.0h1.4M90.0 414.0h1.0M112.8 414.0h0.5M118.8 414.0h1.4M121.9 414.0h0.8M132.1 414.0h1.4M146.8 414.0h0.5M148.5 414.0h0.8M164.5 414.0h0.5M166.7 414.0h1.0M173.5 414.0h0.5M20.4 415.3h0.8M26.5 415.3h0.5M38.0 415.3h1.0M53.0 415.3h1.0M70.5 415.3h1.4M83.6 415.3h1.0M94.8 415.3h1.4M98.2 415.3h0.5M110.6 415.3h0.5M127.1 415.3h0.8M131.4 415.3h0.8M160.8 415.3h1.0M16.5 416.6h0.8M19.6 416.6h0.8M33.5 416.6h1.4M47.3 416.6h1.4M59.9 416.6h1.4M94.8 416.6h0.8M99.8 416.6h0.8M117.2 416.6h0.8M119.8 416.6h0.8M135.6 416.6h1.4M143.2 416.6h1.0M147.0 416.6h1.0M152.3 416.6h1.0M163.7 416.6h1.4M166.8 416.6h0.8M27.0 417.9h0.5M36.4 417.9h0.5M41.6 417.9h1.0M45.7 417.9h0.8M73.0 417.9h1.4M84.0 417.9h1.0M98.3 417.9h1.4M104.2 417.9h1.0M105.6 417.9h1.4M114.1 417.9h0.5M127.0 417.9h1.0M137.9 417.9h0.8M147.1 417.9h1.0M164.7 417.9h1.0M28.9 419.3h0.8M30.8 419.3h0.5M39.0 419.3h0.8M41.2 419.3h0.8M47.7 419.3h0.5M59.7 419.3h0.8M67.8 419.3h1.4M72.4 419.3h0.8M92.5 419.3h0.8M109.6 419.3h1.0M121.5 419.3h0.8M125.2 419.3h1.4M148.2 419.3h1.0M153.0 419.3h1.0M166.3 419.3h1.0M171.7 419.3h0.5M172.7 419.3h1.0M21.0 420.6h0.8M38.8 420.6h0.8M59.1 420.6h0.5M64.2 420.6h0.5M74.6 420.6h0.8M83.0 420.6h0.5M90.2 420.6h1.4M167.2 420.6h1.4M18.0 421.9h1.0M23.2 421.9h1.0M31.1 421.9h0.5M44.1 421.9h1.4M59.6 421.9h0.8M96.8 421.9h1.0M126.0 421.9h1.0M132.0 421.9h0.5M138.0 421.9h0.8M146.9 421.9h0.5M157.5 421.9h1.0M38.7 423.2h0.8M41.0 423.2h0.5M73.9 423.2h0.5M77.5 423.2h0.5M96.8 423.2h1.0M99.5 423.2h0.8M110.5 423.2h1.0M117.4 423.2h0.8M129.5 423.2h0.5M133.8 423.2h1.0M152.6 423.2h1.0M159.2 423.2h0.5M169.6 423.2h0.5M34.0 424.5h0.8M37.3 424.5h1.4M40.2 424.5h1.4M48.5 424.5h1.0M77.0 424.5h1.0M81.4 424.5h0.8M83.8 424.5h0.8M93.0 424.5h0.5M95.3 424.5h1.4M112.7 424.5h0.8M117.1 424.5h1.4M133.3 424.5h0.8M135.5 424.5h0.8M22.9 425.8h0.5M25.2 425.8h0.8M40.7 425.8h0.5M43.4 425.8h1.0M62.2 425.8h1.0M64.2 425.8h0.5M87.9 425.8h0.8M103.3 425.8h1.4M112.0 425.8h0.5M122.6 425.8h0.5M127.5 425.8h0.8M137.4 425.8h0.8M139.1 425.8h1.4M160.7 425.8h1.4M167.1 425.8h1.0M30.4 427.2h0.8M36.7 427.2h0.5M40.2 427.2h1.0M45.4 427.2h1.0M60.8 427.2h1.0M87.7 427.2h1.4M92.9 427.2h0.5M125.8 427.2h0.8M148.3 427.2h1.4M152.0 427.2h0.8M168.1 427.2h1.4M170.8 427.2h1.0M43.5 428.5h0.5M45.0 428.5h0.8M47.4 428.5h1.0M63.4 428.5h1.0M64.8 428.5h0.8M92.8 428.5h0.8M96.3 428.5h1.4M105.6 428.5h0.8M117.7 428.5h1.4M125.7 428.5h0.5M134.4 428.5h0.8M154.4 428.5h1.0M165.9 428.5h1.0M170.7 428.5h0.5M42.1 429.8h0.8M50.6 429.8h0.8M75.0 429.8h1.0M91.6 429.8h1.4M95.7 429.8h1.0M118.9 429.8h0.8M122.1 429.8h0.5M145.4 429.8h0.5M153.5 429.8h0.5M165.6 429.8h0.5M174.6 429.8h0.8M21.4 431.1h1.4M27.9 431.1h1.0M30.1 431.1h1.0M39.0 431.1h0.8M44.4 431.1h1.4M55.3 431.1h1.0M88.9 431.1h0.5M95.4 431.1h0.8M113.0 431.1h1.4M168.8 431.1h0.5M36.7 432.4h1.0M71.3 432.4h0.8M80.5 432.4h1.0M85.6 432.4h0.5M93.5 432.4h1.0M100.7 432.4h0.5M123.3 432.4h1.4M134.9 432.4h0.8M146.0 432.4h0.5M163.6 432.4h0.8M167.5 432.4h1.0M36.4 433.8h1.0M76.6 433.8h0.8M85.9 433.8h1.0M92.7 433.8h1.0M99.3 433.8h1.4M107.3 433.8h1.4M124.7 433.8h1.4M133.0 433.8h0.5M134.8 433.8h1.4M147.8 433.8h0.8M163.7 433.8h0.5M18.7 435.1h1.0M25.7 435.1h1.0M47.4 435.1h0.5M62.9 435.1h0.8M92.1 435.1h1.0M97.7 435.1h1.0M130.8 435.1h0.5M161.7 435.1h0.8M163.9 435.1h0.8M168.6 435.1h0.5M170.6 435.1h1.4M24.7 436.4h1.4M31.0 436.4h0.8M41.6 436.4h0.5M49.9 436.4h1.0M59.1 436.4h0.8M77.8 436.4h0.8M103.0 436.4h1.4M114.3 436.4h0.8M132.2 436.4h1.0M133.6 436.4h1.4M159.7 436.4h0.5M160.7 436.4h1.0M166.5 436.4h0.8M170.0 436.4h0.5M172.5 436.4h0.5M16.9 437.7h0.5M21.2 437.7h0.5M35.8 437.7h1.4M46.8 437.7h1.4M61.9 437.7h1.0M98.9 437.7h0.5M141.0 437.7h1.0M162.3 437.7h0.5M31.1 439.0h1.4M44.9 439.0h1.4M47.7 439.0h0.5M51.6 439.0h1.0M53.2 439.0h0.5M59.1 439.0h1.0M74.2 439.0h0.8M90.2 439.0h0.5M93.8 439.0h1.0M105.3 439.0h0.8M127.2 439.0h0.8M136.0 439.0h1.4M140.3 439.0h1.4M157.2 439.0h0.8M162.8 439.0h1.4M18.4 440.3h1.4M37.2 440.3h0.8M52.0 440.3h1.4M57.5 440.3h1.0M62.0 440.3h0.5M66.5 440.3h1.0M75.7 440.3h1.4M89.9 440.3h0.5M111.7 440.3h1.0M114.3 440.3h1.4M116.1 440.3h0.5M132.9 440.3h0.8M141.8 440.3h0.5M144.9 440.3h1.0M171.3 440.3h1.4M174.7 440.3h0.8M18.6 441.7h0.8M34.1 441.7h1.4M40.8 441.7h1.0M42.6 441.7h0.5M76.3 441.7h0.5M81.4 441.7h0.5M139.8 441.7h1.4M142.2 441.7h0.8M150.7 441.7h0.5M154.3 441.7h0.5M155.9 441.7h0.8M159.7 441.7h0.5M175.2 441.7h1.4M21.4 443.0h1.0M26.6 443.0h1.4M38.6 443.0h0.5M55.5 443.0h1.0M57.5 443.0h0.8M80.2 443.0h1.0M82.1 443.0h0.5M83.1 443.0h1.0M101.0 443.0h1.4M104.0 443.0h1.0M125.1 443.0h1.4M132.6 443.0h0.5M134.8 443.0h1.0M143.0 443.0h0.8M159.7 443.0h0.8M171.4 443.0h1.4M27.1 444.3h0.8M52.0 444.3h1.0M60.6 444.3h1.0M62.3 444.3h0.8M66.8 444.3h1.0M72.1 444.3h0.8M79.0 444.3h1.0M86.4 444.3h0.5M88.4 444.3h0.8M93.4 444.3h0.8M98.2 444.3h0.8M100.5 444.3h1.4M106.3 444.3h0.8M139.5 444.3h1.4M145.1 444.3h1.4M156.6 444.3h0.5M157.8 444.3h0.8M159.9 444.3h0.5M16.7 445.6h1.0M30.0 445.6h0.5M31.7 445.6h1.4M36.2 445.6h0.5M61.8 445.6h1.4M71.4 445.6h1.4M76.3 445.6h1.0M92.6 445.6h1.0M101.7 445.6h1.0M116.7 445.6h1.0M118.7 445.6h1.4M134.1 445.6h0.5M135.9 445.6h0.8M145.8 445.6h0.8M150.6 445.6h0.5M155.4 445.6h0.8M166.0 445.6h0.8M169.4 445.6h0.5M171.0 445.6h0.8M23.9 446.9h1.0M33.6 446.9h1.4M40.2 446.9h1.0M70.9 446.9h0.5M83.3 446.9h1.0M88.8 446.9h1.0M121.7 446.9h1.0M131.9 446.9h1.0M142.2 446.9h0.8M146.3 446.9h0.8M148.6 446.9h0.8M152.4 446.9h0.5M164.8 446.9h1.4M172.4 446.9h0.5M32.2 448.2h1.4M54.6 448.2h1.0M79.9 448.2h0.8M117.2 448.2h1.4M123.9 448.2h0.5M130.8 448.2h0.5M138.8 448.2h1.0M163.1 448.2h1.4M27.8 449.6h1.0M29.5 449.6h1.4M41.3 449.6h1.4M44.0 449.6h0.8M51.3 449.6h0.5M63.3 449.6h1.0M66.6 449.6h1.4M73.4 449.6h0.5M81.4 449.6h0.8M97.2 449.6h0.8M111.6 449.6h0.5M116.8 449.6h1.4M128.8 449.6h0.8M143.2 449.6h1.0M169.1 449.6h0.5M37.8 450.9h1.0M62.3 450.9h0.8M72.1 450.9h0.8M78.9 450.9h0.8M101.2 450.9h1.4M109.9 450.9h1.4M126.8 450.9h0.8M137.7 450.9h1.0M145.4 450.9h1.4M150.2 450.9h1.0M175.3 450.9h0.8M27.8 452.2h1.0M37.5 452.2h1.0M56.3 452.2h0.8M60.9 452.2h0.8M71.4 452.2h1.0M117.0 452.2h1.4M122.6 452.2h1.4M145.0 452.2h0.8M148.2 452.2h0.8M151.9 452.2h0.5M165.1 452.2h0.8M19.5 453.5h0.5M40.0 453.5h1.4M50.6 453.5h0.8M77.4 453.5h1.4M81.6 453.5h0.8M83.6 453.5h0.8M86.8 453.5h0.5M90.5 453.5h0.8M94.5 453.5h0.5M95.7 453.5h1.4M121.7 453.5h1.4M129.1 453.5h1.0M138.1 453.5h0.8M145.3 453.5h0.8M150.0 453.5h1.0M152.7 453.5h1.4M157.4 453.5h0.5M163.0 453.5h1.4M167.4 453.5h0.5M36.4 454.8h1.4M45.7 454.8h1.0M52.9 454.8h1.4M67.9 454.8h0.8M70.3 454.8h0.5M73.7 454.8h1.0M107.3 454.8h0.5M128.9 454.8h1.0M136.7 454.8h0.8M155.0 454.8h0.5M167.4 454.8h0.8M35.9 456.1h0.5M74.4 456.1h0.8M82.8 456.1h1.0M91.4 456.1h1.0M116.2 456.1h0.8M120.7 456.1h0.8M122.6 456.1h1.4M136.3 456.1h0.5M140.2 456.1h1.0M147.5 456.1h1.0M155.5 456.1h1.4M165.9 456.1h1.0M24.2 457.5h0.5M32.1 457.5h1.4M42.0 457.5h1.4M47.5 457.5h1.4M56.1 457.5h1.4M63.3 457.5h1.4M74.4 457.5h0.5M89.2 457.5h1.4M105.9 457.5h0.8M116.7 457.5h0.8M119.5 457.5h1.4M135.1 457.5h0.8M156.7 457.5h1.4M163.0 457.5h0.8M172.1 457.5h1.0M174.2 457.5h1.4M25.3 458.8h1.4M27.6 458.8h1.0M39.9 458.8h1.4M42.4 458.8h1.0M50.2 458.8h1.0M68.6 458.8h1.0M109.5 458.8h1.0M126.4 458.8h1.4M129.1 458.8h1.0M146.5 458.8h1.4M157.0 458.8h0.5M158.3 458.8h1.4M16.1 460.1h1.0M20.8 460.1h0.5M45.4 460.1h1.4M47.7 460.1h0.5M55.5 460.1h1.4M67.2 460.1h1.0M84.3 460.1h0.5M87.9 460.1h1.0M96.8 460.1h1.4M132.7 460.1h1.4M139.5 460.1h0.5M141.1 460.1h0.5M144.7 460.1h0.8M146.3 460.1h1.4M152.6 460.1h0.8M154.7 460.1h1.4M158.8 460.1h0.8M172.9 460.1h0.8M21.0 461.4h0.5M22.9 461.4h1.4M68.7 461.4h0.8M76.1 461.4h0.5M104.3 461.4h1.0M128.9 461.4h1.0M135.6 461.4h1.4M148.2 461.4h0.8M20.3 462.7h0.5M23.9 462.7h0.5M27.6 462.7h0.5M42.0 462.7h1.0M54.9 462.7h0.5M58.8 462.7h1.4M76.7 462.7h0.5M103.0 462.7h1.0M113.8 462.7h0.8M126.2 462.7h0.8M163.9 462.7h0.5M172.6 462.7h0.8M39.1 464.1h0.5M52.5 464.1h1.4M56.8 464.1h1.4M60.3 464.1h1.0M78.1 464.1h1.0M81.1 464.1h0.8M99.5 464.1h0.8M112.5 464.1h1.0M122.1 464.1h0.5M123.3 464.1h1.0M145.2 464.1h1.0M147.5 464.1h0.8M167.2 464.1h1.0M168.7 464.1h0.8M20.7 465.4h0.8M33.1 465.4h0.8M60.5 465.4h1.4M64.2 465.4h1.4M79.3 465.4h1.0M120.7 465.4h0.5M129.5 465.4h1.0M139.0 465.4h1.0M156.5 465.4h0.8M158.7 465.4h0.8M166.1 465.4h0.8M174.2 465.4h0.5M26.5 466.7h1.4M32.9 466.7h1.0M36.5 466.7h0.8M41.5 466.7h0.5M47.1 466.7h1.4M49.7 466.7h1.0M64.1 466.7h0.8M71.0 466.7h1.0M76.7 466.7h0.8M80.9 466.7h1.4M84.5 466.7h1.0M86.1 466.7h0.5M99.8 466.7h1.4M136.1 466.7h1.4M141.5 466.7h1.4M161.2 466.7h1.0M170.3 466.7h0.5M20.5 468.0h1.4M26.9 468.0h1.0M34.9 468.0h1.4M52.7 468.0h0.5M75.8 468.0h0.5M77.2 468.0h1.4M102.5 468.0h1.0M104.7 468.0h0.8M113.5 468.0h1.4M127.3 468.0h0.5M130.9 468.0h1.0M159.6 468.0h1.0M163.2 468.0h0.8M20.3 469.3h0.8M22.5 469.3h0.8M33.3 469.3h1.4M74.3 469.3h0.5M75.9 469.3h0.8M79.3 469.3h0.5M80.8 469.3h1.4M98.2 469.3h0.8M101.4 469.3h0.5M104.2 469.3h0.8M109.8 469.3h0.8M113.2 469.3h0.8M116.1 469.3h0.5M117.9 469.3h0.8M124.1 469.3h1.0M137.3 469.3h0.8M145.8 469.3h0.5M170.3 469.3h0.5M17.6 470.6h1.4M24.1 470.6h0.5M26.6 470.6h1.0M52.2 470.6h0.8M65.0 470.6h0.8M73.1 470.6h1.4M76.5 470.6h0.8M89.1 470.6h0.8M90.4 470.6h1.4M131.9 470.6h0.5M171.3 470.6h1.4M27.0 472.0h0.8M36.1 472.0h1.0M96.6 472.0h1.4M116.1 472.0h0.5M125.6 472.0h0.5M129.9 472.0h0.5M132.9 472.0h0.8M143.6 472.0h1.4M145.8 472.0h0.8M17.5 473.3h0.5M85.8 473.3h0.5M108.1 473.3h1.0M111.7 473.3h0.8M127.4 473.3h0.5M144.4 473.3h1.4M149.8 473.3h0.5M167.1 473.3h0.8M170.2 473.3h0.8M15.7 474.6h1.4M19.5 474.6h0.8M30.6 474.6h1.4M70.9 474.6h0.8M88.3 474.6h1.4M96.2 474.6h1.0M102.8 474.6h1.4M106.8 474.6h0.5M109.0 474.6h0.5M118.0 474.6h0.5M140.8 474.6h1.4M152.5 474.6h0.5M153.6 474.6h0.5M154.8 474.6h1.4M160.1 474.6h0.5M173.6 474.6h1.4M33.3 475.9h0.5M56.9 475.9h1.4M64.4 475.9h1.0M67.7 475.9h1.0M85.1 475.9h0.8M90.7 475.9h0.5M115.6 475.9h0.8M122.7 475.9h0.8M137.5 475.9h1.0M147.1 475.9h1.4M160.8 475.9h0.5M173.0 475.9h0.8M28.3 477.2h1.0M55.2 477.2h1.0M59.6 477.2h0.5M88.8 477.2h1.4M94.1 477.2h1.0M101.8 477.2h1.0M116.0 477.2h0.8M118.2 477.2h1.4M145.7 477.2h0.8M160.9 477.2h0.8M166.5 477.2h1.0M172.0 477.2h1.0M174.8 477.2h1.0M17.2 478.5h0.5M48.2 478.5h1.0M52.0 478.5h1.0M54.0 478.5h0.5M65.0 478.5h0.5M67.7 478.5h1.4M77.3 478.5h0.5M96.2 478.5h0.5M97.9 478.5h1.4M123.5 478.5h1.4M148.2 478.5h1.0M150.2 478.5h0.5M166.0 478.5h0.5M32.7 479.9h1.0M56.1 479.9h0.5M59.2 479.9h0.8M63.9 479.9h1.4M71.4 479.9h1.4M78.5 479.9h1.0M89.4 479.9h0.5M94.6 479.9h1.0M101.8 479.9h1.0M113.0 479.9h1.0M118.1 479.9h1.4M120.7 479.9h0.8M122.4 479.9h1.0M134.4 479.9h0.5M139.2 479.9h1.0M147.4 479.9h0.8M166.6 479.9h0.8M174.9 479.9h1.0M25.7 481.2h0.8M32.8 481.2h1.0M53.0 481.2h0.8M54.9 481.2h1.4M63.0 481.2h0.8M69.0 481.2h1.0M72.3 481.2h0.8M85.5 481.2h0.5M88.3 481.2h0.8M100.9 481.2h0.5M108.9 481.2h0.5M126.5 481.2h0.8M129.0 481.2h0.5M145.1 481.2h1.0M30.7 482.5h1.0M40.5 482.5h0.8M42.8 482.5h0.5M48.2 482.5h0.5M64.4 482.5h0.8M71.0 482.5h1.0M90.9 482.5h1.4M102.6 482.5h0.8M107.4 482.5h1.4M125.1 482.5h0.8M126.6 482.5h1.0M138.5 482.5h0.8M145.5 482.5h1.4M148.8 482.5h0.8M22.7 483.8h1.0M25.3 483.8h1.4M64.3 483.8h0.8M66.1 483.8h1.0M81.5 483.8h0.5M84.6 483.8h1.0M94.1 483.8h0.5M103.9 483.8h1.4M115.0 483.8h1.0M133.1 483.8h1.0M136.4 483.8h1.4M144.9 483.8h0.5M149.9 483.8h1.0M153.0 483.8h1.4M156.5 483.8h1.4M31.2 485.1h1.4M52.5 485.1h1.4M66.1 485.1h1.0M74.1 485.1h1.0M77.8 485.1h1.0M85.9 485.1h1.4M88.7 485.1h1.4M101.0 485.1h0.5M107.9 485.1h1.4M111.7 485.1h1.0M125.0 485.1h0.5M131.9 485.1h0.8M146.2 485.1h1.4M160.0 485.1h0.5M164.4 485.1h0.5M167.6 485.1h1.0M173.6 485.1h0.5M175.1 485.1h1.4M26.0 486.4h1.0M75.4 486.4h1.4M77.6 486.4h1.4M110.2 486.4h0.8M114.5 486.4h1.0M120.0 486.4h1.4M131.4 486.4h0.8M134.2 486.4h0.8M145.7 486.4h0.5M154.8 486.4h1.4M157.0 486.4h0.8M19.7 487.8h1.0M23.9 487.8h1.0M35.9 487.8h1.4M38.8 487.8h0.5M48.8 487.8h0.8M55.6 487.8h0.8M67.2 487.8h1.4M72.7 487.8h1.4M87.0 487.8h1.0M93.9 487.8h0.8M97.8 487.8h1.4M119.5 487.8h1.0M125.9 487.8h0.8M133.2 487.8h1.0M140.1 487.8h1.4M172.2 487.8h1.4M60.0 489.1h1.0M67.8 489.1h0.5M76.9 489.1h1.4M94.5 489.1h1.0M103.8 489.1h1.4M110.7 489.1h0.8M114.6 489.1h1.4M123.6 489.1h1.0M172.3 489.1h1.4M36.9 490.4h1.0M48.0 490.4h0.8M50.3 490.4h1.4M54.1 490.4h0.8M65.7 490.4h0.8M91.2 490.4h0.5M95.3 490.4h1.4M108.9 490.4h0.8M114.7 490.4h1.4M132.1 490.4h1.4M137.1 490.4h0.8M163.1 490.4h1.4M29.2 491.7h0.5M30.3 491.7h0.8M38.5 491.7h1.4M51.1 491.7h0.8M96.6 491.7h1.0M103.2 491.7h1.4M113.3 491.7h0.8M133.9 491.7h0.8M140.3 491.7h1.0M149.0 491.7h1.0M152.0 491.7h0.5M153.7 491.7h1.4M19.0 493.0h0.8M22.0 493.0h0.5M23.6 493.0h0.8M33.7 493.0h0.8M49.2 493.0h0.8M59.0 493.0h1.4M65.2 493.0h1.4M71.3 493.0h0.8M91.5 493.0h0.5M99.8 493.0h0.8M102.6 493.0h1.4M156.7 493.0h0.5M175.1 493.0h0.5M32.3 494.3h1.0M44.3 494.3h1.0M48.4 494.3h1.4M80.7 494.3h1.0M84.8 494.3h0.5M86.9 494.3h0.8M89.8 494.3h0.5M92.6 494.3h0.5M116.5 494.3h0.5M118.5 494.3h1.0M120.9 494.3h1.0M132.7 494.3h1.4M139.0 494.3h1.0M147.4 494.3h0.5M17.2 495.7h0.5M24.7 495.7h0.5M30.4 495.7h1.4M41.4 495.7h0.5M58.6 495.7h0.5M69.2 495.7h1.0M78.2 495.7h1.0M79.8 495.7h0.8M91.9 495.7h1.4M94.2 495.7h0.8M125.2 495.7h0.8M157.1 495.7h1.4M159.9 495.7h1.4M163.2 495.7h1.0M24.5 497.0h0.5M42.9 497.0h0.5M54.4 497.0h1.4M61.3 497.0h0.5M62.4 497.0h0.8M64.4 497.0h1.4M71.3 497.0h1.0M94.4 497.0h0.8M96.5 497.0h1.4M103.5 497.0h0.8M104.8 497.0h1.4M107.3 497.0h0.8M119.7 497.0h1.4M123.9 497.0h1.0M138.6 497.0h0.5M161.9 497.0h0.5M25.0 498.3h1.0M30.9 498.3h1.0M33.7 498.3h1.0M51.9 498.3h1.4M54.3 498.3h0.5M59.3 498.3h0.5M62.5 498.3h0.5M67.3 498.3h1.4M109.4 498.3h1.4M120.8 498.3h0.8M122.3 498.3h1.0M66.6 499.6h0.5M74.2 499.6h1.4M80.0 499.6h1.4M95.1 499.6h0.5M102.3 499.6h1.0M114.2 499.6h1.0M120.8 499.6h1.4M125.0 499.6h0.5M156.8 499.6h1.0M161.3 499.6h1.4M19.9 500.9h0.8M22.6 500.9h0.5M47.9 500.9h0.8M54.1 500.9h1.4M67.4 500.9h0.5M93.9 500.9h1.0M99.5 500.9h1.4M102.3 500.9h0.5M109.8 500.9h0.8M120.5 500.9h0.5M121.7 500.9h1.0M135.2 500.9h1.0M138.0 500.9h0.8M165.4 500.9h0.5M169.3 500.9h0.8M17.2 502.3h1.0M20.4 502.3h1.4M29.4 502.3h1.4M35.9 502.3h0.5M40.4 502.3h1.0M44.9 502.3h1.0M49.3 502.3h0.5M65.2 502.3h1.0M69.9 502.3h1.0M72.5 502.3h1.4M81.4 502.3h0.8M86.7 502.3h0.5M101.0 502.3h0.8M115.7 502.3h1.0M125.6 502.3h1.4M142.3 502.3h0.5M145.6 502.3h1.0M149.9 502.3h0.5M154.9 502.3h1.4M157.5 502.3h1.0M159.6 502.3h1.0M170.8 502.3h1.4M175.0 502.3h0.8M32.8 503.6h0.8M43.8 503.6h1.0M83.1 503.6h1.0M110.7 503.6h1.4M145.7 503.6h1.4M154.5 503.6h1.4M161.3 503.6h1.0M40.5 504.9h0.8M46.3 504.9h0.8M52.4 504.9h1.4M62.1 504.9h1.4M64.9 504.9h0.8M84.5 504.9h0.8M94.3 504.9h1.4M97.1 504.9h1.0M133.3 504.9h0.8M139.1 504.9h1.4M145.5 504.9h1.0M170.3 504.9h0.8M25.7 506.2h0.5M28.7 506.2h0.8M31.8 506.2h1.4M59.9 506.2h1.4M70.7 506.2h1.0M73.7 506.2h1.0M76.0 506.2h1.0M78.0 506.2h1.4M89.6 506.2h1.4M94.8 506.2h1.0M108.4 506.2h1.4M113.8 506.2h1.0M134.5 506.2h1.4M136.8 506.2h0.8M170.0 506.2h0.8M30.6 507.5h1.4M35.3 507.5h0.5M39.0 507.5h0.5M53.2 507.5h0.8M65.4 507.5h0.8M113.0 507.5h1.0M120.4 507.5h1.4M140.6 507.5h1.0M146.4 507.5h1.4M148.7 507.5h0.8M150.1 507.5h1.4M157.9 507.5h1.4M163.9 507.5h0.8M171.5 507.5h0.8M28.3 508.8h1.4M56.4 508.8h0.8M82.6 508.8h0.5M89.2 508.8h1.4M92.0 508.8h1.4M108.9 508.8h1.0M125.4 508.8h1.0M132.6 508.8h0.8M138.7 508.8h0.5M141.4 508.8h0.8M155.9 508.8h1.4M170.4 508.8h1.0M17.8 510.2h0.5M26.1 510.2h1.0M34.5 510.2h0.8M36.6 510.2h1.4M69.3 510.2h0.5M77.3 510.2h0.8M81.5 510.2h1.4M93.5 510.2h1.4M107.6 510.2h0.5M142.8 510.2h0.5M147.8 510.2h0.8M153.1 510.2h0.8M159.9 510.2h1.0M51.4 511.5h0.8M62.3 511.5h1.4M64.5 511.5h1.0M67.5 511.5h0.8M70.9 511.5h0.5M79.3 511.5h0.5M83.4 511.5h1.0M87.7 511.5h0.8M88.9 511.5h1.4M100.9 511.5h1.4M111.4 511.5h0.5M129.6 511.5h1.4M132.6 511.5h0.5M145.2 511.5h1.0M151.1 511.5h1.4M159.0 511.5h1.0M162.0 511.5h0.8M18.7 512.8h0.5M66.8 512.8h0.5M68.0 512.8h0.8M76.9 512.8h1.4M88.5 512.8h0.5M90.5 512.8h1.4M92.6 512.8h1.4M114.8 512.8h0.8M150.4 512.8h0.8M160.1 512.8h1.0M165.5 512.8h0.5M173.4 512.8h1.4M26.7 514.1h1.0M30.2 514.1h0.8M53.6 514.1h1.4M84.6 514.1h0.5M93.4 514.1h1.4M101.3 514.1h1.0M116.8 514.1h0.8M124.8 514.1h0.8M126.8 514.1h1.0M135.4 514.1h1.4M141.2 514.1h0.8M148.8 514.1h1.4M153.9 514.1h1.0M155.8 514.1h0.8M167.1 514.1h0.5M171.9 514.1h0.8M16.1 515.4h1.4M18.4 515.4h1.4M28.1 515.4h1.4M34.9 515.4h1.0M49.2 515.4h1.4M54.8 515.4h1.4M59.0 515.4h1.4M78.9 515.4h1.0M81.9 515.4h0.8M87.5 515.4h0.5M100.7 515.4h0.5M109.2 515.4h1.0M114.2 515.4h1.4M127.0 515.4h0.5M128.9 515.4h1.0M138.2 515.4h1.4M162.3 515.4h0.8M175.5 515.4h0.8M20.9 516.7h1.0M23.3 516.7h1.0M41.9 516.7h1.4M49.7 516.7h0.5M68.3 516.7h0.5M80.1 516.7h0.5M82.8 516.7h1.0M100.7 516.7h0.8M106.0 516.7h1.4M109.0 516.7h0.8M128.2 516.7h1.4M135.3 516.7h0.8M147.4 516.7h1.0M159.5 516.7h0.8M170.6 516.7h1.0M172.5 516.7h0.8M35.6 518.1h1.4M58.9 518.1h1.0M66.4 518.1h0.8M93.7 518.1h1.4M98.0 518.1h0.5M99.8 518.1h1.4M104.1 518.1h0.8M109.0 518.1h0.5M114.8 518.1h0.8M117.8 518.1h1.0M146.3 518.1h1.4M161.2 518.1h1.0M163.2 518.1h0.5M165.8 518.1h0.5M167.7 518.1h1.0M172.0 518.1h1.4M19.1 519.4h1.0M20.7 519.4h0.5M21.6 519.4h1.4M35.9 519.4h0.5M39.0 519.4h0.5M41.0 519.4h0.8M51.2 519.4h0.8M55.3 519.4h1.4M63.1 519.4h1.4M72.7 519.4h1.4M85.6 519.4h0.5M89.0 519.4h0.5M105.3 519.4h0.5M121.2 519.4h1.4M123.2 519.4h0.8M131.8 519.4h1.4M144.4 519.4h1.4M155.2 519.4h1.0M40.7 520.7h0.8M57.3 520.7h0.8M60.9 520.7h0.8M73.0 520.7h0.8M80.3 520.7h0.5M90.1 520.7h1.4M104.6 520.7h0.8M115.3 520.7h1.4M135.4 520.7h0.8M149.5 520.7h0.8M153.4 520.7h0.8M159.9 520.7h0.5M162.0 520.7h1.0M165.8 520.7h0.8M20.0 522.0h0.8M26.6 522.0h0.5M48.5 522.0h1.0M50.3 522.0h1.0M60.9 522.0h0.8M82.2 522.0h1.4M87.0 522.0h0.8M92.3 522.0h1.0M116.4 522.0h0.8M129.1 522.0h0.5M138.4 522.0h1.0M147.3 522.0h1.4M16.0 523.3h1.0M23.7 523.3h1.0M35.7 523.3h0.5M44.4 523.3h1.0M52.1 523.3h1.0M59.9 523.3h1.0M82.1 523.3h0.8M98.6 523.3h0.8M117.0 523.3h1.0M129.2 523.3h0.5M155.4 523.3h0.8M159.0 523.3h0.5M164.8 523.3h0.5M171.3 523.3h1.4M174.0 523.3h1.0M35.0 524.6h0.8M47.6 524.6h1.0M55.1 524.6h1.4M83.9 524.6h0.8M123.7 524.6h1.0M152.9 524.6h0.5M159.2 524.6h0.8M172.5 524.6h0.8M32.9 526.0h1.4M46.4 526.0h0.8M71.2 526.0h1.4M75.3 526.0h1.0M83.3 526.0h1.4M106.4 526.0h1.0M124.0 526.0h0.5M138.3 526.0h1.4M141.5 526.0h1.0M149.5 526.0h0.8M17.8 527.3h0.8M22.6 527.3h1.0M28.4 527.3h0.8M44.8 527.3h0.5M54.2 527.3h0.8M72.3 527.3h1.4M79.1 527.3h1.0M115.2 527.3h1.0M125.8 527.3h0.5M153.4 527.3h1.4M159.5 527.3h1.4M23.7 528.6h1.4M52.0 528.6h0.8M57.6 528.6h0.5M67.5 528.6h0.8M74.8 528.6h0.5M80.6 528.6h0.8M83.7 528.6h0.8M102.7 528.6h1.4M117.0 528.6h0.8M119.0 528.6h1.4M128.0 528.6h0.5M129.2 528.6h1.0M134.7 528.6h0.5M144.1 528.6h0.5M21.2 529.9h1.4M36.0 529.9h1.4M52.6 529.9h1.4M59.3 529.9h1.0M82.9 529.9h0.8M97.4 529.9h0.5M125.9 529.9h0.8M136.4 529.9h0.8M144.6 529.9h1.4M147.3 529.9h0.8M153.3 529.9h1.0M164.1 529.9h0.5M165.8 529.9h0.8M167.5 529.9h1.0M54.1 531.2h0.8M77.8 531.2h1.0M90.7 531.2h0.8M114.7 531.2h1.4M125.5 531.2h0.5M165.5 531.2h1.0M167.3 531.2h0.8M169.6 531.2h0.8M174.2 531.2h0.8M17.1 532.6h1.0M38.0 532.6h0.5M43.4 532.6h1.0M56.8 532.6h1.4M86.3 532.6h0.8M101.7 532.6h0.8M107.0 532.6h1.4M116.2 532.6h0.8M132.1 532.6h1.0M137.5 532.6h0.5M57.9 533.9h0.5M71.6 533.9h1.0M81.0 533.9h0.8M82.3 533.9h1.0M97.9 533.9h0.8M114.7 533.9h1.0M139.8 533.9h0.5M170.1 533.9h1.4M17.5 535.2h0.5M21.0 535.2h0.5M29.3 535.2h0.8M33.0 535.2h0.8M61.2 535.2h0.5M99.4 535.2h1.0M139.3 535.2h0.5M158.8 535.2h0.5M165.9 535.2h0.5M171.6 535.2h0.5M173.1 535.2h0.5M27.4 536.5h1.4M35.0 536.5h0.8M50.3 536.5h0.8M62.2 536.5h0.5M64.7 536.5h0.8M81.0 536.5h1.4M118.0 536.5h1.4M131.8 536.5h0.5M153.6 536.5h0.5M161.8 536.5h1.0M93.3 537.8h0.8M101.0 537.8h0.8M103.4 537.8h0.5M107.5 537.8h1.0M109.1 537.8h0.8M111.5 537.8h0.8M115.7 537.8h0.8M121.1 537.8h0.5M142.9 537.8h0.8M163.0 537.8h0.5M172.6 537.8h1.4M49.6 539.1h1.4M63.7 539.1h1.0M73.3 539.1h0.8M105.3 539.1h0.8M127.3 539.1h1.4M129.2 539.1h0.8M137.7 539.1h1.4M148.4 539.1h0.5M167.1 539.1h0.5M171.6 539.1h0.8M29.0 540.5h0.5M57.9 540.5h1.4M64.9 540.5h0.8M82.1 540.5h0.5M87.3 540.5h0.8M89.3 540.5h1.4M95.1 540.5h0.5M109.6 540.5h0.8M124.8 540.5h1.4M152.3 540.5h1.0M175.5 540.5h0.8M21.3 541.8h1.4M32.2 541.8h1.0M42.2 541.8h0.8M68.6 541.8h1.0M82.5 541.8h0.8M85.1 541.8h1.4M92.6 541.8h0.5M96.2 541.8h0.5M99.9 541.8h0.5M124.2 541.8h1.4M135.8 541.8h1.4M138.7 541.8h0.8M148.2 541.8h1.0M155.5 541.8h1.0M160.8 541.8h0.8M51.0 543.1h1.4M53.8 543.1h1.0M63.5 543.1h1.0M73.2 543.1h1.4M81.7 543.1h0.8M112.2 543.1h0.5M119.1 543.1h0.5M150.8 543.1h0.5M168.6 543.1h0.8M170.7 543.1h0.8M25.9 544.4h0.8M32.8 544.4h1.4M38.7 544.4h0.8M47.2 544.4h1.4M53.6 544.4h0.8M70.4 544.4h1.0M74.5 544.4h0.8M106.4 544.4h1.0M117.1 544.4h1.0M118.9 544.4h1.0M131.6 544.4h0.5M136.9 544.4h1.0M157.7 544.4h1.4M167.0 544.4h1.0M18.1 545.7h0.8M30.0 545.7h0.5M31.8 545.7h0.8M33.2 545.7h0.5M34.8 545.7h0.5M64.6 545.7h1.4M121.3 545.7h0.5M128.2 545.7h0.8M132.9 545.7h1.0M148.1 545.7h0.8M151.6 545.7h0.5M159.2 545.7h0.5M166.1 545.7h1.0M24.6 547.0h1.0M36.0 547.0h1.4M69.7 547.0h1.4M81.3 547.0h0.8M94.4 547.0h0.8M95.8 547.0h0.8M109.4 547.0h1.0M140.4 547.0h1.4M170.0 547.0h1.0M26.3 548.4h0.8M35.6 548.4h1.4M65.9 548.4h0.5M71.8 548.4h1.0M78.3 548.4h0.8M82.2 548.4h0.8M94.1 548.4h1.0M102.2 548.4h1.4M105.1 548.4h0.8M121.8 548.4h0.5M130.2 548.4h0.8M151.2 548.4h0.5M19.8 549.7h0.5M30.4 549.7h1.0M34.7 549.7h1.4M78.5 549.7h1.0M104.1 549.7h0.5M110.7 549.7h1.0M127.0 549.7h0.5M128.7 549.7h1.0M133.1 549.7h1.0M174.9 549.7h1.0M18.0 551.0h0.5M21.7 551.0h1.4M27.4 551.0h1.4M51.1 551.0h1.4M52.9 551.0h0.5M59.7 551.0h0.8M64.6 551.0h0.8M89.7 551.0h1.0M99.7 551.0h0.5M110.0 551.0h0.5M112.1 551.0h0.8M137.0 551.0h1.0M27.2 552.3h0.5M44.3 552.3h0.5M78.0 552.3h0.5M79.6 552.3h0.5M92.2 552.3h0.5M99.9 552.3h0.5M106.5 552.3h0.5M115.4 552.3h0.8M150.2 552.3h0.8M161.2 552.3h1.0M166.2 552.3h1.0M20.5 553.6h1.4M39.8 553.6h1.4M59.8 553.6h1.4M79.4 553.6h0.5M85.3 553.6h1.0M92.2 553.6h1.0M126.5 553.6h0.8M129.2 553.6h0.5M132.1 553.6h1.4M146.4 553.6h0.8M148.3 553.6h0.8M34.0 554.9h0.8M130.5 554.9h0.5M135.1 554.9h0.5M155.0 554.9h0.8M18.6 556.3h1.0M30.0 556.3h1.4M58.6 556.3h1.0M64.0 556.3h1.0M67.7 556.3h0.5M69.7 556.3h0.5M72.5 556.3h1.0M76.2 556.3h0.5M80.1 556.3h0.8M89.6 556.3h1.4M106.2 556.3h0.8M109.9 556.3h0.5M137.1 556.3h0.8M139.2 556.3h0.5M149.8 556.3h0.5M158.4 556.3h1.0M170.6 556.3h0.8M25.1 557.6h1.0M39.3 557.6h0.8M49.4 557.6h1.0M67.2 557.6h1.0M71.2 557.6h1.4M86.2 557.6h0.8M90.5 557.6h0.5M119.1 557.6h0.8M147.5 557.6h1.4M163.0 557.6h1.4M169.3 557.6h0.5M16.9 558.9h0.8M33.4 558.9h1.0M35.3 558.9h0.5M45.9 558.9h0.5M52.2 558.9h0.8M56.8 558.9h1.4M62.1 558.9h1.4M99.0 558.9h0.8M100.7 558.9h1.4M106.0 558.9h0.8M148.2 558.9h0.8M153.0 558.9h0.8M167.3 558.9h0.5M21.8 560.2h0.5M31.0 560.2h0.8M42.9 560.2h1.4M58.8 560.2h1.4M72.4 560.2h1.4M81.7 560.2h1.0M96.0 560.2h1.0M122.6 560.2h1.4M130.7 560.2h1.4M174.9 560.2h0.5M20.0 561.5h0.8M50.2 561.5h0.5M62.0 561.5h0.8M81.8 561.5h0.8M101.0 561.5h0.5M104.1 561.5h0.5M106.0 561.5h1.4M108.2 561.5h0.8M116.2 561.5h1.4M123.8 561.5h0.8M131.3 561.5h0.5M135.2 561.5h0.5M162.5 561.5h0.8M20.3 562.9h0.5M34.1 562.9h0.5M61.3 562.9h1.0M63.8 562.9h0.8M65.8 562.9h1.0M70.1 562.9h1.0M75.6 562.9h0.5M85.9 562.9h1.4M91.1 562.9h0.8M104.9 562.9h1.0M114.7 562.9h1.0M123.7 562.9h0.5M166.1 562.9h0.8M169.9 562.9h1.4M174.3 562.9h0.5M39.2 564.2h0.8M46.3 564.2h0.5M61.9 564.2h0.8M63.2 564.2h1.0M89.6 564.2h1.4M108.7 564.2h1.4M133.0 564.2h1.0M138.5 564.2h0.5M144.6 564.2h1.0M150.1 564.2h0.8M158.4 564.2h0.5M167.8 564.2h1.4M44.3 565.5h0.5M58.0 565.5h0.5M59.4 565.5h0.8M60.8 565.5h0.8M80.1 565.5h1.0M82.3 565.5h0.5M106.4 565.5h0.8M129.1 565.5h1.4M135.9 565.5h1.4M149.0 565.5h0.8M150.5 565.5h1.4M165.8 565.5h1.0M175.6 565.5h1.0M29.2 566.8h0.5M53.0 566.8h0.8M66.5 566.8h0.8M70.8 566.8h0.8M103.8 566.8h1.0M169.2 566.8h1.4M16.2 568.1h1.0M23.7 568.1h0.8M26.9 568.1h1.4M47.3 568.1h1.0M56.5 568.1h1.0M67.6 568.1h1.0M74.1 568.1h0.8M88.2 568.1h1.0M95.6 568.1h0.5M100.1 568.1h1.4M117.8 568.1h1.4M130.3 568.1h0.8M139.8 568.1h0.5M20.2 569.4h0.5M23.0 569.4h1.4M26.7 569.4h1.4M33.2 569.4h1.0M46.2 569.4h1.4M53.8 569.4h0.5M83.0 569.4h1.0M86.8 569.4h0.8M90.0 569.4h0.5M94.5 569.4h1.0M102.4 569.4h1.0M124.4 569.4h0.5M135.3 569.4h0.8M161.3 569.4h0.8M164.6 569.4h0.5M170.2 569.4h0.5M21.9 570.8h1.4M24.5 570.8h1.0M29.8 570.8h0.8M44.4 570.8h1.4M46.5 570.8h0.8M54.0 570.8h1.4M60.7 570.8h1.0M66.0 570.8h1.0M71.3 570.8h0.8M94.3 570.8h1.0M112.5 570.8h0.8M146.8 570.8h0.5M151.1 570.8h1.0M162.0 570.8h1.0M169.5 570.8h0.8M41.7 572.1h0.5M51.4 572.1h1.0M60.8 572.1h0.8M124.1 572.1h1.4M141.4 572.1h1.0M148.0 572.1h1.4M152.9 572.1h1.0M161.0 572.1h0.8M172.2 572.1h1.0M17.0 573.4h1.4M21.8 573.4h0.5M22.8 573.4h1.0M26.2 573.4h1.4M31.7 573.4h1.4M51.0 573.4h0.8M53.3 573.4h0.8M58.0 573.4h1.0M83.1 573.4h1.0M95.7 573.4h0.5M137.7 573.4h1.0M160.6 573.4h1.0M169.0 573.4h0.8M18.4 574.7h0.8M60.3 574.7h1.0M66.0 574.7h0.8M69.7 574.7h1.4M79.5 574.7h1.4M90.6 574.7h1.4M103.4 574.7h1.0M106.4 574.7h0.8M132.4 574.7h0.5M136.8 574.7h1.0M163.6 574.7h0.8M20.7 576.0h1.0M45.4 576.0h1.4M52.2 576.0h1.0M73.8 576.0h1.4M84.6 576.0h0.5M111.7 576.0h1.4M121.0 576.0h1.0M159.7 576.0h0.8M167.5 576.0h1.0M169.5 576.0h0.8M29.2 577.3h1.4M32.2 577.3h0.5M33.9 577.3h1.4M35.8 577.3h0.5M46.9 577.3h0.8M56.1 577.3h0.8M57.4 577.3h1.4M60.9 577.3h1.0M69.5 577.3h0.8M72.3 577.3h1.0M74.5 577.3h0.5M77.0 577.3h1.4M79.9 577.3h1.0M83.0 577.3h0.8M94.3 577.3h0.8M169.7 577.3h0.5" stroke="#ffffff" stroke-width="1.32" fill="none"/>
<path d="M28.0 381.1h1.6m2.5 0h0.5m11.1 0h1.6m1.7 0h2.2m0.7 0h0.7m12.1 0h1.2m6.0 0h0.7m37.1 0h0.5m1.8 0h0.4m11.0 0h0.4m21.9 0h0.5M28.2 382.4h1.6m11.8 0h0.9m8.8 0h0.9m11.9 0h1.2m2.5 0h0.5m31.8 0h0.8m57.9 0h0.6M16.3 383.7h0.5m43.2 0h0.7m9.5 0h1.6m39.0 0h0.4m24.8 0h0.5m20.7 0h0.8M25.7 385.0h2.2m1.2 0h2.2m5.5 0h0.9m5.9 0h0.7m44.9 0h0.4m0.3 0h0.4m3.4 0h0.8m28.2 0h0.4m7.9 0h0.5m3.1 0h0.4m16.6 0h0.6m17.8 0h0.8M22.1 386.3h0.5m4.4 0h0.4m31.4 0h0.5m8.9 0h0.6m1.5 0h0.6M27.0 387.6h1.6m42.6 0h0.5m24.8 0h0.6m51.1 0h0.4M27.4 389.0h0.8m22.3 0h0.5m3.5 0h0.4m4.7 0h0.5m0.7 0h0.4m13.0 0h0.4m22.7 0h0.4m48.8 0h0.5m11.0 0h0.8m7.5 0h0.5M38.3 390.3h0.7m3.0 0h0.7m21.1 0h0.5m57.3 0h0.6M55.3 391.6h0.4m2.4 0h0.4m1.8 0h0.4m41.5 0h0.8m22.8 0h0.6m0.7 0h0.5m4.9 0h0.4m2.6 0h0.4m1.0 0h0.5M16.0 392.9h0.5m28.6 0h0.5m5.8 0h0.5m18.5 0h0.7m88.7 0h0.4m3.8 0h0.6M15.8 394.2h0.5m25.5 0h0.7m17.7 0h0.9m97.6 0h0.5M26.6 395.5h1.6m1.4 0h0.9m14.2 0h1.2m5.6 0h2.2m37.8 0h0.4m25.2 0h0.4M28.9 398.2h2.2m1.0 0h1.6m1.0 0h1.6m5.9 0h0.7m21.1 0h1.2m6.6 0h0.7m17.3 0h0.6m12.8 0h0.5m17.5 0h0.5m10.7 0h0.6m1.5 0h0.6m40.9 0h0.5M22.3 399.5h0.9m21.0 0h1.6m22.6 0h0.7m65.8 0h0.8m4.9 0h0.6m8.9 0h0.6M20.4 400.8h0.7m9.1 0h0.7m48.4 0h0.8m45.5 0h0.4m7.7 0h0.8M36.5 402.1h0.6m68.3 0h0.5m31.5 0h0.8m32.2 0h0.8M18.6 403.5h0.5m29.0 0h2.2m7.3 0h0.9m104.4 0h0.4M22.0 404.8h1.2m9.1 0h0.9m55.3 0h0.6m4.5 0h0.8M48.9 406.1h2.2m0.5 0h0.7m7.8 0h0.5m41.7 0h0.8m64.3 0h0.6M20.6 407.4h0.9m21.3 0h2.2m23.2 0h0.9m1.7 0h1.2m2.2 0h0.4m1.1 0h0.8m80.2 0h0.4m18.7 0h0.6M15.7 408.7h0.5m3.2 0h0.5m13.8 0h0.5m26.5 0h0.5m8.5 0h2.2m0.5 0h0.5m24.7 0h0.6m59.6 0h0.4M16.6 410.0h0.5m3.5 0h0.5m16.4 0h0.5m7.9 0h1.6m2.3 0h0.9m12.8 0h1.2m7.2 0h1.1m16.9 0h0.6m21.9 0h0.8M15.9 411.4h0.9m0.4 0h0.9m44.1 0h0.9m2.5 0h0.9m15.7 0h0.6m39.2 0h0.5m19.5 0h0.8m10.5 0h0.6m4.5 0h0.5M21.4 412.7h0.7m14.7 0h0.5m8.1 0h0.9m4.3 0h2.2m11.5 0h0.5m23.2 0h0.5m32.1 0h0.4m8.7 0h0.4M63.7 414.0h1.6m88.0 0h0.8M18.0 415.3h0.7m5.4 0h0.5m5.0 0h2.2m7.1 0h1.2m64.1 0h0.4m14.1 0h0.6m3.4 0h0.6m25.7 0h0.8m9.3 0h0.5M35.4 416.6h0.5m11.2 0h1.2m3.1 0h0.9m70.0 0h0.8M46.9 417.9h0.9m52.9 0h0.4m54.2 0h0.6M24.0 419.3h0.9m4.4 0h2.2m19.8 0h0.9m10.2 0h0.5m6.2 0h2.2m15.3 0h0.8m64.1 0h0.4m21.9 0h0.4M27.8 420.6h0.7m122.3 0h0.6m2.2 0h0.4m9.4 0h0.4M24.6 421.9h2.2m1.4 0h0.9m1.1 0h2.2m3.4 0h1.6m52.8 0h0.8m17.3 0h0.6m28.2 0h0.6m1.2 0h0.6m2.9 0h0.5m30.9 0h0.8M23.3 423.2h0.9m31.8 0h1.6m7.5 0h2.2m1.9 0h0.7m0.5 0h0.7m18.0 0h0.6m1.1 0h0.4m10.4 0h0.6m16.7 0h0.5M35.4 424.5h0.5m2.2 0h0.7m1.5 0h0.5m1.3 0h1.2m75.3 0h0.5m19.8 0h0.4M32.3 425.8h1.2m32.3 0h2.2m27.2 0h0.5m23.6 0h0.5m23.4 0h0.6M17.9 427.2h1.2m4.7 0h0.7m1.4 0h1.2m34.7 0h1.6m3.0 0h0.9m12.0 0h0.6m31.1 0h0.4m2.5 0h0.6m28.7 0h0.8m7.8 0h0.6m0.5 0h0.5M17.2 428.5h1.6m0.9 0h1.6m1.9 0h2.2m0.5 0h0.9m6.7 0h1.6m2.7 0h0.9m2.7 0h0.7m4.4 0h0.7m12.6 0h0.5m5.0 0h0.7m89.4 0h0.5M28.5 429.8h0.9m9.9 0h0.9m20.1 0h1.6m66.3 0h0.8M27.0 431.1h0.9m11.6 0h1.6m17.6 0h1.6m1.6 0h1.2m106.1 0h0.6M16.7 432.4h0.5m9.6 0h0.7m43.3 0h0.9m63.1 0h0.5m25.9 0h0.5m10.8 0h0.5M56.2 433.8h2.2m0.3 0h1.6m3.9 0h1.6m27.3 0h0.8m49.8 0h0.5m3.2 0h0.8m20.2 0h0.6M24.2 435.1h2.2m26.9 0h0.7m0.7 0h2.2m0.3 0h1.6m0.7 0h0.7m12.4 0h0.4m11.2 0h0.6m25.4 0h0.8m28.7 0h0.5M31.5 436.4h0.7m0.4 0h0.5m97.7 0h0.5m38.9 0h0.4M17.3 437.7h0.6m24.2 0h0.4m6.4 0h0.5m2.6 0h0.6m23.2 0h0.8m41.4 0h0.4m4.8 0h0.8m26.5 0h0.6M21.5 439.0h0.9m1.0 0h1.2m12.4 0h0.9m32.6 0h0.7M25.1 440.3h2.2m7.7 0h0.7m31.6 0h0.7m8.2 0h0.8m30.2 0h0.8m10.2 0h0.8m20.5 0h0.6M29.1 441.7h0.9m5.7 0h1.6m13.5 0h0.7m33.3 0h0.5m11.7 0h0.6m59.6 0h0.4M24.0 443.0h1.2m7.1 0h0.5m2.5 0h0.5m21.1 0h1.6m32.9 0h0.8M41.8 444.3h1.6m0.7 0h0.7m56.7 0h0.5m67.4 0h0.4M34.3 445.6h0.6m6.0 0h0.5m14.9 0h0.4m4.6 0h0.4m4.2 0h0.6m11.7 0h0.4m66.0 0h0.8M17.5 446.9h1.6m0.4 0h0.9m8.1 0h0.9m4.2 0h1.2m0.4 0h2.2m20.2 0h0.5m52.0 0h0.4m46.3 0h0.5M125.8 448.2h0.8m10.8 0h0.5M23.4 449.6h0.8m0.3 0h0.6m15.1 0h0.5m5.2 0h0.4m3.2 0h0.5m49.9 0h0.4m36.7 0h0.4M16.6 450.9h0.7m26.6 0h1.6m44.1 0h0.4m12.1 0h0.5m9.2 0h0.4m3.4 0h0.4m45.4 0h0.4M58.1 452.2h0.8m34.9 0h0.8m65.7 0h0.8M29.6 453.5h0.7m6.6 0h1.2m13.2 0h2.2m18.5 0h0.9m16.4 0h0.5m8.4 0h0.4m9.2 0h0.8m17.8 0h0.5m1.3 0h0.5m5.5 0h0.4m41.4 0h0.4M17.6 454.8h0.9m1.1 0h1.2m20.0 0h2.2m5.2 0h1.6m22.5 0h0.5m47.9 0h0.6M41.5 456.1h0.7m11.3 0h1.2m0.4 0h0.7m4.4 0h0.7m12.8 0h0.4m0.7 0h0.6m44.2 0h0.5m4.5 0h0.5m4.7 0h0.5m1.2 0h0.8m16.9 0h0.4m1.8 0h0.5m21.4 0h0.5M24.4 457.5h0.8m33.5 0h0.5m30.2 0h0.6m5.2 0h0.8m22.0 0h0.5m13.7 0h0.5m0.4 0h0.4m1.7 0h0.5m33.5 0h0.5M37.5 458.8h1.6m13.0 0h2.2M23.3 460.1h0.4m8.9 0h0.6m53.4 0h0.4m0.9 0h0.6m24.4 0h0.6m23.5 0h0.6M125.7 461.4h0.8m7.9 0h0.5M65.5 462.7h0.5m28.1 0h0.5m9.0 0h0.8m7.6 0h0.5M28.5 464.1h0.5m3.2 0h0.4m4.3 0h0.4m66.0 0h0.6m22.1 0h0.6m13.9 0h0.8m32.7 0h0.8M25.8 465.4h0.6m24.2 0h0.5m14.1 0h0.5m90.8 0h0.6m9.9 0h0.4m7.4 0h0.4M129.0 466.7h0.5m5.0 0h0.6m9.9 0h0.5M42.4 468.0h0.5M88.2 469.3h0.5m15.0 0h0.8m42.8 0h0.4M36.7 470.6h0.5m3.0 0h0.6m1.0 0h0.8m14.2 0h0.8m2.7 0h0.5m68.4 0h0.5m15.7 0h0.6m2.3 0h0.6m11.5 0h0.4M36.5 472.0h0.5m25.8 0h0.8m35.0 0h0.4m11.1 0h0.5m16.2 0h0.6m6.0 0h0.8m30.4 0h0.4M22.3 473.3h0.7m21.5 0h1.2m26.7 0h0.5m6.1 0h0.8m9.1 0h0.4m2.4 0h0.6m78.1 0h0.6M42.0 474.6h0.6m8.8 0h0.8m1.3 0h0.4m77.1 0h0.4M95.8 475.9h0.4m28.0 0h0.4m3.1 0h0.6m16.8 0h0.6m25.7 0h0.4M16.7 477.2h1.2m11.1 0h2.2m5.0 0h2.2m10.2 0h1.6m5.8 0h0.9m48.9 0h0.5m37.4 0h0.8M78.0 478.5h0.5m6.9 0h0.6m11.8 0h0.4m3.8 0h0.5m6.9 0h0.5m12.9 0h0.8m1.1 0h0.8m11.2 0h0.5m7.2 0h0.8m0.4 0h0.8m9.1 0h0.4m11.2 0h0.4M88.1 479.9h0.8m4.1 0h0.4m9.3 0h0.8m17.7 0h0.8m6.1 0h0.8m5.5 0h0.8m21.0 0h0.5m3.6 0h0.6M38.0 481.2h0.8m49.8 0h0.8m18.9 0h0.6m28.4 0h0.5m1.1 0h0.6m3.1 0h0.6m9.5 0h0.4m8.2 0h0.8m0.5 0h0.5m3.7 0h0.4m7.0 0h0.8M100.8 482.5h0.5m19.0 0h0.4m33.3 0h0.4m5.7 0h0.6M76.2 483.8h0.4m16.6 0h0.4m17.6 0h0.4m3.9 0h0.8m22.6 0h0.6m12.6 0h0.6m11.7 0h0.4m2.1 0h0.5M74.2 485.1h0.4m21.8 0h0.4m18.7 0h0.8m32.4 0h0.6m3.9 0h0.4m3.9 0h0.8m1.0 0h0.8m12.2 0h0.8M74.6 486.4h0.6m3.5 0h0.4m4.3 0h0.6m4.7 0h0.4m10.4 0h0.8m2.4 0h0.8m25.1 0h0.5m4.5 0h0.8m2.2 0h0.8m9.6 0h0.6m21.3 0h0.5M16.5 487.8h0.5m54.4 0h0.4m18.1 0h0.8m30.5 0h0.4m10.3 0h0.4m21.0 0h0.8M21.6 489.1h0.6m56.1 0h0.5m0.6 0h0.8m21.3 0h0.4m1.3 0h0.5m48.6 0h0.5m2.1 0h0.5m3.5 0h0.4m6.4 0h0.8m0.6 0h0.5m2.0 0h0.5m2.0 0h0.6M23.8 490.4h0.5m30.3 0h0.4m21.8 0h0.4m7.9 0h0.5m7.8 0h0.8m1.2 0h0.4m1.1 0h0.4m13.0 0h0.4m5.2 0h0.6m1.8 0h0.4m0.6 0h0.8m16.2 0h0.8m37.2 0h0.5M49.6 491.7h0.8m52.2 0h0.6M32.7 493.0h0.5m1.5 0h0.8m6.4 0h0.8m40.0 0h0.5m1.5 0h0.5m4.9 0h0.6m22.5 0h0.6m1.1 0h0.8m4.3 0h0.6m20.8 0h0.5m1.2 0h0.5m11.3 0h0.6m11.5 0h0.6m2.0 0h0.8M34.2 494.3h0.8m39.9 0h0.8m31.8 0h0.6m0.3 0h0.8m29.0 0h0.6m34.3 0h0.5M19.6 495.7h0.6m44.6 0h0.6m3.8 0h0.6m4.9 0h0.6m0.4 0h0.4m2.8 0h0.4m4.5 0h0.6m19.3 0h0.8m31.4 0h0.5m4.8 0h0.5m32.1 0h0.8M94.0 497.0h0.6m28.1 0h0.8m8.7 0h0.6m0.7 0h0.4m7.7 0h0.4m27.2 0h0.6m0.6 0h0.5M99.5 498.3h0.5m21.8 0h0.8m9.1 0h0.8m6.7 0h0.8m2.4 0h0.5m15.7 0h0.4M23.0 499.6h0.4m2.5 0h0.4m23.8 0h0.8m9.4 0h0.4m5.9 0h0.5m7.3 0h0.8m25.3 0h0.6m22.6 0h0.4m4.5 0h0.6m11.5 0h0.6m9.8 0h0.5m14.8 0h0.5m4.6 0h0.6M33.8 500.9h0.4m30.7 0h0.4m13.3 0h0.6m27.6 0h0.8m49.2 0h0.6m18.2 0h0.5M18.1 502.3h0.6m6.6 0h0.4m22.4 0h0.5m22.8 0h0.4m8.9 0h0.6m1.3 0h0.6m2.3 0h0.4m65.7 0h0.8m5.1 0h0.4M23.2 503.6h0.6m27.7 0h0.4m1.3 0h0.4m15.7 0h0.4m19.5 0h0.8M18.6 504.9h0.8m1.5 0h0.6m39.6 0h0.4m4.4 0h0.8m21.8 0h0.8m7.6 0h0.4m2.0 0h0.4m9.1 0h0.8m1.4 0h0.5m3.0 0h0.4m34.5 0h0.8m6.0 0h0.5M58.5 506.2h0.5m0.9 0h0.4m18.3 0h0.4m1.0 0h0.8m2.9 0h0.8m5.9 0h0.5m5.5 0h0.6m4.7 0h0.8m8.2 0h0.8m17.8 0h0.5m10.7 0h0.5m6.5 0h0.5m21.1 0h0.4M16.2 507.5h0.8m8.2 0h0.4m50.7 0h0.6m37.9 0h0.8m11.3 0h0.6m2.1 0h0.4m16.7 0h0.5m9.5 0h0.6m7.7 0h0.4m2.6 0h0.8M29.9 508.8h0.8m23.6 0h0.4m22.1 0h0.4m11.0 0h0.6m25.5 0h0.4m13.3 0h0.8m8.1 0h0.6m13.4 0h0.6m24.3 0h0.5M17.3 510.2h0.4m5.0 0h0.4m25.4 0h0.4m2.5 0h0.5m87.7 0h0.6m1.4 0h0.8m6.0 0h0.4m8.3 0h0.4m16.7 0h0.8M37.8 511.5h0.5m42.6 0h0.4m4.7 0h0.6m9.9 0h0.4m8.9 0h0.8m28.3 0h0.4m5.1 0h0.5m27.8 0h0.8M33.9 512.8h0.4m4.7 0h0.5m73.0 0h0.6m11.5 0h0.4m5.2 0h0.4m2.1 0h0.4m6.9 0h0.8m12.2 0h0.6M35.7 514.1h0.5m20.8 0h0.5m3.8 0h0.4m28.7 0h0.6m2.1 0h0.5m37.2 0h0.5m24.2 0h0.8m6.7 0h0.8m12.4 0h0.4M49.3 515.4h0.6m4.3 0h0.5m8.2 0h0.4m15.6 0h0.4m5.8 0h0.6m17.1 0h0.8m10.6 0h0.6m21.8 0h0.4m7.2 0h0.5m0.6 0h0.6m14.3 0h0.8m14.2 0h0.6M76.1 516.7h0.6m7.9 0h0.5m8.8 0h0.4m22.9 0h0.5m36.4 0h0.5m11.1 0h0.6M43.8 518.1h0.6m1.1 0h0.8m11.0 0h0.5m23.0 0h0.4m3.9 0h0.4m4.5 0h0.8m0.6 0h0.8m11.9 0h0.5m6.5 0h0.4m1.4 0h0.5m0.4 0h0.8m29.9 0h0.8m5.4 0h0.6m6.8 0h0.4m3.7 0h0.6m4.3 0h0.6M78.0 519.4h0.6m25.8 0h0.4m5.7 0h0.8m1.5 0h0.6m2.0 0h0.8m5.4 0h0.8m6.2 0h0.8m0.7 0h0.6m0.6 0h0.4m0.4 0h0.8m32.2 0h0.8m2.0 0h0.6M30.7 520.7h0.5m39.4 0h0.4m29.4 0h0.5m0.3 0h0.6m25.0 0h0.4m6.1 0h0.8m2.3 0h0.6m5.6 0h0.6M44.7 522.0h0.5m3.6 0h0.6m15.7 0h0.5m6.2 0h0.4m2.0 0h0.6m8.1 0h0.4m1.2 0h0.8m7.4 0h0.5m22.3 0h0.6m6.7 0h0.8m8.0 0h0.6m13.2 0h0.6M55.9 523.3h0.4m29.6 0h0.4m7.4 0h0.4m35.1 0h0.4m23.1 0h0.5M27.7 524.6h0.6m0.4 0h0.4m42.0 0h0.6m5.9 0h0.4m12.2 0h0.8m25.3 0h0.5m5.9 0h0.5m23.2 0h0.5m3.4 0h0.4m10.3 0h0.8m13.4 0h0.6M71.1 526.0h0.5m18.0 0h0.5m29.5 0h0.6m5.8 0h0.6m30.8 0h0.8m10.7 0h0.5M20.1 527.3h0.8m54.7 0h0.8m1.9 0h0.6m11.2 0h0.8m2.2 0h0.6m19.5 0h0.4m0.6 0h0.5m54.5 0h0.4M19.6 528.6h0.8m35.6 0h0.5m25.9 0h0.4m9.2 0h0.6m7.1 0h0.4m22.0 0h0.8m18.9 0h0.4m31.8 0h0.4M24.8 529.9h0.6m3.0 0h0.5m34.1 0h0.6m0.5 0h0.4m2.0 0h0.6m36.1 0h0.4m11.0 0h0.8m3.0 0h0.6m10.5 0h0.5m33.2 0h0.4m4.1 0h0.8M22.6 531.2h0.5m33.3 0h0.8m3.0 0h0.4m18.3 0h0.4m15.9 0h0.4m29.2 0h0.5m9.4 0h0.8m0.5 0h0.4m12.8 0h0.4m13.1 0h0.5M41.5 532.6h0.4m59.2 0h0.8m20.4 0h0.6m1.2 0h0.8m3.3 0h0.5m17.0 0h0.6m18.2 0h0.6M57.6 533.9h0.5m30.5 0h0.8m6.5 0h0.6m8.0 0h0.5m11.5 0h0.8m7.9 0h0.8m10.9 0h0.8m5.0 0h0.4M22.5 535.2h0.6m31.4 0h0.5m22.4 0h0.6m14.6 0h0.4m12.2 0h0.8m0.6 0h0.8m30.0 0h0.4m9.3 0h0.8m20.3 0h0.8m5.7 0h0.4M69.7 536.5h0.6m26.6 0h0.4m5.5 0h0.4m26.4 0h0.5m1.4 0h0.4m8.8 0h0.5M40.3 537.8h0.8m15.7 0h0.8m28.5 0h0.4m10.7 0h0.8m33.6 0h0.4m5.6 0h0.4m1.9 0h0.6m5.2 0h0.4m20.2 0h0.4M29.3 539.1h0.4m25.8 0h0.5m7.7 0h0.5m13.2 0h0.5m4.9 0h0.5m12.0 0h0.4m37.8 0h0.6m0.6 0h0.5m23.6 0h0.5M81.7 540.5h0.8m15.8 0h0.4m17.3 0h0.8m9.1 0h0.8m0.5 0h0.5m17.9 0h0.5m6.2 0h0.5M47.1 541.8h0.6m46.2 0h0.6m24.3 0h0.4m17.1 0h0.6M35.2 543.1h0.5m66.5 0h0.8m33.0 0h0.4m5.7 0h0.6m1.9 0h0.6m1.3 0h0.5m13.1 0h0.6m13.8 0h0.4M29.3 544.4h0.4m7.5 0h0.6m52.8 0h0.4m19.1 0h0.8m5.1 0h0.5m7.7 0h0.8m35.7 0h0.6m5.1 0h0.8M45.7 545.7h0.4m19.0 0h0.4m12.3 0h0.8m30.9 0h0.6m3.8 0h0.5m0.9 0h0.6m16.6 0h0.5m16.3 0h0.8m13.3 0h0.5M26.5 547.0h0.4m15.2 0h0.5m31.2 0h0.6m10.6 0h0.5m10.7 0h0.8m20.3 0h0.6m26.7 0h0.8m30.5 0h0.5M16.7 548.4h0.6m4.3 0h0.8m1.9 0h0.8m34.0 0h0.5m26.4 0h0.4m33.5 0h0.5m9.1 0h0.5m41.6 0h0.4M21.6 549.7h0.5m5.3 0h0.8m10.7 0h0.4m18.9 0h0.4m11.3 0h0.8m15.7 0h0.8m13.3 0h0.4m2.5 0h0.5m32.7 0h0.5m7.4 0h0.4m2.5 0h0.4M27.0 551.0h0.5m1.4 0h0.8m16.3 0h0.8m8.2 0h0.5m2.3 0h0.8m18.6 0h0.8m23.9 0h0.8m37.4 0h0.6m5.7 0h0.8m0.7 0h0.4m5.3 0h0.6m2.8 0h0.6m3.1 0h0.6m8.4 0h0.6M16.0 552.3h0.6m4.3 0h0.5m5.9 0h0.4m17.7 0h0.4m30.6 0h0.5m59.8 0h0.4m30.0 0h0.4M71.8 553.6h0.6m4.5 0h0.6m13.2 0h0.4m24.9 0h0.6M28.2 554.9h0.8m31.5 0h0.8m4.4 0h0.4m27.6 0h0.4m28.5 0h0.5m1.4 0h0.6m17.8 0h0.6m11.7 0h0.6m19.3 0h0.5M23.9 556.3h0.8m2.2 0h0.6m29.4 0h0.5m3.5 0h0.6m7.0 0h0.6m9.2 0h0.4m26.0 0h0.4m10.8 0h0.6m11.3 0h0.6m5.4 0h0.5m5.8 0h0.6m3.1 0h0.6m3.4 0h0.8m18.9 0h0.4m7.7 0h0.6M55.7 557.6h0.8m14.0 0h0.6m13.5 0h0.6m25.6 0h0.5m22.8 0h0.5m4.0 0h0.5m10.0 0h0.4m2.1 0h0.8m14.5 0h0.4M40.4 558.9h0.5m3.8 0h0.5m4.4 0h0.5m15.0 0h0.8m3.0 0h0.8m2.8 0h0.4m22.1 0h0.4m7.4 0h0.4m6.4 0h0.5m13.5 0h0.6m18.2 0h0.4m13.2 0h0.5m4.0 0h0.5m3.1 0h0.8M23.4 560.2h0.4m15.5 0h0.6m16.1 0h0.6m4.9 0h0.5m4.3 0h0.4m21.8 0h0.6m82.5 0h0.6M46.2 561.5h0.5m6.5 0h0.5m10.2 0h0.8m11.7 0h0.5m23.0 0h0.4m2.2 0h0.5m21.0 0h0.5m9.3 0h0.6m3.1 0h0.5m21.8 0h0.4M24.6 562.9h0.4m17.3 0h0.6m10.1 0h0.4m25.9 0h0.4m18.2 0h0.6m2.6 0h0.8m40.7 0h0.5m23.9 0h0.4m0.5 0h0.5M20.0 564.2h0.6m62.9 0h0.4m3.7 0h0.6m27.5 0h0.4m3.9 0h0.5m2.5 0h0.4m9.6 0h0.5m10.9 0h0.5m2.1 0h0.4m5.6 0h0.5m1.7 0h0.4M37.9 565.5h0.6m3.8 0h0.4m19.0 0h0.4m25.7 0h0.6m81.7 0h0.4m1.4 0h0.6M32.8 566.8h0.6m2.7 0h0.8m6.7 0h0.5m5.3 0h0.6m16.0 0h0.4m14.7 0h0.6m0.6 0h0.6m7.5 0h0.6m35.3 0h0.6M42.2 568.1h0.6m35.1 0h0.4m4.3 0h0.5m9.1 0h0.5m16.7 0h0.5m11.2 0h0.5m13.5 0h0.6m8.2 0h0.4m8.8 0h0.5m0.6 0h0.8M23.5 569.4h0.6m34.2 0h0.8m22.1 0h0.6m16.1 0h0.8m18.9 0h0.5m22.7 0h0.6m18.0 0h0.5M16.6 570.8h0.8m6.7 0h0.4m5.6 0h0.8m1.2 0h0.5m0.4 0h0.6m2.6 0h0.4m5.4 0h0.6m19.7 0h0.8m21.7 0h0.5m31.2 0h0.4m8.7 0h0.5m4.3 0h0.6m0.5 0h0.5m9.1 0h0.4m21.9 0h0.4m3.5 0h0.5m4.9 0h0.5M23.3 572.1h0.5m5.6 0h0.4m18.6 0h0.4m77.1 0h0.4m1.8 0h0.6m26.8 0h0.8M19.2 573.4h0.5m19.5 0h0.8m27.9 0h0.5m7.3 0h0.8m10.7 0h0.4m2.9 0h0.6m11.0 0h0.5m10.6 0h0.6m0.4 0h0.5m21.5 0h0.5m4.0 0h0.5m5.0 0h0.6m12.8 0h0.6M20.9 574.7h0.8m12.6 0h0.8m52.4 0h0.6m9.2 0h0.6m9.8 0h0.6m39.1 0h0.6m6.5 0h0.6M16.6 576.0h0.5m5.1 0h0.8m0.5 0h0.4m35.8 0h0.8m8.1 0h0.4m1.1 0h0.8m25.9 0h0.4m12.3 0h0.8m24.9 0h0.5m3.6 0h0.8m5.2 0h0.4m12.3 0h0.5m2.5 0h0.4m7.2 0h0.6M29.7 577.3h0.8m29.7 0h0.8m3.9 0h0.5m14.9 0h0.4m1.5 0h0.4m38.6 0h0.6m51.7 0h0.6" stroke="#fbd3ca" stroke-width="1.32" fill="none"/>
<path d="M21.1 381.1h0.5m14.1 0h1.6m13.7 0h0.7m7.0 0h0.5m8.4 0h0.5m2.9 0h2.0m32.6 0h0.8m22.5 0h0.5m20.8 0h0.8m4.0 0h0.6m2.6 0h0.8m11.4 0h0.5M15.9 382.4h2.2m7.5 0h2.2m5.2 0h0.7m5.3 0h0.5m4.0 0h0.7m9.3 0h1.6m2.5 0h0.5m0.4 0h1.6m0.5 0h0.5m16.9 0h0.8m19.8 0h0.8m27.4 0h0.8m2.8 0h0.6M30.5 383.7h0.5m5.8 0h0.5m26.3 0h1.6m3.5 0h0.9m5.0 0h0.5m66.1 0h0.8m7.5 0h0.6M21.2 385.0h2.2m9.9 0h0.7m10.8 0h0.7m0.7 0h2.2m0.6 0h1.2m2.7 0h2.2m0.4 0h0.9m1.2 0h0.5m6.2 0h1.6m29.1 0h0.5m58.4 0h0.8M18.0 386.3h0.4m6.8 0h0.5m21.0 0h0.6m31.3 0h0.4m18.9 0h0.4m4.5 0h0.4m18.0 0h0.5m16.4 0h0.6M23.4 387.6h1.2m18.0 0h0.5m3.7 0h1.2m17.0 0h1.2m1.2 0h0.7m36.1 0h0.8m36.6 0h0.6m13.7 0h0.6m12.0 0h0.5M48.9 389.0h0.5m12.2 0h0.6m0.4 0h0.8m9.0 0h0.5m33.6 0h0.5m15.2 0h0.5m32.0 0h0.6M20.2 390.3h1.2m9.1 0h0.5m0.7 0h2.2m17.7 0h2.2m17.2 0h0.9m19.2 0h0.5m7.2 0h0.4m27.3 0h0.4m16.2 0h0.8M70.2 391.6h0.4m5.7 0h0.5m26.9 0h0.4m43.0 0h0.5m4.9 0h0.5M50.0 392.9h0.9m22.7 0h0.6m48.7 0h0.6m12.3 0h0.6m13.5 0h0.6m1.3 0h0.5M17.2 394.2h1.6m0.3 0h0.7m0.5 0h0.9m7.6 0h1.2m3.5 0h0.9m11.7 0h1.2m10.9 0h1.6m3.1 0h0.5m8.2 0h1.5m0.1 0h0.8m20.8 0h0.4m32.3 0h0.6M17.4 395.5h1.6m0.4 0h1.6m15.3 0h1.6m30.6 0h0.9m3.1 0h0.6m41.9 0h0.8m6.2 0h0.4m9.8 0h0.5m35.8 0h0.5M16.6 396.9h1.2m20.6 0h0.9m21.4 0h2.2m7.5 0h0.5m9.1 0h0.6m7.5 0h0.5m19.2 0h0.4m11.3 0h0.8M25.4 398.2h0.7m22.5 0h0.5m9.9 0h1.2m6.7 0h0.5m0.3 0h0.5m8.3 0h0.4m1.7 0h0.6m2.9 0h0.6m11.2 0h0.6m58.7 0h0.6M15.9 399.5h1.2m1.1 0h1.6m0.6 0h0.5m5.7 0h0.5m25.0 0h2.2m0.5 0h1.2m8.1 0h1.6m6.3 0h0.9m86.2 0h0.8M27.0 400.8h1.2m8.3 0h0.9m11.7 0h1.6m1.3 0h2.2m5.8 0h0.9m8.3 0h1.2m1.2 0h0.7m2.8 0h0.6m7.8 0h0.6m12.6 0h0.8m10.4 0h0.5m3.8 0h0.8m31.7 0h0.5M23.0 402.1h0.6m5.5 0h0.5m11.0 0h0.6m3.5 0h0.5m14.5 0h0.5m3.7 0h0.6m17.2 0h0.8m1.8 0h0.6m0.4 0h0.5m12.3 0h0.6m4.3 0h0.6m26.1 0h0.5m25.9 0h0.5M16.5 403.5h1.6m4.0 0h0.5m1.1 0h0.5m14.8 0h0.5m2.1 0h0.9m1.1 0h0.5m2.8 0h0.5m20.2 0h1.2m2.1 0h1.2m10.7 0h0.4m16.9 0h0.6m9.7 0h0.4m0.7 0h0.5m0.4 0h0.4m0.5 0h0.5m11.9 0h0.4m21.1 0h0.8m8.9 0h0.8m14.7 0h0.6M19.5 404.8h1.2m25.0 0h2.2m0.3 0h1.6m11.0 0h1.2m29.7 0h0.5m15.0 0h0.8m3.3 0h0.6m42.6 0h0.6M28.2 406.1h0.9m15.4 0h0.7m0.9 0h2.2m7.3 0h0.9m2.3 0h0.9m12.3 0h0.9m24.2 0h0.4m2.4 0h0.8m9.6 0h0.8m15.6 0h0.4m1.7 0h0.4m25.8 0h0.4m7.1 0h0.5M18.6 407.4h1.6m10.1 0h1.6m0.4 0h0.5m0.6 0h1.6m18.5 0h0.9m7.3 0h0.7m27.7 0h0.8m6.6 0h0.8m12.4 0h0.6m47.0 0h0.6m0.6 0h0.4m3.2 0h0.5m3.9 0h0.5M45.2 408.7h0.9m10.1 0h2.2m7.1 0h2.2m15.7 0h0.6m16.4 0h0.6m17.1 0h0.6m29.8 0h0.4m5.4 0h0.5m7.7 0h0.8M17.8 410.0h1.6m3.0 0h0.9m15.0 0h1.2m0.7 0h0.5m7.3 0h1.2m32.8 0h0.6M21.5 411.4h0.9m1.2 0h0.7m9.3 0h0.7m1.2 0h0.9m5.5 0h0.9m7.2 0h1.6m5.9 0h0.7m5.2 0h1.2m4.0 0h1.2m1.1 0h1.6m12.3 0h0.4m41.3 0h0.8m23.3 0h0.6m0.4 0h0.4M24.3 412.7h2.2m7.0 0h1.2m7.6 0h2.2m16.9 0h1.6m9.3 0h0.8m8.3 0h0.6m33.1 0h0.4m6.1 0h0.4m49.0 0h0.5M56.4 414.0h1.6m11.3 0h1.2m13.9 0h0.4m7.8 0h0.4m8.7 0h0.4m31.9 0h0.5m22.5 0h0.5M35.8 415.3h1.6m5.2 0h0.9m5.8 0h0.5m58.4 0h0.4m30.4 0h0.8m18.1 0h0.4M40.3 416.6h0.7m1.0 0h0.5m2.5 0h0.7m0.4 0h0.5m32.7 0h0.4m9.1 0h0.6m11.4 0h0.8m11.6 0h0.8m4.2 0h0.6m8.2 0h0.4m22.2 0h0.8m6.2 0h0.8m8.2 0h0.4M69.5 417.9h0.7m3.6 0h0.5m41.3 0h0.5M47.5 419.3h0.9m8.3 0h2.2m76.5 0h0.8m12.3 0h0.5m26.9 0h0.6M18.3 420.6h2.2m0.4 0h2.2m9.4 0h0.7m1.4 0h2.2m33.7 0h0.5m21.3 0h0.8m13.0 0h0.8m60.8 0h0.5M18.6 421.9h1.2m9.7 0h0.5m18.8 0h1.2m2.7 0h0.9m4.8 0h0.9m3.5 0h2.2m1.1 0h1.6m0.3 0h1.2m30.2 0h0.8m14.1 0h0.8M20.5 423.2h2.2m2.0 0h2.2m20.2 0h0.5m2.8 0h1.6m40.6 0h0.6M16.1 424.5h0.9m0.5 0h1.2m1.9 0h1.2m25.4 0h0.9m18.1 0h1.6m22.0 0h0.6m5.5 0h0.4m20.6 0h0.5M20.3 425.8h0.9m2.9 0h2.2m15.2 0h0.5m8.6 0h0.9m7.2 0h0.5m92.7 0h0.8m6.0 0h0.5m3.7 0h0.8M27.6 427.2h0.7m12.9 0h0.9m61.4 0h0.4m0.4 0h0.5m4.6 0h0.8m14.5 0h0.8m3.1 0h0.8m5.3 0h0.4m3.9 0h0.5m10.5 0h0.4M27.5 428.5h0.7m0.9 0h1.2m18.3 0h1.2m17.9 0h0.5m4.5 0h0.4m26.3 0h0.4m48.8 0h0.6m9.4 0h0.6M63.0 429.8h0.9m54.9 0h0.6m43.1 0h0.4M17.9 431.1h0.9m37.9 0h0.7m18.3 0h0.4m17.2 0h0.4m8.1 0h0.8m2.2 0h0.5m2.8 0h0.5m21.8 0h0.8m5.8 0h0.8m6.2 0h0.6m1.4 0h0.6m12.8 0h0.8M21.3 432.4h0.9m34.9 0h0.7m5.9 0h0.5m8.5 0h0.4m16.2 0h0.5m19.6 0h0.6m2.1 0h0.4m14.0 0h0.6m11.8 0h0.6m9.2 0h0.4m4.6 0h0.6M19.0 433.8h1.6m0.6 0h1.6m12.8 0h2.2m0.4 0h2.2m2.2 0h0.7m17.5 0h0.7m4.7 0h2.2m1.3 0h0.5m0.5 0h2.2m32.4 0h0.6M17.7 435.1h1.2m2.5 0h1.2m25.3 0h1.2m14.9 0h0.7m22.2 0h0.5m9.1 0h0.8m6.8 0h0.8m11.3 0h0.4m2.4 0h0.4m14.0 0h0.6m27.6 0h0.4m9.9 0h0.4M26.6 436.4h1.6m0.4 0h2.2m3.3 0h0.9m31.6 0h1.2m20.3 0h0.4m34.2 0h0.6m10.6 0h0.8m30.7 0h0.6M98.5 437.7h0.6m16.6 0h0.8m12.5 0h0.4M16.4 439.0h0.5m2.1 0h2.2m9.4 0h0.5m3.2 0h0.7m27.7 0h1.6m45.5 0h0.5m26.2 0h0.6M27.6 440.3h1.2m1.2 0h1.6m4.7 0h1.2m4.8 0h1.2m0.6 0h1.6m0.6 0h0.9m5.3 0h0.7m0.5 0h0.7m3.1 0h1.6m43.3 0h0.4m49.4 0h0.5m11.9 0h0.6M34.4 441.7h0.7m5.8 0h0.5m0.5 0h0.7m0.6 0h0.9m0.6 0h0.7m0.4 0h0.5m9.2 0h0.5m19.7 0h0.6m9.9 0h0.5m14.7 0h0.8m7.0 0h0.6m63.4 0h0.4M18.6 443.0h2.2m9.8 0h0.7m5.0 0h0.9m1.9 0h0.5m22.2 0h2.2m2.4 0h0.5m100.6 0h0.8m2.7 0h0.4M20.3 444.3h1.6m12.3 0h1.2m18.6 0h0.5m1.1 0h0.9m37.1 0h0.5m5.5 0h0.5m10.7 0h0.8m6.9 0h0.5m29.9 0h0.8m21.0 0h0.8M40.1 445.6h0.5m21.7 0h0.5m18.5 0h0.5M25.7 446.9h2.2m21.9 0h0.7m19.1 0h0.7m9.6 0h0.5m15.5 0h0.8m2.6 0h0.8m0.3 0h0.8m22.9 0h0.4m44.8 0h0.8M16.3 448.2h0.9m9.4 0h1.2m28.0 0h0.9m6.5 0h1.2m27.1 0h0.4M18.6 449.6h0.5m35.8 0h0.6m3.2 0h0.8m9.0 0h0.6m4.3 0h0.4m2.1 0h0.6m6.2 0h0.4m33.2 0h0.6m7.9 0h0.8m2.1 0h0.8m5.6 0h0.8m17.1 0h0.4M26.3 450.9h0.7m5.1 0h1.6m3.9 0h2.2m18.8 0h1.6m3.9 0h0.9m45.8 0h0.6m44.9 0h0.6m1.0 0h0.8M73.0 452.2h0.5m46.3 0h0.6M23.1 453.5h0.5m16.3 0h0.5m2.1 0h0.7m14.1 0h1.2m40.8 0h0.4m60.9 0h0.6m9.5 0h0.5M22.5 454.8h1.6m35.5 0h1.2m90.6 0h0.5m17.5 0h0.6M23.7 456.1h0.5m20.5 0h0.5m6.1 0h1.6m35.2 0h0.8m5.7 0h0.5m25.5 0h0.6m7.1 0h0.5m27.1 0h0.5M45.8 457.5h0.8m39.7 0h0.6m10.5 0h0.5m19.0 0h0.5m42.0 0h0.4M40.2 458.8h0.9m3.4 0h1.6m22.3 0h0.5m41.9 0h0.5m16.1 0h0.5m19.8 0h0.8m11.3 0h0.4m1.2 0h0.6m6.9 0h0.5m1.1 0h0.8M53.0 460.1h0.6m8.5 0h0.8m1.9 0h0.4m13.3 0h0.8m14.2 0h0.6m3.9 0h0.5m46.7 0h0.8m16.8 0h0.6m7.9 0h0.5m3.8 0h0.8M41.8 461.4h2.2m57.5 0h0.6m3.4 0h0.4m13.0 0h0.4m5.0 0h0.4m45.3 0h0.8M17.1 462.7h0.8m32.3 0h0.5m118.3 0h0.6M16.9 464.1h0.8m34.3 0h0.6m15.3 0h0.6m20.5 0h0.6m23.5 0h0.8m0.5 0h0.4m0.3 0h0.6m2.4 0h0.6M58.8 465.4h0.6m0.5 0h0.5m0.3 0h0.8m5.1 0h0.8m18.6 0h0.6m22.5 0h0.4m12.8 0h0.4m7.5 0h0.8M18.2 466.7h0.8m14.8 0h0.4m1.0 0h0.8m7.9 0h0.6m2.5 0h0.5m0.3 0h0.8m14.3 0h0.4m74.4 0h0.4M43.4 468.0h0.5m4.3 0h0.5m7.9 0h1.6m55.4 0h0.6m13.4 0h0.8m12.6 0h0.6m12.1 0h0.4M36.5 469.3h2.2m2.0 0h0.5m56.0 0h0.5m16.3 0h0.4m0.3 0h0.8m27.4 0h0.8m32.6 0h0.4M20.1 470.6h0.8m5.3 0h0.6m40.7 0h0.6m2.5 0h0.4m2.8 0h0.5m3.6 0h0.6m20.3 0h0.4m24.0 0h0.8m27.9 0h0.5m4.7 0h0.8m1.2 0h0.8m6.3 0h0.6M52.4 472.0h0.8m18.5 0h0.6m39.7 0h0.8m26.9 0h0.5M18.6 473.3h0.7m37.4 0h1.6m11.9 0h0.5m22.4 0h0.6m26.8 0h0.8m6.6 0h0.6m36.7 0h0.8M19.6 474.6h0.4m51.0 0h0.5m31.6 0h0.6m16.3 0h0.6m17.9 0h0.8m8.4 0h0.4m25.0 0h0.8M68.3 475.9h1.2m32.7 0h0.8m27.7 0h0.5m43.7 0h0.6M20.1 477.2h2.2m0.3 0h1.2m1.7 0h0.9m5.8 0h1.2m8.7 0h2.2m8.3 0h1.6m31.4 0h0.8m54.2 0h0.4M37.8 478.5h0.4m50.0 0h0.4m1.4 0h0.6m6.0 0h0.8m16.8 0h0.4m3.4 0h0.6m0.4 0h0.6m9.4 0h0.6m1.5 0h0.4m10.8 0h0.6m14.8 0h0.5m5.0 0h0.8m2.1 0h0.8M74.4 479.9h0.5m0.3 0h0.6m28.0 0h0.5m5.4 0h0.6m9.5 0h0.8m18.1 0h0.4m24.5 0h0.5M19.5 481.2h0.6m45.5 0h0.6m24.5 0h0.8m5.8 0h0.6m4.1 0h0.4m0.3 0h0.4m1.2 0h0.6m6.7 0h0.4m4.1 0h0.4m4.6 0h0.4m1.5 0h0.6m6.1 0h0.5m5.9 0h0.8m8.3 0h0.6m9.0 0h0.6m2.5 0h0.6M23.4 482.5h0.6m33.3 0h0.6m2.7 0h0.5m16.1 0h0.6m1.2 0h0.6m8.5 0h0.4m4.4 0h0.8m3.8 0h0.5m10.0 0h0.8m20.8 0h0.8m15.7 0h0.6m1.8 0h0.4m10.0 0h0.6m4.2 0h0.5m10.4 0h0.4M22.4 483.8h0.4m43.0 0h0.6m1.2 0h0.4m5.8 0h0.8m5.6 0h0.4m1.5 0h0.8m7.6 0h0.5m4.0 0h0.6m3.4 0h0.6m6.3 0h0.5m6.2 0h0.4m5.7 0h0.8m26.6 0h0.4m7.2 0h0.5m9.3 0h0.4M27.1 485.1h0.8m33.4 0h0.4m30.0 0h0.4m1.6 0h0.5m3.0 0h0.8m7.0 0h0.8m12.0 0h0.5m0.3 0h0.5m9.0 0h0.6m10.1 0h0.6m8.2 0h0.6m12.3 0h0.4M25.4 486.4h0.5m23.5 0h0.8m29.5 0h0.6m2.1 0h0.4m26.2 0h0.5m13.4 0h0.8m25.7 0h0.6m24.7 0h0.4M40.0 487.8h0.4m45.2 0h0.6m13.9 0h0.4m1.1 0h0.6m7.1 0h0.6m2.1 0h0.8m1.0 0h0.8m15.4 0h0.4m2.3 0h0.5m4.1 0h0.6m1.5 0h0.4m8.8 0h0.4m5.3 0h0.4m9.6 0h0.6M44.4 489.1h0.6m29.7 0h0.4m29.9 0h0.5m11.2 0h0.8m6.3 0h0.4m13.7 0h0.6m4.2 0h0.4m6.7 0h0.6m14.0 0h0.5m9.3 0h0.4m1.1 0h0.4M26.0 490.4h0.5m2.9 0h0.6m2.7 0h0.5m1.8 0h0.5m28.9 0h0.6m17.8 0h0.4m5.8 0h0.5m21.6 0h0.4m20.3 0h0.4m29.0 0h0.5m3.1 0h0.8m5.7 0h0.5M18.4 491.7h0.4m0.6 0h0.5m0.8 0h0.5m15.6 0h0.8m37.8 0h0.6m1.0 0h0.4m14.8 0h0.4m11.1 0h0.8m11.0 0h0.4m13.8 0h0.4m13.3 0h0.4m17.7 0h0.5m0.4 0h0.6m11.8 0h0.5M38.3 493.0h0.6m14.5 0h0.4m15.4 0h0.6m14.2 0h0.4m3.5 0h0.5m21.7 0h0.5m12.0 0h0.8m29.6 0h0.8m3.1 0h0.6m1.3 0h0.8m0.3 0h0.6M50.5 494.3h0.5m2.6 0h0.6m23.5 0h0.4m20.2 0h0.4m2.2 0h0.4m2.7 0h0.8m15.7 0h0.8m19.6 0h0.6m17.6 0h0.4m7.7 0h0.8m6.0 0h0.5M39.8 495.7h0.4m5.1 0h0.4m28.0 0h0.6m14.2 0h0.5m5.9 0h0.4m1.1 0h0.8m13.2 0h0.4m4.1 0h0.8m1.5 0h0.4m10.9 0h0.4m11.1 0h0.8m5.3 0h0.4m1.7 0h0.8m3.7 0h0.8m0.3 0h0.8m1.1 0h0.6m4.0 0h0.5M38.6 497.0h0.4m21.1 0h0.8m19.4 0h0.8m2.5 0h0.5m0.4 0h0.5m11.4 0h0.6m5.7 0h0.6m4.9 0h0.6m3.1 0h0.6m1.6 0h0.4m11.8 0h0.4m3.3 0h0.5m9.9 0h0.8m5.2 0h0.4m5.0 0h0.6m2.8 0h0.5m6.7 0h0.8M59.6 498.3h0.4m14.9 0h0.6m4.8 0h0.4m11.0 0h0.5m5.9 0h0.8m9.9 0h0.8m15.4 0h0.8m3.3 0h0.5m8.8 0h0.4m30.7 0h0.6M28.7 499.6h0.5m3.9 0h0.4m25.6 0h0.6m17.0 0h0.8m3.8 0h0.5m26.2 0h0.8m31.1 0h0.4m5.8 0h0.6m15.9 0h0.5m6.6 0h0.5M51.2 500.9h0.6m11.2 0h0.4m6.2 0h0.4m3.5 0h0.4m59.3 0h0.4m3.3 0h0.5m25.8 0h0.4M26.3 502.3h0.5m1.7 0h0.5m26.3 0h0.5m5.9 0h0.4m11.6 0h0.4m0.3 0h0.6m9.3 0h0.8m7.5 0h0.4m36.5 0h0.8m2.1 0h0.6m27.3 0h0.8m7.1 0h0.6m0.4 0h0.5m0.3 0h0.8M47.1 503.6h0.4m2.1 0h0.8m24.3 0h0.8m0.6 0h0.6m21.7 0h0.6m1.9 0h0.8m11.9 0h0.4m8.8 0h0.5m2.6 0h0.5m5.3 0h0.4m1.7 0h0.8m27.0 0h0.8m8.0 0h0.5m4.0 0h0.4M48.1 504.9h0.4m4.1 0h0.6m6.7 0h0.6m15.9 0h0.4m73.7 0h0.8m17.6 0h0.6m3.4 0h0.4M47.6 506.2h0.6m2.8 0h0.8m3.5 0h0.4m0.3 0h0.6m13.3 0h0.6m1.9 0h0.6m16.4 0h0.5m33.1 0h0.6m4.6 0h0.4m20.0 0h0.5m15.8 0h0.6M33.3 507.5h0.4m8.8 0h0.4m0.5 0h0.8m0.3 0h0.4m2.8 0h0.6m2.1 0h0.8m14.9 0h0.6m8.5 0h0.5m7.4 0h0.5m2.9 0h0.5m7.4 0h0.6m4.3 0h0.4m8.8 0h0.6m14.4 0h0.4m10.3 0h0.8m3.3 0h0.5m0.3 0h0.4m13.3 0h0.5m18.8 0h0.8M71.6 508.8h0.5m7.7 0h0.4m21.7 0h0.8m4.5 0h0.5m0.6 0h0.6m12.1 0h0.6m7.5 0h0.4m5.4 0h0.4m22.0 0h0.5m11.4 0h0.6M20.5 510.2h0.8m7.3 0h0.8m14.7 0h0.4m6.0 0h0.6m2.7 0h0.8m23.8 0h0.4m20.2 0h0.5m29.3 0h0.6m31.7 0h0.4m7.2 0h0.5M34.3 511.5h0.5m25.9 0h0.8m32.2 0h0.8m6.2 0h0.8m8.3 0h0.6m4.6 0h0.4m32.3 0h0.5m14.5 0h0.6m1.3 0h0.4m1.1 0h0.8m0.7 0h0.5m3.0 0h0.6m0.3 0h0.6M36.5 512.8h0.4m9.4 0h0.4m34.1 0h0.8m13.5 0h0.8m4.5 0h0.4m10.6 0h0.6m10.8 0h0.4m11.1 0h0.5m25.4 0h0.6m9.9 0h0.6M21.8 514.1h0.8m11.5 0h0.6m45.5 0h0.8m4.1 0h0.8m22.0 0h0.5m17.5 0h0.8m23.9 0h0.4m7.6 0h0.4m1.1 0h0.6m5.1 0h0.4m8.0 0h0.6M27.3 515.4h0.6m28.6 0h0.4m4.1 0h0.8m11.7 0h0.4m13.5 0h0.4m30.4 0h0.5m9.7 0h0.8m3.4 0h0.4m22.3 0h0.5m0.4 0h0.8m0.6 0h0.5M16.5 516.7h0.5m21.4 0h0.5m10.2 0h0.8m3.6 0h0.4m10.3 0h0.6m10.5 0h0.5m1.4 0h0.6m43.8 0h0.8m34.7 0h0.4m14.7 0h0.8m2.2 0h0.6M28.0 518.1h0.5m2.1 0h0.5m11.0 0h0.5m34.0 0h0.8m31.5 0h0.4m13.0 0h0.6m10.7 0h0.4m25.1 0h0.4m1.5 0h0.8m8.6 0h0.8M19.5 519.4h0.6m15.3 0h0.8m1.9 0h0.8m2.4 0h0.8m51.7 0h0.6m6.6 0h0.6m2.1 0h0.5m12.4 0h0.5m0.3 0h0.6m20.6 0h0.8m23.2 0h0.4M47.7 520.7h0.8m4.1 0h0.8m1.6 0h0.6m22.1 0h0.8m1.2 0h0.6m4.7 0h0.4m3.3 0h0.6m10.2 0h0.4m2.4 0h0.6m2.1 0h0.8m6.1 0h0.4m2.6 0h0.6m2.3 0h0.6m19.4 0h0.5m13.6 0h0.6m1.2 0h0.4m6.2 0h0.5m11.7 0h0.4M28.5 522.0h0.6m9.1 0h0.4m21.9 0h0.8m8.6 0h0.5m16.9 0h0.6m9.5 0h0.4m11.3 0h0.6m44.0 0h0.6m8.5 0h0.6m8.0 0h0.8m0.5 0h0.4M21.9 523.3h0.4m11.3 0h0.5m44.0 0h0.5m45.9 0h0.5m5.2 0h0.5m0.4 0h0.4m7.6 0h0.8m12.3 0h0.4m14.8 0h0.6m8.1 0h0.7M30.7 524.6h0.8m19.4 0h0.8m27.6 0h0.6m16.3 0h0.6m15.3 0h0.6m1.7 0h0.4m3.3 0h0.6m6.8 0h0.4m2.2 0h0.6m7.6 0h0.6m4.5 0h0.4m0.4 0h0.5m10.1 0h0.6m8.8 0h0.4M27.1 526.0h0.5m23.1 0h0.5m24.6 0h0.6m16.1 0h0.8m3.7 0h0.5m1.0 0h0.5m8.4 0h0.5m9.2 0h0.8m0.5 0h0.4m8.1 0h0.6m3.4 0h0.5m2.1 0h0.4m11.5 0h0.8m10.2 0h0.4m2.3 0h0.5m6.8 0h0.8M62.8 527.3h0.5m11.1 0h0.6m6.8 0h0.6m23.2 0h0.5m6.5 0h0.5m2.8 0h0.6m3.8 0h0.8m2.8 0h0.8m9.5 0h0.4m8.2 0h0.5m7.2 0h0.8m1.5 0h0.4m4.5 0h0.6M44.1 528.6h0.6m5.3 0h0.8m3.9 0h0.5m12.7 0h0.8m5.2 0h0.4m3.3 0h0.8m8.6 0h0.4m16.5 0h0.6m0.5 0h0.4m0.6 0h0.5m6.0 0h0.4m15.5 0h0.8m6.6 0h0.8m1.2 0h0.6m14.0 0h0.5m3.0 0h0.4M18.9 529.9h0.8m28.7 0h0.4m36.4 0h0.6m2.8 0h0.6m2.0 0h0.6m9.8 0h0.6m17.4 0h0.8m2.2 0h0.5m4.2 0h0.5m3.3 0h0.5m17.0 0h0.8m1.1 0h0.8m10.8 0h0.4M73.4 531.2h0.4m1.1 0h0.8m6.4 0h0.5m4.7 0h0.8m0.6 0h0.5m8.6 0h0.8m4.0 0h0.4m23.6 0h0.5m10.7 0h0.6m2.7 0h0.5m12.3 0h0.4m5.8 0h0.6m6.1 0h0.5M64.1 532.6h0.5m12.0 0h0.4m7.0 0h0.8m3.6 0h0.8m9.9 0h0.5m4.5 0h0.5m25.4 0h0.6m5.4 0h0.4m11.2 0h0.4m1.5 0h0.4m1.8 0h0.8m4.5 0h0.4M27.6 533.9h0.4m4.4 0h0.6m0.5 0h0.4m1.3 0h0.6m7.0 0h0.5m7.0 0h0.8m9.1 0h0.4m1.4 0h0.6m2.8 0h0.6m7.5 0h0.6m3.4 0h0.4m5.9 0h0.8m2.6 0h0.6m2.5 0h0.5m31.6 0h0.6m9.2 0h0.6m15.6 0h0.6m14.3 0h0.5m9.0 0h0.8M17.7 535.2h0.8m0.5 0h0.4m41.9 0h0.8m9.7 0h0.4m7.9 0h0.4m18.0 0h0.6m0.6 0h0.6m17.2 0h0.5m4.3 0h0.4m7.6 0h0.5m13.0 0h0.6m8.7 0h0.8m7.6 0h0.5m10.6 0h0.8M46.2 536.5h0.8m19.6 0h0.5m16.8 0h0.6m21.4 0h0.6m5.3 0h0.5m1.4 0h0.8m5.8 0h0.5m1.3 0h0.8m23.8 0h0.4m9.5 0h0.6m1.9 0h0.4m14.7 0h0.5M85.0 537.8h0.4m6.6 0h0.8m1.7 0h0.6m15.0 0h0.8m11.8 0h0.6m9.1 0h0.6m9.6 0h0.6m22.3 0h0.4m2.2 0h0.4m1.8 0h0.4m5.6 0h0.4M86.7 539.1h0.8m4.5 0h0.8m11.4 0h0.5m6.7 0h0.4m20.2 0h0.5m20.3 0h0.8m6.2 0h0.6M22.6 540.5h0.6m8.3 0h0.5m8.9 0h0.5m29.4 0h0.8m24.3 0h0.6m2.9 0h0.8m6.4 0h0.8m5.5 0h0.4m1.3 0h0.4m2.3 0h0.8m3.6 0h0.6m25.3 0h0.4m8.1 0h0.6M18.8 541.8h0.8m2.1 0h0.8m7.1 0h0.6m6.4 0h0.4m19.9 0h0.4m18.7 0h0.8m2.8 0h0.4m2.4 0h0.5m5.8 0h0.8m10.4 0h0.8m4.7 0h0.8m22.4 0h0.6m2.8 0h0.6m0.3 0h0.6m0.6 0h0.5m2.7 0h0.8m8.8 0h0.4m1.8 0h0.4m0.3 0h0.6m13.8 0h0.5m7.7 0h0.6m1.5 0h0.4M23.6 543.1h0.4m57.9 0h0.4m13.0 0h0.6m8.2 0h0.8m9.5 0h0.6m23.5 0h0.8m17.8 0h0.5m4.8 0h0.8m7.1 0h0.6m0.6 0h0.5M34.8 544.4h0.8m9.2 0h0.6m7.7 0h0.6m10.0 0h0.8m0.6 0h0.5m12.3 0h0.6m6.6 0h0.6m0.3 0h0.6m3.1 0h0.5m43.9 0h0.5m6.0 0h0.5m3.4 0h0.8m0.5 0h0.5m8.4 0h0.8m14.4 0h0.6m0.6 0h0.4M17.9 545.7h0.6m10.2 0h0.5m22.0 0h0.6m36.0 0h0.4m3.3 0h0.6m2.0 0h0.4m7.2 0h0.8m0.4 0h0.8m4.4 0h0.8m17.5 0h0.8m24.0 0h0.6m1.5 0h0.8m6.1 0h0.6m5.7 0h0.6m2.0 0h0.5m3.4 0h0.4m1.2 0h0.5m1.1 0h0.5M38.9 547.0h0.8m7.6 0h0.5m7.6 0h0.8m24.8 0h0.6m17.7 0h0.4m45.9 0h0.8m17.1 0h0.8M25.7 548.4h0.5m38.3 0h0.4m62.4 0h0.4m3.8 0h0.4m13.8 0h0.8m0.3 0h0.4m13.6 0h0.8M41.1 549.7h0.6m1.0 0h0.4m19.3 0h0.8m25.9 0h0.8m16.3 0h0.8m1.4 0h0.4m0.9 0h0.6m16.4 0h0.5m11.2 0h0.6m20.9 0h0.8m1.8 0h0.4m0.6 0h0.8M16.9 551.0h0.4m70.6 0h0.5m8.0 0h0.5m16.5 0h0.4m9.3 0h0.4m5.1 0h0.8m5.1 0h0.6m1.5 0h0.5m1.9 0h0.4m6.0 0h0.5m9.2 0h0.5m10.4 0h0.5m0.6 0h0.5m5.8 0h0.5M32.3 552.3h0.5m17.7 0h0.6m32.2 0h0.5m10.1 0h0.6m8.7 0h0.5m3.9 0h0.4m2.6 0h0.5m6.6 0h0.6m2.4 0h0.4m22.1 0h0.6m3.4 0h0.8m15.6 0h0.8m4.8 0h0.5m2.2 0h0.6M38.2 553.6h0.6m15.6 0h0.5m8.6 0h0.6m22.8 0h0.8m0.6 0h0.5m0.4 0h0.5m7.1 0h0.5m13.5 0h0.8m15.8 0h0.8m4.2 0h0.5m12.7 0h0.5m3.8 0h0.6m4.6 0h0.6m2.7 0h0.5m1.0 0h0.4m6.3 0h0.6M16.5 554.9h0.8m20.4 0h0.8m1.5 0h0.4m60.9 0h0.6m1.4 0h0.5m7.3 0h0.5m8.4 0h0.4m11.9 0h0.4m14.6 0h0.8m10.0 0h0.8M34.9 556.3h0.6m3.5 0h0.4m9.7 0h0.4m26.4 0h0.6m11.1 0h0.5m3.0 0h0.4m1.9 0h0.5m4.6 0h0.6m13.6 0h0.5m4.7 0h0.6m17.6 0h0.5m0.3 0h0.8m26.3 0h0.6m3.6 0h0.8m1.1 0h0.8M79.0 557.6h0.6m9.1 0h0.6m18.7 0h0.8m2.9 0h0.8m33.1 0h0.8M18.2 558.9h0.5m57.0 0h0.4m11.3 0h0.5m6.2 0h0.5m2.5 0h0.6m33.6 0h0.8m3.0 0h0.6m0.4 0h0.8m38.0 0h0.8M62.7 560.2h0.5m17.3 0h0.4m9.3 0h0.4m5.3 0h0.8m12.8 0h0.8m1.8 0h0.8m6.4 0h0.8m4.4 0h0.6m28.3 0h0.6m10.7 0h0.4M21.4 561.5h0.8m12.3 0h0.4m17.0 0h0.6m30.1 0h0.5m1.5 0h0.8m2.2 0h0.8m3.1 0h0.6m2.9 0h0.5m8.1 0h0.6m1.3 0h0.6m1.9 0h0.4m11.6 0h0.4m14.7 0h0.6m11.0 0h0.6m0.9 0h0.6m7.0 0h0.5m9.4 0h0.8m7.5 0h0.6M82.9 562.9h0.4m49.6 0h0.4m6.5 0h0.8m24.2 0h0.8M40.7 564.2h0.8m1.8 0h0.6m15.5 0h0.8m20.4 0h0.4m4.1 0h0.5m7.5 0h0.6m1.8 0h0.6m12.2 0h0.4m3.6 0h0.5m14.2 0h0.8m9.7 0h0.6m2.1 0h0.4m21.3 0h0.6M38.8 565.5h0.4m1.5 0h0.5m14.3 0h0.4m28.1 0h0.6m19.0 0h0.4m12.2 0h0.8m2.1 0h0.5m0.6 0h0.8m1.5 0h0.6m2.5 0h0.4m2.5 0h0.8m8.8 0h0.4m9.0 0h0.6m2.3 0h0.5m4.7 0h0.4m5.0 0h0.6m4.9 0h0.8M50.4 566.8h0.8m22.5 0h0.4m4.1 0h0.8m39.3 0h0.5m19.8 0h0.8m2.1 0h0.5m2.6 0h0.5m7.3 0h0.6M47.5 568.1h0.5m14.7 0h0.5m20.7 0h0.8m6.4 0h0.5m10.2 0h0.4m2.3 0h0.4m19.5 0h0.4m21.5 0h0.6m0.6 0h0.4m17.9 0h0.6m2.0 0h0.5m4.9 0h0.8M22.5 569.4h0.5m4.3 0h0.5m23.7 0h0.5m32.5 0h0.4m1.2 0h0.6m12.8 0h0.8m39.6 0h0.5m4.7 0h0.5m20.9 0h0.8m5.5 0h0.4M29.3 570.8h0.5m26.3 0h0.6m6.9 0h0.8m0.6 0h0.6m11.8 0h0.6m2.1 0h0.8m0.4 0h0.8m1.0 0h0.6m4.7 0h0.6m13.6 0h0.6m12.0 0h0.4m1.9 0h0.8m19.6 0h0.4m0.5 0h0.6m9.2 0h0.5m2.4 0h0.8m2.7 0h0.8m9.3 0h0.4m8.9 0h0.4M27.2 572.1h0.6m28.9 0h0.8m34.4 0h0.6m11.0 0h0.4m1.1 0h0.4m29.9 0h0.8m5.4 0h0.6m1.9 0h0.4m17.1 0h0.6m5.7 0h0.8m6.2 0h0.6M22.8 573.4h0.4m1.9 0h0.8m10.1 0h0.4m8.0 0h0.5m3.2 0h0.6m10.1 0h0.5m14.6 0h0.8m19.6 0h0.8m0.3 0h0.5m0.3 0h0.5m20.9 0h0.8m0.4 0h0.6m2.0 0h0.5m5.0 0h0.4m15.7 0h0.6m10.5 0h0.4m6.3 0h0.4M40.0 574.7h0.4m13.1 0h0.8m19.6 0h0.6m5.6 0h0.5m25.0 0h0.6m2.8 0h0.8m6.1 0h0.4m30.1 0h0.6m8.4 0h0.8m7.3 0h0.8m1.6 0h0.6M18.8 576.0h0.5m6.2 0h0.4m78.9 0h0.5m9.6 0h0.6m9.8 0h0.4m41.9 0h0.5m7.0 0h0.8M29.0 577.3h0.4m45.7 0h0.5m15.7 0h0.5m3.0 0h0.6m2.6 0h0.8m7.3 0h0.8m9.0 0h0.5m16.8 0h0.8m41.4 0h0.6" stroke="#f7a192" stroke-width="1.32" fill="none"/>
<path d="M18.7 381.1h0.5m5.1 0h0.7m5.0 0h1.6m1.3 0h2.2m2.5 0h0.9m0.3 0h0.9m0.4 0h0.5m28.0 0h0.5m20.1 0h0.5m7.2 0h0.5m15.9 0h0.5m19.7 0h0.5M18.4 382.4h2.2m0.3 0h2.2m0.4 0h1.6m8.8 0h1.6m1.2 0h0.9m8.5 0h1.6m2.4 0h0.5m4.9 0h1.2m17.1 0h0.5m39.8 0h0.8m8.0 0h0.5m52.1 0h0.5M17.1 383.7h2.2m1.3 0h1.2m10.9 0h0.7m4.4 0h2.2m3.2 0h0.5m0.3 0h0.9m12.6 0h1.2m40.9 0h0.8m25.9 0h0.8m40.4 0h0.5M18.1 385.0h1.6m0.6 0h0.7m3.7 0h0.7m9.2 0h0.5m25.8 0h2.2m3.5 0h2.2m1.1 0h1.2m1.2 0h1.0m1.6 0h0.6m12.3 0h0.6m33.0 0h0.4m10.8 0h0.4m13.1 0h0.6m10.5 0h0.6m6.9 0h0.4M29.9 386.3h0.5m17.4 0h0.5m3.4 0h0.8m2.1 0h0.8m2.0 0h0.6m2.1 0h0.5m27.3 0h0.8m39.5 0h0.6m5.0 0h0.5m16.8 0h0.8m6.2 0h0.5M17.4 387.6h2.2m0.6 0h0.5m15.0 0h1.6m1.7 0h0.9m15.3 0h1.2m3.6 0h1.6m0.9 0h2.2m27.2 0h0.4m51.8 0h0.8M24.7 389.0h0.5m20.3 0h0.5m10.9 0h0.4m50.2 0h0.6m2.5 0h0.6M22.0 390.3h0.9m5.9 0h0.7m5.7 0h2.2m2.0 0h2.2m14.7 0h0.7m0.4 0h0.5m4.0 0h0.9m3.9 0h0.7m0.5 0h1.6m3.0 0h0.6m22.0 0h0.4m20.1 0h0.5m25.3 0h0.4m23.0 0h0.6m7.4 0h0.5m1.3 0h0.5M23.0 391.6h0.6m24.2 0h0.8m1.3 0h0.4m11.5 0h0.5m54.1 0h0.5m17.6 0h0.5m5.8 0h0.4m29.6 0h0.5M19.0 392.9h2.2m9.1 0h0.7m1.7 0h2.2m0.3 0h0.9m3.5 0h2.2m0.5 0h1.6m2.8 0h1.2m5.9 0h0.7m3.6 0h1.6m8.3 0h1.2m3.0 0h0.5m11.7 0h0.4m7.1 0h0.6m39.8 0h0.5m8.7 0h0.4M24.9 394.2h1.6m4.2 0h0.5m0.4 0h0.9m18.2 0h0.7m17.1 0h0.7m10.1 0h0.8m18.2 0h0.4m63.9 0h0.5M15.9 395.5h1.2m25.9 0h1.2m2.0 0h0.5m9.0 0h0.9m0.7 0h2.2m24.8 0h0.5m21.3 0h0.6m16.7 0h0.8m24.8 0h0.4m5.2 0h0.6m0.9 0h0.5m3.7 0h0.5M18.2 396.9h2.2m10.3 0h1.2m10.2 0h0.5m1.1 0h0.5m7.8 0h1.2m0.7 0h0.7m9.3 0h2.2m0.3 0h2.2m20.6 0h0.6m3.5 0h0.6m0.9 0h0.4m7.9 0h0.6m2.4 0h0.4m5.3 0h0.5m26.8 0h0.6m26.8 0h0.5M22.6 398.2h0.7m3.2 0h1.2m9.9 0h0.9m10.9 0h0.7m5.8 0h0.5m4.3 0h0.5m19.9 0h0.4m18.7 0h0.6m28.5 0h0.8m19.8 0h0.6m1.9 0h0.4M31.0 399.5h1.6m8.9 0h0.5m4.5 0h0.9m13.7 0h1.2m20.4 0h0.6m18.0 0h0.5m73.9 0h0.8M18.8 400.8h1.2m1.6 0h1.6m6.0 0h0.7m8.1 0h1.2m4.1 0h1.2m11.2 0h2.2m1.0 0h0.5m3.2 0h1.6m0.3 0h2.2m24.0 0h0.6m19.6 0h0.8m8.1 0h0.6m0.6 0h0.6m9.7 0h0.8m26.6 0h0.5M16.6 402.1h0.6m3.0 0h0.8m13.9 0h0.5m16.5 0h0.5m2.0 0h0.5m0.6 0h0.4m34.6 0h0.6m4.2 0h0.4m29.3 0h0.8m19.0 0h0.4M24.9 403.5h2.2m1.8 0h1.6m0.4 0h1.2m13.2 0h0.9m5.3 0h1.6m1.4 0h0.5m4.7 0h1.2m1.7 0h0.9m1.1 0h1.6m6.0 0h0.6m20.5 0h0.6m40.0 0h0.5m6.1 0h0.8m8.4 0h0.6m20.0 0h0.6M27.4 404.8h0.7m1.9 0h0.9m3.3 0h0.7m1.0 0h0.9m1.5 0h1.6m0.3 0h1.6m17.9 0h0.5m5.2 0h0.9m1.1 0h0.5m3.7 0h0.9m4.8 0h0.5m26.0 0h0.4m1.3 0h0.5m3.9 0h0.8m7.4 0h0.5m11.4 0h0.4m9.6 0h0.8M16.2 406.1h1.2m3.7 0h1.2m3.4 0h2.2m13.6 0h0.7m15.0 0h1.2m4.3 0h0.7M17.5 407.4h0.7m3.6 0h1.2m0.5 0h2.2m0.3 0h0.9m24.2 0h1.6m4.3 0h2.2m0.3 0h1.6m1.7 0h1.2m1.3 0h0.5m0.4 0h1.6m1.8 0h0.7m53.8 0h0.5m5.7 0h0.8m6.7 0h0.4m9.1 0h0.5M16.7 408.7h1.6m2.2 0h1.6m1.4 0h1.2m2.8 0h0.7m6.7 0h1.2m4.8 0h2.2m3.5 0h0.9m1.9 0h0.9m4.4 0h1.2m3.3 0h0.7m27.6 0h0.6m5.2 0h0.8m44.2 0h0.6m22.3 0h0.6M23.9 410.0h1.6m10.2 0h1.2m6.8 0h0.9m8.7 0h2.2m9.5 0h1.6m21.0 0h0.8m15.3 0h0.4m21.9 0h0.4m29.1 0h0.4m5.8 0h0.6m12.0 0h0.5M19.7 411.4h0.9m27.8 0h1.2m4.2 0h1.6m0.6 0h1.2m2.0 0h1.2m0.6 0h0.7m55.6 0h0.8m41.4 0h0.6m10.6 0h0.6m4.8 0h0.4M19.3 412.7h1.2m2.2 0h1.2m7.7 0h1.2m2.9 0h0.7m2.1 0h1.2m1.2 0h0.9m4.9 0h2.2m28.0 0h0.6m16.1 0h0.8M17.8 414.0h1.2m11.0 0h0.9m6.6 0h0.7m6.4 0h0.7m4.5 0h0.7m0.7 0h2.2m14.0 0h0.5m29.2 0h0.5m11.6 0h0.6m23.1 0h0.8m10.0 0h0.5m16.0 0h0.4M24.8 415.3h0.9m18.4 0h2.2m4.6 0h1.6m7.0 0h2.2m9.0 0h1.2m6.4 0h0.5m91.0 0h0.6M20.5 416.6h1.2m11.1 0h0.5m3.2 0h1.2m5.6 0h0.5m14.6 0h2.2m10.1 0h2.2m55.2 0h0.5m32.0 0h0.4m5.7 0h0.4m1.7 0h0.6M17.1 417.9h1.2m7.4 0h0.5m0.7 0h1.6m16.0 0h1.2m13.5 0h2.2m10.9 0h0.8m19.9 0h0.4m41.4 0h0.4m9.2 0h0.8M17.8 419.3h0.5m0.5 0h1.2m0.6 0h1.6m3.4 0h1.6m0.9 0h0.9m7.4 0h1.6m8.4 0h0.5m12.8 0h2.2m5.7 0h0.5m6.9 0h0.8m3.9 0h0.4m1.3 0h0.8m40.3 0h0.5M28.8 420.6h0.5m12.3 0h0.5m3.9 0h0.7m9.9 0h1.6m26.6 0h0.8m5.7 0h0.8m28.5 0h0.5m7.1 0h0.8m9.2 0h0.5m25.6 0h0.5M20.2 421.9h1.6m5.4 0h0.5m7.3 0h0.5m4.5 0h0.9m1.9 0h2.2m6.0 0h0.5m110.6 0h0.5m7.4 0h0.8M42.0 423.2h0.5m1.8 0h2.2m6.7 0h0.5m24.3 0h0.8m16.0 0h0.4m30.2 0h0.6m13.7 0h0.6M39.0 424.5h0.9m5.1 0h0.5m0.4 0h0.7m6.8 0h2.2m29.3 0h0.4m1.8 0h0.4m74.1 0h0.8m7.9 0h0.8M26.8 425.8h1.2m0.4 0h0.7m0.6 0h0.9m11.7 0h0.7m26.8 0h2.2m3.7 0h0.8m0.4 0h0.8m22.0 0h0.6m24.7 0h0.6m7.5 0h0.6M19.5 427.2h0.9m1.0 0h1.2m8.9 0h2.2m24.3 0h0.5m9.4 0h0.5m3.2 0h1.4m11.8 0h0.4m17.1 0h0.8m5.2 0h0.6m65.5 0h0.8M15.8 428.5h0.9m23.5 0h0.9m3.7 0h0.7m8.0 0h1.2m3.2 0h0.9m2.9 0h0.5m6.6 0h1.2m5.2 0h0.4m24.8 0h0.8m9.3 0h0.4M20.1 429.8h2.2m2.9 0h1.2m3.7 0h0.9m4.3 0h2.2m0.3 0h0.9m18.3 0h1.6m8.3 0h0.5m50.4 0h0.5m17.8 0h0.4m15.0 0h0.6M41.5 431.1h0.5m4.3 0h1.6m2.9 0h0.9m16.1 0h1.2m2.1 0h0.7m29.1 0h0.4m13.3 0h0.5m8.6 0h0.5m33.1 0h0.4m13.4 0h0.6M19.1 432.4h1.6m3.0 0h0.7m7.3 0h1.2m2.6 0h0.7m2.5 0h0.9m4.5 0h1.6m1.1 0h0.7m5.5 0h0.5m21.5 0h0.8m38.6 0h0.8m26.8 0h0.6m0.4 0h0.8M17.0 433.8h0.9m0.3 0h0.5m7.0 0h0.9m0.3 0h0.5m5.5 0h1.2m63.9 0h0.8m65.1 0h0.8M19.4 435.1h0.5m0.7 0h0.5m1.9 0h0.9m2.9 0h1.6m15.8 0h1.6m16.2 0h0.9m3.7 0h1.2m11.5 0h0.8m18.5 0h0.5m68.4 0h0.8M17.1 436.4h2.2m20.4 0h1.6m16.8 0h0.7m11.0 0h2.2m28.6 0h0.8m5.0 0h0.6m14.8 0h0.8m31.9 0h0.6M19.8 437.7h0.6m3.0 0h0.8m4.4 0h0.8m67.5 0h0.5m4.6 0h0.4m38.7 0h0.6m5.3 0h0.5m6.2 0h0.6m2.2 0h0.8m3.3 0h0.5M17.3 439.0h0.5m11.9 0h0.5m8.9 0h1.6m16.9 0h0.9m1.0 0h1.6m25.1 0h0.8m4.4 0h0.5m36.6 0h0.5m3.7 0h0.6m42.8 0h0.3M48.8 440.3h1.6m0.5 0h1.2m3.7 0h1.2m2.6 0h0.9m26.1 0h0.4m59.9 0h0.6m21.9 0h0.4M16.7 441.7h0.5m2.5 0h0.9m11.0 0h1.2m6.7 0h0.9m6.2 0h0.5m0.6 0h0.5m3.7 0h1.6m0.9 0h0.9m1.4 0h0.5m3.3 0h1.2m6.7 0h0.5M16.0 443.0h1.6m3.5 0h0.9m4.5 0h1.6m12.0 0h0.5m4.1 0h0.9m0.5 0h1.6m6.3 0h1.2m0.6 0h0.7m3.0 0h1.6m36.9 0h0.4m20.4 0h0.5m3.3 0h0.4m15.7 0h0.4m5.0 0h0.5M23.0 444.3h0.9m3.1 0h0.7m11.4 0h1.2m6.7 0h0.9m4.7 0h0.9m6.4 0h1.6m1.1 0h0.7m3.6 0h1.6m30.3 0h0.4m15.4 0h0.4m15.2 0h0.8m26.5 0h0.4m0.7 0h0.8M25.8 445.6h0.4m2.4 0h0.4m3.6 0h0.4m2.7 0h0.8m0.6 0h0.5m4.0 0h0.6m55.1 0h0.4m26.3 0h0.5m22.5 0h0.6M21.5 446.9h2.2m58.6 0h0.8m3.8 0h0.6m21.1 0h0.4m13.1 0h0.4m14.9 0h0.8M39.0 448.2h0.5m19.3 0h1.6m5.4 0h0.9m3.3 0h0.9m19.8 0h0.5m77.9 0h0.8M21.9 449.6h0.5m8.8 0h0.6m2.0 0h0.5m4.2 0h0.6m0.5 0h0.5m6.9 0h0.8m4.5 0h0.4m4.1 0h0.8m3.9 0h0.5m31.6 0h0.8m7.6 0h0.8m8.0 0h0.5m9.4 0h0.6m34.7 0h0.4m8.4 0h0.4m10.6 0h0.6M40.9 450.9h1.2m4.5 0h1.6m7.0 0h2.2m16.9 0h0.5m2.0 0h0.5m0.3 0h0.5m20.6 0h0.6m17.3 0h0.6M25.4 452.2h0.5m10.0 0h0.8m6.5 0h0.8m20.5 0h0.6m20.7 0h0.5m17.1 0h0.4M24.2 453.5h0.5m1.2 0h1.6m5.1 0h2.2m12.4 0h0.7m29.1 0h0.8m1.2 0h0.4m20.8 0h0.6m14.4 0h0.5m11.8 0h0.6m19.5 0h0.6m25.7 0h0.4M16.5 454.8h0.5m7.6 0h2.2m0.6 0h0.7m5.1 0h0.5m3.7 0h1.2m4.8 0h0.9m10.4 0h0.7m0.5 0h0.9m6.7 0h0.7m1.4 0h0.5m0.6 0h1.2m0.5 0h0.7m10.1 0h0.5m15.4 0h0.5m13.3 0h0.5m47.5 0h0.8M17.8 456.1h1.2m0.5 0h2.2m17.1 0h1.6m6.9 0h1.2m7.9 0h0.9m11.6 0h0.5m0.6 0h1.6m10.1 0h0.6m50.8 0h0.6m5.9 0h0.4m10.8 0h0.4m5.8 0h0.8M21.5 457.5h0.4m4.4 0h0.5m1.9 0h0.5m9.9 0h0.4m4.6 0h0.5m3.3 0h0.6m4.6 0h0.4m0.3 0h0.4m8.4 0h0.5m5.0 0h0.5m36.2 0h0.6m15.7 0h0.4M24.6 458.8h0.5m10.3 0h0.5m10.6 0h2.2m9.4 0h0.9m11.3 0h2.2m56.4 0h0.8m34.5 0h0.8M24.3 460.1h0.6m0.6 0h0.4m40.2 0h0.6m16.4 0h0.4m34.8 0h0.6m6.9 0h0.5m12.4 0h0.8M22.2 461.4h0.7m21.4 0h0.5m25.7 0h2.2m6.2 0h0.6m0.4 0h0.6m22.6 0h0.8m40.3 0h0.4m2.7 0h0.4m11.9 0h0.5M62.9 462.7h0.8m5.8 0h0.6m2.6 0h0.4m4.8 0h0.5m43.5 0h0.5m8.6 0h0.8m38.3 0h0.5M24.9 464.1h0.5m13.0 0h0.5m5.6 0h0.8m38.9 0h0.6m6.9 0h0.6m24.3 0h0.8m51.2 0h0.8M36.7 465.4h0.6m1.8 0h0.8m8.9 0h0.8m38.3 0h0.8m29.5 0h0.8m1.2 0h0.5M21.2 466.7h0.5m5.5 0h0.5m8.8 0h0.6m21.2 0h0.4m1.3 0h0.8m20.0 0h0.8m26.9 0h0.5m31.4 0h0.5m1.1 0h0.4m12.7 0h0.4m9.9 0h0.6M31.7 468.0h1.2m7.8 0h0.5m79.7 0h0.8m1.3 0h0.8m2.6 0h0.5m44.1 0h0.4M27.7 469.3h0.7m15.5 0h1.2m7.1 0h0.5m2.8 0h0.7m6.5 0h1.6m20.7 0h0.8m5.6 0h0.6m13.1 0h0.4m20.9 0h0.8m3.3 0h0.5m5.7 0h0.5M17.2 470.6h0.6m3.4 0h0.4m12.2 0h0.4m24.3 0h0.5m3.0 0h0.5m18.3 0h0.4m26.6 0h0.6m59.4 0h0.6M26.3 472.0h0.8m10.8 0h0.8m3.7 0h0.8m89.4 0h0.5m39.8 0h0.5M23.4 473.3h1.6m0.3 0h2.2m0.3 0h0.5m1.2 0h0.9m1.8 0h1.6m26.3 0h1.6m6.5 0h1.6m43.1 0h0.4M31.8 474.6h0.5m1.1 0h0.4m1.0 0h0.6m14.2 0h0.6m7.8 0h0.8m25.6 0h0.5m75.2 0h0.5M18.5 475.9h1.6m2.3 0h1.6m1.2 0h2.2m23.0 0h1.2m1.1 0h2.2m9.9 0h0.9m25.4 0h0.8m26.0 0h0.5m22.5 0h0.4M18.3 477.2h1.2m4.9 0h0.5m2.0 0h0.9m18.4 0h0.5m0.6 0h0.9m8.9 0h1.2m0.4 0h0.5m0.5 0h1.2m1.9 0h0.7m1.5 0h2.2m0.3 0h2.2m6.7 0h0.4m41.7 0h0.6m17.2 0h0.4m13.8 0h0.5m4.0 0h0.6m17.7 0h0.6M79.8 478.5h0.4m6.9 0h0.6m7.3 0h0.6m10.1 0h0.8m1.9 0h0.6m1.5 0h0.8m0.4 0h0.8m4.3 0h0.8m3.2 0h0.6m4.6 0h0.8m3.5 0h0.4m2.9 0h0.4m5.8 0h0.4m13.1 0h0.8m0.6 0h0.6m7.1 0h0.4m7.5 0h0.8m1.7 0h0.8M51.6 479.9h0.4m29.6 0h0.5m11.9 0h0.6m12.6 0h0.6m3.8 0h0.6m4.1 0h0.8m6.9 0h0.8m4.4 0h0.5m14.3 0h0.5m4.3 0h0.8m1.1 0h0.5m1.6 0h0.6m0.9 0h0.6m12.2 0h0.4m1.2 0h0.8m4.9 0h0.8M28.1 481.2h0.4m40.2 0h0.4m7.8 0h0.4m14.5 0h0.8m1.6 0h0.4m4.4 0h0.8m0.3 0h0.6m4.5 0h0.4m3.7 0h0.5m0.8 0h0.4m3.0 0h0.6m0.4 0h0.5m1.3 0h0.5m7.5 0h0.5m8.0 0h0.5m0.7 0h0.4m21.6 0h0.6m12.3 0h0.4m2.0 0h0.5M24.6 482.5h0.4m13.2 0h0.6m27.0 0h0.4m35.4 0h0.6m0.3 0h0.8m1.3 0h0.4m2.0 0h0.4m4.3 0h0.5m0.6 0h0.5m1.0 0h0.5m8.0 0h0.5m14.7 0h0.4m1.2 0h0.8m3.9 0h0.4m6.1 0h0.5m10.6 0h0.5m8.6 0h0.6M32.4 483.8h0.8m12.6 0h0.4m35.0 0h0.5m4.5 0h0.8m4.6 0h0.5m11.4 0h0.5m0.6 0h0.8m22.8 0h0.5m0.6 0h0.4m1.2 0h0.5m1.5 0h0.8m0.6 0h0.6m3.3 0h0.4m4.3 0h0.6m0.7 0h0.4m5.3 0h0.6m17.7 0h0.8m3.6 0h0.8M74.9 485.1h0.4m2.7 0h0.6m0.7 0h0.4m12.9 0h0.4m7.6 0h0.6m13.0 0h0.6m1.9 0h0.5m4.1 0h0.4m1.2 0h0.5m1.2 0h0.8m5.2 0h0.6m4.1 0h0.4m6.7 0h0.4m7.0 0h0.8m13.9 0h0.8m0.5 0h0.6M23.0 486.4h0.8m14.5 0h0.5m4.4 0h0.6m20.7 0h0.5m3.4 0h0.8m4.1 0h0.6m7.4 0h0.5m14.9 0h0.8m20.1 0h0.5m22.6 0h0.5m13.1 0h0.4m3.0 0h0.5m9.2 0h0.8m1.5 0h0.6M64.3 487.8h0.4m8.6 0h0.6m5.5 0h0.5m1.5 0h0.8m14.3 0h0.8m0.4 0h0.8m5.8 0h0.6m0.7 0h0.8m1.5 0h0.8m8.5 0h0.8m7.4 0h0.5m2.6 0h0.5m5.0 0h0.8m9.4 0h0.8m1.2 0h0.6m12.3 0h0.4m14.6 0h0.8M23.1 489.1h0.6m57.4 0h0.4m3.8 0h0.6m2.4 0h0.8m15.0 0h0.4m15.0 0h0.4m10.8 0h0.6m2.0 0h0.8m2.3 0h0.4m0.4 0h0.4m8.6 0h0.6m0.3 0h0.8m2.9 0h0.5m2.0 0h0.5M43.5 490.4h0.5m37.0 0h0.5m18.1 0h0.8m16.6 0h0.8m4.6 0h0.8m5.5 0h0.8m10.1 0h0.4m1.3 0h0.6m1.7 0h0.4m3.3 0h0.6m4.9 0h0.5m3.8 0h0.4m2.5 0h0.4m2.1 0h0.8M53.3 491.7h0.6m44.1 0h0.8m7.9 0h0.6m11.1 0h0.8m19.8 0h0.4m12.8 0h0.4m2.0 0h0.8m7.9 0h0.6m3.9 0h0.4M74.7 493.0h0.8m1.0 0h0.4m1.1 0h0.4m2.1 0h0.4m5.5 0h0.4m8.2 0h0.6m0.4 0h0.8m4.9 0h0.4m2.9 0h0.5m2.1 0h0.6m4.1 0h0.8m14.3 0h0.6m0.3 0h0.4m6.0 0h0.6m1.4 0h0.8m1.7 0h0.6m0.7 0h0.5m1.7 0h0.4m2.1 0h0.5m2.2 0h0.4m3.1 0h0.4m9.4 0h0.6m1.7 0h0.4m10.0 0h0.5m0.4 0h0.4M76.3 494.3h0.5m3.9 0h0.8m4.5 0h0.6m2.9 0h0.5m4.0 0h0.6m2.6 0h0.8m1.3 0h0.4m7.0 0h0.4m14.7 0h0.4m25.1 0h0.8m2.0 0h0.4m0.6 0h0.8m1.7 0h0.4m20.9 0h0.5M28.8 495.7h0.4m56.5 0h0.5m14.1 0h0.5m4.4 0h0.5m5.6 0h0.4m0.6 0h0.6m7.2 0h0.4m1.2 0h0.8m8.2 0h0.4m1.1 0h0.8m5.9 0h0.6m24.7 0h0.4m6.1 0h0.5m0.4 0h0.8m2.8 0h0.4m0.6 0h0.4M20.3 497.0h0.4m79.7 0h0.6m9.7 0h0.5m7.4 0h0.5m4.7 0h0.4m3.0 0h0.8m0.6 0h0.4m7.7 0h0.6m4.9 0h0.8m5.4 0h0.6m3.8 0h0.4m3.5 0h0.6m0.7 0h0.8M24.4 498.3h0.5m3.6 0h0.8m3.0 0h0.5m34.1 0h0.6m10.8 0h0.8m8.8 0h0.5m0.3 0h0.8m7.2 0h0.5m4.7 0h0.8m1.8 0h0.5m15.8 0h0.6m6.6 0h0.6m4.4 0h0.4m7.3 0h0.4m4.4 0h0.5m0.4 0h0.5m7.8 0h0.5m6.1 0h0.5M42.6 499.6h0.4m1.1 0h0.4m35.9 0h0.4m18.6 0h0.5m4.8 0h0.5m9.4 0h0.6m4.1 0h0.6m7.1 0h0.5m9.2 0h0.6m15.1 0h0.8M21.8 500.9h0.4m8.4 0h0.4m12.3 0h0.4m10.0 0h0.5m7.4 0h0.4m5.5 0h0.8m2.1 0h0.6m1.3 0h0.5m19.1 0h0.4m17.3 0h0.6m12.0 0h0.4m3.9 0h0.6m0.6 0h0.8m0.3 0h0.5m6.0 0h0.5m6.6 0h0.4m3.9 0h0.8m1.3 0h0.6m10.5 0h0.8m3.8 0h0.4M18.9 502.3h0.5m24.3 0h0.6m2.0 0h0.8m18.6 0h0.8m15.3 0h0.4m7.7 0h0.8m14.0 0h0.8m0.4 0h0.6m8.5 0h0.4m5.7 0h0.8m13.0 0h0.8m0.5 0h0.6m1.6 0h0.4m2.8 0h0.8m7.2 0h0.8m11.4 0h0.6m10.2 0h0.6M33.2 503.6h0.8m0.6 0h0.6m4.4 0h0.4m4.0 0h0.4m15.1 0h0.4m4.9 0h0.6m2.8 0h0.4m41.6 0h0.4m1.9 0h0.6m28.4 0h0.6m12.0 0h0.8m9.8 0h0.4m1.5 0h0.4m1.3 0h0.4M23.9 504.9h0.6m6.3 0h0.8m1.1 0h0.4m11.1 0h0.6m28.6 0h0.4m10.9 0h0.8m1.1 0h0.6m18.5 0h0.6m1.0 0h0.4m11.7 0h0.6m2.3 0h0.6m3.6 0h0.8m1.1 0h0.8m0.5 0h0.5m7.1 0h0.5m0.9 0h0.6m1.2 0h0.5m5.3 0h0.8m22.8 0h0.4M23.4 506.2h0.6m0.4 0h0.4m15.5 0h0.6m36.5 0h0.6m3.8 0h0.8m2.4 0h0.4m6.9 0h0.6m10.2 0h0.4m5.6 0h0.4m5.9 0h0.6m2.6 0h0.8m2.3 0h0.8m3.2 0h0.8m20.4 0h0.4m7.0 0h0.4m0.7 0h0.5m7.5 0h0.8M29.6 507.5h0.6m1.7 0h0.8m20.5 0h0.5m13.5 0h0.8m5.7 0h0.4m5.6 0h0.8m6.9 0h0.8m0.4 0h0.4m0.6 0h0.4m0.6 0h0.4m0.6 0h0.5m3.6 0h0.6m0.6 0h0.5m4.5 0h0.5m1.6 0h0.5m0.3 0h0.5m10.9 0h0.4m4.9 0h0.5m4.0 0h0.5m14.3 0h0.5m10.5 0h0.6m5.7 0h0.4m2.9 0h0.5m4.2 0h0.6m8.3 0h0.8M38.5 508.8h0.5m24.8 0h0.4m21.2 0h0.6m1.2 0h0.4m2.4 0h0.8m1.6 0h0.6m2.6 0h0.5m13.4 0h0.4m7.8 0h0.6m1.8 0h0.6m1.3 0h0.5m3.8 0h0.8m14.7 0h0.5m2.9 0h0.8m0.9 0h0.5m6.4 0h0.6m16.3 0h0.5m2.3 0h0.8M26.7 510.2h0.8m4.6 0h0.6m33.6 0h0.8m1.8 0h0.5m0.5 0h0.8m16.3 0h0.6m17.6 0h0.4m7.2 0h0.5m3.6 0h0.5m7.9 0h0.6m1.0 0h0.6m17.7 0h0.6m5.9 0h0.4m17.7 0h0.6m3.1 0h0.6M40.9 511.5h0.8m8.2 0h0.5m4.1 0h0.8m2.7 0h0.5m15.7 0h0.5m6.9 0h0.8m4.7 0h0.5m10.3 0h0.6m15.1 0h0.8m3.6 0h0.8m14.6 0h0.8m3.4 0h0.8m1.1 0h0.5m6.4 0h0.8m1.5 0h0.6m10.2 0h0.6m10.0 0h0.4M32.3 512.8h0.4m9.4 0h0.5m17.3 0h0.8m15.7 0h0.8m4.7 0h0.5m14.0 0h0.4m6.0 0h0.6m0.6 0h0.5m9.6 0h0.5m4.1 0h0.6m1.1 0h0.4m2.4 0h0.8m7.3 0h0.5m10.5 0h0.6m0.3 0h0.6m2.3 0h0.8m8.8 0h0.6M25.4 514.1h0.6m47.9 0h0.4m8.0 0h0.5m0.4 0h0.8m4.8 0h0.4m0.4 0h0.4m4.4 0h0.8m22.7 0h0.6m19.5 0h0.8m5.7 0h0.8m6.9 0h0.6m20.4 0h0.5M18.0 515.4h0.6m49.4 0h0.5m11.1 0h0.5m21.7 0h0.8m9.6 0h0.8m10.9 0h0.8m6.1 0h0.6m2.0 0h0.4m17.9 0h0.8m8.9 0h0.6m9.6 0h0.4M95.6 516.7h0.6m1.3 0h0.4m2.6 0h0.8m6.8 0h0.4m3.0 0h0.6m25.4 0h0.8m1.4 0h0.5m2.2 0h0.5m4.8 0h0.6m3.5 0h0.6m2.3 0h0.6M16.3 518.1h0.4m2.9 0h0.6m13.3 0h0.6m15.0 0h0.4m0.6 0h0.6m11.3 0h0.5m20.3 0h0.4m1.0 0h0.6m1.4 0h0.6m0.3 0h0.4m29.7 0h0.8m0.3 0h0.5m2.6 0h0.8m4.9 0h0.6m15.9 0h0.6m2.8 0h0.8m9.5 0h0.8m2.0 0h0.5m9.3 0h0.5m3.2 0h0.4M17.3 519.4h0.4m2.9 0h0.6m35.6 0h0.6m11.1 0h0.8m7.2 0h0.6m12.0 0h0.4m8.6 0h0.8m9.9 0h0.4m9.5 0h0.5m7.4 0h0.5m10.4 0h0.6m4.0 0h0.8m5.0 0h0.5m1.2 0h0.6M24.7 520.7h0.4m17.3 0h0.8m2.2 0h0.6m27.6 0h0.8m12.1 0h0.4m6.2 0h0.8m1.4 0h0.8m0.6 0h0.6m9.8 0h0.6m37.5 0h0.5m1.8 0h0.6m0.3 0h0.4m2.2 0h0.5m6.1 0h0.6M21.7 522.0h0.8m17.9 0h0.8m12.8 0h0.6m20.7 0h0.6m4.2 0h0.8m3.0 0h0.4m9.4 0h0.4m9.5 0h0.6m4.1 0h0.6m10.4 0h0.8m15.7 0h0.5m4.3 0h0.5m3.4 0h0.8m2.0 0h0.8m1.2 0h0.5m8.1 0h0.5m1.6 0h0.4m0.3 0h0.5m2.9 0h0.6m0.5 0h0.4m8.1 0h0.8M35.3 523.3h0.5m4.3 0h0.5m17.6 0h0.6m20.9 0h0.4m2.5 0h0.5m1.4 0h0.6m10.9 0h0.8m13.6 0h0.6m8.0 0h0.6m12.9 0h0.8m1.5 0h0.5m2.1 0h0.5m9.7 0h0.4m9.3 0h0.5m11.4 0h0.5M27.0 524.6h0.4m6.7 0h0.8m8.1 0h0.8m0.4 0h0.4m18.0 0h0.6m5.1 0h0.4m3.6 0h0.6m7.8 0h0.4m2.4 0h0.4m2.9 0h0.6m21.7 0h0.8m5.1 0h0.8m5.4 0h0.4m8.1 0h0.4m5.2 0h0.5m4.6 0h0.4m15.4 0h0.6m2.8 0h0.4m11.8 0h0.8m1.2 0h0.4M37.4 526.0h0.6m1.0 0h0.5m17.5 0h0.5m6.6 0h0.6m9.0 0h0.4m4.4 0h0.5m1.7 0h0.8m13.9 0h0.4m0.4 0h0.4m2.8 0h0.4m3.8 0h0.6m5.9 0h0.4m14.0 0h0.5m0.3 0h0.4m4.3 0h0.5m4.5 0h0.8m0.3 0h0.5m5.2 0h0.4m4.6 0h0.5m1.8 0h0.6m1.1 0h0.5m1.9 0h0.6m6.6 0h0.4m7.1 0h0.4m1.6 0h0.4m3.1 0h0.6M34.0 527.3h0.8m8.3 0h0.8m28.7 0h0.4m28.9 0h0.5m5.1 0h0.5m3.5 0h0.5m3.1 0h0.4m2.6 0h0.8m0.7 0h0.4m1.5 0h0.5m23.4 0h0.8m1.8 0h0.6m10.2 0h0.5m8.0 0h0.6M41.4 528.6h0.6m32.5 0h0.4m8.2 0h0.6m0.3 0h0.5m9.6 0h0.5m7.2 0h0.6m10.9 0h0.8m0.3 0h0.4m1.2 0h0.5m10.2 0h0.5m6.3 0h0.4m0.7 0h0.6m1.8 0h0.5m6.9 0h0.6m17.5 0h0.6m3.9 0h0.8m7.7 0h0.6M26.6 529.9h0.4m42.5 0h0.4m5.0 0h0.4m8.7 0h0.5m2.5 0h0.4m2.7 0h0.6m5.2 0h0.8m3.2 0h0.6m6.3 0h0.5m3.3 0h0.4m1.8 0h0.5m24.7 0h0.6m4.4 0h0.4m15.3 0h0.8m9.6 0h0.4m5.9 0h0.8M22.0 531.2h0.4m20.5 0h0.8m4.2 0h0.5m23.3 0h0.6m5.4 0h0.8m1.8 0h0.8m2.1 0h0.6m5.8 0h0.5m0.5 0h0.8m1.4 0h0.5m30.7 0h0.8m5.1 0h0.4m20.5 0h0.4m4.7 0h0.8m0.4 0h0.4m3.9 0h0.6m7.8 0h0.6m2.4 0h0.4m2.5 0h0.4M19.8 532.6h0.4m16.8 0h0.5m12.8 0h0.8m11.4 0h0.4m6.9 0h0.5m12.0 0h0.5m26.0 0h0.6m9.4 0h0.8m5.7 0h0.6m9.1 0h0.6m1.8 0h0.8m2.2 0h0.5m3.0 0h0.5m8.7 0h0.8m6.5 0h0.5m2.4 0h0.8m1.2 0h0.5M52.1 533.9h0.8m17.6 0h0.4m4.8 0h0.5m16.1 0h0.4m17.8 0h0.6m1.0 0h0.5m5.4 0h0.6m4.6 0h0.4m12.4 0h0.6m1.8 0h0.5m6.8 0h0.8m21.9 0h0.5m1.2 0h0.6m3.9 0h0.6M23.5 535.2h0.4m6.6 0h0.8m12.2 0h0.5m2.1 0h0.6m2.5 0h0.6m12.8 0h0.6m7.7 0h0.5m1.8 0h0.8m11.6 0h0.4m3.9 0h0.4m11.3 0h0.4m8.3 0h0.6m0.5 0h0.5m12.8 0h0.8m15.5 0h0.6m7.5 0h0.6m4.7 0h0.5m2.1 0h0.5m1.9 0h0.4m3.1 0h0.4m11.9 0h0.6M29.3 536.5h0.5m28.7 0h0.5m17.3 0h0.4m0.5 0h0.8m26.3 0h0.4m8.3 0h0.4m29.1 0h0.5m6.0 0h0.6m4.4 0h0.4m3.3 0h0.4M52.6 537.8h0.6m20.2 0h0.4m8.0 0h0.4m6.4 0h0.8m11.1 0h0.4m4.4 0h0.8m1.9 0h0.5m4.4 0h0.8m10.3 0h0.8m22.8 0h0.5m3.1 0h0.6m1.5 0h0.8m0.4 0h0.6m2.7 0h0.6m1.4 0h0.8m11.1 0h0.5M36.4 539.1h0.6m1.1 0h0.4m27.9 0h0.4m1.9 0h0.5m4.3 0h0.6m2.2 0h0.5m20.8 0h0.5m17.4 0h0.8m0.4 0h0.4m12.1 0h0.6m20.4 0h0.6m10.2 0h0.4m7.4 0h0.4m0.8 0h0.4m0.4 0h0.8m0.4 0h0.6M19.0 540.5h0.6m10.2 0h0.5m17.3 0h0.5m34.8 0h0.6m5.0 0h0.8m2.2 0h0.5m1.8 0h0.6m9.5 0h0.8m5.0 0h0.4m18.2 0h0.5m2.1 0h0.5m11.1 0h0.4m0.5 0h0.5m2.9 0h0.4m2.0 0h0.4m13.4 0h0.5m4.0 0h0.8m7.1 0h0.4M33.6 541.8h0.8m15.3 0h0.5m25.0 0h0.5m5.7 0h0.5m3.2 0h0.8m15.2 0h0.5m11.5 0h0.4m12.3 0h0.5m1.5 0h0.4m7.3 0h0.4m3.0 0h0.4m1.5 0h0.5m14.6 0h0.4m9.6 0h0.8m1.6 0h0.6m4.7 0h0.6m2.0 0h0.6M30.9 543.1h0.5m15.2 0h0.8m11.0 0h0.8m13.0 0h0.4m4.4 0h0.5m0.7 0h0.8m12.5 0h0.6m15.2 0h0.6m1.3 0h0.4m4.0 0h0.6m2.0 0h0.5m0.5 0h0.4m1.9 0h0.6m14.7 0h0.6m2.0 0h0.8m23.0 0h0.8m4.4 0h0.8m0.3 0h0.8m1.1 0h0.5M24.5 544.4h0.5m16.5 0h0.5m15.1 0h0.5m0.3 0h0.6m16.2 0h0.8m16.2 0h0.8m6.5 0h0.4m18.6 0h0.6m32.4 0h0.8m5.1 0h0.5m2.2 0h0.6M30.8 545.7h0.4m8.2 0h0.6m13.0 0h0.5m18.8 0h0.4m3.4 0h0.6m13.6 0h0.4m6.1 0h0.4m28.2 0h0.5m4.7 0h0.5m7.2 0h0.6m2.8 0h0.5m4.6 0h0.8M43.9 547.0h0.6m44.7 0h0.4m29.5 0h0.5m4.3 0h0.8m4.7 0h0.5m6.8 0h0.8m2.2 0h0.6m1.9 0h0.6m7.5 0h0.4m1.2 0h0.4M41.6 548.4h0.4m26.5 0h0.5m0.9 0h0.8m7.7 0h0.6m2.0 0h0.5m14.6 0h0.6m0.7 0h0.8m2.9 0h0.4m0.3 0h0.6m4.2 0h0.6m15.2 0h0.8m7.3 0h0.6m2.0 0h0.5m2.8 0h0.5m1.0 0h0.4m19.7 0h0.6m3.6 0h0.5M37.8 549.7h0.6m5.7 0h0.4m31.2 0h0.6m0.9 0h0.6m17.9 0h0.6m1.2 0h0.6m9.2 0h0.5m8.8 0h0.5m1.2 0h0.5m8.9 0h0.6m1.1 0h0.5m2.8 0h0.8m5.8 0h0.6m6.4 0h0.6m9.7 0h0.5m16.9 0h0.8M33.6 551.0h0.6m2.7 0h0.6m29.2 0h0.5m12.7 0h0.8m1.1 0h0.4m8.3 0h0.5m8.4 0h0.5m4.5 0h0.4m5.5 0h0.4m6.8 0h0.4m7.3 0h0.4m25.6 0h0.6m12.9 0h0.8M17.8 552.3h0.5m1.2 0h0.8m19.1 0h0.6m23.2 0h0.4m0.4 0h0.8m2.5 0h0.8m16.1 0h0.4m19.5 0h0.4m14.1 0h0.8m5.3 0h0.4m9.6 0h0.8m0.6 0h0.5m29.0 0h0.6m2.1 0h0.5M22.6 553.6h0.6m1.2 0h0.8m1.9 0h0.5m0.9 0h0.5m45.7 0h0.4m0.4 0h0.8m4.1 0h0.4m2.0 0h0.8m1.5 0h0.5m21.9 0h0.6m5.5 0h0.5m6.4 0h0.6m0.7 0h0.6m4.0 0h0.8m6.2 0h0.5m3.1 0h0.5m18.5 0h0.6m8.8 0h0.5m3.5 0h0.8M21.6 554.9h0.5m12.5 0h0.4m7.4 0h0.8m11.6 0h0.8m3.4 0h0.5m19.0 0h0.8m6.2 0h0.8m1.7 0h0.5m0.3 0h0.6m1.5 0h0.4m4.4 0h0.5m1.8 0h0.6m17.7 0h0.5m19.2 0h0.8m1.3 0h0.6m5.2 0h0.8m0.6 0h0.5m2.9 0h0.5m1.2 0h0.4m6.8 0h0.4m4.6 0h0.8m2.4 0h0.4m2.2 0h0.6M33.3 556.3h0.4m4.4 0h0.5m25.7 0h0.5m2.5 0h0.5m2.7 0h0.5m15.8 0h0.4m14.5 0h0.6m4.6 0h0.8m6.1 0h0.4m8.6 0h0.4m3.6 0h0.5m4.4 0h0.4m7.1 0h0.5m2.3 0h0.4m14.4 0h0.6m0.7 0h0.5m15.7 0h0.8M48.9 557.6h0.4m11.8 0h0.6m19.3 0h0.6m0.6 0h0.6m0.3 0h0.5m2.9 0h0.5m4.3 0h0.8m1.0 0h0.8m7.2 0h0.8m1.3 0h0.6m2.0 0h0.8m0.6 0h0.4m13.0 0h0.5m20.3 0h0.4m5.9 0h0.6m5.9 0h0.5m2.0 0h0.5m5.2 0h0.4m13.3 0h0.3M34.1 558.9h0.5m12.2 0h0.4m25.8 0h0.5m4.6 0h0.6m22.1 0h0.4m14.3 0h0.4m33.2 0h0.4m1.8 0h0.8m1.0 0h0.5m16.2 0h0.5m5.7 0h0.6M26.1 560.2h0.4m50.2 0h0.4m6.5 0h0.5m1.9 0h0.8m21.6 0h0.8m18.7 0h0.5m4.0 0h0.6m4.0 0h0.5m9.0 0h0.8m3.2 0h0.5m4.1 0h0.6m11.8 0h0.8m0.4 0h0.4m1.7 0h0.5M33.7 561.5h0.4m16.9 0h0.5m32.2 0h0.5m1.6 0h0.6m20.4 0h0.8m5.4 0h0.8m27.5 0h0.6m0.4 0h0.5m7.5 0h0.8m3.3 0h0.4m9.6 0h0.8M21.3 562.9h0.6m0.5 0h0.4m53.5 0h0.4m0.7 0h0.5m7.9 0h0.5m1.7 0h0.4m0.4 0h0.6m6.1 0h0.6m14.3 0h0.6m3.0 0h0.8m8.7 0h0.6m4.9 0h0.8m16.7 0h0.4m0.6 0h0.6m7.3 0h0.8m2.2 0h0.4m4.2 0h0.8m5.9 0h0.4M17.0 564.2h0.5m1.1 0h0.5m29.7 0h0.5m30.5 0h0.4m2.5 0h0.5m2.9 0h0.6m2.5 0h0.5m1.3 0h0.8m0.3 0h0.5m5.9 0h0.6m5.5 0h0.5m1.9 0h0.8m2.5 0h0.8m5.6 0h0.6m7.8 0h0.6m9.8 0h0.6m10.2 0h0.5m1.8 0h0.8m7.5 0h0.6m14.2 0h0.6m0.3 0h0.4M34.7 565.5h0.5m38.7 0h0.5m3.7 0h0.4m1.9 0h0.6m14.4 0h0.8m18.0 0h0.4m2.7 0h0.6m11.8 0h0.6m1.1 0h0.6m0.4 0h0.8m0.3 0h0.4m15.1 0h0.4m4.2 0h0.5m3.6 0h0.6m15.3 0h0.5m0.6 0h0.4M20.8 566.8h0.5m23.8 0h0.5m21.2 0h0.5m9.5 0h0.4m15.0 0h0.5m26.7 0h0.8m3.2 0h0.4m4.1 0h0.8m6.7 0h0.6m18.3 0h0.6m15.3 0h0.5m2.0 0h0.5m1.3 0h0.8M58.7 568.1h0.5m37.2 0h0.6m0.3 0h0.5m10.2 0h0.6m5.1 0h0.8m3.3 0h0.4m1.7 0h0.6m41.6 0h0.4m6.9 0h0.8M63.5 569.4h0.5m1.6 0h0.5m34.6 0h0.4m1.3 0h0.8m3.3 0h0.5m2.1 0h0.8m1.8 0h0.5m9.9 0h0.8m3.9 0h0.4m5.1 0h0.5m9.0 0h0.4m9.5 0h0.6m1.1 0h0.5m6.4 0h0.6m2.7 0h0.6m12.1 0h0.4M20.5 570.8h0.5m13.2 0h0.4m5.1 0h0.5m0.3 0h0.4m9.9 0h0.6m15.1 0h0.8m1.0 0h0.4m20.8 0h0.5m1.4 0h0.4m3.8 0h0.6m1.5 0h0.8m11.3 0h0.8m2.9 0h0.8m7.2 0h0.4m7.2 0h0.6m12.3 0h0.4m3.5 0h0.5m11.9 0h0.4m10.7 0h0.5m0.6 0h0.8M26.4 572.1h0.4m5.9 0h0.8m40.0 0h0.4m28.2 0h0.8m8.3 0h0.6m10.8 0h0.5m1.7 0h0.8m10.9 0h0.8m0.3 0h0.5m7.4 0h0.5m2.1 0h0.8m1.0 0h0.5m19.4 0h0.5M37.7 573.4h0.5m4.7 0h0.4m6.7 0h0.4m11.0 0h0.4m1.2 0h0.4m6.2 0h0.4m23.4 0h0.6m3.9 0h0.4m7.5 0h0.6m4.9 0h0.5m10.4 0h0.8m5.3 0h0.4m2.1 0h0.4m4.0 0h0.6m1.3 0h0.4m1.5 0h0.4m5.5 0h0.4m1.8 0h0.5m3.2 0h0.4m3.8 0h0.5m6.9 0h0.8M66.8 574.7h0.5m13.9 0h0.8m14.2 0h0.8m13.5 0h0.5m1.3 0h0.8m5.3 0h0.4m15.2 0h0.4m30.7 0h0.6m9.0 0h0.8M47.7 576.0h0.8m17.1 0h0.5m23.1 0h0.4m33.4 0h0.5m14.6 0h0.8m3.5 0h0.5m28.3 0h0.4m2.6 0h0.8M24.7 577.3h0.6m28.7 0h0.4m21.7 0h0.8m4.3 0h0.6m5.6 0h0.5m0.3 0h0.6m38.5 0h0.5m1.0 0h0.5m9.4 0h0.5m6.3 0h0.6m8.6 0h0.4m3.3 0h0.8m2.1 0h0.4m0.7 0h0.6m3.8 0h0.4m1.3 0h0.4m0.5 0h0.4m0.6 0h0.6" stroke="#f2624f" stroke-width="1.32" fill="none"/>
<path d="M23.0 381.1h0.9m2.0 0h1.2m13.9 0h0.5m0.5 0h1.2m2.6 0h0.7m6.7 0h2.2m8.7 0h0.9m1.4 0h0.7M30.4 382.4h2.2m20.1 0h0.5m8.4 0h1.2m3.3 0h1.2m5.3 0h0.5m35.4 0h0.5M24.4 383.7h1.6m1.0 0h2.2m2.3 0h0.9m1.7 0h2.2m4.1 0h2.2m2.7 0h1.2m0.4 0h2.2m2.0 0h2.2m8.6 0h1.2m9.0 0h0.5m44.4 0h0.5M32.0 385.0h0.9m2.8 0h0.5m2.8 0h0.7M16.2 386.3h0.6m20.9 0h0.8m17.6 0h0.5m18.0 0h0.5m74.9 0h0.6M29.3 387.6h2.2m0.7 0h0.9m0.5 0h1.6m9.2 0h0.9m4.0 0h0.7m73.9 0h0.5m31.0 0h0.4M25.8 389.0h0.6m39.8 0h0.5m67.9 0h0.8m1.8 0h0.8m12.4 0h0.4m24.7 0h0.4M18.5 390.3h0.5m6.7 0h1.2m0.4 0h0.9m14.9 0h1.2m0.9 0h0.9m8.2 0h0.5m4.0 0h1.2m4.6 0h0.9m4.3 0h0.7M24.5 391.6h0.5m140.6 0h0.5M26.7 392.9h1.6m3.3 0h0.9m30.1 0h0.9m0.3 0h1.2m28.6 0h0.8M21.8 394.2h2.2m13.3 0h1.6m12.8 0h2.2m0.3 0h1.2m1.9 0h0.5m7.6 0h1.6m68.6 0h0.6M21.3 395.5h1.6m0.3 0h1.2m0.3 0h0.9m7.5 0h0.7m7.3 0h1.6m4.5 0h1.6m0.3 0h1.2m0.5 0h0.5m3.1 0h0.9m5.0 0h0.7m3.5 0h1.6m4.6 0h0.5m54.9 0h0.4M27.4 396.9h1.6m0.4 0h0.7m18.5 0h1.6m0.4 0h0.5m5.8 0h0.7m1.9 0h0.9m53.2 0h0.5m4.4 0h0.5m49.4 0h0.6M15.9 398.2h0.9m22.6 0h2.2m2.6 0h2.2m19.2 0h0.9m3.2 0h0.7M36.0 399.5h0.9m11.0 0h0.5m8.1 0h0.5m0.6 0h0.7m1.7 0h0.5m41.7 0h0.6M16.1 400.8h2.2m6.5 0h1.6m4.9 0h0.7m0.4 0h1.2m14.3 0h0.7m6.2 0h0.5m6.0 0h0.7m5.4 0h0.5m39.0 0h0.6M46.3 402.1h0.5m75.8 0h0.4M19.5 403.5h2.2m10.9 0h1.6m1.2 0h0.7m22.8 0h0.5m10.0 0h0.9m7.0 0h0.6m57.8 0h0.5m39.2 0h0.4M37.4 404.8h0.5m4.5 0h0.9m7.1 0h0.9m35.3 0h0.4m62.5 0h0.8m23.6 0h0.5M24.0 406.1h0.9m11.7 0h2.2m14.1 0h2.2m6.1 0h0.7m5.1 0h0.5m2.9 0h1.2m63.5 0h0.5M27.7 407.4h2.2m5.5 0h2.2m0.5 0h0.7m0.4 0h1.2m0.6 0h0.7m13.3 0h0.9m8.5 0h0.5m14.6 0h0.4m0.5 0h0.6m20.3 0h0.6m23.8 0h0.8m7.4 0h0.5m2.0 0h0.5m35.7 0h0.6M51.7 408.7h1.2m0.6 0h0.9m9.3 0h1.2m102.3 0h0.6M30.6 410.0h0.9m3.2 0h0.7m5.8 0h2.2m8.0 0h0.7m5.1 0h2.2m1.2 0h0.7m18.5 0h0.4M27.6 411.4h0.9m11.8 0h1.2m2.4 0h0.9m1.4 0h1.6m4.3 0h1.2m13.7 0h0.9M18.3 412.7h0.5m8.7 0h1.2m0.3 0h2.2m22.8 0h0.9m0.4 0h0.9m12.9 0h1.2m83.9 0h0.4m13.2 0h0.4M21.2 414.0h2.2m0.5 0h2.2m2.8 0h0.5m29.6 0h1.2m0.7 0h2.2m99.9 0h0.8M20.9 415.3h0.9m0.6 0h1.2m2.5 0h2.2m5.9 0h1.2m4.9 0h1.2m5.3 0h0.7m9.5 0h0.5m9.8 0h1.2M24.0 416.6h1.2m8.7 0h0.9m3.5 0h1.6m10.2 0h0.9m10.9 0h0.7m52.4 0h0.5m49.1 0h0.6M18.6 417.9h1.6m0.4 0h0.7m8.5 0h2.2m7.4 0h0.7m2.8 0h0.9m9.6 0h1.6m23.0 0h0.8m81.0 0h0.5m2.7 0h0.6M32.1 419.3h2.2m4.8 0h0.5m0.6 0h0.9m2.6 0h2.2m8.3 0h2.2m7.1 0h2.2M16.7 420.6h0.7m7.9 0h2.2m3.0 0h0.5m16.4 0h0.5m14.7 0h0.7m6.4 0h0.5m1.4 0h0.9m59.0 0h0.5m23.9 0h0.6m18.6 0h0.8M22.8 421.9h1.2m9.1 0h1.2m3.6 0h0.9m7.6 0h0.9m74.4 0h0.5M16.0 423.2h2.2m9.9 0h0.9m1.2 0h1.2m1.1 0h2.2m13.8 0h1.2m4.6 0h1.2m2.4 0h0.7m3.1 0h1.2m8.3 0h1.2M24.8 424.5h0.7m1.8 0h2.2m6.6 0h0.9m11.6 0h2.2m0.6 0h0.7m6.0 0h0.5m9.7 0h0.7m1.8 0h1.6m21.0 0h0.5m9.2 0h0.5M19.3 425.8h0.7m14.1 0h1.2m1.3 0h1.6m6.1 0h0.9m2.0 0h2.2m7.0 0h1.2m2.0 0h1.6m2.7 0h0.7M16.6 427.2h0.9m11.4 0h0.5m5.5 0h2.2m1.1 0h0.5m9.7 0h1.2m0.3 0h1.6m2.0 0h1.6m2.1 0h0.5m1.2 0h1.6m3.7 0h0.9m4.2 0h1.2m80.4 0h0.4M39.2 428.5h0.5m16.0 0h0.9m6.1 0h1.6m6.1 0h0.9M24.2 429.8h0.5m41.1 0h0.5m15.9 0h0.6m38.7 0h0.4M42.7 431.1h0.5m0.4 0h0.7m8.0 0h0.7m0.3 0h0.7m20.6 0h0.6m79.2 0h0.8M18.0 432.4h0.5m4.1 0h0.5m4.6 0h0.7m13.8 0h0.9m5.9 0h2.2m5.2 0h0.5m8.0 0h2.2m1.2 0h0.5m18.0 0h0.4m25.7 0h0.5m22.2 0h0.5M52.3 433.8h1.2m92.2 0h0.4m16.1 0h0.4m2.3 0h0.4M28.8 435.1h1.2m13.0 0h0.7m5.7 0h2.2m0.6 0h0.7m7.8 0h0.7m3.6 0h0.9m16.7 0h0.4m65.7 0h0.8M23.2 436.4h1.2m11.0 0h1.6m0.7 0h1.6m3.0 0h0.5m20.2 0h2.2m63.3 0h0.6M64.8 437.7h0.5m15.2 0h0.5m61.2 0h0.5m20.6 0h0.8m9.8 0h0.8M25.9 439.0h0.5m1.8 0h1.2m18.9 0h1.6m4.8 0h0.9m10.5 0h2.2m1.2 0h0.5M38.8 440.3h1.6m0.6 0h0.9m91.0 0h0.6M49.0 441.7h0.7m20.5 0h0.9m16.0 0h0.4m45.0 0h0.6m15.8 0h0.6M22.3 443.0h1.2m5.1 0h1.6m3.9 0h0.9m2.6 0h0.9m2.6 0h2.2m7.4 0h0.5m19.4 0h0.9M31.4 444.3h0.9m12.9 0h0.5m3.1 0h0.9m0.3 0h0.5m6.8 0h2.2m5.2 0h1.6m29.9 0h0.8M22.2 445.6h0.4m67.5 0h0.6M16.4 446.9h0.5m14.5 0h1.6m5.8 0h0.5m2.1 0h2.2m0.9 0h0.7m2.4 0h0.5m6.5 0h0.9m8.0 0h1.2m48.7 0h0.4m3.8 0h0.5m11.0 0h0.6M29.1 448.2h2.2m18.2 0h0.9m0.5 0h1.2m1.2 0h1.6m5.9 0h2.2m17.7 0h0.8m1.9 0h0.5m15.4 0h0.5M71.8 449.6h0.4m45.6 0h0.5m0.5 0h0.4m2.2 0h0.8m27.4 0h0.5M24.2 450.9h1.6m31.8 0h0.5m3.3 0h2.2m32.6 0h0.6m79.4 0h0.3M16.5 453.5h1.6m0.3 0h1.6m0.3 0h1.2m27.3 0h1.2m0.3 0h0.5m106.4 0h0.4m10.7 0h0.6M34.2 454.8h0.5m54.6 0h0.4m45.6 0h0.4M77.1 456.1h0.5m34.8 0h0.4m12.9 0h0.8m49.0 0h0.6M33.0 457.5h0.6m64.6 0h0.4M54.8 458.8h1.6m5.1 0h2.2M16.4 460.1h0.4m140.7 0h0.4M16.1 461.4h0.7m3.4 0h1.6m4.0 0h1.6m1.1 0h0.7m1.8 0h1.2m0.6 0h0.9m5.4 0h2.2m6.0 0h1.2m18.9 0h2.2m43.0 0h0.6m32.8 0h0.5m20.4 0h0.8M78.7 462.7h0.6M124.1 464.1h0.8m2.8 0h0.8m1.2 0h0.4M24.0 466.7h0.8M15.9 468.0h0.9m8.8 0h2.2m2.1 0h0.9m6.3 0h2.2m12.3 0h1.6m17.4 0h0.9m98.6 0h0.5M15.8 469.3h2.2m0.3 0h2.2m1.7 0h2.2m1.1 0h0.9m4.8 0h1.6m1.4 0h0.7m0.5 0h0.7m34.5 0h0.9m21.7 0h0.8m45.9 0h0.4m10.8 0h0.8m17.9 0h0.6M71.6 470.6h0.8m77.6 0h0.4m23.6 0h0.8m0.7 0h0.4M20.8 472.0h0.4M16.7 473.3h0.5m17.8 0h0.7m12.1 0h1.6m0.4 0h0.7m2.3 0h0.9m17.6 0h0.7m43.7 0h0.8m35.3 0h0.4M22.1 474.6h0.8m33.0 0h0.6m94.2 0h0.5M16.7 475.9h1.2m3.5 0h0.5m10.6 0h0.5m10.3 0h0.9m3.5 0h0.7m7.8 0h1.6m51.0 0h0.6m5.7 0h0.5M38.7 477.2h2.2m3.8 0h1.2m4.5 0h1.6m2.4 0h1.2m6.0 0h0.7m1.5 0h0.9m5.4 0h2.2m53.4 0h0.6m0.6 0h0.4m10.6 0h0.4m22.0 0h0.5M76.0 478.5h0.4m5.7 0h0.6m20.2 0h0.5m18.4 0h0.5m16.5 0h0.4m4.3 0h0.6m3.6 0h0.8m2.1 0h0.6m1.2 0h0.6m3.6 0h0.4m1.8 0h0.8m12.1 0h0.8M50.1 479.9h0.4m34.8 0h0.8m1.1 0h0.4m10.1 0h0.6m20.5 0h0.5m20.2 0h0.5m0.7 0h0.8m0.5 0h0.6m2.7 0h0.8m9.3 0h0.4m2.4 0h0.4m7.5 0h0.6M41.5 481.2h0.8m9.1 0h0.8m33.0 0h0.8m20.0 0h0.4m15.4 0h0.8m4.5 0h0.8m20.1 0h0.4m5.3 0h0.5m9.3 0h0.6M75.6 482.5h0.4m5.8 0h0.5m4.5 0h0.5m9.1 0h0.8m16.6 0h0.4m22.2 0h0.6m12.1 0h0.4m2.5 0h0.6m17.1 0h0.4M49.3 483.8h0.5m3.6 0h0.6m20.9 0h0.8m18.2 0h0.8m6.0 0h0.8m12.4 0h0.4m2.2 0h0.8m3.1 0h0.4m36.0 0h0.8m1.9 0h0.5M80.1 485.1h0.6m18.4 0h0.8m6.2 0h0.5m4.4 0h0.6m0.5 0h0.8m21.4 0h0.5m5.0 0h0.8m10.5 0h0.5m0.6 0h0.4M55.2 486.4h0.4m9.9 0h0.8m29.3 0h0.5m8.6 0h0.4m11.6 0h0.5m10.4 0h0.5m7.5 0h0.5m3.8 0h0.5m2.3 0h0.5m12.7 0h0.6m5.0 0h0.8m2.9 0h0.6m5.1 0h0.8M82.8 487.8h0.8m8.1 0h0.4m15.0 0h0.4m3.0 0h0.6M36.7 489.1h0.6m33.6 0h0.6m0.7 0h0.5m3.1 0h0.8m0.5 0h0.5m6.1 0h0.8m8.3 0h0.5m18.9 0h0.5m0.5 0h0.4m7.0 0h0.5m4.5 0h0.6m12.8 0h0.4m0.6 0h0.8m4.5 0h0.6m14.4 0h0.8m6.7 0h0.6M90.2 490.4h0.6m0.6 0h0.6m15.9 0h0.8m0.4 0h0.6m4.5 0h0.4m6.2 0h0.6m3.5 0h0.4m32.6 0h0.8m11.5 0h0.6M35.8 491.7h0.5m58.9 0h0.4m1.4 0h0.6m15.0 0h0.5m3.4 0h0.6m7.1 0h0.5m8.9 0h0.5m14.0 0h0.8m1.9 0h0.8m15.4 0h0.5M88.9 493.0h0.6m3.4 0h0.6m0.4 0h0.4m3.0 0h0.4m1.8 0h0.8m8.1 0h0.5m9.4 0h0.6m0.3 0h0.4m27.1 0h0.6m2.4 0h0.4m8.1 0h0.4m12.8 0h0.8m0.5 0h0.6M79.4 494.3h0.8m4.5 0h0.8m2.4 0h0.4m22.9 0h0.8m4.8 0h0.6m2.0 0h0.8m5.9 0h0.5m1.2 0h0.6m14.1 0h0.5m11.4 0h0.8m6.7 0h0.8m2.3 0h0.8m5.0 0h0.4M18.8 495.7h0.5m3.3 0h0.6m7.0 0h0.6m16.0 0h0.4m10.2 0h0.8m12.7 0h0.5m5.8 0h0.4m0.3 0h0.4m8.5 0h0.6m20.3 0h0.6m14.7 0h0.4m10.2 0h0.6m0.6 0h0.5m7.3 0h0.5m3.7 0h0.8m3.7 0h0.8m4.6 0h0.8m4.2 0h0.5m2.7 0h0.5M37.9 497.0h0.4m43.3 0h0.8m3.1 0h0.6m9.2 0h0.6m10.9 0h0.4m2.5 0h0.8m20.6 0h0.8m2.4 0h0.6m10.4 0h0.6m3.5 0h0.4m17.1 0h0.8M26.3 498.3h0.5m59.9 0h0.6m7.8 0h0.4m19.8 0h0.5m1.3 0h0.5m0.3 0h0.4m0.5 0h0.6m10.7 0h0.8m2.8 0h0.4m2.4 0h0.4m10.9 0h0.8m0.4 0h0.4m2.3 0h0.6m3.3 0h0.5M54.8 499.6h0.6m20.3 0h0.6m3.1 0h0.6m4.6 0h0.5m3.8 0h0.8m27.9 0h0.5m12.7 0h0.5m1.9 0h0.8m15.9 0h0.6m18.1 0h0.5M40.9 500.9h0.6m6.3 0h0.6m10.2 0h0.4m1.2 0h0.6m21.7 0h0.6m1.2 0h0.5m12.5 0h0.5m34.1 0h0.5m12.2 0h0.6m5.4 0h0.8m4.1 0h0.5m16.3 0h0.5m1.8 0h0.4M40.9 502.3h0.6m35.8 0h0.6m33.8 0h0.6m1.0 0h0.4m12.6 0h0.8m15.7 0h0.8m5.2 0h0.5m3.7 0h0.6m21.2 0h0.8M63.8 503.6h0.8m13.2 0h0.4m3.6 0h0.5m21.2 0h0.8m1.1 0h0.8m13.5 0h0.8m4.3 0h0.8m12.9 0h0.5m13.7 0h0.4M79.9 504.9h0.6m5.3 0h0.5m8.1 0h0.6m6.0 0h0.8m15.1 0h0.4m1.2 0h0.4m13.7 0h0.8m27.1 0h0.6m13.4 0h0.8M17.0 506.2h0.5m28.5 0h0.4m3.1 0h0.4m44.4 0h0.5m3.6 0h0.8m6.1 0h0.4m2.0 0h0.5m8.2 0h0.6m0.8 0h0.4m12.4 0h0.5m6.3 0h0.4m12.9 0h0.8m14.6 0h0.6m4.8 0h0.5M20.7 507.5h0.8m16.2 0h0.6m54.2 0h0.4m19.1 0h0.6m15.4 0h0.6m25.3 0h0.6m9.9 0h0.4M17.8 508.8h0.5m0.3 0h0.6m3.7 0h0.8m12.2 0h0.8m29.9 0h0.5m9.0 0h0.4m1.8 0h0.6m10.3 0h0.6m5.0 0h0.4m5.7 0h0.6m2.3 0h0.8m1.9 0h0.4m4.0 0h0.5m7.6 0h0.6m12.8 0h0.8m22.5 0h0.4m4.2 0h0.5m1.3 0h0.6m1.5 0h0.8M34.9 510.2h0.4m6.3 0h0.6m49.9 0h0.6m14.9 0h0.4m7.1 0h0.6m2.2 0h0.4m0.7 0h0.4M24.5 511.5h0.4m58.2 0h0.4m12.3 0h0.4m8.1 0h0.5m19.3 0h0.8m3.3 0h0.8m3.6 0h0.4m2.7 0h0.6m19.3 0h0.6M25.3 512.8h0.8m48.7 0h0.4m2.6 0h0.6m0.5 0h0.5m36.5 0h0.8m4.8 0h0.5m15.1 0h0.5m1.4 0h0.4m28.8 0h0.6m0.6 0h0.5m2.7 0h0.6M32.4 514.1h0.4m8.7 0h0.5m32.6 0h0.4m2.8 0h0.8m5.8 0h0.4m10.9 0h0.6m1.1 0h0.4m11.0 0h0.6m0.6 0h0.6m6.2 0h0.5m4.1 0h0.8m1.1 0h0.4m6.0 0h0.4m2.3 0h0.4m3.6 0h0.4m5.8 0h0.8m3.6 0h0.5m1.1 0h0.6m17.5 0h0.8m0.6 0h0.4M65.2 515.4h0.4m44.9 0h0.5m8.1 0h0.8m1.3 0h0.6m20.9 0h0.4m11.2 0h0.5m9.2 0h0.5m8.0 0h0.6M41.6 516.7h0.6m12.0 0h0.5m2.2 0h0.6m24.9 0h0.8m7.9 0h0.5m3.1 0h0.8m4.3 0h0.6m6.4 0h0.5m2.7 0h0.4m3.2 0h0.5m0.6 0h0.6m3.5 0h0.8m7.9 0h0.5m7.5 0h0.5m1.1 0h0.5m15.5 0h0.5m9.7 0h0.4m4.4 0h0.6M24.0 518.1h0.5m10.7 0h0.8m42.1 0h0.8m18.0 0h0.5m4.2 0h0.6m0.6 0h0.4m16.6 0h0.5m12.5 0h0.5m9.5 0h0.4m8.9 0h0.5m3.6 0h0.6m18.3 0h0.4M25.1 519.4h0.5m34.9 0h0.6m4.5 0h0.8m7.9 0h0.4m20.0 0h0.6m39.7 0h0.4m10.5 0h0.4m4.4 0h0.8m3.7 0h0.6m3.3 0h0.8m1.2 0h0.8M29.7 520.7h0.5m6.2 0h0.8m0.4 0h0.4m1.8 0h0.4m28.9 0h0.4m28.1 0h0.6m22.9 0h0.8m3.5 0h0.8m6.3 0h0.5m6.3 0h0.8m21.0 0h0.8M20.4 522.0h0.8m30.8 0h0.4m0.9 0h0.4m24.2 0h0.4m0.6 0h0.8m2.1 0h0.8m13.9 0h0.6m2.7 0h0.4m12.3 0h0.5m11.9 0h0.8m11.1 0h0.6m32.5 0h0.4M18.4 523.3h0.6m19.4 0h0.6m58.7 0h0.5m11.4 0h0.4m4.1 0h0.5m6.2 0h0.6m22.0 0h0.5m10.8 0h0.5m18.2 0h0.5M92.5 524.6h0.8m4.0 0h0.8m8.8 0h0.8m18.6 0h0.5m6.0 0h0.5m12.1 0h0.4m5.2 0h0.4m2.8 0h0.6m0.3 0h0.5m7.3 0h0.5m6.6 0h0.6M17.2 526.0h0.5m15.2 0h0.8m6.7 0h0.5m60.1 0h0.5m4.4 0h0.6m9.8 0h0.5m11.8 0h0.8m14.0 0h0.4m18.5 0h0.8m11.4 0h0.4M129.4 527.3h0.4m7.7 0h0.4m1.8 0h0.8m19.9 0h0.8m13.2 0h0.8M31.3 528.6h0.5m44.3 0h0.5m11.4 0h0.5m4.6 0h0.6m15.0 0h0.6m9.8 0h0.4m20.7 0h0.5m10.6 0h0.6m2.4 0h0.4m2.8 0h0.5M31.5 529.9h0.4m46.9 0h0.4m13.4 0h0.4m16.3 0h0.8m1.5 0h0.4m5.6 0h0.5m3.1 0h0.6m10.6 0h0.8m0.6 0h0.6m5.5 0h0.4m12.4 0h0.8M96.8 531.2h0.6m10.1 0h0.5m10.1 0h0.5m2.0 0h0.5m1.7 0h0.5m9.0 0h0.5m12.9 0h0.5m1.9 0h0.6m9.0 0h0.4m5.7 0h0.8M29.0 532.6h0.6m72.8 0h0.4m17.2 0h0.4m11.3 0h0.6m16.3 0h0.4m9.7 0h0.6m11.4 0h0.6m1.1 0h0.4M25.3 533.9h0.5m52.6 0h0.5m7.6 0h0.4m21.0 0h0.4m1.3 0h0.5m4.4 0h0.4m13.6 0h0.4m1.5 0h0.4m19.6 0h0.6m2.0 0h0.6m3.9 0h0.4m9.7 0h0.6M76.2 535.2h0.8m10.1 0h0.8m0.6 0h0.8m2.0 0h0.8m22.3 0h0.5m0.4 0h0.4m3.2 0h0.4m4.4 0h0.4m7.1 0h0.4m2.5 0h0.8m7.7 0h0.4M48.6 536.5h0.8m24.4 0h0.4m6.2 0h0.6m28.5 0h0.4m27.4 0h0.4m32.9 0h0.4m2.3 0h0.8M45.8 537.8h0.8m16.0 0h0.4m0.3 0h0.8m13.3 0h0.4m1.2 0h0.5m16.2 0h0.5m2.3 0h0.5m2.7 0h0.6m4.0 0h0.5m10.6 0h0.8m3.3 0h0.5m7.1 0h0.4m13.8 0h0.4m4.8 0h0.4m3.0 0h0.6m8.3 0h0.5M30.8 539.1h0.8m51.9 0h0.4m15.4 0h0.8m2.9 0h0.6m4.8 0h0.4m4.2 0h0.5m38.2 0h0.5m5.1 0h0.4M68.3 540.5h0.6m4.1 0h0.6m4.0 0h0.5m1.8 0h0.6m5.8 0h0.6m0.4 0h0.6m14.2 0h0.5m26.7 0h0.4m6.9 0h0.8m13.0 0h0.5m5.9 0h0.6m2.7 0h0.8m3.8 0h0.4m6.0 0h0.6M73.7 541.8h0.4m3.1 0h0.4m6.4 0h0.4m3.1 0h0.6m10.2 0h0.6m8.5 0h0.5m35.9 0h0.8m14.2 0h0.5M43.0 543.1h0.5m7.4 0h0.6m27.7 0h0.8m9.5 0h0.5m15.2 0h0.8m2.2 0h0.5m36.9 0h0.4M76.0 544.4h0.8m16.6 0h0.5m1.5 0h0.4m5.2 0h0.5m1.3 0h0.4m26.2 0h0.5m7.8 0h0.5m0.4 0h0.4m19.6 0h0.6m5.8 0h0.5m7.9 0h0.6M57.7 545.7h0.5m11.0 0h0.8m15.1 0h0.8m3.0 0h0.8m6.1 0h0.4m9.7 0h0.5m11.6 0h0.4m2.3 0h0.5m0.6 0h0.6m0.4 0h0.5m0.7 0h0.4m32.7 0h0.5m1.3 0h0.8M86.8 547.0h0.8m6.2 0h0.5m8.4 0h0.4m2.8 0h0.8m20.5 0h0.5m3.3 0h0.6m6.4 0h0.4m16.2 0h0.4m6.2 0h0.4m6.6 0h0.8M33.9 548.4h0.8m10.3 0h0.6m38.8 0h0.6m1.7 0h0.5m16.3 0h0.6m39.6 0h0.8m18.9 0h0.4m1.2 0h0.8M24.4 549.7h0.8m47.4 0h0.4m17.5 0h0.6m0.5 0h0.5m0.9 0h0.8m5.0 0h0.4m2.1 0h0.8m17.4 0h0.4m4.1 0h0.6m6.5 0h0.6m3.1 0h0.6m5.7 0h0.8m10.7 0h0.5m2.2 0h0.5m10.1 0h0.8m1.6 0h0.5m3.0 0h0.5M56.5 551.0h0.8m6.1 0h0.8m1.4 0h0.4m7.3 0h0.6m1.3 0h0.5m9.1 0h0.8m3.9 0h0.4m18.1 0h0.4m11.1 0h0.5m6.0 0h0.8m1.2 0h0.4m4.2 0h0.4m0.5 0h0.5m7.8 0h0.8m1.7 0h0.8m3.4 0h0.5m10.0 0h0.4m12.4 0h0.6m3.6 0h0.5M86.5 552.3h0.5m27.4 0h0.4m4.8 0h0.4m2.4 0h0.4m6.1 0h0.6m32.5 0h0.6m11.0 0h0.5m2.0 0h0.5M29.5 553.6h0.4m62.6 0h0.6m1.5 0h0.4m2.8 0h0.8m5.3 0h0.6m2.1 0h0.6m41.4 0h0.6m4.0 0h0.8m13.8 0h0.4m4.0 0h0.4m0.6 0h0.4M70.1 554.9h0.4m5.5 0h0.8m4.6 0h0.5m5.0 0h0.4m5.4 0h0.5m24.3 0h0.8m22.8 0h0.8m4.4 0h0.5m12.6 0h0.8m6.4 0h0.4m5.4 0h0.6M25.1 556.3h0.5m5.0 0h0.5m50.1 0h0.8m1.1 0h0.5m4.8 0h0.8m0.3 0h0.6m10.0 0h0.5m9.1 0h0.5m39.5 0h0.8m9.7 0h0.4M26.6 557.6h0.4m8.7 0h0.8m1.7 0h0.4m3.3 0h0.4m7.9 0h0.6m6.6 0h0.4m9.1 0h0.8m7.6 0h0.8m18.2 0h0.5m0.5 0h0.8m19.0 0h0.6m14.7 0h0.5m2.2 0h0.5m2.5 0h0.5m10.2 0h0.4m17.1 0h0.4M79.2 558.9h0.5m1.2 0h0.5m2.2 0h0.6m6.5 0h0.5m19.9 0h0.8m21.3 0h0.4m29.5 0h0.5m2.1 0h0.8m4.3 0h0.8M24.2 560.2h0.6m67.1 0h0.6m0.3 0h0.4m0.6 0h0.8m0.5 0h0.4m18.0 0h0.8m2.5 0h0.5m16.0 0h0.4m1.2 0h0.5m4.0 0h0.8m25.9 0h0.6M57.9 561.5h0.8m14.9 0h0.5m1.3 0h0.5m20.4 0h0.5m4.5 0h0.5m7.0 0h0.6m7.4 0h0.4m9.1 0h0.6m5.6 0h0.8m7.0 0h0.5m20.6 0h0.8M32.6 562.9h0.4m23.8 0h0.8m26.5 0h0.4m2.3 0h0.6m7.0 0h0.4m7.5 0h0.5m8.5 0h0.8m4.9 0h0.5m4.5 0h0.4m2.8 0h0.4m24.2 0h0.8m11.0 0h0.8M94.3 564.2h0.8m1.3 0h0.8m5.4 0h0.8m11.2 0h0.8m5.8 0h0.6m6.6 0h0.6m9.8 0h0.5m10.9 0h0.8m9.2 0h0.5m0.5 0h0.4m2.2 0h0.4m3.9 0h0.4m1.1 0h0.4m0.7 0h0.6M41.4 565.5h0.4M38.2 566.8h0.5m30.7 0h0.6m16.3 0h0.4m37.8 0h0.4m8.0 0h0.5m1.1 0h0.8m5.3 0h0.6m8.7 0h0.5m8.1 0h0.8m14.3 0h0.6M87.9 568.1h0.5m7.1 0h0.4m10.1 0h0.4m4.7 0h0.6m3.9 0h0.6m14.9 0h0.5M24.7 569.4h0.8m61.7 0h0.6m5.9 0h0.4m2.9 0h0.4m6.3 0h0.8m6.5 0h0.5m1.9 0h0.5m12.1 0h0.4m4.3 0h0.4m6.9 0h0.4m6.0 0h0.4m1.4 0h0.8M25.5 570.8h0.8m1.0 0h0.4m16.6 0h0.5m34.0 0h0.8m19.8 0h0.5m11.1 0h0.4m23.0 0h0.6m1.1 0h0.4m6.4 0h0.5m1.0 0h0.6m2.2 0h0.8m13.1 0h0.8M86.4 572.1h0.4m0.5 0h0.6m5.9 0h0.8m32.0 0h0.5m5.7 0h0.4m1.1 0h0.5m18.5 0h0.4m4.5 0h0.6m13.6 0h0.5M46.2 573.4h0.5m18.6 0h0.8m11.5 0h0.6m1.3 0h0.8m2.5 0h0.6m1.8 0h0.6m2.2 0h0.5m2.8 0h0.6m20.2 0h0.5m11.8 0h0.8m6.4 0h0.6m15.9 0h0.8m3.9 0h0.8m8.0 0h0.4m3.1 0h0.6m1.2 0h0.8m3.6 0h0.6m0.4 0h0.4m1.7 0h0.8m0.6 0h0.8M50.0 574.7h0.6m26.3 0h0.4m11.5 0h0.8m5.5 0h0.5m23.9 0h0.6m10.6 0h0.4m0.3 0h0.6m9.6 0h0.5m16.0 0h0.4m0.4 0h0.4M67.6 576.0h0.4m14.2 0h0.8m2.7 0h0.5m1.9 0h0.8m11.7 0h0.5m6.0 0h0.8m0.7 0h0.5m17.2 0h0.5m2.2 0h0.8m7.5 0h0.5m5.7 0h0.8m8.5 0h0.6m3.0 0h0.4m6.4 0h0.8M48.7 577.3h0.6m36.5 0h0.4m19.0 0h0.4m3.1 0h0.8m7.2 0h0.4m22.4 0h0.8m1.3 0h0.8m9.2 0h0.4m1.1 0h0.8m1.8 0h0.8m0.5 0h0.8" stroke="#ee2a1c" stroke-width="1.32" fill="none"/>
<rect x="15.7" y="380.4" width="160.9" height="197.6" rx="0" fill="none" stroke="#8a8a8a" stroke-width="0.7" />
<rect x="186.4" y="379.6" width="182.5" height="110.1" rx="12.5" fill="none" stroke="#e8683a" stroke-width="1" />
<rect x="186.4" y="493.2" width="182.5" height="88.5" rx="12.5" fill="none" stroke="#5b8def" stroke-width="1" />
<circle cx="199.9" cy="388.1" r="2.6" fill="#f4694b" stroke="none" stroke-width="0" />
<text x="214.5" y="390.7" font-size="7.3" fill="#000" stroke="#000" stroke-width="0.06" >Immune effector process</text>
<circle cx="199.9" cy="402.1" r="2.9" fill="#f4694b" stroke="none" stroke-width="0" />
<text x="214.5" y="403.3" font-size="7.3" fill="#000" stroke="#000" stroke-width="0.06" >Cell adhesion</text>
<circle cx="199.9" cy="417.6" r="3.3" fill="#f4674a" stroke="none" stroke-width="0" />
<text x="214.5" y="417" font-size="7.3" fill="#000" stroke="#000" stroke-width="0.06" >Lipid binding</text>
<circle cx="199.9" cy="432.8" r="3.9" fill="#f56045" stroke="none" stroke-width="0" />
<text x="214.5" y="432.2" font-size="7.3" fill="#000" stroke="#000" stroke-width="0.06" >ECM−receptor interaction</text>
<circle cx="199.9" cy="448.2" r="4.2" fill="#f55d43" stroke="none" stroke-width="0" />
<text x="214.5" y="447.6" font-size="7.3" fill="#000" stroke="#000" stroke-width="0.06" >Folding of actin by CCT/TriC</text>
<circle cx="199.9" cy="463.4" r="4.5" fill="#f55a40" stroke="none" stroke-width="0" />
<text x="214.5" y="463.1" font-size="7.3" fill="#000" stroke="#000" stroke-width="0.06" >Lysosome</text>
<circle cx="199.9" cy="478.6" r="5.9" fill="#ff0000" stroke="none" stroke-width="0" />
<text x="214.5" y="481.2" font-size="7.3" fill="#000" stroke="#000" stroke-width="0.06" >Amino sugar and nucleotide sugar metabolism</text>
<circle cx="199.9" cy="497" r="0.9" fill="#bfa0f7" stroke="none" stroke-width="0" />
<text x="213" y="500.8" font-size="7.3" fill="#000" stroke="#000" stroke-width="0.06" >Vascular smooth muscle contraction</text>
<circle cx="199.9" cy="509" r="2.4" fill="#bb99f6" stroke="none" stroke-width="0" />
<text x="213" y="511.9" font-size="7.3" fill="#000" stroke="#000" stroke-width="0.06" >Insulin resistance</text>
<circle cx="199.9" cy="520.9" r="2.6" fill="#ba98f6" stroke="none" stroke-width="0" />
<text x="213" y="523.5" font-size="7.3" fill="#000" stroke="#000" stroke-width="0.06" >Glucagon signaling pathway</text>
<circle cx="199.9" cy="532.3" r="2.6" fill="#b997f5" stroke="none" stroke-width="0" />
<text x="213" y="534.9" font-size="7.3" fill="#000" stroke="#000" stroke-width="0.06" >Arginine and proline metabolism</text>
<circle cx="199.9" cy="544.6" r="2.8" fill="#b794f5" stroke="none" stroke-width="0" />
<text x="213" y="547.2" font-size="7.3" fill="#000" stroke="#000" stroke-width="0.06" >Calcium signaling pathway</text>
<circle cx="199.9" cy="556" r="3.5" fill="#b08af4" stroke="none" stroke-width="0" />
<text x="213" y="558.9" font-size="7.3" fill="#000" stroke="#000" stroke-width="0.06" >Thyroid stimulating hormone (TSH) pathway</text>
<circle cx="199.9" cy="572" r="6.3" fill="#0000ff" stroke="none" stroke-width="0" />
<text x="213" y="575.2" font-size="7.3" fill="#000" stroke="#000" stroke-width="0.06" >Ion binding</text>
<text x="408.8" y="395.6" font-size="6.9" text-anchor="middle" fill="#000" stroke="#000" stroke-width="0.06" >z-score</text>
<defs><linearGradient id="gz" x1="0" x2="1" y1="0" y2="0"><stop offset="0" stop-color="#2f86ff"/><stop offset="0.5" stop-color="#ffffff"/><stop offset="1" stop-color="#ff2a2a"/></linearGradient>
<linearGradient id="gr" x1="0" x2="0" y1="0" y2="1"><stop offset="0" stop-color="#ff1408"/><stop offset="1" stop-color="#fc8262"/></linearGradient>
<linearGradient id="gb" x1="0" x2="0" y1="0" y2="1"><stop offset="0" stop-color="#2408ff"/><stop offset="1" stop-color="#cdaef8"/></linearGradient></defs>
<rect x="395.1" y="398.6" width="30" height="3" rx="0" fill="url(#gz)" stroke="none" stroke-width="1" />
<text x="397.4" y="409.8" font-size="7.3" text-anchor="middle" fill="#000" stroke="#000" stroke-width="0.06" >-2</text>
<text x="411.4" y="409.8" font-size="7.3" text-anchor="middle" fill="#000" stroke="#000" stroke-width="0.06" >0</text>
<text x="425.3" y="409.8" font-size="7.3" text-anchor="middle" fill="#000" stroke="#000" stroke-width="0.06" >2</text>
<text x="394.9" y="419.5" font-size="7.3" fill="#000" stroke="#000" stroke-width="0.06">−log<tspan font-size="4.2" dy="1.6">10</tspan><tspan dy="-1.6"> FDR</tspan></text>
<rect x="379.3" y="426.5" width="15.8" height="64" rx="0" fill="#ebebeb" stroke="none" stroke-width="1" />
<circle cx="387.3" cy="434.9" r="3.9" fill="#000" stroke="none" stroke-width="0" />
<text x="400.9" y="437.7" font-size="7.9" fill="#000" stroke="#000" stroke-width="0.06" >1.6</text>
<circle cx="387.3" cy="450.7" r="5.1" fill="#000" stroke="none" stroke-width="0" />
<text x="400.9" y="453.5" font-size="7.9" fill="#000" stroke="#000" stroke-width="0.06" >1.8</text>
<circle cx="387.3" cy="466.5" r="5.8" fill="#000" stroke="none" stroke-width="0" />
<text x="400.9" y="469.3" font-size="7.9" fill="#000" stroke="#000" stroke-width="0.06" >2.0</text>
<circle cx="387.3" cy="482.6" r="6.7" fill="#000" stroke="none" stroke-width="0" />
<text x="400.9" y="485.4" font-size="7.9" fill="#000" stroke="#000" stroke-width="0.06" >2.2</text>
<rect x="421.6" y="428.8" width="9.3" height="57" rx="0" fill="url(#gr)" stroke="none" stroke-width="1" />
<line x1="429.4" y1="433.5" x2="430.9" y2="433.5" stroke="#fff" stroke-width="0.5" />
<line x1="421.6" y1="433.5" x2="423.1" y2="433.5" stroke="#fff" stroke-width="0.5" />
<text x="433.3" y="436" font-size="6.9" fill="#000" stroke="#000" stroke-width="0.06" >2.2</text>
<line x1="429.4" y1="447.7" x2="430.9" y2="447.7" stroke="#fff" stroke-width="0.5" />
<line x1="421.6" y1="447.7" x2="423.1" y2="447.7" stroke="#fff" stroke-width="0.5" />
<text x="433.3" y="450.2" font-size="6.9" fill="#000" stroke="#000" stroke-width="0.06" >2.0</text>
<line x1="429.4" y1="461.9" x2="430.9" y2="461.9" stroke="#fff" stroke-width="0.5" />
<line x1="421.6" y1="461.9" x2="423.1" y2="461.9" stroke="#fff" stroke-width="0.5" />
<text x="433.3" y="464.4" font-size="6.9" fill="#000" stroke="#000" stroke-width="0.06" >1.8</text>
<line x1="429.4" y1="475.8" x2="430.9" y2="475.8" stroke="#fff" stroke-width="0.5" />
<line x1="421.6" y1="475.8" x2="423.1" y2="475.8" stroke="#fff" stroke-width="0.5" />
<text x="433.3" y="478.3" font-size="6.9" fill="#000" stroke="#000" stroke-width="0.06" >1.6</text>
<text x="393.3" y="504.9" font-size="7.3" fill="#000" stroke="#000" stroke-width="0.06">−log<tspan font-size="4.2" dy="1.6">10</tspan><tspan dy="-1.6"> FDR</tspan></text>
<rect x="376.5" y="510.2" width="16.1" height="64" rx="0" fill="#ebebeb" stroke="none" stroke-width="1" />
<circle cx="384.6" cy="517.9" r="3.5" fill="#000" stroke="none" stroke-width="0" />
<text x="397.9" y="520.7" font-size="7.9" fill="#000" stroke="#000" stroke-width="0.06" >1.5</text>
<circle cx="384.6" cy="534" r="5" fill="#000" stroke="none" stroke-width="0" />
<text x="397.9" y="536.8" font-size="7.9" fill="#000" stroke="#000" stroke-width="0.06" >2.0</text>
<circle cx="384.6" cy="550" r="5.8" fill="#000" stroke="none" stroke-width="0" />
<text x="397.9" y="552.8" font-size="7.9" fill="#000" stroke="#000" stroke-width="0.06" >2.5</text>
<circle cx="384.6" cy="566" r="6.6" fill="#000" stroke="none" stroke-width="0" />
<text x="397.9" y="568.8" font-size="7.9" fill="#000" stroke="#000" stroke-width="0.06" >3.0</text>
<rect x="420.5" y="511.9" width="8.8" height="56" rx="0" fill="url(#gb)" stroke="none" stroke-width="1" />
<line x1="427.8" y1="520.5" x2="429.3" y2="520.5" stroke="#fff" stroke-width="0.5" />
<line x1="420.5" y1="520.5" x2="422" y2="520.5" stroke="#fff" stroke-width="0.5" />
<text x="431.6" y="523" font-size="6.9" fill="#000" stroke="#000" stroke-width="0.06" >3.0</text>
<line x1="427.8" y1="534.7" x2="429.3" y2="534.7" stroke="#fff" stroke-width="0.5" />
<line x1="420.5" y1="534.7" x2="422" y2="534.7" stroke="#fff" stroke-width="0.5" />
<text x="431.6" y="537.2" font-size="6.9" fill="#000" stroke="#000" stroke-width="0.06" >2.5</text>
<line x1="427.8" y1="548.6" x2="429.3" y2="548.6" stroke="#fff" stroke-width="0.5" />
<line x1="420.5" y1="548.6" x2="422" y2="548.6" stroke="#fff" stroke-width="0.5" />
<text x="431.6" y="551.1" font-size="6.9" fill="#000" stroke="#000" stroke-width="0.06" >2.0</text>
<line x1="427.8" y1="562.6" x2="429.3" y2="562.6" stroke="#fff" stroke-width="0.5" />
<line x1="420.5" y1="562.6" x2="422" y2="562.6" stroke="#fff" stroke-width="0.5" />
<text x="431.6" y="565.1" font-size="6.9" fill="#000" stroke="#000" stroke-width="0.06" >1.5</text>
<text x="444.8" y="364" font-size="15.6" fill="#000" stroke="#000" stroke-width="0.05" >D</text>
<rect x="463.4" y="387.8" width="213.2" height="192.7" rx="14" fill="#f8f8f8" stroke="#cfcfcf" stroke-width="0.8" />
<line x1="531.6" y1="411.3" x2="531.6" y2="433.5" stroke="#222" stroke-width="0.6" />
<polygon points="531.6,435.4 530.4,432.84 532.8,432.84" fill="#222"/>
<path d="M531.6 423.7 L612.8 423.7 L612.8 430.4" fill="none" stroke="#222" stroke-width="0.6" />
<polygon points="612.8,432.4 611.6,429.84 614,429.84" fill="#222"/>
<line x1="531.6" y1="452.2" x2="531.6" y2="468" stroke="#222" stroke-width="0.6" />
<polygon points="531.6,470 530.4,467.44 532.8,467.44" fill="#222"/>
<line x1="531.6" y1="504.3" x2="531.6" y2="532.5" stroke="#222" stroke-width="0.6" />
<polygon points="531.6,534.5 530.4,531.94 532.8,531.94" fill="#222"/>
<line x1="579.9" y1="548.6" x2="594.6" y2="548.6" stroke="#222" stroke-width="0.6" />
<polygon points="596.7,548.6 594.14,547.4 594.14,549.8" fill="#222"/>
<line x1="612.8" y1="452.2" x2="612.8" y2="536.5" stroke="#555" stroke-width="0.6" stroke-dasharray="3.8 2.2"/>
<polygon points="612.8,538.7 611.6,536.14 614,536.14" fill="#333"/>
<rect x="502.7" y="394.5" width="58.1" height="16.8" rx="6.5" fill="#fff" stroke="#3a3a3a" stroke-width="0.7" />
<text x="531.6" y="401.3" font-size="7.4" text-anchor="middle" fill="#000" stroke="#000" stroke-width="0.06" >Discovery cohort</text>
<text x="531.6" y="410" font-size="7.4" text-anchor="middle" fill="#000" stroke="#000" stroke-width="0.06" >(n=536)</text>
<text x="575.3" y="421.4" font-size="7.4" text-anchor="middle" fill="#000" stroke="#000" stroke-width="0.06" >Randomly divided</text>
<text x="575.5" y="430.5" font-size="7.4" text-anchor="middle" fill="#000" stroke="#000" stroke-width="0.06" >(Train : Test = 4:1)</text>
<rect x="508.7" y="435.4" width="46" height="16.8" rx="6.5" fill="#fff" stroke="#3a3a3a" stroke-width="0.7" />
<text x="531.6" y="441.3" font-size="7.4" text-anchor="middle" fill="#000" stroke="#000" stroke-width="0.06" >Training set</text>
<text x="531.6" y="451" font-size="7.4" text-anchor="middle" fill="#000" stroke="#000" stroke-width="0.06" >(n=429)</text>
<rect x="593.3" y="435.4" width="44.7" height="16.8" rx="6.5" fill="#fff" stroke="#3a3a3a" stroke-width="0.7" />
<text x="615.5" y="441.3" font-size="7.4" text-anchor="middle" fill="#000" stroke="#000" stroke-width="0.06" >Testing set</text>
<text x="615.5" y="451" font-size="7.4" text-anchor="middle" fill="#000" stroke="#000" stroke-width="0.06" >(n=107)</text>
<rect x="495.3" y="470" width="70.5" height="34.3" rx="10.5" fill="#fff" stroke="#3a3a3a" stroke-width="0.7" />
<text x="531.2" y="476.8" font-size="7.4" text-anchor="middle" fill="#000" stroke="#000" stroke-width="0.06" >Statistical test</text>
<text x="531.2" y="485.2" font-size="7.4" text-anchor="middle" fill="#000" stroke="#000" stroke-width="0.06" >Feature importance</text>
<text x="531.2" y="494.3" font-size="7.4" text-anchor="middle" fill="#000" stroke="#000" stroke-width="0.06" >(XGBoost with</text>
<text x="531.2" y="502.7" font-size="7.4" text-anchor="middle" fill="#000" stroke="#000" stroke-width="0.06" >10-fold cross)</text>
<rect x="481.9" y="534.5" width="98" height="26.9" rx="9" fill="#fff" stroke="#3a3a3a" stroke-width="0.7" />
<text x="530.9" y="542.3" font-size="7.4" text-anchor="middle" fill="#000" stroke="#000" stroke-width="0.06" >XGBoost</text>
<text x="530.9" y="549.2" font-size="7.4" text-anchor="middle" fill="#000" stroke="#000" stroke-width="0.06" >Top 10 combined features</text>
<text x="530.9" y="557.1" font-size="7.4" text-anchor="middle" fill="#000" stroke="#000" stroke-width="0.06" >Hyperparameter optimization</text>
<rect x="596.7" y="541.2" width="41.3" height="16.8" rx="5" fill="#fdb45c" stroke="none" stroke-width="1" />
<text x="617.6" y="551.4" font-size="7.4" text-anchor="middle" fill="#000" stroke="#000" stroke-width="0.06" >Final model</text>
<rect x="617.2" y="468.3" width="58" height="8.3" rx="1.5" fill="#b5e08e" stroke="none" stroke-width="1" />
<text x="646.2" y="474.9" font-size="7.4" text-anchor="middle" fill="#000" stroke="#000" stroke-width="0.06" >Model evaluation</text>
<text x="617.9" y="485.9" font-size="7.4" fill="#000" stroke="#000" stroke-width="0.06" >ROC, Accuracy</text>
<text x="617.9" y="495" font-size="7.4" fill="#000" stroke="#000" stroke-width="0.06" >F1, precision</text>
<text x="617.9" y="503.7" font-size="7.4" fill="#000" stroke="#000" stroke-width="0.06" >Recall</text>
<rect x="468.4" y="455.6" width="8.5" height="56.6" rx="2" fill="#a9d3ea" stroke="none" stroke-width="1" />
<text x="475.2" y="483.9" font-size="7.2" text-anchor="middle" transform="rotate(-90 475.2 483.9)" fill="#000" stroke="#000" stroke-width="0.06" >Feature selection</text>
<rect x="468.4" y="526.1" width="8.5" height="47.2" rx="2" fill="#f5a9a9" stroke="none" stroke-width="1" />
<text x="475.2" y="549.7" font-size="7.2" text-anchor="middle" transform="rotate(-90 475.2 549.7)" fill="#000" stroke="#000" stroke-width="0.06" >Model training</text>
<text x="-0.1" y="615.2" font-size="14.8" fill="#000" stroke="#000" stroke-width="0.05" >E</text>
<rect x="47.5" y="619.1" width="60.4" height="7.8" rx="0" fill="#ff8c00" stroke="none" stroke-width="1" />
<line x1="45.9" y1="623" x2="47.5" y2="623" stroke="#4a4a4a" stroke-width="0.6" />
<text x="40.9" y="622.9" font-size="7.3" text-anchor="end" fill="#000" stroke="#000" stroke-width="0.06" >CUTA</text>
<rect x="47.5" y="631.13" width="54" height="7.8" rx="0" fill="#ff8c00" stroke="none" stroke-width="1" />
<line x1="45.9" y1="635.03" x2="47.5" y2="635.03" stroke="#4a4a4a" stroke-width="0.6" />
<text x="40.9" y="635.12" font-size="7.3" text-anchor="end" fill="#000" stroke="#000" stroke-width="0.06" >GNAI3</text>
<rect x="47.5" y="643.16" width="48.5" height="7.8" rx="0" fill="#ff8c00" stroke="none" stroke-width="1" />
<line x1="45.9" y1="647.06" x2="47.5" y2="647.06" stroke="#4a4a4a" stroke-width="0.6" />
<text x="40.9" y="647.34" font-size="7.3" text-anchor="end" fill="#000" stroke="#000" stroke-width="0.06" >BCAR1</text>
<rect x="47.5" y="655.19" width="41.5" height="7.8" rx="0" fill="#ff8c00" stroke="none" stroke-width="1" />
<line x1="45.9" y1="659.09" x2="47.5" y2="659.09" stroke="#4a4a4a" stroke-width="0.6" />
<text x="40.9" y="659.56" font-size="7.3" text-anchor="end" fill="#000" stroke="#000" stroke-width="0.06" >MANBA</text>
<rect x="47.5" y="667.22" width="37.5" height="7.8" rx="0" fill="#ff8c00" stroke="none" stroke-width="1" />
<line x1="45.9" y1="671.12" x2="47.5" y2="671.12" stroke="#4a4a4a" stroke-width="0.6" />
<text x="40.9" y="671.78" font-size="7.3" text-anchor="end" fill="#000" stroke="#000" stroke-width="0.06" >SPARC</text>
<rect x="47.5" y="679.25" width="36.5" height="7.8" rx="0" fill="#ff8c00" stroke="none" stroke-width="1" />
<line x1="45.9" y1="683.15" x2="47.5" y2="683.15" stroke="#4a4a4a" stroke-width="0.6" />
<text x="40.9" y="684" font-size="7.3" text-anchor="end" fill="#000" stroke="#000" stroke-width="0.06" >ARHGEF10</text>
<rect x="47.5" y="691.28" width="36.3" height="7.8" rx="0" fill="#ff8c00" stroke="none" stroke-width="1" />
<line x1="45.9" y1="695.18" x2="47.5" y2="695.18" stroke="#4a4a4a" stroke-width="0.6" />
<text x="40.9" y="696.22" font-size="7.3" text-anchor="end" fill="#000" stroke="#000" stroke-width="0.06" >MME</text>
<rect x="47.5" y="703.31" width="35.5" height="7.8" rx="0" fill="#ff8c00" stroke="none" stroke-width="1" />
<line x1="45.9" y1="707.21" x2="47.5" y2="707.21" stroke="#4a4a4a" stroke-width="0.6" />
<text x="40.9" y="708.44" font-size="7.3" text-anchor="end" fill="#000" stroke="#000" stroke-width="0.06" >LONP1</text>
<rect x="47.5" y="715.34" width="35.3" height="7.8" rx="0" fill="#ff8c00" stroke="none" stroke-width="1" />
<line x1="45.9" y1="719.24" x2="47.5" y2="719.24" stroke="#4a4a4a" stroke-width="0.6" />
<text x="40.9" y="720.66" font-size="7.3" text-anchor="end" fill="#000" stroke="#000" stroke-width="0.06" >ANXA2</text>
<rect x="47.5" y="727.37" width="32" height="7.8" rx="0" fill="#ff8c00" stroke="none" stroke-width="1" />
<line x1="45.9" y1="731.27" x2="47.5" y2="731.27" stroke="#4a4a4a" stroke-width="0.6" />
<text x="40.9" y="732.88" font-size="7.3" text-anchor="end" fill="#000" stroke="#000" stroke-width="0.06" >DHX9</text>
<line x1="47.5" y1="612.5" x2="47.5" y2="740.6" stroke="#4a4a4a" stroke-width="0.8" />
<line x1="47.1" y1="740.6" x2="112.5" y2="740.6" stroke="#4a4a4a" stroke-width="0.8" />
<line x1="47.5" y1="740.6" x2="47.5" y2="744.4" stroke="#666" stroke-width="0.6" />
<text x="47.5" y="753.7" font-size="7.3" text-anchor="middle" fill="#000" stroke="#000" stroke-width="0.06" >0</text>
<line x1="73.4" y1="740.6" x2="73.4" y2="744.4" stroke="#666" stroke-width="0.6" />
<text x="73.4" y="753.7" font-size="7.3" text-anchor="middle" fill="#000" stroke="#000" stroke-width="0.06" >100</text>
<line x1="99.3" y1="740.6" x2="99.3" y2="744.4" stroke="#666" stroke-width="0.6" />
<text x="99.3" y="753.7" font-size="7.3" text-anchor="middle" fill="#000" stroke="#000" stroke-width="0.06" >200</text>
<text x="76.1" y="763.5" font-size="7.2" text-anchor="middle" fill="#000" stroke="#000" stroke-width="0.06" >Feature importance</text>
<text x="121" y="615.2" font-size="14.8" fill="#000" stroke="#000" stroke-width="0.05" >F</text>
<rect x="156.6" y="635.2" width="103.2" height="91.1" rx="0" fill="#fff" stroke="#444" stroke-width="0.6" />
<line x1="157" y1="725.9" x2="259.4" y2="638.9" stroke="#444" stroke-width="0.7" stroke-dasharray="7.6 3.2"/>
<path d="M157.1 725.8 L157.1 652.2 L160.6 652.2 L160.6 649.4 L172.9 649.4 L172.9 646.9 L185.1 646.9 L185.1 643.4 L193.3 643.4 L195.6 640.5 L221.3 640.5 L221.3 639.4 L259.4 639.4" fill="none" stroke="#fdbb6c" stroke-width="0.8" />
<line x1="155.2" y1="725.9" x2="156.6" y2="725.9" stroke="#444" stroke-width="0.5" />
<text x="153.2" y="726.9" font-size="7.3" text-anchor="end" fill="#000" stroke="#000" stroke-width="0.06" >0.0</text>
<line x1="157.3" y1="726.3" x2="157.3" y2="727.7" stroke="#444" stroke-width="0.5" />
<text x="157.9" y="735.7" font-size="7.3" text-anchor="middle" fill="#000" stroke="#000" stroke-width="0.06" >0.0</text>
<line x1="155.2" y1="708.5" x2="156.6" y2="708.5" stroke="#444" stroke-width="0.5" />
<text x="153.2" y="709.5" font-size="7.3" text-anchor="end" fill="#000" stroke="#000" stroke-width="0.06" >0.2</text>
<line x1="177.75" y1="726.3" x2="177.75" y2="727.7" stroke="#444" stroke-width="0.5" />
<text x="178.35" y="735.7" font-size="7.3" text-anchor="middle" fill="#000" stroke="#000" stroke-width="0.06" >0.2</text>
<line x1="155.2" y1="691.1" x2="156.6" y2="691.1" stroke="#444" stroke-width="0.5" />
<text x="153.2" y="692.1" font-size="7.3" text-anchor="end" fill="#000" stroke="#000" stroke-width="0.06" >0.4</text>
<line x1="198.2" y1="726.3" x2="198.2" y2="727.7" stroke="#444" stroke-width="0.5" />
<text x="198.8" y="735.7" font-size="7.3" text-anchor="middle" fill="#000" stroke="#000" stroke-width="0.06" >0.4</text>
<line x1="155.2" y1="673.7" x2="156.6" y2="673.7" stroke="#444" stroke-width="0.5" />
<text x="153.2" y="674.7" font-size="7.3" text-anchor="end" fill="#000" stroke="#000" stroke-width="0.06" >0.6</text>
<line x1="218.65" y1="726.3" x2="218.65" y2="727.7" stroke="#444" stroke-width="0.5" />
<text x="219.25" y="735.7" font-size="7.3" text-anchor="middle" fill="#000" stroke="#000" stroke-width="0.06" >0.6</text>
<line x1="155.2" y1="656.3" x2="156.6" y2="656.3" stroke="#444" stroke-width="0.5" />
<text x="153.2" y="657.3" font-size="7.3" text-anchor="end" fill="#000" stroke="#000" stroke-width="0.06" >0.8</text>
<line x1="239.1" y1="726.3" x2="239.1" y2="727.7" stroke="#444" stroke-width="0.5" />
<text x="239.7" y="735.7" font-size="7.3" text-anchor="middle" fill="#000" stroke="#000" stroke-width="0.06" >0.8</text>
<line x1="155.2" y1="638.9" x2="156.6" y2="638.9" stroke="#444" stroke-width="0.5" />
<text x="153.2" y="639.9" font-size="7.3" text-anchor="end" fill="#000" stroke="#000" stroke-width="0.06" >1.0</text>
<line x1="259.55" y1="726.3" x2="259.55" y2="727.7" stroke="#444" stroke-width="0.5" />
<text x="256.8" y="735.7" font-size="7.3" text-anchor="middle" fill="#000" stroke="#000" stroke-width="0.06" >1.0</text>
<text x="210" y="630.5" font-size="7.3" text-anchor="middle" fill="#000" stroke="#000" stroke-width="0.06" >ROC  (Test set)</text>
<text x="228.9" y="712.6" font-size="7.3" text-anchor="middle" fill="#000" stroke="#000" stroke-width="0.06" >AUC : 0.96</text>
<text x="206.1" y="744.6" font-size="7.3" text-anchor="middle" fill="#000" stroke="#000" stroke-width="0.06" >False positive rate</text>
<text x="137.4" y="680.7" font-size="7.3" text-anchor="middle" transform="rotate(-90 137.4 680.7)" fill="#000" stroke="#000" stroke-width="0.06" >True positive rate</text>
<rect x="281.5" y="634.9" width="41.9" height="36" rx="0" fill="#f6583e" stroke="none" stroke-width="1" />
<rect x="323.4" y="634.9" width="42.3" height="36" rx="0" fill="#fee3d6" stroke="none" stroke-width="1" />
<rect x="281.5" y="670.9" width="41.9" height="36.8" rx="0" fill="#fee5d9" stroke="none" stroke-width="1" />
<rect x="323.4" y="670.9" width="42.3" height="36.8" rx="0" fill="#67000d" stroke="none" stroke-width="1" />
<text x="302.45" y="655.5" font-size="7.3" text-anchor="middle" fill="#fff" stroke="#fff" stroke-width="0.06" >34</text>
<text x="344.55" y="655.5" font-size="7.3" text-anchor="middle" fill="#222" stroke="#222" stroke-width="0.06" >6</text>
<text x="302.45" y="691.9" font-size="7.3" text-anchor="middle" fill="#222" stroke="#222" stroke-width="0.06" >7</text>
<text x="344.55" y="691.9" font-size="7.3" text-anchor="middle" fill="#fff" stroke="#fff" stroke-width="0.06" >60</text>
<text x="326.2" y="630" font-size="7.3" text-anchor="middle" fill="#000" stroke="#000" stroke-width="0.06" >Confusion matrix (Test set)</text>
<defs><linearGradient id="reds" x1="0" x2="0" y1="0" y2="1"><stop offset="0" stop-color="#67000d"/><stop offset="0.12" stop-color="#a50f15"/><stop offset="0.27" stop-color="#cb181d"/><stop offset="0.42" stop-color="#ef3b2c"/><stop offset="0.56" stop-color="#fb6a4a"/><stop offset="0.70" stop-color="#fc9272"/><stop offset="0.83" stop-color="#fcbba1"/><stop offset="0.93" stop-color="#fee0d2"/><stop offset="1" stop-color="#fff5f0"/></linearGradient></defs>
<rect x="371" y="634.9" width="4.5" height="72.8" rx="0" fill="url(#reds)" stroke="none" stroke-width="1" />
<line x1="375.5" y1="639.6" x2="376.6" y2="639.6" stroke="#444" stroke-width="0.4" />
<text x="377.2" y="642.2" font-size="7.3" fill="#000" stroke="#000" stroke-width="0.06" >60</text>
<line x1="375.5" y1="651.5" x2="376.6" y2="651.5" stroke="#444" stroke-width="0.4" />
<text x="377.2" y="654.1" font-size="7.3" fill="#000" stroke="#000" stroke-width="0.06" >50</text>
<line x1="375.5" y1="663.1" x2="376.6" y2="663.1" stroke="#444" stroke-width="0.4" />
<text x="377.2" y="665.7" font-size="7.3" fill="#000" stroke="#000" stroke-width="0.06" >40</text>
<line x1="375.5" y1="674.8" x2="376.6" y2="674.8" stroke="#444" stroke-width="0.4" />
<text x="377.2" y="677.4" font-size="7.3" fill="#000" stroke="#000" stroke-width="0.06" >30</text>
<line x1="375.5" y1="686.6" x2="376.6" y2="686.6" stroke="#444" stroke-width="0.4" />
<text x="377.2" y="689.2" font-size="7.3" fill="#000" stroke="#000" stroke-width="0.06" >20</text>
<line x1="375.5" y1="698.3" x2="376.6" y2="698.3" stroke="#444" stroke-width="0.4" />
<text x="377.2" y="700.9" font-size="7.3" fill="#000" stroke="#000" stroke-width="0.06" >10</text>
<text x="278.4" y="651.9" font-size="7.3" text-anchor="middle" transform="rotate(-90 278.4 651.9)" fill="#000" stroke="#000" stroke-width="0.06" >HC</text>
<text x="278.4" y="688.3" font-size="7.3" text-anchor="middle" transform="rotate(-90 278.4 688.3)" fill="#000" stroke="#000" stroke-width="0.06" >CP</text>
<text x="270.7" y="671.3" font-size="7.3" text-anchor="middle" transform="rotate(-90 270.7 671.3)" fill="#000" stroke="#000" stroke-width="0.06" >True label</text>
<line x1="280.3" y1="652.9" x2="281.5" y2="652.9" stroke="#444" stroke-width="0.4" />
<line x1="280.3" y1="689.3" x2="281.5" y2="689.3" stroke="#444" stroke-width="0.4" />
<line x1="302.5" y1="707.7" x2="302.5" y2="708.9" stroke="#444" stroke-width="0.4" />
<line x1="344.5" y1="707.7" x2="344.5" y2="708.9" stroke="#444" stroke-width="0.4" />
<text x="301.5" y="718" font-size="7.3" text-anchor="middle" fill="#000" stroke="#000" stroke-width="0.06" >HC</text>
<text x="343.2" y="718" font-size="7.3" text-anchor="middle" fill="#000" stroke="#000" stroke-width="0.06" >CP</text>
<text x="322.9" y="725.6" font-size="7.3" text-anchor="middle" fill="#000" stroke="#000" stroke-width="0.06" >Predicted label</text>
<text x="273.9" y="735.2" font-size="7.3" fill="#000" stroke="#000" stroke-width="0.06" >Accuracy : 0.88</text>
<text x="330.1" y="735.2" font-size="7.3" fill="#000" stroke="#000" stroke-width="0.06" >Recall : 0.91</text>
<text x="273.5" y="746" font-size="7.3" fill="#000" stroke="#000" stroke-width="0.06" >Precision : 0.88</text>
<text x="330.1" y="746" font-size="7.3" fill="#000" stroke="#000" stroke-width="0.06" >F1-score : 0.88</text>
<text x="410.8" y="615.2" font-size="14.8" fill="#000" stroke="#000" stroke-width="0.05" >H</text>
<rect x="421.2" y="634.2" width="103.5" height="91.1" rx="0" fill="#fff" stroke="#7a7a7a" stroke-width="0.6" />
<line x1="425.9" y1="722.3" x2="519.8" y2="638.7" stroke="#555" stroke-width="0.7" stroke-dasharray="7.6 3.2"/>
<path d="M425.9 722.3 L425.9 649.4 L433.6 649.4 L433.6 644.1 L441.5 644.1 L441.5 638.7 L519.8 638.7" fill="none" stroke="#fdd3a1" stroke-width="0.8" />
<line x1="419.8" y1="722.4" x2="421.2" y2="722.4" stroke="#7a7a7a" stroke-width="0.5" />
<text x="418.6" y="725" font-size="7.3" text-anchor="end" fill="#000" stroke="#000" stroke-width="0.06" >0.0</text>
<line x1="425.9" y1="725.3" x2="425.9" y2="726.7" stroke="#7a7a7a" stroke-width="0.5" />
<text x="425.9" y="734.6" font-size="7.3" text-anchor="middle" fill="#000" stroke="#000" stroke-width="0.06" >0.0</text>
<line x1="419.8" y1="705.66" x2="421.2" y2="705.66" stroke="#7a7a7a" stroke-width="0.5" />
<text x="418.6" y="708.26" font-size="7.3" text-anchor="end" fill="#000" stroke="#000" stroke-width="0.06" >0.2</text>
<line x1="444.68" y1="725.3" x2="444.68" y2="726.7" stroke="#7a7a7a" stroke-width="0.5" />
<text x="444.68" y="734.6" font-size="7.3" text-anchor="middle" fill="#000" stroke="#000" stroke-width="0.06" >0.2</text>
<line x1="419.8" y1="688.92" x2="421.2" y2="688.92" stroke="#7a7a7a" stroke-width="0.5" />
<text x="418.6" y="691.52" font-size="7.3" text-anchor="end" fill="#000" stroke="#000" stroke-width="0.06" >0.4</text>
<line x1="463.46" y1="725.3" x2="463.46" y2="726.7" stroke="#7a7a7a" stroke-width="0.5" />
<text x="463.46" y="734.6" font-size="7.3" text-anchor="middle" fill="#000" stroke="#000" stroke-width="0.06" >0.4</text>
<line x1="419.8" y1="672.18" x2="421.2" y2="672.18" stroke="#7a7a7a" stroke-width="0.5" />
<text x="418.6" y="674.78" font-size="7.3" text-anchor="end" fill="#000" stroke="#000" stroke-width="0.06" >0.6</text>
<line x1="482.24" y1="725.3" x2="482.24" y2="726.7" stroke="#7a7a7a" stroke-width="0.5" />
<text x="482.24" y="734.6" font-size="7.3" text-anchor="middle" fill="#000" stroke="#000" stroke-width="0.06" >0.6</text>
<line x1="419.8" y1="655.44" x2="421.2" y2="655.44" stroke="#7a7a7a" stroke-width="0.5" />
<text x="418.6" y="658.04" font-size="7.3" text-anchor="end" fill="#000" stroke="#000" stroke-width="0.06" >0.8</text>
<line x1="501.02" y1="725.3" x2="501.02" y2="726.7" stroke="#7a7a7a" stroke-width="0.5" />
<text x="501.02" y="734.6" font-size="7.3" text-anchor="middle" fill="#000" stroke="#000" stroke-width="0.06" >0.8</text>
<line x1="419.8" y1="638.7" x2="421.2" y2="638.7" stroke="#7a7a7a" stroke-width="0.5" />
<text x="418.6" y="641.3" font-size="7.3" text-anchor="end" fill="#000" stroke="#000" stroke-width="0.06" >1.0</text>
<line x1="519.8" y1="725.3" x2="519.8" y2="726.7" stroke="#7a7a7a" stroke-width="0.5" />
<text x="519.8" y="734.6" font-size="7.3" text-anchor="middle" fill="#000" stroke="#000" stroke-width="0.06" >1.0</text>
<text x="490.6" y="713.8" font-size="7.3" text-anchor="middle" fill="#000" stroke="#000" stroke-width="0.06" >AUC = 0.98</text>
<text x="472" y="744.6" font-size="7.3" text-anchor="middle" fill="#000" stroke="#000" stroke-width="0.06" >False positive rate</text>
<text x="405" y="680.7" font-size="7.3" text-anchor="middle" transform="rotate(-90 405 680.7)" fill="#000" stroke="#000" stroke-width="0.06" >True positive rate</text>
<text x="533.5" y="622.9" font-size="7.2" text-anchor="middle" fill="#000" stroke="#000" stroke-width="0.06" >Independent  cohort (ELISA)</text>
<rect x="558.9" y="635" width="41.5" height="36.9" rx="0" fill="#d42321" stroke="none" stroke-width="1" />
<rect x="600.4" y="635" width="42.6" height="36.9" rx="0" fill="#fff0e9" stroke="none" stroke-width="1" />
<rect x="558.9" y="671.9" width="41.5" height="36.7" rx="0" fill="#fff0e9" stroke="none" stroke-width="1" />
<rect x="600.4" y="671.9" width="42.6" height="36.7" rx="0" fill="#67000d" stroke="none" stroke-width="1" />
<text x="579.65" y="656.05" font-size="7.3" text-anchor="middle" fill="#fff" stroke="#fff" stroke-width="0.06" >11</text>
<text x="621.7" y="656.05" font-size="7.3" text-anchor="middle" fill="#222" stroke="#222" stroke-width="0.06" >1</text>
<text x="579.65" y="692.85" font-size="7.3" text-anchor="middle" fill="#222" stroke="#222" stroke-width="0.06" >1</text>
<text x="621.7" y="692.85" font-size="7.3" text-anchor="middle" fill="#fff" stroke="#fff" stroke-width="0.06" >15</text>
<rect x="648.3" y="633.9" width="4.9" height="75.4" rx="0" fill="url(#reds)" stroke="none" stroke-width="1" />
<line x1="653.2" y1="637.4" x2="654.3" y2="637.4" stroke="#444" stroke-width="0.4" />
<text x="655.1" y="640" font-size="7.3" fill="#000" stroke="#000" stroke-width="0.06" >14</text>
<line x1="653.2" y1="648.6" x2="654.3" y2="648.6" stroke="#444" stroke-width="0.4" />
<text x="655.1" y="651.2" font-size="7.3" fill="#000" stroke="#000" stroke-width="0.06" >12</text>
<line x1="653.2" y1="659.6" x2="654.3" y2="659.6" stroke="#444" stroke-width="0.4" />
<text x="655.1" y="662.2" font-size="7.3" fill="#000" stroke="#000" stroke-width="0.06" >10</text>
<line x1="653.2" y1="670.5" x2="654.3" y2="670.5" stroke="#444" stroke-width="0.4" />
<text x="655.1" y="673.1" font-size="7.3" fill="#000" stroke="#000" stroke-width="0.06" >8</text>
<line x1="653.2" y1="681.5" x2="654.3" y2="681.5" stroke="#444" stroke-width="0.4" />
<text x="655.1" y="684.1" font-size="7.3" fill="#000" stroke="#000" stroke-width="0.06" >6</text>
<line x1="653.2" y1="692.5" x2="654.3" y2="692.5" stroke="#444" stroke-width="0.4" />
<text x="655.1" y="695.1" font-size="7.3" fill="#000" stroke="#000" stroke-width="0.06" >4</text>
<line x1="653.2" y1="703.2" x2="654.3" y2="703.2" stroke="#444" stroke-width="0.4" />
<text x="655.1" y="705.8" font-size="7.3" fill="#000" stroke="#000" stroke-width="0.06" >2</text>
<text x="556" y="650.2" font-size="7.3" text-anchor="middle" transform="rotate(-90 556 650.2)" fill="#000" stroke="#000" stroke-width="0.06" >HC</text>
<text x="556" y="687.1" font-size="7.3" text-anchor="middle" transform="rotate(-90 556 687.1)" fill="#000" stroke="#000" stroke-width="0.06" >CP</text>
<text x="548.5" y="671.2" font-size="7.3" text-anchor="middle" transform="rotate(-90 548.5 671.2)" fill="#000" stroke="#000" stroke-width="0.06" >True label</text>
<line x1="557.7" y1="653.4" x2="558.9" y2="653.4" stroke="#444" stroke-width="0.4" />
<line x1="557.7" y1="690.2" x2="558.9" y2="690.2" stroke="#444" stroke-width="0.4" />
<line x1="579.7" y1="708.6" x2="579.7" y2="709.8" stroke="#444" stroke-width="0.4" />
<line x1="621.7" y1="708.6" x2="621.7" y2="709.8" stroke="#444" stroke-width="0.4" />
<text x="579.9" y="716.2" font-size="7.3" text-anchor="middle" fill="#000" stroke="#000" stroke-width="0.06" >HC</text>
<text x="621.9" y="716.2" font-size="7.3" text-anchor="middle" fill="#000" stroke="#000" stroke-width="0.06" >CP</text>
<text x="601" y="725.1" font-size="7.3" text-anchor="middle" fill="#000" stroke="#000" stroke-width="0.06" >Predicted label</text>
<text x="554.2" y="736.8" font-size="7.3" fill="#000" stroke="#000" stroke-width="0.06" >Accuracy : 0.93</text>
<text x="609.6" y="736.8" font-size="7.3" fill="#000" stroke="#000" stroke-width="0.06" >Recall : 0.94</text>
<text x="554.2" y="747.7" font-size="7.3" fill="#000" stroke="#000" stroke-width="0.06" >Precision : 0.94</text>
<text x="609.6" y="747.7" font-size="7.3" fill="#000" stroke="#000" stroke-width="0.06" >F1-score : 0.94</text>
<text x="-1.1" y="778.1" font-size="15.6" fill="#000" stroke="#000" stroke-width="0.05" >G</text>
<path d="M21.5 798.7 L21.5 891.3 L61.3 891.3" fill="none" stroke="#222" stroke-width="0.8" />
<text x="19.4" y="819.3" font-size="7.3" text-anchor="end" fill="#000" stroke="#000" stroke-width="0.06" >30</text>
<text x="19.4" y="844.2" font-size="7.3" text-anchor="end" fill="#000" stroke="#000" stroke-width="0.06" >20</text>
<text x="19.4" y="869.2" font-size="7.3" text-anchor="end" fill="#000" stroke="#000" stroke-width="0.06" >10</text>
<text x="7.2" y="840.4" font-size="7.3" text-anchor="middle" transform="rotate(-90 7.2 840.4)" fill="#000" stroke="#000" stroke-width="0.06" >CUTA (ng/ml)</text>
<text x="21.5" y="797.1" font-size="7.3" fill="#000" stroke="#000" stroke-width="0.06"><tspan font-style="italic">P</tspan> = 7.8e−07</text>
<path d="M32.7 804.4 L32.7 802.4 L52.7 802.4 L52.7 804.4" fill="none" stroke="#666" stroke-width="0.7" />
<path d="M28.9 859.9h1M32.3 871.0h1M32.7 871.9h1M31.1 840.2h1M34.3 845.8h1M28.7 857.5h1M33.1 852.3h1M34.5 875.7h1M33.9 858.4h1M28.5 845.4h1M30.2 857.0h1M35.8 873.4h1M31.1 871.6h1M31.6 853.7h1M33.1 872.3h1M35.9 863.5h1M28.4 853.4h1M28.4 839.8h1M31.5 869.5h1M28.5 864.5h1M33.3 842.0h1M32.8 871.6h1M30.1 841.6h1M28.8 883.5h1M29.8 852.6h1M31.0 840.2h1M34.8 847.7h1M35.6 859.4h1M31.3 845.8h1M27.8 878.1h1M31.6 875.0h1M30.6 861.1h1M28.6 864.4h1M34.8 871.2h1M34.4 822.5h1M32.2 836.0h1M33.7 838.0h1" stroke="#d9604f" stroke-width="1" stroke-opacity="0.75" fill="none"/>
<path d="M51.0 885.3h1M50.7 886.9h1M50.4 886.2h1M54.8 877.0h1M56.0 880.3h1M56.1 886.8h1M47.6 876.4h1M52.7 882.7h1M48.3 887.5h1M47.8 876.9h1M47.7 878.8h1M54.1 885.0h1M48.6 886.4h1M55.1 879.1h1M47.5 880.6h1M52.8 877.0h1M49.1 885.6h1M51.3 881.2h1M48.6 877.8h1M52.0 886.8h1M56.2 887.2h1M51.9 887.6h1M47.7 879.6h1M49.8 878.3h1M48.0 878.9h1M51.6 878.0h1M52.6 806.0h1M48.5 845.0h1M52.4 850.0h1M50.8 852.0h1M54.3 866.0h1M49.8 873.0h1" stroke="#3a93d8" stroke-width="1" stroke-opacity="0.75" fill="none"/>
<line x1="32.7" y1="839.6" x2="32.7" y2="853.3" stroke="#cc5a4a" stroke-width="0.8" />
<line x1="32.7" y1="870.9" x2="32.7" y2="883.5" stroke="#cc5a4a" stroke-width="0.8" />
<rect x="28.6" y="853.3" width="8.2" height="17.6" rx="0" fill="none" stroke="#cc5a4a" stroke-width="0.8" />
<line x1="28.6" y1="864.1" x2="36.8" y2="864.1" stroke="#cc5a4a" stroke-width="0.8" />
<line x1="52.1" y1="876.4" x2="52.1" y2="879.9" stroke="#3289cf" stroke-width="0.8" />
<line x1="52.1" y1="887.2" x2="52.1" y2="888" stroke="#3289cf" stroke-width="0.8" />
<rect x="48" y="879.9" width="8.2" height="7.3" rx="0" fill="none" stroke="#3289cf" stroke-width="0.8" />
<line x1="48" y1="883.1" x2="56.2" y2="883.1" stroke="#3289cf" stroke-width="0.8" />
<text x="31.5" y="901.3" font-size="7.3" text-anchor="middle" fill="#000" stroke="#000" stroke-width="0.06" >CP</text>
<text x="51.7" y="901.3" font-size="7.3" text-anchor="middle" fill="#000" stroke="#000" stroke-width="0.06" >HC</text>
<path d="M89.9 798.7 L89.9 890 L130.8 890" fill="none" stroke="#222" stroke-width="0.8" />
<text x="87.9" y="799.7" font-size="7.3" text-anchor="end" fill="#000" stroke="#000" stroke-width="0.06" >60</text>
<text x="87.9" y="815.6" font-size="7.3" text-anchor="end" fill="#000" stroke="#000" stroke-width="0.06" >50</text>
<text x="87.9" y="831.6" font-size="7.3" text-anchor="end" fill="#000" stroke="#000" stroke-width="0.06" >40</text>
<text x="87.9" y="846.9" font-size="7.3" text-anchor="end" fill="#000" stroke="#000" stroke-width="0.06" >30</text>
<text x="87.9" y="862.2" font-size="7.3" text-anchor="end" fill="#000" stroke="#000" stroke-width="0.06" >20</text>
<text x="87.9" y="877.6" font-size="7.3" text-anchor="end" fill="#000" stroke="#000" stroke-width="0.06" >10</text>
<text x="87.9" y="892.3" font-size="7.3" text-anchor="end" fill="#000" stroke="#000" stroke-width="0.06" >0</text>
<text x="75.8" y="840.4" font-size="7.3" text-anchor="middle" transform="rotate(-90 75.8 840.4)" fill="#000" stroke="#000" stroke-width="0.06" >GNAI3 (ng/ml)</text>
<text x="90.9" y="797.1" font-size="7.3" fill="#000" stroke="#000" stroke-width="0.06"><tspan font-style="italic">P</tspan> = 0.00021</text>
<path d="M101.6 804.4 L101.6 802.4 L121 802.4 L121 804.4" fill="none" stroke="#111" stroke-width="0.7" />
<path d="M102.5 868.3h1M102.2 851.3h1M100.5 824.2h1M102.3 830.9h1M100.0 827.9h1M97.0 839.2h1M104.0 858.6h1M102.2 849.3h1M104.4 874.7h1M98.9 834.7h1M98.8 855.1h1M105.4 829.2h1M103.6 859.6h1M100.1 838.9h1M99.1 821.3h1M100.8 821.1h1M97.7 850.9h1M99.1 851.8h1M98.8 865.3h1M99.5 832.9h1M104.0 874.4h1M104.8 873.3h1M97.6 874.2h1M102.3 832.3h1M104.5 834.7h1M99.3 831.3h1M102.0 841.0h1M100.4 830.8h1M101.8 830.4h1M102.8 843.4h1M99.9 841.4h1M103.8 840.9h1M98.7 868.4h1M96.9 822.0h1M101.7 887.0h1" stroke="#d9604f" stroke-width="1" stroke-opacity="0.75" fill="none"/>
<path d="M118.7 827.9h1M116.7 835.0h1M120.7 810.1h1M124.2 818.2h1M117.3 819.8h1M124.9 827.4h1M123.9 811.3h1M122.1 808.4h1M118.7 821.2h1M121.4 820.2h1M115.8 835.6h1M120.2 807.1h1M124.1 836.7h1M117.1 832.3h1M117.9 825.8h1M118.9 826.6h1M124.3 813.0h1M122.9 820.2h1M117.0 808.0h1M124.1 824.2h1M122.1 820.4h1M124.9 827.7h1M120.3 837.1h1M119.4 827.2h1M124.6 825.2h1M124.6 817.2h1M117.4 870.0h1" stroke="#3a93d8" stroke-width="1" stroke-opacity="0.75" fill="none"/>
<line x1="101.8" y1="819.8" x2="101.8" y2="826.3" stroke="#cc5a4a" stroke-width="0.8" />
<line x1="101.8" y1="850.4" x2="101.8" y2="875" stroke="#cc5a4a" stroke-width="0.8" />
<rect x="97.7" y="826.3" width="8.2" height="24.1" rx="0" fill="none" stroke="#cc5a4a" stroke-width="0.8" />
<line x1="97.7" y1="834.1" x2="105.9" y2="834.1" stroke="#cc5a4a" stroke-width="0.8" />
<line x1="120.8" y1="806.9" x2="120.8" y2="818.1" stroke="#3289cf" stroke-width="0.8" />
<line x1="120.8" y1="829.4" x2="120.8" y2="840.2" stroke="#3289cf" stroke-width="0.8" />
<rect x="116.5" y="818.1" width="8.6" height="11.3" rx="0" fill="none" stroke="#3289cf" stroke-width="0.8" />
<line x1="116.5" y1="825.9" x2="125.1" y2="825.9" stroke="#3289cf" stroke-width="0.8" />
<text x="100.6" y="901.3" font-size="7.3" text-anchor="middle" fill="#000" stroke="#000" stroke-width="0.06" >CP</text>
<text x="120.4" y="901.3" font-size="7.3" text-anchor="middle" fill="#000" stroke="#000" stroke-width="0.06" >HC</text>
<path d="M158.5 798.7 L158.5 891.7 L200.4 891.7" fill="none" stroke="#222" stroke-width="0.8" />
<text x="156.5" y="817.3" font-size="7.3" text-anchor="end" fill="#000" stroke="#000" stroke-width="0.06" >50</text>
<text x="156.5" y="834.6" font-size="7.3" text-anchor="end" fill="#000" stroke="#000" stroke-width="0.06" >40</text>
<text x="156.5" y="852" font-size="7.3" text-anchor="end" fill="#000" stroke="#000" stroke-width="0.06" >30</text>
<text x="156.5" y="869.2" font-size="7.3" text-anchor="end" fill="#000" stroke="#000" stroke-width="0.06" >20</text>
<text x="156.5" y="886.5" font-size="7.3" text-anchor="end" fill="#000" stroke="#000" stroke-width="0.06" >10</text>
<text x="144.1" y="840.4" font-size="7.3" text-anchor="middle" transform="rotate(-90 144.1 840.4)" fill="#000" stroke="#000" stroke-width="0.06" >BCAR1 (ng/ml)</text>
<text x="159.5" y="797.1" font-size="7.3" fill="#000" stroke="#000" stroke-width="0.06"><tspan font-style="italic">P</tspan> = 6.7e−07</text>
<path d="M170.2 804.4 L170.2 802.4 L189.8 802.4 L189.8 804.4" fill="none" stroke="#333" stroke-width="0.7" />
<path d="M172.3 880.6h1M170.1 882.8h1M171.4 884.4h1M165.7 882.7h1M167.0 884.6h1M166.4 883.2h1M168.9 870.7h1M174.1 884.0h1M166.5 872.3h1M171.3 856.9h1M173.0 863.3h1M166.6 886.2h1M168.9 881.4h1M166.9 875.9h1M166.1 884.9h1M167.5 884.3h1M168.4 869.5h1M165.7 872.6h1M173.0 858.7h1M169.5 870.5h1M167.3 873.9h1M173.8 877.7h1M168.2 877.7h1M165.5 884.5h1M165.6 857.0h1M171.7 880.0h1M171.7 876.8h1M171.7 878.5h1M170.5 882.2h1M168.5 867.7h1M168.4 868.6h1M165.5 868.5h1M169.4 883.4h1M170.1 879.6h1M171.5 807.0h1M167.0 820.5h1M172.5 839.0h1M172.0 852.5h1" stroke="#d9604f" stroke-width="1" stroke-opacity="0.75" fill="none"/>
<path d="M187.0 880.3h1M193.4 881.8h1M186.3 885.4h1M190.6 881.2h1M188.7 881.6h1M193.6 885.4h1M186.2 887.0h1M184.7 882.7h1M186.5 883.9h1M187.2 880.6h1M192.8 885.9h1M186.0 881.0h1M186.5 881.3h1M189.0 884.2h1M187.5 886.5h1M188.9 881.2h1M189.0 881.0h1M191.8 883.2h1M189.0 880.1h1M186.0 880.8h1M189.6 881.0h1M184.8 886.4h1M185.4 884.4h1M191.7 886.6h1M192.7 881.5h1M189.4 880.7h1M191.1 858.5h1M188.4 871.5h1M191.2 876.0h1" stroke="#3a93d8" stroke-width="1" stroke-opacity="0.75" fill="none"/>
<line x1="170.25" y1="853.5" x2="170.25" y2="870.3" stroke="#cc5a4a" stroke-width="0.8" />
<line x1="170.25" y1="881.9" x2="170.25" y2="886.6" stroke="#cc5a4a" stroke-width="0.8" />
<rect x="166.1" y="870.3" width="8.3" height="11.6" rx="0" fill="none" stroke="#cc5a4a" stroke-width="0.8" />
<line x1="166.1" y1="875.8" x2="174.4" y2="875.8" stroke="#cc5a4a" stroke-width="0.8" />
<line x1="189.7" y1="880" x2="189.7" y2="881.5" stroke="#3289cf" stroke-width="0.8" />
<line x1="189.7" y1="885.6" x2="189.7" y2="887" stroke="#3289cf" stroke-width="0.8" />
<rect x="185.5" y="881.5" width="8.4" height="4.1" rx="0" fill="none" stroke="#3289cf" stroke-width="0.8" />
<line x1="185.5" y1="883.5" x2="193.9" y2="883.5" stroke="#3289cf" stroke-width="0.8" />
<text x="169.05" y="901.3" font-size="7.3" text-anchor="middle" fill="#000" stroke="#000" stroke-width="0.06" >CP</text>
<text x="189.3" y="901.3" font-size="7.3" text-anchor="middle" fill="#000" stroke="#000" stroke-width="0.06" >HC</text>
<path d="M227.6 798.7 L227.6 890.7 L268.9 890.7" fill="none" stroke="#222" stroke-width="0.8" />
<text x="225.6" y="808.1" font-size="7.3" text-anchor="end" fill="#000" stroke="#000" stroke-width="0.06" >40</text>
<text x="225.6" y="829.9" font-size="7.3" text-anchor="end" fill="#000" stroke="#000" stroke-width="0.06" >30</text>
<text x="225.6" y="852.4" font-size="7.3" text-anchor="end" fill="#000" stroke="#000" stroke-width="0.06" >20</text>
<text x="225.6" y="873.9" font-size="7.3" text-anchor="end" fill="#000" stroke="#000" stroke-width="0.06" >10</text>
<text x="214.2" y="840.4" font-size="7.3" text-anchor="middle" transform="rotate(-90 214.2 840.4)" fill="#000" stroke="#000" stroke-width="0.06" >MANBA (ng/ml)</text>
<text x="228" y="797.1" font-size="7.3" fill="#000" stroke="#000" stroke-width="0.06"><tspan font-style="italic">P</tspan> = 3.5e−12</text>
<path d="M238.6 804.4 L238.6 802.4 L258.6 802.4 L258.6 804.4" fill="none" stroke="#333" stroke-width="0.7" />
<path d="M240.1 858.2h1M241.8 848.4h1M242.0 852.7h1M241.0 865.5h1M234.3 836.7h1M241.1 847.9h1M235.6 839.8h1M238.9 882.4h1M241.6 854.2h1M236.3 848.4h1M235.1 853.4h1M234.5 856.8h1M236.0 880.6h1M240.2 843.4h1M238.2 878.7h1M240.2 831.8h1M240.1 843.8h1M240.3 858.4h1M239.2 839.4h1M239.2 848.8h1M238.7 869.1h1M236.7 862.2h1M242.2 868.3h1M237.0 840.7h1M235.7 846.2h1M242.3 856.5h1M239.0 830.0h1M241.0 840.2h1M241.2 842.1h1M235.0 843.6h1M235.3 877.0h1M234.8 856.8h1M239.1 835.3h1M236.2 847.1h1" stroke="#d9604f" stroke-width="1" stroke-opacity="0.75" fill="none"/>
<path d="M257.3 808.2h1M261.1 823.4h1M258.9 814.0h1M261.0 829.3h1M260.7 812.6h1M254.5 837.1h1M255.1 818.4h1M256.6 818.2h1M260.8 825.0h1M259.6 807.1h1M258.9 829.6h1M262.0 811.6h1M254.8 830.9h1M253.3 821.2h1M258.2 835.5h1M260.2 823.2h1M259.8 809.6h1M259.3 818.7h1M259.4 845.4h1M258.2 848.1h1M256.9 826.4h1M253.6 810.5h1M259.7 820.1h1M255.9 812.7h1M257.5 811.7h1M257.0 832.4h1" stroke="#3a93d8" stroke-width="1" stroke-opacity="0.75" fill="none"/>
<line x1="238.7" y1="826.9" x2="238.7" y2="839" stroke="#cc5a4a" stroke-width="0.8" />
<line x1="238.7" y1="858.6" x2="238.7" y2="885.6" stroke="#cc5a4a" stroke-width="0.8" />
<rect x="234.5" y="839" width="8.4" height="19.6" rx="0" fill="none" stroke="#cc5a4a" stroke-width="0.8" />
<line x1="234.5" y1="847.2" x2="242.9" y2="847.2" stroke="#cc5a4a" stroke-width="0.8" />
<line x1="258" y1="806.5" x2="258" y2="818.1" stroke="#3289cf" stroke-width="0.8" />
<line x1="258" y1="832.4" x2="258" y2="849.4" stroke="#3289cf" stroke-width="0.8" />
<rect x="253.9" y="818.1" width="8.2" height="14.3" rx="0" fill="none" stroke="#3289cf" stroke-width="0.8" />
<line x1="253.9" y1="826.9" x2="262.1" y2="826.9" stroke="#3289cf" stroke-width="0.8" />
<text x="237.5" y="901.3" font-size="7.3" text-anchor="middle" fill="#000" stroke="#000" stroke-width="0.06" >CP</text>
<text x="257.6" y="901.3" font-size="7.3" text-anchor="middle" fill="#000" stroke="#000" stroke-width="0.06" >HC</text>
<path d="M301.1 798.7 L301.1 890.7 L340.5 890.7" fill="none" stroke="#222" stroke-width="0.8" />
<text x="299.2" y="801.9" font-size="7.3" text-anchor="end" fill="#000" stroke="#000" stroke-width="0.06" >1250</text>
<text x="299.2" y="821.1" font-size="7.3" text-anchor="end" fill="#000" stroke="#000" stroke-width="0.06" >1000</text>
<text x="299.2" y="840.2" font-size="7.3" text-anchor="end" fill="#000" stroke="#000" stroke-width="0.06" >750</text>
<text x="299.2" y="859.2" font-size="7.3" text-anchor="end" fill="#000" stroke="#000" stroke-width="0.06" >500</text>
<text x="299.2" y="878.2" font-size="7.3" text-anchor="end" fill="#000" stroke="#000" stroke-width="0.06" >250</text>
<text x="279.8" y="840.4" font-size="7.3" text-anchor="middle" transform="rotate(-90 279.8 840.4)" fill="#000" stroke="#000" stroke-width="0.06" >SPARC (ng/ml)</text>
<text x="301.7" y="797.1" font-size="7.3" fill="#000" stroke="#000" stroke-width="0.06"><tspan font-style="italic">P</tspan> = 0.048</text>
<path d="M311.9 804.4 L311.9 802.4 L329.9 802.4 L329.9 804.4" fill="none" stroke="#222" stroke-width="0.7" />
<path d="M311.2 835.8h1M313.9 841.5h1M313.2 846.6h1M307.7 851.8h1M308.1 852.0h1M315.8 841.1h1M312.9 859.7h1M309.9 864.3h1M307.5 832.2h1M312.5 849.2h1M316.1 854.7h1M315.1 839.8h1M308.7 824.2h1M307.6 816.7h1M309.2 837.3h1M310.7 854.1h1M307.6 833.1h1M307.8 841.3h1M307.2 814.3h1M308.7 834.5h1M310.3 863.0h1M312.8 823.9h1M310.2 867.3h1M308.8 856.6h1M310.3 840.3h1M310.2 846.9h1M315.6 848.0h1M310.6 862.0h1M315.1 869.2h1M311.0 837.9h1M315.7 842.5h1M310.0 843.6h1M308.7 819.3h1M314.7 850.0h1" stroke="#d9604f" stroke-width="1" stroke-opacity="0.75" fill="none"/>
<path d="M326.1 841.2h1M333.8 833.3h1M330.6 833.3h1M326.7 885.3h1M325.3 839.0h1M329.8 886.2h1M331.2 879.8h1M328.0 864.3h1M332.4 836.7h1M332.5 883.8h1M327.7 846.2h1M328.0 865.6h1M325.2 833.5h1M327.2 840.2h1M332.8 830.9h1M328.5 855.0h1M333.1 867.8h1M330.3 850.8h1M331.8 833.1h1M329.8 851.4h1M331.7 831.3h1M325.6 836.5h1M331.4 869.1h1M327.2 853.6h1M331.4 834.0h1M325.2 833.9h1" stroke="#3a93d8" stroke-width="1" stroke-opacity="0.75" fill="none"/>
<line x1="312.1" y1="805.9" x2="312.1" y2="830.4" stroke="#cc5a4a" stroke-width="0.8" />
<line x1="312.1" y1="856.4" x2="312.1" y2="871.7" stroke="#cc5a4a" stroke-width="0.8" />
<rect x="308.2" y="830.4" width="7.8" height="26" rx="0" fill="none" stroke="#cc5a4a" stroke-width="0.8" />
<line x1="308.2" y1="842.3" x2="316" y2="842.3" stroke="#cc5a4a" stroke-width="0.8" />
<line x1="330.2" y1="830.8" x2="330.2" y2="835.1" stroke="#3289cf" stroke-width="0.8" />
<line x1="330.2" y1="865.6" x2="330.2" y2="887" stroke="#3289cf" stroke-width="0.8" />
<rect x="326.6" y="835.1" width="7.2" height="30.5" rx="0" fill="none" stroke="#3289cf" stroke-width="0.8" />
<line x1="326.6" y1="848.2" x2="333.8" y2="848.2" stroke="#3289cf" stroke-width="0.8" />
<text x="310.9" y="901.3" font-size="7.3" text-anchor="middle" fill="#000" stroke="#000" stroke-width="0.06" >CP</text>
<text x="329.8" y="901.3" font-size="7.3" text-anchor="middle" fill="#000" stroke="#000" stroke-width="0.06" >HC</text>
<path d="M367.1 798.7 L367.1 891.7 L410 891.7" fill="none" stroke="#222" stroke-width="0.8" />
<text x="361.6" y="811.5" font-size="7.3" text-anchor="end" fill="#000" stroke="#000" stroke-width="0.06" >5</text>
<text x="361.6" y="831" font-size="7.3" text-anchor="end" fill="#000" stroke="#000" stroke-width="0.06" >4</text>
<text x="361.6" y="850.4" font-size="7.3" text-anchor="end" fill="#000" stroke="#000" stroke-width="0.06" >3</text>
<text x="361.6" y="869.4" font-size="7.3" text-anchor="end" fill="#000" stroke="#000" stroke-width="0.06" >2</text>
<text x="361.6" y="888.2" font-size="7.3" text-anchor="end" fill="#000" stroke="#000" stroke-width="0.06" >1</text>
<text x="355" y="840.4" font-size="7.3" text-anchor="middle" transform="rotate(-90 355 840.4)" fill="#000" stroke="#000" stroke-width="0.06" >ARHCEF10 (ng/ml)</text>
<text x="368.1" y="797.1" font-size="7.3" fill="#000" stroke="#000" stroke-width="0.06"><tspan font-style="italic">P</tspan> = 0.00049</text>
<path d="M379.3 804.4 L379.3 802.4 L399.4 802.4 L399.4 804.4" fill="none" stroke="#444" stroke-width="0.7" />
<path d="M378.5 847.5h1M376.2 881.6h1M375.1 816.6h1M374.4 838.1h1M380.9 882.8h1M382.4 869.9h1M382.7 863.8h1M381.0 882.0h1M380.4 882.2h1M381.8 812.9h1M378.6 881.8h1M379.1 807.1h1M378.9 882.9h1M383.1 885.1h1M377.3 881.5h1M381.7 845.1h1M378.9 820.7h1M375.7 824.4h1M374.5 814.8h1M381.7 881.9h1M379.9 883.3h1M382.4 846.5h1M378.5 829.9h1M383.1 871.4h1M375.7 864.8h1M374.9 884.4h1M378.3 827.2h1M380.6 834.9h1M380.2 880.1h1M381.3 883.8h1M378.6 883.5h1M381.0 866.0h1M380.8 839.9h1M375.7 826.3h1" stroke="#d9604f" stroke-width="1" stroke-opacity="0.75" fill="none"/>
<path d="M401.5 886.2h1M399.1 878.3h1M395.8 883.3h1M396.3 882.0h1M396.0 873.2h1M402.2 881.4h1M397.2 883.9h1M402.3 876.6h1M402.6 887.1h1M400.1 884.6h1M394.8 883.5h1M402.5 883.8h1M397.6 878.1h1M395.3 885.9h1M401.7 884.8h1M399.2 875.1h1M403.2 883.4h1M399.7 872.0h1M402.7 869.7h1M399.4 883.5h1M396.7 886.9h1M399.4 880.5h1M396.7 878.9h1M399.0 879.7h1M398.2 882.4h1M398.8 886.3h1" stroke="#3a93d8" stroke-width="1" stroke-opacity="0.75" fill="none"/>
<line x1="379.35" y1="806.9" x2="379.35" y2="836.9" stroke="#cc5a4a" stroke-width="0.8" />
<line x1="379.35" y1="881.5" x2="379.35" y2="885.6" stroke="#cc5a4a" stroke-width="0.8" />
<rect x="375.3" y="836.9" width="8.1" height="44.6" rx="0" fill="none" stroke="#cc5a4a" stroke-width="0.8" />
<line x1="375.3" y1="866.2" x2="383.4" y2="866.2" stroke="#cc5a4a" stroke-width="0.8" />
<line x1="399.2" y1="867.2" x2="399.2" y2="876.4" stroke="#3289cf" stroke-width="0.8" />
<line x1="399.2" y1="883.5" x2="399.2" y2="887.2" stroke="#3289cf" stroke-width="0.8" />
<rect x="395.1" y="876.4" width="8.2" height="7.1" rx="0" fill="none" stroke="#3289cf" stroke-width="0.8" />
<line x1="395.1" y1="881.9" x2="403.3" y2="881.9" stroke="#3289cf" stroke-width="0.8" />
<text x="378.15" y="901.3" font-size="7.3" text-anchor="middle" fill="#000" stroke="#000" stroke-width="0.06" >CP</text>
<text x="398.8" y="901.3" font-size="7.3" text-anchor="middle" fill="#000" stroke="#000" stroke-width="0.06" >HC</text>
<path d="M435.7 798.7 L435.7 890.7 L476.1 890.7" fill="none" stroke="#222" stroke-width="0.8" />
<text x="434" y="813" font-size="7.3" text-anchor="end" fill="#000" stroke="#000" stroke-width="0.06" >0.6</text>
<text x="434" y="828.9" font-size="7.3" text-anchor="end" fill="#000" stroke="#000" stroke-width="0.06" >0.5</text>
<text x="434" y="844.9" font-size="7.3" text-anchor="end" fill="#000" stroke="#000" stroke-width="0.06" >0.4</text>
<text x="434" y="860.8" font-size="7.3" text-anchor="end" fill="#000" stroke="#000" stroke-width="0.06" >0.3</text>
<text x="434" y="876.5" font-size="7.3" text-anchor="end" fill="#000" stroke="#000" stroke-width="0.06" >0.2</text>
<text x="434" y="892.3" font-size="7.3" text-anchor="end" fill="#000" stroke="#000" stroke-width="0.06" >0.1</text>
<text x="419.2" y="840.4" font-size="7.3" text-anchor="middle" transform="rotate(-90 419.2 840.4)" fill="#000" stroke="#000" stroke-width="0.06" >MME (ng/ml)</text>
<text x="436.1" y="797.1" font-size="7.3" fill="#000" stroke="#000" stroke-width="0.06"><tspan font-style="italic">P</tspan> = 0.0012</text>
<path d="M446.5 804.4 L446.5 802.4 L465.7 802.4 L465.7 804.4" fill="none" stroke="#222" stroke-width="0.7" />
<path d="M447.8 874.0h1M448.8 886.4h1M445.6 883.6h1M442.1 884.2h1M449.3 883.7h1M446.9 876.8h1M445.1 871.4h1M442.3 871.9h1M445.5 884.4h1M443.0 875.8h1M447.2 875.9h1M448.5 883.9h1M444.5 865.3h1M444.2 876.6h1M441.9 867.5h1M445.6 878.9h1M445.7 869.0h1M447.3 871.6h1M444.0 881.9h1M442.0 876.1h1M444.9 875.6h1M449.9 875.3h1M450.6 869.9h1M447.8 872.0h1M450.6 883.8h1M447.5 867.5h1M450.1 875.3h1M444.2 875.2h1M444.4 871.3h1M443.6 865.3h1M449.5 876.8h1M443.8 883.1h1M448.7 885.5h1M445.1 869.6h1" stroke="#d9604f" stroke-width="1" stroke-opacity="0.75" fill="none"/>
<path d="M467.1 846.9h1M467.4 877.6h1M462.4 859.3h1M464.2 865.8h1M468.6 876.6h1M465.0 863.3h1M460.9 868.3h1M462.1 841.3h1M467.4 867.2h1M464.4 858.2h1M468.1 871.1h1M469.5 880.4h1M461.8 868.3h1M466.5 852.5h1M464.6 877.9h1M462.4 879.7h1M461.2 872.2h1M466.6 880.1h1M462.1 868.0h1M461.1 877.4h1M468.6 862.1h1M464.1 859.8h1M469.5 867.8h1M461.9 874.0h1M468.3 874.3h1M469.8 842.1h1M464.3 806.0h1M466.4 811.5h1M462.4 817.5h1M462.4 848.0h1M464.7 851.0h1" stroke="#3a93d8" stroke-width="1" stroke-opacity="0.75" fill="none"/>
<line x1="446.5" y1="865.1" x2="446.5" y2="872.3" stroke="#cc5a4a" stroke-width="0.8" />
<line x1="446.5" y1="879.4" x2="446.5" y2="886.6" stroke="#cc5a4a" stroke-width="0.8" />
<rect x="442.4" y="872.3" width="8.2" height="7.1" rx="0" fill="none" stroke="#cc5a4a" stroke-width="0.8" />
<line x1="442.4" y1="876" x2="450.6" y2="876" stroke="#cc5a4a" stroke-width="0.8" />
<line x1="465.7" y1="840.6" x2="465.7" y2="857.6" stroke="#3289cf" stroke-width="0.8" />
<line x1="465.7" y1="876.4" x2="465.7" y2="880.5" stroke="#3289cf" stroke-width="0.8" />
<rect x="461.6" y="857.6" width="8.2" height="18.8" rx="0" fill="none" stroke="#3289cf" stroke-width="0.8" />
<line x1="461.6" y1="870.3" x2="469.8" y2="870.3" stroke="#3289cf" stroke-width="0.8" />
<text x="445.3" y="901.3" font-size="7.3" text-anchor="middle" fill="#000" stroke="#000" stroke-width="0.06" >CP</text>
<text x="465.3" y="901.3" font-size="7.3" text-anchor="middle" fill="#000" stroke="#000" stroke-width="0.06" >HC</text>
<path d="M508.2 798.7 L508.2 891.3 L548 891.3" fill="none" stroke="#222" stroke-width="0.8" />
<text x="506.6" y="799.3" font-size="7.3" text-anchor="end" fill="#000" stroke="#000" stroke-width="0.06" >0.145</text>
<text x="506.6" y="831" font-size="7.3" text-anchor="end" fill="#000" stroke="#000" stroke-width="0.06" >0.140</text>
<text x="506.6" y="859.6" font-size="7.3" text-anchor="end" fill="#000" stroke="#000" stroke-width="0.06" >0.135</text>
<text x="506.6" y="886.7" font-size="7.3" text-anchor="end" fill="#000" stroke="#000" stroke-width="0.06" >0.130</text>
<text x="485.3" y="840.4" font-size="7.3" text-anchor="middle" transform="rotate(-90 485.3 840.4)" fill="#000" stroke="#000" stroke-width="0.06" >LOPN1 (ng/ml)</text>
<text x="508.8" y="797.1" font-size="7.3" fill="#000" stroke="#000" stroke-width="0.06"><tspan font-style="italic">P</tspan> = 6.9e−07</text>
<path d="M518.4 804.4 L518.4 802.4 L536.4 802.4 L536.4 804.4" fill="none" stroke="#555" stroke-width="0.7" />
<path d="M517.3 885.8h1M517.8 876.7h1M514.3 871.7h1M522.5 879.0h1M517.9 885.3h1M517.4 875.7h1M517.5 887.0h1M522.2 878.5h1M521.1 887.1h1M520.1 884.2h1M515.9 881.5h1M521.8 886.0h1M513.9 875.8h1M515.1 884.8h1M518.1 874.6h1M518.6 873.3h1M517.8 884.2h1M520.7 880.8h1M520.8 859.7h1M518.1 878.1h1M520.4 876.4h1M516.2 877.2h1M517.3 870.8h1M516.8 872.3h1M519.0 884.4h1M522.0 882.9h1M522.2 867.1h1M518.7 874.8h1M515.9 870.1h1M521.0 879.0h1M518.3 870.9h1M519.0 868.7h1M519.9 867.8h1M520.3 859.2h1M517.9 806.5h1M518.6 829.5h1M518.6 849.0h1M520.3 853.0h1" stroke="#d9604f" stroke-width="1" stroke-opacity="0.75" fill="none"/>
<path d="M532.3 885.4h1M531.3 887.3h1M533.9 881.3h1M533.0 885.7h1M539.6 886.5h1M533.1 880.6h1M533.1 880.5h1M539.6 882.0h1M534.3 880.9h1M537.1 884.2h1M538.9 881.4h1M531.8 882.5h1M532.0 881.1h1M531.2 881.4h1M537.8 881.3h1M531.7 883.2h1M539.2 884.1h1M539.6 884.5h1M534.0 880.7h1M535.5 886.0h1M536.1 882.3h1M538.5 882.7h1M531.0 881.4h1M535.6 886.7h1M539.2 886.8h1M538.9 886.1h1M534.2 850.0h1M535.8 872.0h1M535.6 873.5h1" stroke="#3a93d8" stroke-width="1" stroke-opacity="0.75" fill="none"/>
<line x1="518.8" y1="859" x2="518.8" y2="870.3" stroke="#cc5a4a" stroke-width="0.8" />
<line x1="518.8" y1="881.5" x2="518.8" y2="887.2" stroke="#cc5a4a" stroke-width="0.8" />
<rect x="514.7" y="870.3" width="8.2" height="11.2" rx="0" fill="none" stroke="#cc5a4a" stroke-width="0.8" />
<line x1="514.7" y1="876.4" x2="522.9" y2="876.4" stroke="#cc5a4a" stroke-width="0.8" />
<line x1="536" y1="880.5" x2="536" y2="881.5" stroke="#3289cf" stroke-width="0.8" />
<line x1="536" y1="886" x2="536" y2="887.5" stroke="#3289cf" stroke-width="0.8" />
<rect x="532.1" y="881.5" width="7.8" height="4.5" rx="0" fill="none" stroke="#3289cf" stroke-width="0.8" />
<line x1="532.1" y1="884" x2="539.9" y2="884" stroke="#3289cf" stroke-width="0.8" />
<text x="517.6" y="901.3" font-size="7.3" text-anchor="middle" fill="#000" stroke="#000" stroke-width="0.06" >CP</text>
<text x="535.6" y="901.3" font-size="7.3" text-anchor="middle" fill="#000" stroke="#000" stroke-width="0.06" >HC</text>
<path d="M572.2 798.7 L572.2 890.7 L613.5 890.7" fill="none" stroke="#222" stroke-width="0.8" />
<text x="569.1" y="797.8" font-size="7.3" text-anchor="end" fill="#000" stroke="#000" stroke-width="0.06" >16</text>
<text x="569.1" y="822.4" font-size="7.3" text-anchor="end" fill="#000" stroke="#000" stroke-width="0.06" >12</text>
<text x="569.1" y="846.7" font-size="7.3" text-anchor="end" fill="#000" stroke="#000" stroke-width="0.06" >8</text>
<text x="569.1" y="868.4" font-size="7.3" text-anchor="end" fill="#000" stroke="#000" stroke-width="0.06" >4</text>
<text x="569.1" y="891.2" font-size="7.3" text-anchor="end" fill="#000" stroke="#000" stroke-width="0.06" >0</text>
<text x="556.8" y="840.4" font-size="7.3" text-anchor="middle" transform="rotate(-90 556.8 840.4)" fill="#000" stroke="#000" stroke-width="0.06" >ANXA2 (ng/ml)</text>
<text x="572.6" y="797.1" font-size="7.3" fill="#000" stroke="#000" stroke-width="0.06"><tspan font-style="italic">P</tspan> = 0.00017</text>
<path d="M583.2 804.4 L583.2 802.4 L602.6 802.4 L602.6 804.4" fill="none" stroke="#333" stroke-width="0.7" />
<path d="M583.2 814.1h1M585.6 817.8h1M580.1 820.7h1M582.8 838.6h1M579.8 876.9h1M578.6 852.3h1M586.3 880.6h1M582.8 850.6h1M581.5 836.5h1M587.3 817.7h1M584.5 883.2h1M579.6 817.3h1M586.7 845.4h1M580.8 843.2h1M584.9 828.3h1M582.4 852.1h1M585.0 881.0h1M581.9 819.8h1M586.4 846.5h1M581.0 841.9h1M586.3 834.9h1M579.9 849.4h1M587.0 822.6h1M579.0 837.5h1M578.5 879.6h1M581.6 824.8h1M583.8 839.0h1M578.4 845.3h1M586.7 839.6h1M582.5 883.4h1M586.5 824.3h1M582.8 847.0h1M579.1 836.6h1M587.1 843.7h1" stroke="#d9604f" stroke-width="1" stroke-opacity="0.75" fill="none"/>
<path d="M604.8 834.3h1M602.0 813.0h1M605.7 817.0h1M605.0 834.4h1M600.4 838.0h1M601.3 841.4h1M599.0 824.6h1M599.3 825.1h1M602.4 816.9h1M601.8 823.8h1M599.0 826.8h1M598.4 816.8h1M599.5 825.4h1M597.7 839.0h1M605.9 830.6h1M599.2 834.8h1M603.0 831.5h1M602.4 822.3h1M606.5 834.4h1M598.5 815.0h1M601.0 826.9h1M601.8 819.3h1M599.6 819.9h1M604.6 822.2h1M606.5 816.2h1M602.1 829.7h1" stroke="#3a93d8" stroke-width="1" stroke-opacity="0.75" fill="none"/>
<line x1="583.4" y1="813" x2="583.4" y2="830" stroke="#cc5a4a" stroke-width="0.8" />
<line x1="583.4" y1="854.3" x2="583.4" y2="887" stroke="#cc5a4a" stroke-width="0.8" />
<rect x="579.3" y="830" width="8.2" height="24.3" rx="0" fill="none" stroke="#cc5a4a" stroke-width="0.8" />
<line x1="579.3" y1="845.1" x2="587.5" y2="845.1" stroke="#cc5a4a" stroke-width="0.8" />
<line x1="602.6" y1="806.5" x2="602.6" y2="820.2" stroke="#3289cf" stroke-width="0.8" />
<line x1="602.6" y1="836.1" x2="602.6" y2="842.3" stroke="#3289cf" stroke-width="0.8" />
<rect x="598.5" y="820.2" width="8.2" height="15.9" rx="0" fill="none" stroke="#3289cf" stroke-width="0.8" />
<line x1="598.5" y1="830.8" x2="606.7" y2="830.8" stroke="#3289cf" stroke-width="0.8" />
<text x="582.2" y="901.3" font-size="7.3" text-anchor="middle" fill="#000" stroke="#000" stroke-width="0.06" >CP</text>
<text x="602.2" y="901.3" font-size="7.3" text-anchor="middle" fill="#000" stroke="#000" stroke-width="0.06" >HC</text>
<path d="M645.1 798.7 L645.1 891.3 L685 891.3" fill="none" stroke="#222" stroke-width="0.8" />
<text x="643.7" y="825.2" font-size="7.3" text-anchor="end" fill="#000" stroke="#000" stroke-width="0.06" >0.75</text>
<text x="643.7" y="850.4" font-size="7.3" text-anchor="end" fill="#000" stroke="#000" stroke-width="0.06" >0.50</text>
<text x="643.7" y="874.9" font-size="7.3" text-anchor="end" fill="#000" stroke="#000" stroke-width="0.06" >0.25</text>
<text x="623.6" y="840.4" font-size="7.3" text-anchor="middle" transform="rotate(-90 623.6 840.4)" fill="#000" stroke="#000" stroke-width="0.06" >DHX9 (ng/ml)</text>
<text x="645.6" y="797.1" font-size="7.3" fill="#000" stroke="#000" stroke-width="0.06"><tspan font-style="italic">P</tspan> = 0.0019</text>
<path d="M656 804.4 L656 802.4 L674.4 802.4 L674.4 804.4" fill="none" stroke="#444" stroke-width="0.7" />
<path d="M656.2 869.4h1M658.7 883.9h1M656.5 878.4h1M657.6 847.7h1M658.7 873.8h1M654.1 868.7h1M658.0 859.7h1M651.7 873.0h1M657.8 868.3h1M655.8 846.1h1M655.0 837.9h1M655.9 858.7h1M652.3 852.1h1M654.3 884.8h1M657.1 876.8h1M653.5 887.0h1M658.4 847.4h1M651.6 870.7h1M655.5 880.9h1M653.8 882.0h1M655.8 838.8h1M657.8 882.3h1M655.7 845.9h1M656.5 881.4h1M654.1 861.4h1M655.3 883.6h1M656.5 880.7h1M654.0 887.2h1M655.4 874.6h1M659.1 861.5h1M658.5 855.7h1M654.9 867.5h1M654.5 864.1h1M657.2 866.2h1M655.5 806.5h1M652.6 812.0h1" stroke="#d9604f" stroke-width="1" stroke-opacity="0.75" fill="none"/>
<path d="M677.7 877.7h1M670.7 885.8h1M671.8 885.1h1M675.5 884.1h1M675.6 874.8h1M676.4 881.0h1M674.1 885.4h1M674.8 878.8h1M672.2 873.6h1M676.3 883.9h1M672.2 880.0h1M671.5 879.6h1M669.5 882.4h1M671.3 885.6h1M677.8 882.1h1M671.6 883.1h1M672.4 885.6h1M675.2 880.3h1M671.3 874.3h1M674.2 878.1h1M669.6 884.7h1M676.9 876.6h1M676.8 884.4h1M669.4 880.4h1M674.1 876.3h1M677.2 877.6h1M672.2 868.5h1" stroke="#3a93d8" stroke-width="1" stroke-opacity="0.75" fill="none"/>
<line x1="656.2" y1="836.9" x2="656.2" y2="858.4" stroke="#cc5a4a" stroke-width="0.8" />
<line x1="656.2" y1="880.5" x2="656.2" y2="887.2" stroke="#cc5a4a" stroke-width="0.8" />
<rect x="652.3" y="858.4" width="7.8" height="22.1" rx="0" fill="none" stroke="#cc5a4a" stroke-width="0.8" />
<line x1="652.3" y1="871.3" x2="660.1" y2="871.3" stroke="#cc5a4a" stroke-width="0.8" />
<line x1="674.05" y1="873.3" x2="674.05" y2="878" stroke="#3289cf" stroke-width="0.8" />
<line x1="674.05" y1="884.6" x2="674.05" y2="886" stroke="#3289cf" stroke-width="0.8" />
<rect x="670.3" y="878" width="7.5" height="6.6" rx="0" fill="none" stroke="#3289cf" stroke-width="0.8" />
<line x1="670.3" y1="881.5" x2="677.8" y2="881.5" stroke="#3289cf" stroke-width="0.8" />
<text x="655" y="901.3" font-size="7.3" text-anchor="middle" fill="#000" stroke="#000" stroke-width="0.06" >CP</text>
<text x="673.65" y="901.3" font-size="7.3" text-anchor="middle" fill="#000" stroke="#000" stroke-width="0.06" >HC</text>
</svg>
</body></html>
